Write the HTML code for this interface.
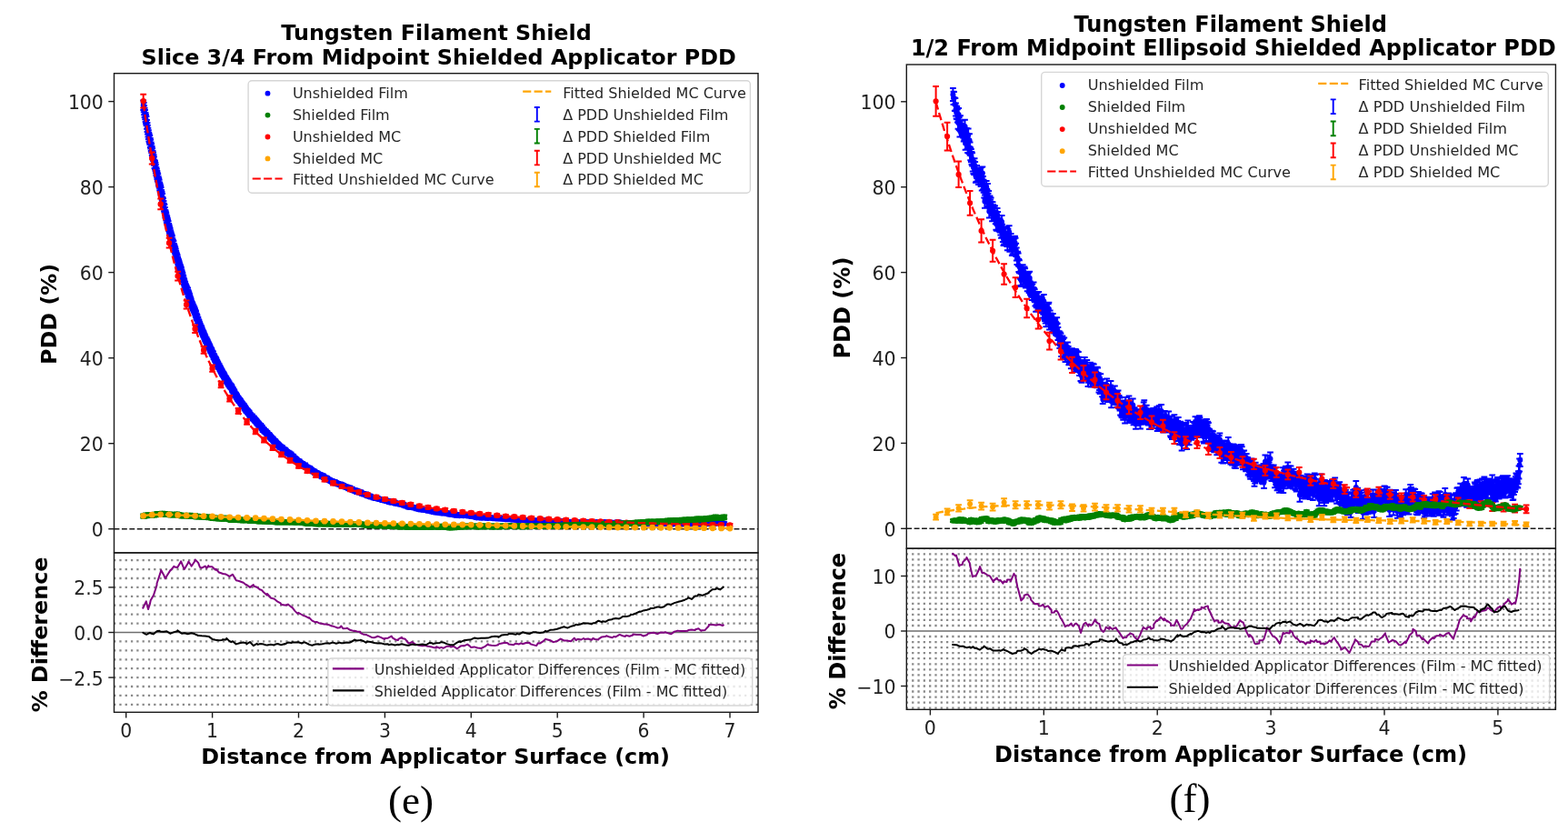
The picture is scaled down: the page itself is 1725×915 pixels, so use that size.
<!DOCTYPE html>
<html><head><meta charset="utf-8"><title>Tungsten Filament Shield PDD</title>
<style>html,body{margin:0;padding:0;background:#fff;}body{width:1725px;height:915px;overflow:hidden;}svg{display:block;}</style>
</head><body>
<svg width="1725" height="915" viewBox="0 0 1725 915">
<rect width="1725" height="915" fill="#fff"/>
<defs>
<clipPath id="cLm"><rect x="125.5" y="80.7" width="708.5" height="527.2"/></clipPath>
<clipPath id="cLl"><rect x="125.5" y="607.9" width="708.5" height="175.4"/></clipPath>
<clipPath id="cRm"><rect x="997.3" y="71.0" width="714.1" height="532.2"/></clipPath>
<clipPath id="cRl"><rect x="997.3" y="603.2" width="714.1" height="177.1"/></clipPath>
</defs>
<g clip-path="url(#cLl)">
<line x1="125.5" y1="784.8" x2="834.0" y2="784.8" stroke="#8a8a8a" stroke-width="2.3" stroke-dasharray="2.3 4.009" stroke-dashoffset="0.5"/>
<line x1="125.5" y1="774.9" x2="834.0" y2="774.9" stroke="#8a8a8a" stroke-width="2.3" stroke-dasharray="2.3 4.009" stroke-dashoffset="0.5"/>
<line x1="125.5" y1="764.9" x2="834.0" y2="764.9" stroke="#8a8a8a" stroke-width="2.3" stroke-dasharray="2.3 4.009" stroke-dashoffset="0.5"/>
<line x1="125.5" y1="755.0" x2="834.0" y2="755.0" stroke="#8a8a8a" stroke-width="2.3" stroke-dasharray="2.3 4.009" stroke-dashoffset="0.5"/>
<line x1="125.5" y1="745.1" x2="834.0" y2="745.1" stroke="#8a8a8a" stroke-width="2.3" stroke-dasharray="2.3 4.009" stroke-dashoffset="0.5"/>
<line x1="125.5" y1="735.2" x2="834.0" y2="735.2" stroke="#8a8a8a" stroke-width="2.3" stroke-dasharray="2.3 4.009" stroke-dashoffset="0.5"/>
<line x1="125.5" y1="725.3" x2="834.0" y2="725.3" stroke="#8a8a8a" stroke-width="2.3" stroke-dasharray="2.3 4.009" stroke-dashoffset="0.5"/>
<line x1="125.5" y1="715.3" x2="834.0" y2="715.3" stroke="#8a8a8a" stroke-width="2.3" stroke-dasharray="2.3 4.009" stroke-dashoffset="0.5"/>
<line x1="125.5" y1="705.4" x2="834.0" y2="705.4" stroke="#8a8a8a" stroke-width="2.3" stroke-dasharray="2.3 4.009" stroke-dashoffset="0.5"/>
<line x1="125.5" y1="685.6" x2="834.0" y2="685.6" stroke="#8a8a8a" stroke-width="2.3" stroke-dasharray="2.3 4.009" stroke-dashoffset="0.5"/>
<line x1="125.5" y1="675.7" x2="834.0" y2="675.7" stroke="#8a8a8a" stroke-width="2.3" stroke-dasharray="2.3 4.009" stroke-dashoffset="0.5"/>
<line x1="125.5" y1="665.7" x2="834.0" y2="665.7" stroke="#8a8a8a" stroke-width="2.3" stroke-dasharray="2.3 4.009" stroke-dashoffset="0.5"/>
<line x1="125.5" y1="655.8" x2="834.0" y2="655.8" stroke="#8a8a8a" stroke-width="2.3" stroke-dasharray="2.3 4.009" stroke-dashoffset="0.5"/>
<line x1="125.5" y1="645.9" x2="834.0" y2="645.9" stroke="#8a8a8a" stroke-width="2.3" stroke-dasharray="2.3 4.009" stroke-dashoffset="0.5"/>
<line x1="125.5" y1="636.0" x2="834.0" y2="636.0" stroke="#8a8a8a" stroke-width="2.3" stroke-dasharray="2.3 4.009" stroke-dashoffset="0.5"/>
<line x1="125.5" y1="626.1" x2="834.0" y2="626.1" stroke="#8a8a8a" stroke-width="2.3" stroke-dasharray="2.3 4.009" stroke-dashoffset="0.5"/>
<line x1="125.5" y1="616.1" x2="834.0" y2="616.1" stroke="#8a8a8a" stroke-width="2.3" stroke-dasharray="2.3 4.009" stroke-dashoffset="0.5"/>
<line x1="125.5" y1="606.2" x2="834.0" y2="606.2" stroke="#8a8a8a" stroke-width="2.3" stroke-dasharray="2.3 4.009" stroke-dashoffset="0.5"/>
<line x1="125.5" y1="695.5" x2="834.0" y2="695.5" stroke="#6e6e6e" stroke-width="1.6" />
<path d="M157.3 667.5 L157.3 668.7 L160.9 661.3 L161.1 662.6 L163.0 670.1 L164.9 664.2 L165.7 660.3 L168.7 654.9 L168.8 655.1 L172.5 643.6 L172.6 641.5 L176.3 630.4 L177.2 626.9 L180.1 632.2 L181.8 636.3 L183.9 632.8 L187.6 626.9 L187.7 627.3 L191.5 622.7 L191.8 623.4 L195.3 623.9 L196.0 622.7 L199.1 617.5 L199.1 617.3 L202.6 625.9 L202.9 625.9 L206.7 619.6 L207.4 617.5 L210.5 622.2 L210.6 622.7 L214.3 617.2 L214.7 615.4 L218.1 618.9 L220.0 623.8 L221.9 624.6 L225.7 622.6 L227.3 624.8 L229.3 622.1 L229.5 623.3 L233.3 623.3 L237.1 626.8 L237.7 625.9 L240.9 629.5 L244.7 630.7 L245.0 631.1 L248.5 631.6 L251.3 633.2 L252.2 634.2 L255.4 632.1 L256.0 631.7 L259.8 638.2 L260.7 638.4 L263.6 639.3 L266.9 640.5 L267.4 640.5 L271.1 643.6 L271.2 643.0 L275.0 645.9 L278.8 643.0 L279.4 644.7 L282.6 645.7 L286.4 648.6 L287.8 648.8 L290.2 651.5 L294.0 654.7 L294.0 653.0 L297.8 657.5 L300.3 658.2 L301.6 658.5 L305.4 661.7 L308.7 663.4 L309.2 664.7 L313.0 665.4 L314.9 665.5 L316.8 664.6 L320.6 667.7 L321.2 667.6 L324.4 671.9 L327.4 674.9 L328.2 673.8 L332.0 676.0 L333.7 677.0 L335.8 677.6 L339.6 679.6 L340.0 679.1 L343.4 682.6 L347.1 684.4 L348.3 683.9 L350.9 685.2 L354.7 686.0 L356.7 686.4 L358.5 686.5 L362.3 687.3 L365.0 688.5 L366.1 688.6 L369.9 689.9 L371.3 690.6 L373.7 690.3 L375.4 688.5 L377.5 691.3 L381.3 691.0 L381.7 690.6 L385.1 692.8 L388.9 693.9 L390.0 693.7 L392.7 694.4 L396.3 694.7 L396.5 696.1 L400.3 697.8 L402.6 697.9 L404.1 698.7 L407.9 700.4 L408.8 701.0 L411.7 701.2 L415.1 700.0 L415.5 699.6 L419.3 701.2 L423.1 703.0 L423.4 702.0 L426.9 701.7 L430.7 699.6 L431.8 701.4 L434.5 703.2 L438.0 704.1 L438.3 702.9 L442.0 700.8 L442.2 702.0 L445.8 702.8 L449.6 707.5 L450.6 707.3 L453.4 706.0 L457.2 708.8 L458.9 709.3 L461.0 709.8 L464.8 710.2 L468.6 709.7 L469.3 710.4 L472.4 710.9 L475.0 711.4 L476.2 711.9 L479.8 712.5 L480.0 711.2 L483.8 712.7 L485.4 711.9 L487.6 712.8 L491.4 710.8 L495.2 710.8 L495.9 711.4 L499.0 710.7 L502.8 713.4 L504.2 712.5 L506.6 710.6 L510.4 709.9 L510.5 710.4 L514.2 708.6 L516.7 710.4 L518.0 711.9 L521.8 711.4 L525.1 712.5 L525.6 712.6 L529.4 713.0 L533.2 711.2 L536.9 708.4 L537.6 709.3 L540.7 709.8 L544.5 710.1 L548.0 709.3 L548.3 708.4 L552.1 707.5 L555.9 706.8 L558.5 707.3 L559.7 708.5 L563.5 709.0 L564.7 709.3 L567.3 707.7 L571.1 708.4 L573.1 707.3 L574.9 708.2 L578.7 707.0 L582.5 706.7 L583.5 708.3 L586.3 709.1 L590.1 710.1 L591.9 707.3 L593.9 707.6 L597.7 705.1 L600.2 702.7 L601.5 703.3 L605.3 704.2 L608.6 706.2 L609.1 706.1 L612.9 705.1 L616.7 702.6 L616.9 702.7 L620.5 704.5 L624.3 704.6 L625.3 704.8 L628.1 705.2 L631.8 701.6 L633.6 704.1 L635.6 702.8 L639.4 703.5 L642.0 702.0 L643.2 703.0 L647.0 702.5 L650.8 703.7 L652.4 702.0 L654.6 703.0 L658.4 703.4 L658.7 702.7 L662.2 700.4 L666.0 700.1 L667.0 699.3 L669.8 700.3 L673.6 701.2 L675.3 700.0 L677.4 700.4 L681.2 698.1 L681.6 697.9 L685.0 699.2 L687.9 700.0 L688.8 698.7 L692.6 699.8 L696.2 698.5 L696.4 697.4 L700.2 697.9 L704.0 697.9 L704.6 697.9 L707.8 699.5 L711.6 698.3 L712.9 696.8 L715.4 696.2 L719.2 695.7 L723.0 697.0 L723.3 697.2 L726.7 695.6 L730.5 695.8 L731.7 695.2 L734.3 696.1 L738.1 697.3 L739.0 696.8 L741.9 694.6 L745.7 693.6 L746.3 693.7 L749.5 693.9 L753.3 694.0 L756.7 693.7 L757.1 693.1 L760.9 692.6 L764.7 693.1 L765.1 692.2 L768.5 691.3 L771.3 693.7 L772.3 693.3 L775.5 693.1 L776.1 692.4 L779.7 688.5 L779.9 687.0 L783.7 687.0 L787.5 687.6 L788.0 687.4 L791.3 686.7 L795.1 688.0 L796.4 686.8" fill="none" stroke="#800080" stroke-width="2.0" stroke-linejoin="round" />
<path d="M157.3 696.2 L157.3 695.8 L161.1 697.8 L164.9 695.8 L166.7 696.8 L168.7 697.4 L172.5 694.2 L175.1 693.7 L176.3 694.4 L180.1 694.8 L183.4 694.3 L183.9 694.7 L187.6 696.8 L187.7 696.6 L191.5 695.1 L194.9 694.3 L195.3 693.3 L199.1 696.1 L200.1 696.8 L202.9 696.2 L206.7 697.2 L210.5 696.3 L212.7 696.8 L214.3 697.3 L218.1 699.0 L218.9 698.9 L221.9 699.3 L225.7 699.6 L229.3 700.0 L229.5 699.9 L233.3 702.6 L233.5 703.1 L237.1 703.8 L240.9 704.3 L244.0 704.1 L244.7 703.3 L248.5 703.5 L249.2 702.0 L252.2 704.9 L254.4 706.2 L256.0 705.2 L259.8 708.4 L263.6 707.3 L267.4 706.6 L271.1 707.3 L271.2 708.4 L275.0 706.0 L278.8 710.1 L282.6 707.8 L283.6 708.9 L286.4 708.0 L290.2 708.6 L292.0 709.3 L294.0 709.4 L297.8 708.7 L301.6 709.4 L302.4 708.7 L305.4 708.0 L309.2 709.2 L312.8 708.3 L313.0 708.5 L316.8 706.6 L320.6 707.1 L321.2 706.2 L324.4 706.6 L328.2 706.3 L332.0 707.5 L333.7 706.6 L335.8 706.6 L339.6 708.5 L340.0 708.9 L343.4 709.8 L347.1 708.5 L350.4 708.3 L350.9 708.8 L354.7 708.3 L358.5 707.4 L360.8 707.3 L362.3 707.8 L366.1 706.6 L369.9 707.8 L373.7 706.6 L375.4 707.3 L377.5 707.2 L381.3 706.4 L383.8 706.8 L385.1 706.5 L388.9 704.5 L390.0 703.5 L392.7 704.6 L396.3 704.1 L396.5 703.8 L400.3 705.2 L402.6 706.8 L404.1 705.4 L407.9 706.1 L411.7 706.9 L415.5 707.4 L417.2 707.3 L419.3 707.4 L423.1 708.5 L426.9 708.2 L427.6 709.3 L430.7 708.5 L434.5 709.5 L438.0 708.7 L438.3 709.2 L442.0 708.2 L445.8 709.3 L448.5 709.8 L449.6 709.8 L453.4 708.5 L457.2 709.3 L458.9 708.9 L461.0 708.9 L464.8 708.6 L468.6 709.3 L472.4 707.0 L475.3 707.3 L476.2 708.0 L480.0 707.2 L483.8 706.9 L485.4 706.2 L487.6 706.4 L491.4 708.1 L495.2 709.1 L495.9 709.3 L499.0 709.3 L502.8 706.6 L506.3 705.2 L506.6 706.2 L510.4 704.3 L514.2 703.7 L516.7 703.5 L518.0 703.4 L521.8 701.6 L525.6 702.3 L529.4 701.8 L533.2 701.8 L536.9 701.6 L537.6 701.4 L540.7 700.3 L544.5 699.7 L548.0 700.0 L548.3 700.8 L552.1 698.4 L555.9 698.0 L558.5 697.9 L559.7 697.1 L563.5 697.0 L567.3 697.8 L568.9 696.8 L571.1 697.6 L574.9 695.3 L578.7 696.3 L579.3 696.4 L582.5 697.0 L586.3 695.3 L589.8 695.2 L590.1 695.4 L593.9 695.9 L597.7 695.6 L600.2 693.7 L601.5 694.6 L605.3 692.8 L609.1 692.5 L610.7 692.2 L612.9 691.8 L616.7 690.5 L620.5 689.3 L621.1 689.5 L624.3 690.6 L628.1 688.9 L629.4 688.5 L631.8 688.1 L633.6 686.8 L635.6 687.3 L639.4 686.2 L642.0 685.3 L643.2 685.4 L647.0 685.5 L650.8 686.4 L652.4 685.3 L654.6 685.2 L658.4 682.7 L662.2 684.1 L662.8 683.3 L666.0 683.8 L669.8 681.7 L673.3 681.2 L673.6 680.7 L677.4 680.0 L681.2 680.4 L683.7 679.1 L685.0 678.0 L688.8 678.1 L692.6 677.2 L694.1 676.0 L696.4 675.7 L700.2 674.2 L704.0 672.5 L704.6 672.8 L707.8 671.4 L711.6 670.7 L715.0 669.7 L715.4 669.0 L719.2 668.8 L723.0 667.5 L725.4 667.6 L726.7 668.2 L730.5 667.2 L734.3 664.4 L735.9 664.5 L738.1 664.9 L741.9 663.1 L745.7 662.0 L746.3 661.8 L749.5 661.0 L753.3 659.7 L756.7 658.2 L757.1 657.2 L760.9 658.9 L764.7 655.5 L767.2 655.5 L768.5 653.7 L772.3 654.8 L773.4 654.7 L776.1 653.5 L779.7 652.0 L779.9 651.3 L783.7 648.2 L787.5 647.9 L788.0 646.7 L791.3 648.0 L792.2 648.4 L795.1 646.3 L796.4 645.1" fill="none" stroke="#000" stroke-width="2.0" stroke-linejoin="round" />
</g>
<g clip-path="url(#cLm)">
<line x1="125.5" y1="581.7" x2="834.0" y2="581.7" stroke="#1a1a1a" stroke-width="1.5" stroke-dasharray="5.9 2.52"/>
<path d="M157.7 110.6v10.3m-3.4 0h6.8m0 -10.3h-6.8M158.2 113.1v10.2m-3.4 0h6.8m0 -10.2h-6.8M158.6 116.0v10.2m-3.4 0h6.8m0 -10.2h-6.8M159.1 118.8v10.1m-3.4 0h6.8m0 -10.1h-6.8M159.6 121.1v10.1m-3.4 0h6.8m0 -10.1h-6.8M160.1 123.9v10.1m-3.4 0h6.8m0 -10.1h-6.8M160.5 125.9v10.0m-3.4 0h6.8m0 -10.0h-6.8M161.0 128.1v10.0m-3.4 0h6.8m0 -10.0h-6.8M161.5 131.9v9.9m-3.4 0h6.8m0 -9.9h-6.8M162.0 135.1v9.9m-3.4 0h6.8m0 -9.9h-6.8M162.4 137.7v9.8m-3.4 0h6.8m0 -9.8h-6.8M162.9 140.8v9.8m-3.4 0h6.8m0 -9.8h-6.8M163.4 143.2v9.8m-3.4 0h6.8m0 -9.8h-6.8M163.8 145.7v9.7m-3.4 0h6.8m0 -9.7h-6.8M164.3 147.5v9.7m-3.4 0h6.8m0 -9.7h-6.8M164.8 149.3v9.7m-3.4 0h6.8m0 -9.7h-6.8M165.3 152.1v9.6m-3.4 0h6.8m0 -9.6h-6.8M165.7 153.8v9.6m-3.4 0h6.8m0 -9.6h-6.8M166.2 156.6v9.5m-3.4 0h6.8m0 -9.5h-6.8M166.7 158.5v9.5m-3.4 0h6.8m0 -9.5h-6.8M167.2 160.9v9.5m-3.4 0h6.8m0 -9.5h-6.8M167.6 162.9v9.4m-3.4 0h6.8m0 -9.4h-6.8M168.1 165.8v9.4m-3.4 0h6.8m0 -9.4h-6.8M168.6 167.7v9.4m-3.4 0h6.8m0 -9.4h-6.8M169.1 170.2v9.3m-3.4 0h6.8m0 -9.3h-6.8M169.5 172.5v9.3m-3.4 0h6.8m0 -9.3h-6.8M170.0 175.7v9.2m-3.4 0h6.8m0 -9.2h-6.8M170.5 177.1v9.2m-3.4 0h6.8m0 -9.2h-6.8M171.0 179.1v9.2m-3.4 0h6.8m0 -9.2h-6.8M171.4 181.2v9.2m-3.4 0h6.8m0 -9.2h-6.8M171.9 184.0v9.1m-3.4 0h6.8m0 -9.1h-6.8M172.4 185.7v9.1m-3.4 0h6.8m0 -9.1h-6.8M172.9 188.0v9.0m-3.4 0h6.8m0 -9.0h-6.8M173.3 190.1v9.0m-3.4 0h6.8m0 -9.0h-6.8M173.8 191.5v9.0m-3.4 0h6.8m0 -9.0h-6.8M174.3 194.3v8.9m-3.4 0h6.8m0 -8.9h-6.8M174.8 196.1v8.9m-3.4 0h6.8m0 -8.9h-6.8M175.2 197.8v8.9m-3.4 0h6.8m0 -8.9h-6.8M175.7 200.4v8.9m-3.4 0h6.8m0 -8.9h-6.8M176.2 202.2v8.8m-3.4 0h6.8m0 -8.8h-6.8M176.7 204.1v8.8m-3.4 0h6.8m0 -8.8h-6.8M177.1 206.1v8.8m-3.4 0h6.8m0 -8.8h-6.8M177.6 209.0v8.7m-3.4 0h6.8m0 -8.7h-6.8M178.1 211.1v8.7m-3.4 0h6.8m0 -8.7h-6.8M178.6 213.1v8.6m-3.4 0h6.8m0 -8.6h-6.8M179.0 216.7v8.6m-3.4 0h6.8m0 -8.6h-6.8M179.5 218.2v8.6m-3.4 0h6.8m0 -8.6h-6.8M180.0 221.0v8.5m-3.4 0h6.8m0 -8.5h-6.8M180.5 223.7v8.5m-3.4 0h6.8m0 -8.5h-6.8M180.9 225.1v8.5m-3.4 0h6.8m0 -8.5h-6.8M181.4 228.0v8.4m-3.4 0h6.8m0 -8.4h-6.8M181.9 231.0v8.4m-3.4 0h6.8m0 -8.4h-6.8M182.4 232.4v8.3m-3.4 0h6.8m0 -8.3h-6.8M182.8 234.2v8.3m-3.4 0h6.8m0 -8.3h-6.8M183.3 236.4v8.3m-3.4 0h6.8m0 -8.3h-6.8M183.8 237.9v8.3m-3.4 0h6.8m0 -8.3h-6.8M184.3 240.1v8.2m-3.4 0h6.8m0 -8.2h-6.8M184.7 241.7v8.2m-3.4 0h6.8m0 -8.2h-6.8M185.2 243.2v8.2m-3.4 0h6.8m0 -8.2h-6.8M185.7 245.9v8.1m-3.4 0h6.8m0 -8.1h-6.8M186.2 247.4v8.1m-3.4 0h6.8m0 -8.1h-6.8M186.6 249.4v8.1m-3.4 0h6.8m0 -8.1h-6.8M187.1 251.0v8.0m-3.4 0h6.8m0 -8.0h-6.8M187.6 253.2v8.0m-3.4 0h6.8m0 -8.0h-6.8M188.0 254.8v8.0m-3.4 0h6.8m0 -8.0h-6.8M188.5 256.5v8.0m-3.4 0h6.8m0 -8.0h-6.8M189.0 257.9v7.9m-3.4 0h6.8m0 -7.9h-6.8M189.5 259.6v7.9m-3.4 0h6.8m0 -7.9h-6.8M189.9 262.3v7.9m-3.4 0h6.8m0 -7.9h-6.8M190.4 263.9v7.8m-3.4 0h6.8m0 -7.8h-6.8M190.9 265.1v7.8m-3.4 0h6.8m0 -7.8h-6.8M191.4 267.8v7.8m-3.4 0h6.8m0 -7.8h-6.8M191.8 268.9v7.8m-3.4 0h6.8m0 -7.8h-6.8M192.3 270.6v7.7m-3.4 0h6.8m0 -7.7h-6.8M192.8 271.8v7.7m-3.4 0h6.8m0 -7.7h-6.8M193.3 273.8v7.7m-3.4 0h6.8m0 -7.7h-6.8M193.7 275.9v7.7m-3.4 0h6.8m0 -7.7h-6.8M194.2 277.7v7.6m-3.4 0h6.8m0 -7.6h-6.8M194.7 279.3v7.6m-3.4 0h6.8m0 -7.6h-6.8M195.2 280.4v7.6m-3.4 0h6.8m0 -7.6h-6.8M195.6 282.8v7.5m-3.4 0h6.8m0 -7.5h-6.8M196.1 284.4v7.5m-3.4 0h6.8m0 -7.5h-6.8M196.6 285.6v7.5m-3.4 0h6.8m0 -7.5h-6.8M197.1 287.3v7.5m-3.4 0h6.8m0 -7.5h-6.8M197.5 288.8v7.4m-3.4 0h6.8m0 -7.4h-6.8M198.0 290.6v7.4m-3.4 0h6.8m0 -7.4h-6.8M198.5 291.6v7.4m-3.4 0h6.8m0 -7.4h-6.8M199.0 293.2v7.4m-3.4 0h6.8m0 -7.4h-6.8M199.4 294.3v7.4m-3.4 0h6.8m0 -7.4h-6.8M199.9 296.4v7.3m-3.4 0h6.8m0 -7.3h-6.8M200.4 298.5v7.3m-3.4 0h6.8m0 -7.3h-6.8M200.9 300.0v7.3m-3.4 0h6.8m0 -7.3h-6.8M201.3 302.2v7.2m-3.4 0h6.8m0 -7.2h-6.8M201.8 303.5v7.2m-3.4 0h6.8m0 -7.2h-6.8M202.3 305.7v7.2m-3.4 0h6.8m0 -7.2h-6.8M202.8 307.2v7.2m-3.4 0h6.8m0 -7.2h-6.8M203.2 309.2v7.1m-3.4 0h6.8m0 -7.1h-6.8M203.7 309.9v7.1m-3.4 0h6.8m0 -7.1h-6.8M204.2 311.9v7.1m-3.4 0h6.8m0 -7.1h-6.8M204.7 313.3v7.1m-3.4 0h6.8m0 -7.1h-6.8M205.1 313.9v7.0m-3.4 0h6.8m0 -7.0h-6.8M205.6 315.4v7.0m-3.4 0h6.8m0 -7.0h-6.8M206.1 316.3v7.0m-3.4 0h6.8m0 -7.0h-6.8M206.6 316.7v7.0m-3.4 0h6.8m0 -7.0h-6.8M207.0 319.1v7.0m-3.4 0h6.8m0 -7.0h-6.8M207.5 320.3v6.9m-3.4 0h6.8m0 -6.9h-6.8M208.0 321.6v6.9m-3.4 0h6.8m0 -6.9h-6.8M208.5 323.0v6.9m-3.4 0h6.8m0 -6.9h-6.8M208.9 324.8v6.9m-3.4 0h6.8m0 -6.9h-6.8M209.4 326.4v6.9m-3.4 0h6.8m0 -6.9h-6.8M209.9 327.6v6.8m-3.4 0h6.8m0 -6.8h-6.8M210.3 329.2v6.8m-3.4 0h6.8m0 -6.8h-6.8M210.8 331.1v6.8m-3.4 0h6.8m0 -6.8h-6.8M211.3 331.9v6.8m-3.4 0h6.8m0 -6.8h-6.8M211.8 333.0v6.7m-3.4 0h6.8m0 -6.7h-6.8M212.2 334.5v6.7m-3.4 0h6.8m0 -6.7h-6.8M212.7 335.1v6.7m-3.4 0h6.8m0 -6.7h-6.8M213.2 336.6v6.7m-3.4 0h6.8m0 -6.7h-6.8M213.7 337.0v6.7m-3.4 0h6.8m0 -6.7h-6.8M214.1 338.4v6.7m-3.4 0h6.8m0 -6.7h-6.8M214.6 339.5v6.6m-3.4 0h6.8m0 -6.6h-6.8M215.1 341.1v6.6m-3.4 0h6.8m0 -6.6h-6.8M215.6 342.3v6.6m-3.4 0h6.8m0 -6.6h-6.8M216.0 344.5v6.6m-3.4 0h6.8m0 -6.6h-6.8M216.5 345.5v6.5m-3.4 0h6.8m0 -6.5h-6.8M217.0 346.4v6.5m-3.4 0h6.8m0 -6.5h-6.8M217.5 348.7v6.5m-3.4 0h6.8m0 -6.5h-6.8M217.9 349.0v6.5m-3.4 0h6.8m0 -6.5h-6.8M218.4 351.3v6.5m-3.4 0h6.8m0 -6.5h-6.8M218.9 351.7v6.4m-3.4 0h6.8m0 -6.4h-6.8M219.4 353.7v6.4m-3.4 0h6.8m0 -6.4h-6.8M219.8 354.4v6.4m-3.4 0h6.8m0 -6.4h-6.8M220.3 355.9v6.4m-3.4 0h6.8m0 -6.4h-6.8M220.8 357.7v6.4m-3.4 0h6.8m0 -6.4h-6.8M221.3 357.8v6.4m-3.4 0h6.8m0 -6.4h-6.8M221.7 358.9v6.3m-3.4 0h6.8m0 -6.3h-6.8M222.2 360.6v6.3m-3.4 0h6.8m0 -6.3h-6.8M222.7 361.8v6.3m-3.4 0h6.8m0 -6.3h-6.8M223.2 362.9v6.3m-3.4 0h6.8m0 -6.3h-6.8M223.6 364.3v6.2m-3.4 0h6.8m0 -6.2h-6.8M224.1 364.6v6.2m-3.4 0h6.8m0 -6.2h-6.8M224.6 366.4v6.2m-3.4 0h6.8m0 -6.2h-6.8M225.1 367.3v6.2m-3.4 0h6.8m0 -6.2h-6.8M225.5 368.6v6.2m-3.4 0h6.8m0 -6.2h-6.8M226.0 369.6v6.2m-3.4 0h6.8m0 -6.2h-6.8M226.5 371.0v6.1m-3.4 0h6.8m0 -6.1h-6.8M227.0 371.1v6.1m-3.4 0h6.8m0 -6.1h-6.8M227.4 372.6v6.1m-3.4 0h6.8m0 -6.1h-6.8M227.9 373.1v6.1m-3.4 0h6.8m0 -6.1h-6.8M228.4 374.3v6.1m-3.4 0h6.8m0 -6.1h-6.8M228.9 375.5v6.1m-3.4 0h6.8m0 -6.1h-6.8M229.3 376.2v6.1m-3.4 0h6.8m0 -6.1h-6.8M229.8 377.3v6.0m-3.4 0h6.8m0 -6.0h-6.8M230.3 378.2v6.0m-3.4 0h6.8m0 -6.0h-6.8M230.8 379.3v6.0m-3.4 0h6.8m0 -6.0h-6.8M231.2 380.4v6.0m-3.4 0h6.8m0 -6.0h-6.8M231.7 381.8v6.0m-3.4 0h6.8m0 -6.0h-6.8M232.2 382.6v6.0m-3.4 0h6.8m0 -6.0h-6.8M232.7 382.7v6.0m-3.4 0h6.8m0 -6.0h-6.8M233.1 384.6v5.9m-3.4 0h6.8m0 -5.9h-6.8M233.6 385.7v5.9m-3.4 0h6.8m0 -5.9h-6.8M234.1 386.2v5.9m-3.4 0h6.8m0 -5.9h-6.8M234.5 386.8v5.9m-3.4 0h6.8m0 -5.9h-6.8M235.0 388.9v5.9m-3.4 0h6.8m0 -5.9h-6.8M235.5 389.4v5.9m-3.4 0h6.8m0 -5.9h-6.8M236.0 390.5v5.8m-3.4 0h6.8m0 -5.8h-6.8M236.4 391.9v5.8m-3.4 0h6.8m0 -5.8h-6.8M236.9 391.9v5.8m-3.4 0h6.8m0 -5.8h-6.8M237.4 393.1v5.8m-3.4 0h6.8m0 -5.8h-6.8M237.9 394.1v5.8m-3.4 0h6.8m0 -5.8h-6.8M238.3 395.4v5.8m-3.4 0h6.8m0 -5.8h-6.8M238.8 395.9v5.7m-3.4 0h6.8m0 -5.7h-6.8M239.3 397.2v5.7m-3.4 0h6.8m0 -5.7h-6.8M239.8 398.0v5.7m-3.4 0h6.8m0 -5.7h-6.8M240.2 399.3v5.7m-3.4 0h6.8m0 -5.7h-6.8M240.7 400.3v5.7m-3.4 0h6.8m0 -5.7h-6.8M241.2 400.3v5.7m-3.4 0h6.8m0 -5.7h-6.8M241.7 401.9v5.7m-3.4 0h6.8m0 -5.7h-6.8M242.1 402.5v5.6m-3.4 0h6.8m0 -5.6h-6.8M242.6 403.6v5.6m-3.4 0h6.8m0 -5.6h-6.8M243.1 404.6v5.6m-3.4 0h6.8m0 -5.6h-6.8M243.6 405.6v5.6m-3.4 0h6.8m0 -5.6h-6.8M244.0 406.0v5.6m-3.4 0h6.8m0 -5.6h-6.8M244.5 407.3v5.6m-3.4 0h6.8m0 -5.6h-6.8M245.0 408.1v5.6m-3.4 0h6.8m0 -5.6h-6.8M245.5 408.9v5.5m-3.4 0h6.8m0 -5.5h-6.8M245.9 409.3v5.5m-3.4 0h6.8m0 -5.5h-6.8M246.4 410.3v5.5m-3.4 0h6.8m0 -5.5h-6.8M246.9 411.3v5.5m-3.4 0h6.8m0 -5.5h-6.8M247.4 412.5v5.5m-3.4 0h6.8m0 -5.5h-6.8M247.8 413.6v5.5m-3.4 0h6.8m0 -5.5h-6.8M248.3 413.5v5.5m-3.4 0h6.8m0 -5.5h-6.8M248.8 414.3v5.5m-3.4 0h6.8m0 -5.5h-6.8M249.3 415.5v5.4m-3.4 0h6.8m0 -5.4h-6.8M249.7 416.1v5.4m-3.4 0h6.8m0 -5.4h-6.8M250.2 416.8v5.4m-3.4 0h6.8m0 -5.4h-6.8M250.7 417.5v5.4m-3.4 0h6.8m0 -5.4h-6.8M251.2 418.3v5.4m-3.4 0h6.8m0 -5.4h-6.8M251.6 419.5v5.4m-3.4 0h6.8m0 -5.4h-6.8M252.1 419.5v5.4m-3.4 0h6.8m0 -5.4h-6.8M252.6 421.3v5.3m-3.4 0h6.8m0 -5.3h-6.8M253.1 421.2v5.3m-3.4 0h6.8m0 -5.3h-6.8M253.5 422.0v5.3m-3.4 0h6.8m0 -5.3h-6.8M254.0 422.5v5.3m-3.4 0h6.8m0 -5.3h-6.8M254.5 422.8v5.3m-3.4 0h6.8m0 -5.3h-6.8M255.0 423.7v5.3m-3.4 0h6.8m0 -5.3h-6.8M255.4 425.3v5.3m-3.4 0h6.8m0 -5.3h-6.8M255.9 426.4v5.3m-3.4 0h6.8m0 -5.3h-6.8M256.4 426.3v5.3m-3.4 0h6.8m0 -5.3h-6.8M256.9 427.8v5.2m-3.4 0h6.8m0 -5.2h-6.8M257.3 428.2v5.2m-3.4 0h6.8m0 -5.2h-6.8M257.8 428.7v5.2m-3.4 0h6.8m0 -5.2h-6.8M258.3 430.5v5.2m-3.4 0h6.8m0 -5.2h-6.8M258.7 431.5v5.2m-3.4 0h6.8m0 -5.2h-6.8M259.2 431.4v5.2m-3.4 0h6.8m0 -5.2h-6.8M259.7 432.2v5.2m-3.4 0h6.8m0 -5.2h-6.8M260.2 433.2v5.2m-3.4 0h6.8m0 -5.2h-6.8M260.6 433.8v5.1m-3.4 0h6.8m0 -5.1h-6.8M261.1 434.9v5.1m-3.4 0h6.8m0 -5.1h-6.8M261.6 435.8v5.1m-3.4 0h6.8m0 -5.1h-6.8M262.1 436.0v5.1m-3.4 0h6.8m0 -5.1h-6.8M262.5 437.0v5.1m-3.4 0h6.8m0 -5.1h-6.8M263.0 437.9v5.1m-3.4 0h6.8m0 -5.1h-6.8M263.5 437.7v5.1m-3.4 0h6.8m0 -5.1h-6.8M264.0 438.6v5.1m-3.4 0h6.8m0 -5.1h-6.8M264.4 439.1v5.1m-3.4 0h6.8m0 -5.1h-6.8M264.9 440.3v5.0m-3.4 0h6.8m0 -5.0h-6.8M265.4 440.8v5.0m-3.4 0h6.8m0 -5.0h-6.8M265.9 441.6v5.0m-3.4 0h6.8m0 -5.0h-6.8M266.3 442.2v5.0m-3.4 0h6.8m0 -5.0h-6.8M266.8 442.4v5.0m-3.4 0h6.8m0 -5.0h-6.8M267.3 443.5v5.0m-3.4 0h6.8m0 -5.0h-6.8M267.8 443.7v5.0m-3.4 0h6.8m0 -5.0h-6.8M268.2 444.4v5.0m-3.4 0h6.8m0 -5.0h-6.8M268.7 444.5v5.0m-3.4 0h6.8m0 -5.0h-6.8M269.2 446.4v4.9m-3.4 0h6.8m0 -4.9h-6.8M269.7 446.2v4.9m-3.4 0h6.8m0 -4.9h-6.8M270.1 447.3v4.9m-3.4 0h6.8m0 -4.9h-6.8M270.6 447.9v4.9m-3.4 0h6.8m0 -4.9h-6.8M271.1 449.1v4.9m-3.4 0h6.8m0 -4.9h-6.8M271.6 449.3v4.9m-3.4 0h6.8m0 -4.9h-6.8M272.0 449.4v4.9m-3.4 0h6.8m0 -4.9h-6.8M272.5 450.3v4.9m-3.4 0h6.8m0 -4.9h-6.8M273.0 450.8v4.9m-3.4 0h6.8m0 -4.9h-6.8M273.5 451.5v4.9m-3.4 0h6.8m0 -4.9h-6.8M273.9 451.6v4.9m-3.4 0h6.8m0 -4.9h-6.8M274.4 452.6v4.8m-3.4 0h6.8m0 -4.8h-6.8M274.9 454.0v4.8m-3.4 0h6.8m0 -4.8h-6.8M275.4 453.9v4.8m-3.4 0h6.8m0 -4.8h-6.8M275.8 455.0v4.8m-3.4 0h6.8m0 -4.8h-6.8M276.3 456.0v4.8m-3.4 0h6.8m0 -4.8h-6.8M276.8 455.5v4.8m-3.4 0h6.8m0 -4.8h-6.8M277.3 455.4v4.8m-3.4 0h6.8m0 -4.8h-6.8M277.7 456.4v4.8m-3.4 0h6.8m0 -4.8h-6.8M278.2 457.4v4.8m-3.4 0h6.8m0 -4.8h-6.8M278.7 457.8v4.8m-3.4 0h6.8m0 -4.8h-6.8M279.2 457.6v4.8m-3.4 0h6.8m0 -4.8h-6.8M279.6 458.5v4.8m-3.4 0h6.8m0 -4.8h-6.8M280.1 459.1v4.7m-3.4 0h6.8m0 -4.7h-6.8M280.6 459.7v4.7m-3.4 0h6.8m0 -4.7h-6.8M281.1 460.2v4.7m-3.4 0h6.8m0 -4.7h-6.8M281.5 460.5v4.7m-3.4 0h6.8m0 -4.7h-6.8M282.0 461.2v4.7m-3.4 0h6.8m0 -4.7h-6.8M282.5 461.8v4.7m-3.4 0h6.8m0 -4.7h-6.8M282.9 462.9v4.7m-3.4 0h6.8m0 -4.7h-6.8M283.4 462.8v4.7m-3.4 0h6.8m0 -4.7h-6.8M283.9 463.8v4.7m-3.4 0h6.8m0 -4.7h-6.8M284.4 463.7v4.7m-3.4 0h6.8m0 -4.7h-6.8M284.8 465.1v4.6m-3.4 0h6.8m0 -4.6h-6.8M285.3 465.2v4.6m-3.4 0h6.8m0 -4.6h-6.8M285.8 465.7v4.6m-3.4 0h6.8m0 -4.6h-6.8M286.3 466.7v4.6m-3.4 0h6.8m0 -4.6h-6.8M286.7 466.1v4.6m-3.4 0h6.8m0 -4.6h-6.8M287.2 466.7v4.6m-3.4 0h6.8m0 -4.6h-6.8M287.7 468.0v4.6m-3.4 0h6.8m0 -4.6h-6.8M288.2 468.1v4.6m-3.4 0h6.8m0 -4.6h-6.8M288.6 468.7v4.6m-3.4 0h6.8m0 -4.6h-6.8M289.1 470.4v4.6m-3.4 0h6.8m0 -4.6h-6.8M289.6 469.9v4.6m-3.4 0h6.8m0 -4.6h-6.8M290.1 470.5v4.6m-3.4 0h6.8m0 -4.6h-6.8M290.5 471.0v4.6m-3.4 0h6.8m0 -4.6h-6.8M291.0 471.9v4.5m-3.4 0h6.8m0 -4.5h-6.8M291.5 472.1v4.5m-3.4 0h6.8m0 -4.5h-6.8M292.0 472.6v4.5m-3.4 0h6.8m0 -4.5h-6.8M292.4 472.6v4.5m-3.4 0h6.8m0 -4.5h-6.8M292.9 473.5v4.5m-3.4 0h6.8m0 -4.5h-6.8M293.4 474.1v4.5m-3.4 0h6.8m0 -4.5h-6.8M293.9 474.0v4.5m-3.4 0h6.8m0 -4.5h-6.8M294.3 475.3v4.5m-3.4 0h6.8m0 -4.5h-6.8M294.8 475.8v4.5m-3.4 0h6.8m0 -4.5h-6.8M295.3 476.8v4.5m-3.4 0h6.8m0 -4.5h-6.8M295.8 476.1v4.5m-3.4 0h6.8m0 -4.5h-6.8M296.2 476.8v4.5m-3.4 0h6.8m0 -4.5h-6.8M296.7 477.3v4.5m-3.4 0h6.8m0 -4.5h-6.8M297.2 477.9v4.4m-3.4 0h6.8m0 -4.4h-6.8M297.7 478.7v4.4m-3.4 0h6.8m0 -4.4h-6.8M298.1 479.1v4.4m-3.4 0h6.8m0 -4.4h-6.8M298.6 479.8v4.4m-3.4 0h6.8m0 -4.4h-6.8M299.1 480.3v4.4m-3.4 0h6.8m0 -4.4h-6.8M299.6 480.7v4.4m-3.4 0h6.8m0 -4.4h-6.8M300.0 480.6v4.4m-3.4 0h6.8m0 -4.4h-6.8M300.5 481.5v4.4m-3.4 0h6.8m0 -4.4h-6.8M301.0 482.2v4.4m-3.4 0h6.8m0 -4.4h-6.8M301.5 482.8v4.4m-3.4 0h6.8m0 -4.4h-6.8M301.9 483.3v4.4m-3.4 0h6.8m0 -4.4h-6.8M302.4 482.9v4.4m-3.4 0h6.8m0 -4.4h-6.8M302.9 483.8v4.4m-3.4 0h6.8m0 -4.4h-6.8M303.4 484.4v4.3m-3.4 0h6.8m0 -4.3h-6.8M303.8 485.0v4.3m-3.4 0h6.8m0 -4.3h-6.8M304.3 485.8v4.3m-3.4 0h6.8m0 -4.3h-6.8M304.8 485.8v4.3m-3.4 0h6.8m0 -4.3h-6.8M305.2 485.9v4.3m-3.4 0h6.8m0 -4.3h-6.8M305.7 486.9v4.3m-3.4 0h6.8m0 -4.3h-6.8M306.2 487.2v4.3m-3.4 0h6.8m0 -4.3h-6.8M306.7 487.7v4.3m-3.4 0h6.8m0 -4.3h-6.8M307.1 488.0v4.3m-3.4 0h6.8m0 -4.3h-6.8M307.6 489.1v4.3m-3.4 0h6.8m0 -4.3h-6.8M308.1 489.0v4.3m-3.4 0h6.8m0 -4.3h-6.8M308.6 489.7v4.3m-3.4 0h6.8m0 -4.3h-6.8M309.0 489.4v4.3m-3.4 0h6.8m0 -4.3h-6.8M309.5 490.4v4.2m-3.4 0h6.8m0 -4.2h-6.8M310.0 490.3v4.2m-3.4 0h6.8m0 -4.2h-6.8M310.5 490.3v4.2m-3.4 0h6.8m0 -4.2h-6.8M310.9 491.4v4.2m-3.4 0h6.8m0 -4.2h-6.8M311.4 491.9v4.2m-3.4 0h6.8m0 -4.2h-6.8M311.9 492.0v4.2m-3.4 0h6.8m0 -4.2h-6.8M312.4 492.5v4.2m-3.4 0h6.8m0 -4.2h-6.8M312.8 493.2v4.2m-3.4 0h6.8m0 -4.2h-6.8M313.3 493.1v4.2m-3.4 0h6.8m0 -4.2h-6.8M313.8 492.8v4.2m-3.4 0h6.8m0 -4.2h-6.8M314.3 494.1v4.2m-3.4 0h6.8m0 -4.2h-6.8M314.7 494.4v4.2m-3.4 0h6.8m0 -4.2h-6.8M315.2 495.1v4.2m-3.4 0h6.8m0 -4.2h-6.8M315.7 495.0v4.2m-3.4 0h6.8m0 -4.2h-6.8M316.2 495.9v4.2m-3.4 0h6.8m0 -4.2h-6.8M316.6 496.3v4.2m-3.4 0h6.8m0 -4.2h-6.8M317.1 495.7v4.2m-3.4 0h6.8m0 -4.2h-6.8M317.6 496.9v4.1m-3.4 0h6.8m0 -4.1h-6.8M318.1 496.5v4.2m-3.4 0h6.8m0 -4.2h-6.8M318.5 496.7v4.1m-3.4 0h6.8m0 -4.1h-6.8M319.0 497.6v4.1m-3.4 0h6.8m0 -4.1h-6.8M319.5 497.8v4.1m-3.4 0h6.8m0 -4.1h-6.8M320.0 497.6v4.1m-3.4 0h6.8m0 -4.1h-6.8M320.4 498.8v4.1m-3.4 0h6.8m0 -4.1h-6.8M320.9 499.3v4.1m-3.4 0h6.8m0 -4.1h-6.8M321.4 500.0v4.1m-3.4 0h6.8m0 -4.1h-6.8M321.9 499.9v4.1m-3.4 0h6.8m0 -4.1h-6.8M322.3 499.8v4.1m-3.4 0h6.8m0 -4.1h-6.8M322.8 500.4v4.1m-3.4 0h6.8m0 -4.1h-6.8M323.3 501.6v4.1m-3.4 0h6.8m0 -4.1h-6.8M323.8 502.0v4.1m-3.4 0h6.8m0 -4.1h-6.8M324.2 502.3v4.1m-3.4 0h6.8m0 -4.1h-6.8M324.7 502.4v4.1m-3.4 0h6.8m0 -4.1h-6.8M325.2 503.0v4.0m-3.4 0h6.8m0 -4.0h-6.8M325.7 503.3v4.0m-3.4 0h6.8m0 -4.0h-6.8M326.1 503.7v4.0m-3.4 0h6.8m0 -4.0h-6.8M326.6 504.4v4.0m-3.4 0h6.8m0 -4.0h-6.8M327.1 504.7v4.0m-3.4 0h6.8m0 -4.0h-6.8M327.6 505.0v4.0m-3.4 0h6.8m0 -4.0h-6.8M328.0 505.4v4.0m-3.4 0h6.8m0 -4.0h-6.8M328.5 505.5v4.0m-3.4 0h6.8m0 -4.0h-6.8M329.0 505.3v4.0m-3.4 0h6.8m0 -4.0h-6.8M329.4 506.2v4.0m-3.4 0h6.8m0 -4.0h-6.8M329.9 506.7v4.0m-3.4 0h6.8m0 -4.0h-6.8M330.4 507.7v4.0m-3.4 0h6.8m0 -4.0h-6.8M330.9 507.2v4.0m-3.4 0h6.8m0 -4.0h-6.8M331.3 508.4v4.0m-3.4 0h6.8m0 -4.0h-6.8M331.8 508.5v4.0m-3.4 0h6.8m0 -4.0h-6.8M332.3 508.0v4.0m-3.4 0h6.8m0 -4.0h-6.8M332.8 508.3v4.0m-3.4 0h6.8m0 -4.0h-6.8M333.2 509.0v4.0m-3.4 0h6.8m0 -4.0h-6.8M333.7 509.9v3.9m-3.4 0h6.8m0 -3.9h-6.8M334.2 509.7v3.9m-3.4 0h6.8m0 -3.9h-6.8M334.7 510.1v3.9m-3.4 0h6.8m0 -3.9h-6.8M335.1 509.9v3.9m-3.4 0h6.8m0 -3.9h-6.8M335.6 509.6v3.9m-3.4 0h6.8m0 -3.9h-6.8M336.1 510.7v3.9m-3.4 0h6.8m0 -3.9h-6.8M336.6 511.4v3.9m-3.4 0h6.8m0 -3.9h-6.8M337.0 511.8v3.9m-3.4 0h6.8m0 -3.9h-6.8M337.5 511.7v3.9m-3.4 0h6.8m0 -3.9h-6.8M338.0 512.0v3.9m-3.4 0h6.8m0 -3.9h-6.8M338.5 512.7v3.9m-3.4 0h6.8m0 -3.9h-6.8M338.9 512.5v3.9m-3.4 0h6.8m0 -3.9h-6.8M339.4 513.3v3.9m-3.4 0h6.8m0 -3.9h-6.8M339.9 512.7v3.9m-3.4 0h6.8m0 -3.9h-6.8M340.4 513.0v3.9m-3.4 0h6.8m0 -3.9h-6.8M340.8 513.4v3.9m-3.4 0h6.8m0 -3.9h-6.8M341.3 514.3v3.9m-3.4 0h6.8m0 -3.9h-6.8M341.8 514.2v3.9m-3.4 0h6.8m0 -3.9h-6.8M342.3 514.8v3.9m-3.4 0h6.8m0 -3.9h-6.8M342.7 515.2v3.9m-3.4 0h6.8m0 -3.9h-6.8M343.2 515.5v3.8m-3.4 0h6.8m0 -3.8h-6.8M343.7 516.1v3.8m-3.4 0h6.8m0 -3.8h-6.8M344.2 516.5v3.8m-3.4 0h6.8m0 -3.8h-6.8M344.6 516.0v3.8m-3.4 0h6.8m0 -3.8h-6.8M345.1 516.6v3.8m-3.4 0h6.8m0 -3.8h-6.8M345.6 516.8v3.8m-3.4 0h6.8m0 -3.8h-6.8M346.1 516.8v3.8m-3.4 0h6.8m0 -3.8h-6.8M346.5 518.1v3.8m-3.4 0h6.8m0 -3.8h-6.8M347.0 518.1v3.8m-3.4 0h6.8m0 -3.8h-6.8M347.5 518.0v3.8m-3.4 0h6.8m0 -3.8h-6.8M348.0 518.2v3.8m-3.4 0h6.8m0 -3.8h-6.8M348.4 518.8v3.8m-3.4 0h6.8m0 -3.8h-6.8M348.9 518.5v3.8m-3.4 0h6.8m0 -3.8h-6.8M349.4 519.1v3.8m-3.4 0h6.8m0 -3.8h-6.8M349.9 519.9v3.8m-3.4 0h6.8m0 -3.8h-6.8M350.3 520.1v3.8m-3.4 0h6.8m0 -3.8h-6.8M350.8 519.7v3.8m-3.4 0h6.8m0 -3.8h-6.8M351.3 520.1v3.8m-3.4 0h6.8m0 -3.8h-6.8M351.8 521.2v3.8m-3.4 0h6.8m0 -3.8h-6.8M352.2 520.3v3.8m-3.4 0h6.8m0 -3.8h-6.8M352.7 520.8v3.8m-3.4 0h6.8m0 -3.8h-6.8M353.2 520.8v3.8m-3.4 0h6.8m0 -3.8h-6.8M353.6 521.7v3.8m-3.4 0h6.8m0 -3.8h-6.8M354.1 521.9v3.7m-3.4 0h6.8m0 -3.7h-6.8M354.6 522.5v3.7m-3.4 0h6.8m0 -3.7h-6.8M355.1 521.3v3.8m-3.4 0h6.8m0 -3.8h-6.8M355.5 522.6v3.7m-3.4 0h6.8m0 -3.7h-6.8M356.0 522.2v3.7m-3.4 0h6.8m0 -3.7h-6.8M356.5 523.3v3.7m-3.4 0h6.8m0 -3.7h-6.8M357.0 523.2v3.7m-3.4 0h6.8m0 -3.7h-6.8M357.4 524.2v3.7m-3.4 0h6.8m0 -3.7h-6.8M357.9 523.9v3.7m-3.4 0h6.8m0 -3.7h-6.8M358.4 523.6v3.7m-3.4 0h6.8m0 -3.7h-6.8M358.9 524.7v3.7m-3.4 0h6.8m0 -3.7h-6.8M359.3 524.1v3.7m-3.4 0h6.8m0 -3.7h-6.8M359.8 524.6v3.7m-3.4 0h6.8m0 -3.7h-6.8M360.3 525.3v3.7m-3.4 0h6.8m0 -3.7h-6.8M360.8 525.4v3.7m-3.4 0h6.8m0 -3.7h-6.8M361.2 525.6v3.7m-3.4 0h6.8m0 -3.7h-6.8M361.7 525.7v3.7m-3.4 0h6.8m0 -3.7h-6.8M362.2 526.1v3.7m-3.4 0h6.8m0 -3.7h-6.8M362.7 526.4v3.7m-3.4 0h6.8m0 -3.7h-6.8M363.1 526.4v3.7m-3.4 0h6.8m0 -3.7h-6.8M363.6 526.9v3.7m-3.4 0h6.8m0 -3.7h-6.8M364.1 527.3v3.7m-3.4 0h6.8m0 -3.7h-6.8M364.6 527.0v3.7m-3.4 0h6.8m0 -3.7h-6.8M365.0 526.9v3.7m-3.4 0h6.8m0 -3.7h-6.8M365.5 528.0v3.7m-3.4 0h6.8m0 -3.7h-6.8M366.0 527.7v3.7m-3.4 0h6.8m0 -3.7h-6.8M366.5 528.2v3.6m-3.4 0h6.8m0 -3.6h-6.8M366.9 528.5v3.6m-3.4 0h6.8m0 -3.6h-6.8M367.4 528.1v3.6m-3.4 0h6.8m0 -3.6h-6.8M367.9 528.8v3.6m-3.4 0h6.8m0 -3.6h-6.8M368.4 528.3v3.6m-3.4 0h6.8m0 -3.6h-6.8M368.8 529.4v3.6m-3.4 0h6.8m0 -3.6h-6.8M369.3 529.1v3.6m-3.4 0h6.8m0 -3.6h-6.8M369.8 529.6v3.6m-3.4 0h6.8m0 -3.6h-6.8M370.3 530.0v3.6m-3.4 0h6.8m0 -3.6h-6.8M370.7 529.7v3.6m-3.4 0h6.8m0 -3.6h-6.8M371.2 530.2v3.6m-3.4 0h6.8m0 -3.6h-6.8M371.7 530.1v3.6m-3.4 0h6.8m0 -3.6h-6.8M372.2 530.5v3.6m-3.4 0h6.8m0 -3.6h-6.8M372.6 531.0v3.6m-3.4 0h6.8m0 -3.6h-6.8M373.1 530.7v3.6m-3.4 0h6.8m0 -3.6h-6.8M373.6 530.8v3.6m-3.4 0h6.8m0 -3.6h-6.8M374.1 530.6v3.6m-3.4 0h6.8m0 -3.6h-6.8M374.5 531.4v3.6m-3.4 0h6.8m0 -3.6h-6.8M375.0 531.2v3.6m-3.4 0h6.8m0 -3.6h-6.8M375.5 532.0v3.6m-3.4 0h6.8m0 -3.6h-6.8M376.0 531.3v3.6m-3.4 0h6.8m0 -3.6h-6.8M376.4 532.1v3.6m-3.4 0h6.8m0 -3.6h-6.8M376.9 532.6v3.6m-3.4 0h6.8m0 -3.6h-6.8M377.4 532.2v3.6m-3.4 0h6.8m0 -3.6h-6.8M377.8 531.9v3.6m-3.4 0h6.8m0 -3.6h-6.8M378.3 533.1v3.6m-3.4 0h6.8m0 -3.6h-6.8M378.8 533.2v3.6m-3.4 0h6.8m0 -3.6h-6.8M379.3 533.3v3.6m-3.4 0h6.8m0 -3.6h-6.8M379.7 533.6v3.6m-3.4 0h6.8m0 -3.6h-6.8M380.2 533.3v3.6m-3.4 0h6.8m0 -3.6h-6.8M380.7 533.9v3.6m-3.4 0h6.8m0 -3.6h-6.8M381.2 534.1v3.6m-3.4 0h6.8m0 -3.6h-6.8M381.6 533.8v3.6m-3.4 0h6.8m0 -3.6h-6.8M382.1 534.5v3.5m-3.4 0h6.8m0 -3.5h-6.8M382.6 534.3v3.6m-3.4 0h6.8m0 -3.6h-6.8M383.1 535.0v3.5m-3.4 0h6.8m0 -3.5h-6.8M383.5 535.3v3.5m-3.4 0h6.8m0 -3.5h-6.8M384.0 535.7v3.5m-3.4 0h6.8m0 -3.5h-6.8M384.5 534.5v3.5m-3.4 0h6.8m0 -3.5h-6.8M385.0 535.6v3.5m-3.4 0h6.8m0 -3.5h-6.8M385.4 535.6v3.5m-3.4 0h6.8m0 -3.5h-6.8M385.9 535.9v3.5m-3.4 0h6.8m0 -3.5h-6.8M386.4 536.0v3.5m-3.4 0h6.8m0 -3.5h-6.8M386.9 536.2v3.5m-3.4 0h6.8m0 -3.5h-6.8M387.3 535.7v3.5m-3.4 0h6.8m0 -3.5h-6.8M387.8 537.0v3.5m-3.4 0h6.8m0 -3.5h-6.8M388.3 537.4v3.5m-3.4 0h6.8m0 -3.5h-6.8M388.8 537.4v3.5m-3.4 0h6.8m0 -3.5h-6.8M389.2 537.7v3.5m-3.4 0h6.8m0 -3.5h-6.8M389.7 537.2v3.5m-3.4 0h6.8m0 -3.5h-6.8M390.2 537.3v3.5m-3.4 0h6.8m0 -3.5h-6.8M390.7 538.2v3.5m-3.4 0h6.8m0 -3.5h-6.8M391.1 538.5v3.5m-3.4 0h6.8m0 -3.5h-6.8M391.6 538.3v3.5m-3.4 0h6.8m0 -3.5h-6.8M392.1 537.8v3.5m-3.4 0h6.8m0 -3.5h-6.8M392.6 539.5v3.5m-3.4 0h6.8m0 -3.5h-6.8M393.0 538.4v3.5m-3.4 0h6.8m0 -3.5h-6.8M393.5 539.2v3.5m-3.4 0h6.8m0 -3.5h-6.8M394.0 538.6v3.5m-3.4 0h6.8m0 -3.5h-6.8M394.5 539.5v3.5m-3.4 0h6.8m0 -3.5h-6.8M394.9 539.4v3.5m-3.4 0h6.8m0 -3.5h-6.8M395.4 540.0v3.5m-3.4 0h6.8m0 -3.5h-6.8M395.9 540.0v3.5m-3.4 0h6.8m0 -3.5h-6.8M396.4 539.3v3.5m-3.4 0h6.8m0 -3.5h-6.8M396.8 539.7v3.5m-3.4 0h6.8m0 -3.5h-6.8M397.3 540.3v3.5m-3.4 0h6.8m0 -3.5h-6.8M397.8 540.7v3.4m-3.4 0h6.8m0 -3.4h-6.8M398.3 541.3v3.4m-3.4 0h6.8m0 -3.4h-6.8M398.7 540.9v3.4m-3.4 0h6.8m0 -3.4h-6.8M399.2 541.0v3.4m-3.4 0h6.8m0 -3.4h-6.8M399.7 541.2v3.4m-3.4 0h6.8m0 -3.4h-6.8M400.1 541.4v3.4m-3.4 0h6.8m0 -3.4h-6.8M400.6 542.0v3.4m-3.4 0h6.8m0 -3.4h-6.8M401.1 541.8v3.4m-3.4 0h6.8m0 -3.4h-6.8M401.6 542.0v3.4m-3.4 0h6.8m0 -3.4h-6.8M402.0 541.7v3.4m-3.4 0h6.8m0 -3.4h-6.8M402.5 541.6v3.4m-3.4 0h6.8m0 -3.4h-6.8M403.0 542.6v3.4m-3.4 0h6.8m0 -3.4h-6.8M403.5 543.0v3.4m-3.4 0h6.8m0 -3.4h-6.8M403.9 542.9v3.4m-3.4 0h6.8m0 -3.4h-6.8M404.4 543.3v3.4m-3.4 0h6.8m0 -3.4h-6.8M404.9 543.6v3.4m-3.4 0h6.8m0 -3.4h-6.8M405.4 543.5v3.4m-3.4 0h6.8m0 -3.4h-6.8M405.8 544.1v3.4m-3.4 0h6.8m0 -3.4h-6.8M406.3 543.6v3.4m-3.4 0h6.8m0 -3.4h-6.8M406.8 544.1v3.4m-3.4 0h6.8m0 -3.4h-6.8M407.3 544.1v3.4m-3.4 0h6.8m0 -3.4h-6.8M407.7 544.5v3.4m-3.4 0h6.8m0 -3.4h-6.8M408.2 544.9v3.4m-3.4 0h6.8m0 -3.4h-6.8M408.7 545.2v3.4m-3.4 0h6.8m0 -3.4h-6.8M409.2 545.0v3.4m-3.4 0h6.8m0 -3.4h-6.8M409.6 545.2v3.4m-3.4 0h6.8m0 -3.4h-6.8M410.1 545.1v3.4m-3.4 0h6.8m0 -3.4h-6.8M410.6 545.2v3.4m-3.4 0h6.8m0 -3.4h-6.8M411.1 545.9v3.4m-3.4 0h6.8m0 -3.4h-6.8M411.5 545.4v3.4m-3.4 0h6.8m0 -3.4h-6.8M412.0 546.1v3.4m-3.4 0h6.8m0 -3.4h-6.8M412.5 545.9v3.4m-3.4 0h6.8m0 -3.4h-6.8M413.0 545.9v3.4m-3.4 0h6.8m0 -3.4h-6.8M413.4 546.7v3.4m-3.4 0h6.8m0 -3.4h-6.8M413.9 545.9v3.4m-3.4 0h6.8m0 -3.4h-6.8M414.4 546.0v3.4m-3.4 0h6.8m0 -3.4h-6.8M414.9 546.2v3.4m-3.4 0h6.8m0 -3.4h-6.8M415.3 546.5v3.4m-3.4 0h6.8m0 -3.4h-6.8M415.8 546.6v3.4m-3.4 0h6.8m0 -3.4h-6.8M416.3 547.0v3.3m-3.4 0h6.8m0 -3.3h-6.8M416.8 546.9v3.4m-3.4 0h6.8m0 -3.4h-6.8M417.2 547.1v3.3m-3.4 0h6.8m0 -3.3h-6.8M417.7 547.0v3.3m-3.4 0h6.8m0 -3.3h-6.8M418.2 547.6v3.3m-3.4 0h6.8m0 -3.3h-6.8M418.7 547.2v3.3m-3.4 0h6.8m0 -3.3h-6.8M419.1 547.4v3.3m-3.4 0h6.8m0 -3.3h-6.8M419.6 547.7v3.3m-3.4 0h6.8m0 -3.3h-6.8M420.1 547.9v3.3m-3.4 0h6.8m0 -3.3h-6.8M420.6 547.7v3.3m-3.4 0h6.8m0 -3.3h-6.8M421.0 548.7v3.3m-3.4 0h6.8m0 -3.3h-6.8M421.5 548.0v3.3m-3.4 0h6.8m0 -3.3h-6.8M422.0 548.2v3.3m-3.4 0h6.8m0 -3.3h-6.8M422.5 548.4v3.3m-3.4 0h6.8m0 -3.3h-6.8M422.9 548.5v3.3m-3.4 0h6.8m0 -3.3h-6.8M423.4 549.0v3.3m-3.4 0h6.8m0 -3.3h-6.8M423.9 549.0v3.3m-3.4 0h6.8m0 -3.3h-6.8M424.3 548.7v3.3m-3.4 0h6.8m0 -3.3h-6.8M424.8 548.9v3.3m-3.4 0h6.8m0 -3.3h-6.8M425.3 549.1v3.3m-3.4 0h6.8m0 -3.3h-6.8M425.8 549.8v3.3m-3.4 0h6.8m0 -3.3h-6.8M426.2 549.2v3.3m-3.4 0h6.8m0 -3.3h-6.8M426.7 549.0v3.3m-3.4 0h6.8m0 -3.3h-6.8M427.2 549.2v3.3m-3.4 0h6.8m0 -3.3h-6.8M427.7 549.6v3.3m-3.4 0h6.8m0 -3.3h-6.8M428.1 550.4v3.3m-3.4 0h6.8m0 -3.3h-6.8M428.6 549.5v3.3m-3.4 0h6.8m0 -3.3h-6.8M429.1 550.0v3.3m-3.4 0h6.8m0 -3.3h-6.8M429.6 551.0v3.3m-3.4 0h6.8m0 -3.3h-6.8M430.0 550.0v3.3m-3.4 0h6.8m0 -3.3h-6.8M430.5 550.8v3.3m-3.4 0h6.8m0 -3.3h-6.8M431.0 550.8v3.3m-3.4 0h6.8m0 -3.3h-6.8M431.5 550.7v3.3m-3.4 0h6.8m0 -3.3h-6.8M431.9 550.1v3.3m-3.4 0h6.8m0 -3.3h-6.8M432.4 550.9v3.3m-3.4 0h6.8m0 -3.3h-6.8M432.9 550.8v3.3m-3.4 0h6.8m0 -3.3h-6.8M433.4 550.4v3.3m-3.4 0h6.8m0 -3.3h-6.8M433.8 550.6v3.3m-3.4 0h6.8m0 -3.3h-6.8M434.3 551.4v3.3m-3.4 0h6.8m0 -3.3h-6.8M434.8 551.6v3.3m-3.4 0h6.8m0 -3.3h-6.8M435.3 552.1v3.3m-3.4 0h6.8m0 -3.3h-6.8M435.7 552.0v3.3m-3.4 0h6.8m0 -3.3h-6.8M436.2 551.8v3.3m-3.4 0h6.8m0 -3.3h-6.8M436.7 551.9v3.3m-3.4 0h6.8m0 -3.3h-6.8M437.2 552.2v3.3m-3.4 0h6.8m0 -3.3h-6.8M437.6 552.0v3.3m-3.4 0h6.8m0 -3.3h-6.8M438.1 552.8v3.3m-3.4 0h6.8m0 -3.3h-6.8M438.6 552.6v3.3m-3.4 0h6.8m0 -3.3h-6.8M439.1 552.3v3.3m-3.4 0h6.8m0 -3.3h-6.8M439.5 552.4v3.3m-3.4 0h6.8m0 -3.3h-6.8M440.0 552.3v3.3m-3.4 0h6.8m0 -3.3h-6.8M440.5 552.5v3.3m-3.4 0h6.8m0 -3.3h-6.8M441.0 552.9v3.3m-3.4 0h6.8m0 -3.3h-6.8M441.4 552.6v3.3m-3.4 0h6.8m0 -3.3h-6.8M441.9 553.2v3.3m-3.4 0h6.8m0 -3.3h-6.8M442.4 553.5v3.2m-3.4 0h6.8m0 -3.2h-6.8M442.9 552.8v3.3m-3.4 0h6.8m0 -3.3h-6.8M443.3 553.2v3.2m-3.4 0h6.8m0 -3.2h-6.8M443.8 553.3v3.2m-3.4 0h6.8m0 -3.2h-6.8M444.3 554.2v3.2m-3.4 0h6.8m0 -3.2h-6.8M444.8 553.9v3.2m-3.4 0h6.8m0 -3.2h-6.8M445.2 554.1v3.2m-3.4 0h6.8m0 -3.2h-6.8M445.7 554.4v3.2m-3.4 0h6.8m0 -3.2h-6.8M446.2 555.1v3.2m-3.4 0h6.8m0 -3.2h-6.8M446.7 554.5v3.2m-3.4 0h6.8m0 -3.2h-6.8M447.1 554.2v3.2m-3.4 0h6.8m0 -3.2h-6.8M447.6 554.5v3.2m-3.4 0h6.8m0 -3.2h-6.8M448.1 555.1v3.2m-3.4 0h6.8m0 -3.2h-6.8M448.5 555.0v3.2m-3.4 0h6.8m0 -3.2h-6.8M449.0 554.9v3.2m-3.4 0h6.8m0 -3.2h-6.8M449.5 556.4v3.2m-3.4 0h6.8m0 -3.2h-6.8M450.0 555.5v3.2m-3.4 0h6.8m0 -3.2h-6.8M450.4 555.4v3.2m-3.4 0h6.8m0 -3.2h-6.8M450.9 555.5v3.2m-3.4 0h6.8m0 -3.2h-6.8M451.4 555.2v3.2m-3.4 0h6.8m0 -3.2h-6.8M451.9 555.6v3.2m-3.4 0h6.8m0 -3.2h-6.8M452.3 556.0v3.2m-3.4 0h6.8m0 -3.2h-6.8M452.8 556.1v3.2m-3.4 0h6.8m0 -3.2h-6.8M453.3 556.1v3.2m-3.4 0h6.8m0 -3.2h-6.8M453.8 556.7v3.2m-3.4 0h6.8m0 -3.2h-6.8M454.2 556.6v3.2m-3.4 0h6.8m0 -3.2h-6.8M454.7 556.4v3.2m-3.4 0h6.8m0 -3.2h-6.8M455.2 556.1v3.2m-3.4 0h6.8m0 -3.2h-6.8M455.7 557.0v3.2m-3.4 0h6.8m0 -3.2h-6.8M456.1 557.1v3.2m-3.4 0h6.8m0 -3.2h-6.8M456.6 557.1v3.2m-3.4 0h6.8m0 -3.2h-6.8M457.1 556.7v3.2m-3.4 0h6.8m0 -3.2h-6.8M457.6 557.4v3.2m-3.4 0h6.8m0 -3.2h-6.8M458.0 556.9v3.2m-3.4 0h6.8m0 -3.2h-6.8M458.5 558.0v3.2m-3.4 0h6.8m0 -3.2h-6.8M459.0 557.8v3.2m-3.4 0h6.8m0 -3.2h-6.8M459.5 557.9v3.2m-3.4 0h6.8m0 -3.2h-6.8M459.9 557.6v3.2m-3.4 0h6.8m0 -3.2h-6.8M460.4 557.6v3.2m-3.4 0h6.8m0 -3.2h-6.8M460.9 558.6v3.2m-3.4 0h6.8m0 -3.2h-6.8M461.4 558.5v3.2m-3.4 0h6.8m0 -3.2h-6.8M461.8 558.1v3.2m-3.4 0h6.8m0 -3.2h-6.8M462.3 558.6v3.2m-3.4 0h6.8m0 -3.2h-6.8M462.8 559.0v3.2m-3.4 0h6.8m0 -3.2h-6.8M463.3 558.1v3.2m-3.4 0h6.8m0 -3.2h-6.8M463.7 558.4v3.2m-3.4 0h6.8m0 -3.2h-6.8M464.2 558.5v3.2m-3.4 0h6.8m0 -3.2h-6.8M464.7 559.0v3.2m-3.4 0h6.8m0 -3.2h-6.8M465.2 558.5v3.2m-3.4 0h6.8m0 -3.2h-6.8M465.6 559.1v3.2m-3.4 0h6.8m0 -3.2h-6.8M466.1 558.6v3.2m-3.4 0h6.8m0 -3.2h-6.8M466.6 559.5v3.2m-3.4 0h6.8m0 -3.2h-6.8M467.1 559.6v3.1m-3.4 0h6.8m0 -3.1h-6.8M467.5 559.2v3.2m-3.4 0h6.8m0 -3.2h-6.8M468.0 559.7v3.1m-3.4 0h6.8m0 -3.1h-6.8M468.5 559.2v3.2m-3.4 0h6.8m0 -3.2h-6.8M469.0 559.5v3.2m-3.4 0h6.8m0 -3.2h-6.8M469.4 560.0v3.1m-3.4 0h6.8m0 -3.1h-6.8M469.9 559.7v3.1m-3.4 0h6.8m0 -3.1h-6.8M470.4 560.0v3.1m-3.4 0h6.8m0 -3.1h-6.8M470.9 559.6v3.1m-3.4 0h6.8m0 -3.1h-6.8M471.3 560.3v3.1m-3.4 0h6.8m0 -3.1h-6.8M471.8 560.3v3.1m-3.4 0h6.8m0 -3.1h-6.8M472.3 559.8v3.1m-3.4 0h6.8m0 -3.1h-6.8M472.7 559.5v3.2m-3.4 0h6.8m0 -3.2h-6.8M473.2 559.7v3.1m-3.4 0h6.8m0 -3.1h-6.8M473.7 560.5v3.1m-3.4 0h6.8m0 -3.1h-6.8M474.2 560.5v3.1m-3.4 0h6.8m0 -3.1h-6.8M474.6 560.1v3.1m-3.4 0h6.8m0 -3.1h-6.8M475.1 560.9v3.1m-3.4 0h6.8m0 -3.1h-6.8M475.6 561.3v3.1m-3.4 0h6.8m0 -3.1h-6.8M476.1 561.0v3.1m-3.4 0h6.8m0 -3.1h-6.8M476.5 560.9v3.1m-3.4 0h6.8m0 -3.1h-6.8M477.0 561.5v3.1m-3.4 0h6.8m0 -3.1h-6.8M477.5 561.9v3.1m-3.4 0h6.8m0 -3.1h-6.8M478.0 561.9v3.1m-3.4 0h6.8m0 -3.1h-6.8M478.4 561.2v3.1m-3.4 0h6.8m0 -3.1h-6.8M478.9 561.9v3.1m-3.4 0h6.8m0 -3.1h-6.8M479.4 561.7v3.1m-3.4 0h6.8m0 -3.1h-6.8M479.9 561.7v3.1m-3.4 0h6.8m0 -3.1h-6.8M480.3 561.6v3.1m-3.4 0h6.8m0 -3.1h-6.8M480.8 562.0v3.1m-3.4 0h6.8m0 -3.1h-6.8M481.3 561.7v3.1m-3.4 0h6.8m0 -3.1h-6.8M481.8 562.3v3.1m-3.4 0h6.8m0 -3.1h-6.8M482.2 562.2v3.1m-3.4 0h6.8m0 -3.1h-6.8M482.7 562.5v3.1m-3.4 0h6.8m0 -3.1h-6.8M483.2 561.7v3.1m-3.4 0h6.8m0 -3.1h-6.8M483.7 562.2v3.1m-3.4 0h6.8m0 -3.1h-6.8M484.1 562.5v3.1m-3.4 0h6.8m0 -3.1h-6.8M484.6 562.4v3.1m-3.4 0h6.8m0 -3.1h-6.8M485.1 562.4v3.1m-3.4 0h6.8m0 -3.1h-6.8M485.6 562.1v3.1m-3.4 0h6.8m0 -3.1h-6.8M486.0 563.1v3.1m-3.4 0h6.8m0 -3.1h-6.8M486.5 562.9v3.1m-3.4 0h6.8m0 -3.1h-6.8M487.0 562.7v3.1m-3.4 0h6.8m0 -3.1h-6.8M487.5 561.7v3.1m-3.4 0h6.8m0 -3.1h-6.8M487.9 562.3v3.1m-3.4 0h6.8m0 -3.1h-6.8M488.4 562.8v3.1m-3.4 0h6.8m0 -3.1h-6.8M488.9 562.6v3.1m-3.4 0h6.8m0 -3.1h-6.8M489.4 562.1v3.1m-3.4 0h6.8m0 -3.1h-6.8M489.8 563.0v3.1m-3.4 0h6.8m0 -3.1h-6.8M490.3 563.1v3.1m-3.4 0h6.8m0 -3.1h-6.8M490.8 562.6v3.1m-3.4 0h6.8m0 -3.1h-6.8M491.3 562.9v3.1m-3.4 0h6.8m0 -3.1h-6.8M491.7 562.9v3.1m-3.4 0h6.8m0 -3.1h-6.8M492.2 563.4v3.1m-3.4 0h6.8m0 -3.1h-6.8M492.7 562.6v3.1m-3.4 0h6.8m0 -3.1h-6.8M493.2 562.7v3.1m-3.4 0h6.8m0 -3.1h-6.8M493.6 563.2v3.1m-3.4 0h6.8m0 -3.1h-6.8M494.1 563.2v3.1m-3.4 0h6.8m0 -3.1h-6.8M494.6 564.3v3.1m-3.4 0h6.8m0 -3.1h-6.8M495.0 563.3v3.1m-3.4 0h6.8m0 -3.1h-6.8M495.5 563.7v3.1m-3.4 0h6.8m0 -3.1h-6.8M496.0 563.5v3.1m-3.4 0h6.8m0 -3.1h-6.8M496.5 563.5v3.1m-3.4 0h6.8m0 -3.1h-6.8M496.9 564.0v3.1m-3.4 0h6.8m0 -3.1h-6.8M497.4 564.6v3.1m-3.4 0h6.8m0 -3.1h-6.8M497.9 563.9v3.1m-3.4 0h6.8m0 -3.1h-6.8M498.4 564.3v3.1m-3.4 0h6.8m0 -3.1h-6.8M498.8 564.3v3.1m-3.4 0h6.8m0 -3.1h-6.8M499.3 564.4v3.1m-3.4 0h6.8m0 -3.1h-6.8M499.8 564.4v3.1m-3.4 0h6.8m0 -3.1h-6.8M500.3 565.2v3.1m-3.4 0h6.8m0 -3.1h-6.8M500.7 564.0v3.1m-3.4 0h6.8m0 -3.1h-6.8M501.2 564.4v3.1m-3.4 0h6.8m0 -3.1h-6.8M501.7 564.2v3.1m-3.4 0h6.8m0 -3.1h-6.8M502.2 563.9v3.1m-3.4 0h6.8m0 -3.1h-6.8M502.6 564.7v3.1m-3.4 0h6.8m0 -3.1h-6.8M503.1 565.5v3.1m-3.4 0h6.8m0 -3.1h-6.8M503.6 565.2v3.1m-3.4 0h6.8m0 -3.1h-6.8M504.1 565.4v3.1m-3.4 0h6.8m0 -3.1h-6.8M504.5 565.2v3.1m-3.4 0h6.8m0 -3.1h-6.8M505.0 565.0v3.1m-3.4 0h6.8m0 -3.1h-6.8M505.5 565.8v3.1m-3.4 0h6.8m0 -3.1h-6.8M506.0 564.9v3.1m-3.4 0h6.8m0 -3.1h-6.8M506.4 565.6v3.1m-3.4 0h6.8m0 -3.1h-6.8M506.9 564.9v3.1m-3.4 0h6.8m0 -3.1h-6.8M507.4 565.1v3.1m-3.4 0h6.8m0 -3.1h-6.8M507.9 565.2v3.1m-3.4 0h6.8m0 -3.1h-6.8M508.3 565.1v3.1m-3.4 0h6.8m0 -3.1h-6.8M508.8 565.3v3.1m-3.4 0h6.8m0 -3.1h-6.8M509.3 565.4v3.1m-3.4 0h6.8m0 -3.1h-6.8M509.8 565.8v3.1m-3.4 0h6.8m0 -3.1h-6.8M510.2 565.2v3.1m-3.4 0h6.8m0 -3.1h-6.8M510.7 564.5v3.1m-3.4 0h6.8m0 -3.1h-6.8M511.2 564.5v3.1m-3.4 0h6.8m0 -3.1h-6.8M511.7 564.8v3.1m-3.4 0h6.8m0 -3.1h-6.8M512.1 565.1v3.1m-3.4 0h6.8m0 -3.1h-6.8M512.6 565.7v3.1m-3.4 0h6.8m0 -3.1h-6.8M513.1 564.9v3.1m-3.4 0h6.8m0 -3.1h-6.8M513.6 565.6v3.1m-3.4 0h6.8m0 -3.1h-6.8M514.0 565.6v3.1m-3.4 0h6.8m0 -3.1h-6.8M514.5 565.8v3.1m-3.4 0h6.8m0 -3.1h-6.8M515.0 565.7v3.1m-3.4 0h6.8m0 -3.1h-6.8M515.5 565.9v3.0m-3.4 0h6.8m0 -3.0h-6.8M515.9 565.8v3.1m-3.4 0h6.8m0 -3.1h-6.8M516.4 566.3v3.0m-3.4 0h6.8m0 -3.0h-6.8M516.9 566.1v3.0m-3.4 0h6.8m0 -3.0h-6.8M517.4 565.1v3.1m-3.4 0h6.8m0 -3.1h-6.8M517.8 566.1v3.0m-3.4 0h6.8m0 -3.0h-6.8M518.3 566.2v3.0m-3.4 0h6.8m0 -3.0h-6.8M518.8 566.0v3.0m-3.4 0h6.8m0 -3.0h-6.8M519.2 566.0v3.0m-3.4 0h6.8m0 -3.0h-6.8M519.7 566.8v3.0m-3.4 0h6.8m0 -3.0h-6.8M520.2 566.5v3.0m-3.4 0h6.8m0 -3.0h-6.8M520.7 566.2v3.0m-3.4 0h6.8m0 -3.0h-6.8M521.1 566.5v3.0m-3.4 0h6.8m0 -3.0h-6.8M521.6 566.7v3.0m-3.4 0h6.8m0 -3.0h-6.8M522.1 566.2v3.0m-3.4 0h6.8m0 -3.0h-6.8M522.6 567.1v3.0m-3.4 0h6.8m0 -3.0h-6.8M523.0 566.9v3.0m-3.4 0h6.8m0 -3.0h-6.8M523.5 567.2v3.0m-3.4 0h6.8m0 -3.0h-6.8M524.0 566.5v3.0m-3.4 0h6.8m0 -3.0h-6.8M524.5 567.9v3.0m-3.4 0h6.8m0 -3.0h-6.8M524.9 567.5v3.0m-3.4 0h6.8m0 -3.0h-6.8M525.4 567.5v3.0m-3.4 0h6.8m0 -3.0h-6.8M525.9 567.0v3.0m-3.4 0h6.8m0 -3.0h-6.8M526.4 567.1v3.0m-3.4 0h6.8m0 -3.0h-6.8M526.8 566.8v3.0m-3.4 0h6.8m0 -3.0h-6.8M527.3 567.9v3.0m-3.4 0h6.8m0 -3.0h-6.8M527.8 567.1v3.0m-3.4 0h6.8m0 -3.0h-6.8M528.3 567.5v3.0m-3.4 0h6.8m0 -3.0h-6.8M528.7 567.7v3.0m-3.4 0h6.8m0 -3.0h-6.8M529.2 567.2v3.0m-3.4 0h6.8m0 -3.0h-6.8M529.7 567.8v3.0m-3.4 0h6.8m0 -3.0h-6.8M530.2 568.3v3.0m-3.4 0h6.8m0 -3.0h-6.8M530.6 567.6v3.0m-3.4 0h6.8m0 -3.0h-6.8M531.1 568.1v3.0m-3.4 0h6.8m0 -3.0h-6.8M531.6 567.8v3.0m-3.4 0h6.8m0 -3.0h-6.8M532.1 567.4v3.0m-3.4 0h6.8m0 -3.0h-6.8M532.5 567.4v3.0m-3.4 0h6.8m0 -3.0h-6.8M533.0 567.0v3.0m-3.4 0h6.8m0 -3.0h-6.8M533.5 567.7v3.0m-3.4 0h6.8m0 -3.0h-6.8M534.0 568.2v3.0m-3.4 0h6.8m0 -3.0h-6.8M534.4 567.9v3.0m-3.4 0h6.8m0 -3.0h-6.8M534.9 568.0v3.0m-3.4 0h6.8m0 -3.0h-6.8M535.4 568.1v3.0m-3.4 0h6.8m0 -3.0h-6.8M535.9 567.5v3.0m-3.4 0h6.8m0 -3.0h-6.8M536.3 567.9v3.0m-3.4 0h6.8m0 -3.0h-6.8M536.8 568.5v3.0m-3.4 0h6.8m0 -3.0h-6.8M537.3 567.5v3.0m-3.4 0h6.8m0 -3.0h-6.8M537.8 567.8v3.0m-3.4 0h6.8m0 -3.0h-6.8M538.2 567.7v3.0m-3.4 0h6.8m0 -3.0h-6.8M538.7 567.8v3.0m-3.4 0h6.8m0 -3.0h-6.8M539.2 567.6v3.0m-3.4 0h6.8m0 -3.0h-6.8M539.7 567.9v3.0m-3.4 0h6.8m0 -3.0h-6.8M540.1 567.5v3.0m-3.4 0h6.8m0 -3.0h-6.8M540.6 567.8v3.0m-3.4 0h6.8m0 -3.0h-6.8M541.1 567.9v3.0m-3.4 0h6.8m0 -3.0h-6.8M541.6 567.9v3.0m-3.4 0h6.8m0 -3.0h-6.8M542.0 568.7v3.0m-3.4 0h6.8m0 -3.0h-6.8M542.5 568.2v3.0m-3.4 0h6.8m0 -3.0h-6.8M543.0 568.3v3.0m-3.4 0h6.8m0 -3.0h-6.8M543.4 568.2v3.0m-3.4 0h6.8m0 -3.0h-6.8M543.9 568.8v3.0m-3.4 0h6.8m0 -3.0h-6.8M544.4 567.7v3.0m-3.4 0h6.8m0 -3.0h-6.8M544.9 568.3v3.0m-3.4 0h6.8m0 -3.0h-6.8M545.3 568.9v3.0m-3.4 0h6.8m0 -3.0h-6.8M545.8 569.1v3.0m-3.4 0h6.8m0 -3.0h-6.8M546.3 568.6v3.0m-3.4 0h6.8m0 -3.0h-6.8M546.8 568.6v3.0m-3.4 0h6.8m0 -3.0h-6.8M547.2 568.9v3.0m-3.4 0h6.8m0 -3.0h-6.8M547.7 568.6v3.0m-3.4 0h6.8m0 -3.0h-6.8M548.2 568.9v3.0m-3.4 0h6.8m0 -3.0h-6.8M548.7 568.5v3.0m-3.4 0h6.8m0 -3.0h-6.8M549.1 569.0v3.0m-3.4 0h6.8m0 -3.0h-6.8M549.6 568.7v3.0m-3.4 0h6.8m0 -3.0h-6.8M550.1 568.4v3.0m-3.4 0h6.8m0 -3.0h-6.8M550.6 567.8v3.0m-3.4 0h6.8m0 -3.0h-6.8M551.0 569.2v3.0m-3.4 0h6.8m0 -3.0h-6.8M551.5 569.0v3.0m-3.4 0h6.8m0 -3.0h-6.8M552.0 569.1v3.0m-3.4 0h6.8m0 -3.0h-6.8M552.5 568.5v3.0m-3.4 0h6.8m0 -3.0h-6.8M552.9 569.3v3.0m-3.4 0h6.8m0 -3.0h-6.8M553.4 569.0v3.0m-3.4 0h6.8m0 -3.0h-6.8M553.9 568.9v3.0m-3.4 0h6.8m0 -3.0h-6.8M554.4 569.3v3.0m-3.4 0h6.8m0 -3.0h-6.8M554.8 569.3v3.0m-3.4 0h6.8m0 -3.0h-6.8M555.3 569.1v3.0m-3.4 0h6.8m0 -3.0h-6.8M555.8 569.7v3.0m-3.4 0h6.8m0 -3.0h-6.8M556.3 569.5v3.0m-3.4 0h6.8m0 -3.0h-6.8M556.7 569.1v3.0m-3.4 0h6.8m0 -3.0h-6.8M557.2 568.9v3.0m-3.4 0h6.8m0 -3.0h-6.8M557.7 569.1v3.0m-3.4 0h6.8m0 -3.0h-6.8M558.2 569.7v3.0m-3.4 0h6.8m0 -3.0h-6.8M558.6 569.2v3.0m-3.4 0h6.8m0 -3.0h-6.8M559.1 568.8v3.0m-3.4 0h6.8m0 -3.0h-6.8M559.6 569.0v3.0m-3.4 0h6.8m0 -3.0h-6.8M560.1 569.3v3.0m-3.4 0h6.8m0 -3.0h-6.8M560.5 569.7v3.0m-3.4 0h6.8m0 -3.0h-6.8M561.0 569.2v3.0m-3.4 0h6.8m0 -3.0h-6.8M561.5 569.7v3.0m-3.4 0h6.8m0 -3.0h-6.8M562.0 570.0v3.0m-3.4 0h6.8m0 -3.0h-6.8M562.4 570.0v3.0m-3.4 0h6.8m0 -3.0h-6.8M562.9 569.2v3.0m-3.4 0h6.8m0 -3.0h-6.8M563.4 569.7v3.0m-3.4 0h6.8m0 -3.0h-6.8M563.9 569.4v3.0m-3.4 0h6.8m0 -3.0h-6.8M564.3 570.1v3.0m-3.4 0h6.8m0 -3.0h-6.8M564.8 569.7v3.0m-3.4 0h6.8m0 -3.0h-6.8M565.3 570.2v3.0m-3.4 0h6.8m0 -3.0h-6.8M565.8 570.1v3.0m-3.4 0h6.8m0 -3.0h-6.8M566.2 569.1v3.0m-3.4 0h6.8m0 -3.0h-6.8M566.7 569.8v3.0m-3.4 0h6.8m0 -3.0h-6.8M567.2 570.2v3.0m-3.4 0h6.8m0 -3.0h-6.8M567.6 570.1v3.0m-3.4 0h6.8m0 -3.0h-6.8M568.1 569.9v3.0m-3.4 0h6.8m0 -3.0h-6.8M568.6 569.6v3.0m-3.4 0h6.8m0 -3.0h-6.8M569.1 570.3v3.0m-3.4 0h6.8m0 -3.0h-6.8M569.5 570.7v3.0m-3.4 0h6.8m0 -3.0h-6.8M570.0 570.2v3.0m-3.4 0h6.8m0 -3.0h-6.8M570.5 570.1v3.0m-3.4 0h6.8m0 -3.0h-6.8M571.0 570.1v3.0m-3.4 0h6.8m0 -3.0h-6.8M571.4 569.6v3.0m-3.4 0h6.8m0 -3.0h-6.8M571.9 570.0v3.0m-3.4 0h6.8m0 -3.0h-6.8M572.4 569.8v3.0m-3.4 0h6.8m0 -3.0h-6.8M572.9 570.5v3.0m-3.4 0h6.8m0 -3.0h-6.8M573.3 569.8v3.0m-3.4 0h6.8m0 -3.0h-6.8M573.8 569.4v3.0m-3.4 0h6.8m0 -3.0h-6.8M574.3 570.0v3.0m-3.4 0h6.8m0 -3.0h-6.8M574.8 570.2v3.0m-3.4 0h6.8m0 -3.0h-6.8M575.2 570.3v3.0m-3.4 0h6.8m0 -3.0h-6.8M575.7 569.7v3.0m-3.4 0h6.8m0 -3.0h-6.8M576.2 570.8v3.0m-3.4 0h6.8m0 -3.0h-6.8M576.7 570.5v3.0m-3.4 0h6.8m0 -3.0h-6.8M577.1 570.3v3.0m-3.4 0h6.8m0 -3.0h-6.8M577.6 570.3v3.0m-3.4 0h6.8m0 -3.0h-6.8M578.1 570.8v3.0m-3.4 0h6.8m0 -3.0h-6.8M578.6 570.5v3.0m-3.4 0h6.8m0 -3.0h-6.8M579.0 570.8v3.0m-3.4 0h6.8m0 -3.0h-6.8M579.5 570.7v3.0m-3.4 0h6.8m0 -3.0h-6.8M580.0 570.8v3.0m-3.4 0h6.8m0 -3.0h-6.8M580.5 571.3v3.0m-3.4 0h6.8m0 -3.0h-6.8M580.9 570.9v3.0m-3.4 0h6.8m0 -3.0h-6.8M581.4 570.6v3.0m-3.4 0h6.8m0 -3.0h-6.8M581.9 571.3v3.0m-3.4 0h6.8m0 -3.0h-6.8M582.4 571.1v3.0m-3.4 0h6.8m0 -3.0h-6.8M582.8 570.8v3.0m-3.4 0h6.8m0 -3.0h-6.8M583.3 571.5v3.0m-3.4 0h6.8m0 -3.0h-6.8M583.8 571.0v3.0m-3.4 0h6.8m0 -3.0h-6.8M584.3 571.5v3.0m-3.4 0h6.8m0 -3.0h-6.8M584.7 570.7v3.0m-3.4 0h6.8m0 -3.0h-6.8M585.2 570.3v3.0m-3.4 0h6.8m0 -3.0h-6.8M585.7 570.4v3.0m-3.4 0h6.8m0 -3.0h-6.8M586.2 571.3v3.0m-3.4 0h6.8m0 -3.0h-6.8M586.6 570.9v3.0m-3.4 0h6.8m0 -3.0h-6.8M587.1 571.2v3.0m-3.4 0h6.8m0 -3.0h-6.8M587.6 571.2v3.0m-3.4 0h6.8m0 -3.0h-6.8M588.1 570.7v3.0m-3.4 0h6.8m0 -3.0h-6.8M588.5 571.8v3.0m-3.4 0h6.8m0 -3.0h-6.8M589.0 570.9v3.0m-3.4 0h6.8m0 -3.0h-6.8M589.5 571.3v3.0m-3.4 0h6.8m0 -3.0h-6.8M589.9 570.8v3.0m-3.4 0h6.8m0 -3.0h-6.8M590.4 571.3v3.0m-3.4 0h6.8m0 -3.0h-6.8M590.9 571.6v3.0m-3.4 0h6.8m0 -3.0h-6.8M591.4 571.3v3.0m-3.4 0h6.8m0 -3.0h-6.8M591.8 571.1v3.0m-3.4 0h6.8m0 -3.0h-6.8M592.3 571.4v3.0m-3.4 0h6.8m0 -3.0h-6.8M592.8 571.1v3.0m-3.4 0h6.8m0 -3.0h-6.8M593.3 571.5v3.0m-3.4 0h6.8m0 -3.0h-6.8M593.7 572.1v3.0m-3.4 0h6.8m0 -3.0h-6.8M594.2 570.9v3.0m-3.4 0h6.8m0 -3.0h-6.8M594.7 570.9v3.0m-3.4 0h6.8m0 -3.0h-6.8M595.2 571.1v3.0m-3.4 0h6.8m0 -3.0h-6.8M595.6 571.1v3.0m-3.4 0h6.8m0 -3.0h-6.8M596.1 570.7v3.0m-3.4 0h6.8m0 -3.0h-6.8M596.6 571.2v3.0m-3.4 0h6.8m0 -3.0h-6.8M597.1 571.3v3.0m-3.4 0h6.8m0 -3.0h-6.8M597.5 571.1v3.0m-3.4 0h6.8m0 -3.0h-6.8M598.0 570.5v3.0m-3.4 0h6.8m0 -3.0h-6.8M598.5 571.5v3.0m-3.4 0h6.8m0 -3.0h-6.8M599.0 570.4v3.0m-3.4 0h6.8m0 -3.0h-6.8M599.4 571.1v3.0m-3.4 0h6.8m0 -3.0h-6.8M599.9 571.3v3.0m-3.4 0h6.8m0 -3.0h-6.8M600.4 570.4v3.0m-3.4 0h6.8m0 -3.0h-6.8M600.9 571.0v3.0m-3.4 0h6.8m0 -3.0h-6.8M601.3 571.5v3.0m-3.4 0h6.8m0 -3.0h-6.8M601.8 571.2v3.0m-3.4 0h6.8m0 -3.0h-6.8M602.3 570.8v3.0m-3.4 0h6.8m0 -3.0h-6.8M602.8 570.8v3.0m-3.4 0h6.8m0 -3.0h-6.8M603.2 571.5v3.0m-3.4 0h6.8m0 -3.0h-6.8M603.7 571.2v3.0m-3.4 0h6.8m0 -3.0h-6.8M604.2 571.2v3.0m-3.4 0h6.8m0 -3.0h-6.8M604.7 571.8v3.0m-3.4 0h6.8m0 -3.0h-6.8M605.1 571.5v3.0m-3.4 0h6.8m0 -3.0h-6.8M605.6 571.7v3.0m-3.4 0h6.8m0 -3.0h-6.8M606.1 572.0v3.0m-3.4 0h6.8m0 -3.0h-6.8M606.6 572.0v3.0m-3.4 0h6.8m0 -3.0h-6.8M607.0 571.9v3.0m-3.4 0h6.8m0 -3.0h-6.8M607.5 572.0v3.0m-3.4 0h6.8m0 -3.0h-6.8M608.0 572.3v2.9m-3.4 0h6.8m0 -2.9h-6.8M608.5 572.3v2.9m-3.4 0h6.8m0 -2.9h-6.8M608.9 571.7v3.0m-3.4 0h6.8m0 -3.0h-6.8M609.4 572.0v3.0m-3.4 0h6.8m0 -3.0h-6.8M609.9 571.7v3.0m-3.4 0h6.8m0 -3.0h-6.8M610.4 571.6v3.0m-3.4 0h6.8m0 -3.0h-6.8M610.8 571.8v3.0m-3.4 0h6.8m0 -3.0h-6.8M611.3 571.2v3.0m-3.4 0h6.8m0 -3.0h-6.8M611.8 572.3v2.9m-3.4 0h6.8m0 -2.9h-6.8M612.3 571.7v3.0m-3.4 0h6.8m0 -3.0h-6.8M612.7 572.1v3.0m-3.4 0h6.8m0 -3.0h-6.8M613.2 571.2v3.0m-3.4 0h6.8m0 -3.0h-6.8M613.7 571.3v3.0m-3.4 0h6.8m0 -3.0h-6.8M614.1 572.6v2.9m-3.4 0h6.8m0 -2.9h-6.8M614.6 572.2v2.9m-3.4 0h6.8m0 -2.9h-6.8M615.1 571.6v3.0m-3.4 0h6.8m0 -3.0h-6.8M615.6 571.5v3.0m-3.4 0h6.8m0 -3.0h-6.8M616.0 571.5v3.0m-3.4 0h6.8m0 -3.0h-6.8M616.5 571.8v3.0m-3.4 0h6.8m0 -3.0h-6.8M617.0 571.6v3.0m-3.4 0h6.8m0 -3.0h-6.8M617.5 571.6v3.0m-3.4 0h6.8m0 -3.0h-6.8M617.9 571.9v3.0m-3.4 0h6.8m0 -3.0h-6.8M618.4 571.5v3.0m-3.4 0h6.8m0 -3.0h-6.8M618.9 572.8v2.9m-3.4 0h6.8m0 -2.9h-6.8M619.4 571.8v3.0m-3.4 0h6.8m0 -3.0h-6.8M619.8 572.5v2.9m-3.4 0h6.8m0 -2.9h-6.8M620.3 571.8v3.0m-3.4 0h6.8m0 -3.0h-6.8M620.8 572.3v2.9m-3.4 0h6.8m0 -2.9h-6.8M621.3 572.6v2.9m-3.4 0h6.8m0 -2.9h-6.8M621.7 572.2v2.9m-3.4 0h6.8m0 -2.9h-6.8M622.2 572.7v2.9m-3.4 0h6.8m0 -2.9h-6.8M622.7 572.7v2.9m-3.4 0h6.8m0 -2.9h-6.8M623.2 573.0v2.9m-3.4 0h6.8m0 -2.9h-6.8M623.6 572.5v2.9m-3.4 0h6.8m0 -2.9h-6.8M624.1 572.4v2.9m-3.4 0h6.8m0 -2.9h-6.8M624.6 572.2v2.9m-3.4 0h6.8m0 -2.9h-6.8M625.1 572.7v2.9m-3.4 0h6.8m0 -2.9h-6.8M625.5 572.3v2.9m-3.4 0h6.8m0 -2.9h-6.8M626.0 572.7v2.9m-3.4 0h6.8m0 -2.9h-6.8M626.5 572.8v2.9m-3.4 0h6.8m0 -2.9h-6.8M627.0 572.5v2.9m-3.4 0h6.8m0 -2.9h-6.8M627.4 572.4v2.9m-3.4 0h6.8m0 -2.9h-6.8M627.9 572.9v2.9m-3.4 0h6.8m0 -2.9h-6.8M628.4 572.9v2.9m-3.4 0h6.8m0 -2.9h-6.8M628.9 572.9v2.9m-3.4 0h6.8m0 -2.9h-6.8M629.3 572.8v2.9m-3.4 0h6.8m0 -2.9h-6.8M629.8 573.2v2.9m-3.4 0h6.8m0 -2.9h-6.8M630.3 572.5v2.9m-3.4 0h6.8m0 -2.9h-6.8M630.8 573.0v2.9m-3.4 0h6.8m0 -2.9h-6.8M631.2 572.7v2.9m-3.4 0h6.8m0 -2.9h-6.8M631.7 573.2v2.9m-3.4 0h6.8m0 -2.9h-6.8M632.2 572.8v2.9m-3.4 0h6.8m0 -2.9h-6.8M632.7 572.8v2.9m-3.4 0h6.8m0 -2.9h-6.8M633.1 573.1v2.9m-3.4 0h6.8m0 -2.9h-6.8M633.6 572.2v2.9m-3.4 0h6.8m0 -2.9h-6.8M634.1 572.8v2.9m-3.4 0h6.8m0 -2.9h-6.8M634.6 572.3v2.9m-3.4 0h6.8m0 -2.9h-6.8M635.0 572.6v2.9m-3.4 0h6.8m0 -2.9h-6.8M635.5 573.2v2.9m-3.4 0h6.8m0 -2.9h-6.8M636.0 573.1v2.9m-3.4 0h6.8m0 -2.9h-6.8M636.5 572.7v2.9m-3.4 0h6.8m0 -2.9h-6.8M636.9 572.9v2.9m-3.4 0h6.8m0 -2.9h-6.8M637.4 572.9v2.9m-3.4 0h6.8m0 -2.9h-6.8M637.9 573.0v2.9m-3.4 0h6.8m0 -2.9h-6.8M638.3 573.6v2.9m-3.4 0h6.8m0 -2.9h-6.8M638.8 573.0v2.9m-3.4 0h6.8m0 -2.9h-6.8M639.3 573.7v2.9m-3.4 0h6.8m0 -2.9h-6.8M639.8 572.7v2.9m-3.4 0h6.8m0 -2.9h-6.8M640.2 573.1v2.9m-3.4 0h6.8m0 -2.9h-6.8M640.7 573.1v2.9m-3.4 0h6.8m0 -2.9h-6.8M641.2 572.9v2.9m-3.4 0h6.8m0 -2.9h-6.8M641.7 572.7v2.9m-3.4 0h6.8m0 -2.9h-6.8M642.1 573.4v2.9m-3.4 0h6.8m0 -2.9h-6.8M642.6 573.5v2.9m-3.4 0h6.8m0 -2.9h-6.8M643.1 573.3v2.9m-3.4 0h6.8m0 -2.9h-6.8M643.6 573.7v2.9m-3.4 0h6.8m0 -2.9h-6.8M644.0 573.3v2.9m-3.4 0h6.8m0 -2.9h-6.8M644.5 572.3v2.9m-3.4 0h6.8m0 -2.9h-6.8M645.0 573.4v2.9m-3.4 0h6.8m0 -2.9h-6.8M645.5 572.7v2.9m-3.4 0h6.8m0 -2.9h-6.8M645.9 573.5v2.9m-3.4 0h6.8m0 -2.9h-6.8M646.4 572.9v2.9m-3.4 0h6.8m0 -2.9h-6.8M646.9 573.2v2.9m-3.4 0h6.8m0 -2.9h-6.8M647.4 573.1v2.9m-3.4 0h6.8m0 -2.9h-6.8M647.8 572.9v2.9m-3.4 0h6.8m0 -2.9h-6.8M648.3 572.5v2.9m-3.4 0h6.8m0 -2.9h-6.8M648.8 573.1v2.9m-3.4 0h6.8m0 -2.9h-6.8M649.3 573.1v2.9m-3.4 0h6.8m0 -2.9h-6.8M649.7 573.6v2.9m-3.4 0h6.8m0 -2.9h-6.8M650.2 573.0v2.9m-3.4 0h6.8m0 -2.9h-6.8M650.7 573.3v2.9m-3.4 0h6.8m0 -2.9h-6.8M651.2 572.9v2.9m-3.4 0h6.8m0 -2.9h-6.8M651.6 573.3v2.9m-3.4 0h6.8m0 -2.9h-6.8M652.1 572.6v2.9m-3.4 0h6.8m0 -2.9h-6.8M652.6 574.1v2.9m-3.4 0h6.8m0 -2.9h-6.8M653.1 573.5v2.9m-3.4 0h6.8m0 -2.9h-6.8M653.5 573.0v2.9m-3.4 0h6.8m0 -2.9h-6.8M654.0 573.5v2.9m-3.4 0h6.8m0 -2.9h-6.8M654.5 573.7v2.9m-3.4 0h6.8m0 -2.9h-6.8M655.0 573.6v2.9m-3.4 0h6.8m0 -2.9h-6.8M655.4 574.0v2.9m-3.4 0h6.8m0 -2.9h-6.8M655.9 573.5v2.9m-3.4 0h6.8m0 -2.9h-6.8M656.4 572.6v2.9m-3.4 0h6.8m0 -2.9h-6.8M656.9 573.2v2.9m-3.4 0h6.8m0 -2.9h-6.8M657.3 574.0v2.9m-3.4 0h6.8m0 -2.9h-6.8M657.8 574.0v2.9m-3.4 0h6.8m0 -2.9h-6.8M658.3 573.8v2.9m-3.4 0h6.8m0 -2.9h-6.8M658.8 573.3v2.9m-3.4 0h6.8m0 -2.9h-6.8M659.2 574.0v2.9m-3.4 0h6.8m0 -2.9h-6.8M659.7 573.9v2.9m-3.4 0h6.8m0 -2.9h-6.8M660.2 573.3v2.9m-3.4 0h6.8m0 -2.9h-6.8M660.7 573.3v2.9m-3.4 0h6.8m0 -2.9h-6.8M661.1 573.7v2.9m-3.4 0h6.8m0 -2.9h-6.8M661.6 574.0v2.9m-3.4 0h6.8m0 -2.9h-6.8M662.1 574.1v2.9m-3.4 0h6.8m0 -2.9h-6.8M662.5 573.8v2.9m-3.4 0h6.8m0 -2.9h-6.8M663.0 574.3v2.9m-3.4 0h6.8m0 -2.9h-6.8M663.5 573.2v2.9m-3.4 0h6.8m0 -2.9h-6.8M664.0 573.6v2.9m-3.4 0h6.8m0 -2.9h-6.8M664.4 573.2v2.9m-3.4 0h6.8m0 -2.9h-6.8M664.9 572.6v2.9m-3.4 0h6.8m0 -2.9h-6.8M665.4 572.9v2.9m-3.4 0h6.8m0 -2.9h-6.8M665.9 573.7v2.9m-3.4 0h6.8m0 -2.9h-6.8M666.3 572.9v2.9m-3.4 0h6.8m0 -2.9h-6.8M666.8 572.8v2.9m-3.4 0h6.8m0 -2.9h-6.8M667.3 573.5v2.9m-3.4 0h6.8m0 -2.9h-6.8M667.8 573.6v2.9m-3.4 0h6.8m0 -2.9h-6.8M668.2 573.4v2.9m-3.4 0h6.8m0 -2.9h-6.8M668.7 573.9v2.9m-3.4 0h6.8m0 -2.9h-6.8M669.2 572.8v2.9m-3.4 0h6.8m0 -2.9h-6.8M669.7 574.3v2.9m-3.4 0h6.8m0 -2.9h-6.8M670.1 573.8v2.9m-3.4 0h6.8m0 -2.9h-6.8M670.6 573.5v2.9m-3.4 0h6.8m0 -2.9h-6.8M671.1 573.6v2.9m-3.4 0h6.8m0 -2.9h-6.8M671.6 573.4v2.9m-3.4 0h6.8m0 -2.9h-6.8M672.0 573.4v2.9m-3.4 0h6.8m0 -2.9h-6.8M672.5 573.6v2.9m-3.4 0h6.8m0 -2.9h-6.8M673.0 573.1v2.9m-3.4 0h6.8m0 -2.9h-6.8M673.5 574.4v2.9m-3.4 0h6.8m0 -2.9h-6.8M673.9 573.6v2.9m-3.4 0h6.8m0 -2.9h-6.8M674.4 573.9v2.9m-3.4 0h6.8m0 -2.9h-6.8M674.9 573.6v2.9m-3.4 0h6.8m0 -2.9h-6.8M675.4 573.6v2.9m-3.4 0h6.8m0 -2.9h-6.8M675.8 574.0v2.9m-3.4 0h6.8m0 -2.9h-6.8M676.3 573.9v2.9m-3.4 0h6.8m0 -2.9h-6.8M676.8 573.3v2.9m-3.4 0h6.8m0 -2.9h-6.8M677.3 573.5v2.9m-3.4 0h6.8m0 -2.9h-6.8M677.7 573.9v2.9m-3.4 0h6.8m0 -2.9h-6.8M678.2 572.8v2.9m-3.4 0h6.8m0 -2.9h-6.8M678.7 572.7v2.9m-3.4 0h6.8m0 -2.9h-6.8M679.2 574.1v2.9m-3.4 0h6.8m0 -2.9h-6.8M679.6 573.4v2.9m-3.4 0h6.8m0 -2.9h-6.8M680.1 572.5v2.9m-3.4 0h6.8m0 -2.9h-6.8M680.6 573.2v2.9m-3.4 0h6.8m0 -2.9h-6.8M681.1 573.4v2.9m-3.4 0h6.8m0 -2.9h-6.8M681.5 573.5v2.9m-3.4 0h6.8m0 -2.9h-6.8M682.0 573.7v2.9m-3.4 0h6.8m0 -2.9h-6.8M682.5 573.6v2.9m-3.4 0h6.8m0 -2.9h-6.8M683.0 573.8v2.9m-3.4 0h6.8m0 -2.9h-6.8M683.4 573.4v2.9m-3.4 0h6.8m0 -2.9h-6.8M683.9 573.8v2.9m-3.4 0h6.8m0 -2.9h-6.8M684.4 573.9v2.9m-3.4 0h6.8m0 -2.9h-6.8M684.8 574.3v2.9m-3.4 0h6.8m0 -2.9h-6.8M685.3 573.9v2.9m-3.4 0h6.8m0 -2.9h-6.8M685.8 574.3v2.9m-3.4 0h6.8m0 -2.9h-6.8M686.3 574.0v2.9m-3.4 0h6.8m0 -2.9h-6.8M686.7 573.6v2.9m-3.4 0h6.8m0 -2.9h-6.8M687.2 573.9v2.9m-3.4 0h6.8m0 -2.9h-6.8M687.7 573.9v2.9m-3.4 0h6.8m0 -2.9h-6.8M688.2 574.0v2.9m-3.4 0h6.8m0 -2.9h-6.8M688.6 574.1v2.9m-3.4 0h6.8m0 -2.9h-6.8M689.1 574.2v2.9m-3.4 0h6.8m0 -2.9h-6.8M689.6 574.3v2.9m-3.4 0h6.8m0 -2.9h-6.8M690.1 573.8v2.9m-3.4 0h6.8m0 -2.9h-6.8M690.5 574.5v2.9m-3.4 0h6.8m0 -2.9h-6.8M691.0 573.6v2.9m-3.4 0h6.8m0 -2.9h-6.8M691.5 574.1v2.9m-3.4 0h6.8m0 -2.9h-6.8M692.0 574.4v2.9m-3.4 0h6.8m0 -2.9h-6.8M692.4 574.3v2.9m-3.4 0h6.8m0 -2.9h-6.8M692.9 574.4v2.9m-3.4 0h6.8m0 -2.9h-6.8M693.4 574.0v2.9m-3.4 0h6.8m0 -2.9h-6.8M693.9 574.4v2.9m-3.4 0h6.8m0 -2.9h-6.8M694.3 573.7v2.9m-3.4 0h6.8m0 -2.9h-6.8M694.8 574.4v2.9m-3.4 0h6.8m0 -2.9h-6.8M695.3 574.9v2.9m-3.4 0h6.8m0 -2.9h-6.8M695.8 574.4v2.9m-3.4 0h6.8m0 -2.9h-6.8M696.2 574.8v2.9m-3.4 0h6.8m0 -2.9h-6.8M696.7 574.1v2.9m-3.4 0h6.8m0 -2.9h-6.8M697.2 573.7v2.9m-3.4 0h6.8m0 -2.9h-6.8M697.7 573.9v2.9m-3.4 0h6.8m0 -2.9h-6.8M698.1 574.6v2.9m-3.4 0h6.8m0 -2.9h-6.8M698.6 574.4v2.9m-3.4 0h6.8m0 -2.9h-6.8M699.1 573.4v2.9m-3.4 0h6.8m0 -2.9h-6.8M699.6 574.0v2.9m-3.4 0h6.8m0 -2.9h-6.8M700.0 574.1v2.9m-3.4 0h6.8m0 -2.9h-6.8M700.5 573.7v2.9m-3.4 0h6.8m0 -2.9h-6.8M701.0 573.2v2.9m-3.4 0h6.8m0 -2.9h-6.8M701.5 573.7v2.9m-3.4 0h6.8m0 -2.9h-6.8M701.9 574.1v2.9m-3.4 0h6.8m0 -2.9h-6.8M702.4 574.0v2.9m-3.4 0h6.8m0 -2.9h-6.8M702.9 573.9v2.9m-3.4 0h6.8m0 -2.9h-6.8M703.4 574.4v2.9m-3.4 0h6.8m0 -2.9h-6.8M703.8 574.6v2.9m-3.4 0h6.8m0 -2.9h-6.8M704.3 574.2v2.9m-3.4 0h6.8m0 -2.9h-6.8M704.8 574.6v2.9m-3.4 0h6.8m0 -2.9h-6.8M705.3 574.2v2.9m-3.4 0h6.8m0 -2.9h-6.8M705.7 574.2v2.9m-3.4 0h6.8m0 -2.9h-6.8M706.2 573.3v2.9m-3.4 0h6.8m0 -2.9h-6.8M706.7 574.5v2.9m-3.4 0h6.8m0 -2.9h-6.8M707.2 574.2v2.9m-3.4 0h6.8m0 -2.9h-6.8M707.6 574.3v2.9m-3.4 0h6.8m0 -2.9h-6.8M708.1 574.0v2.9m-3.4 0h6.8m0 -2.9h-6.8M708.6 573.8v2.9m-3.4 0h6.8m0 -2.9h-6.8M709.0 574.4v2.9m-3.4 0h6.8m0 -2.9h-6.8M709.5 574.5v2.9m-3.4 0h6.8m0 -2.9h-6.8M710.0 574.8v2.9m-3.4 0h6.8m0 -2.9h-6.8M710.5 574.5v2.9m-3.4 0h6.8m0 -2.9h-6.8M710.9 574.0v2.9m-3.4 0h6.8m0 -2.9h-6.8M711.4 574.2v2.9m-3.4 0h6.8m0 -2.9h-6.8M711.9 574.6v2.9m-3.4 0h6.8m0 -2.9h-6.8M712.4 574.3v2.9m-3.4 0h6.8m0 -2.9h-6.8M712.8 574.2v2.9m-3.4 0h6.8m0 -2.9h-6.8M713.3 574.0v2.9m-3.4 0h6.8m0 -2.9h-6.8M713.8 574.5v2.9m-3.4 0h6.8m0 -2.9h-6.8M714.3 574.3v2.9m-3.4 0h6.8m0 -2.9h-6.8M714.7 575.0v2.9m-3.4 0h6.8m0 -2.9h-6.8M715.2 574.7v2.9m-3.4 0h6.8m0 -2.9h-6.8M715.7 573.7v2.9m-3.4 0h6.8m0 -2.9h-6.8M716.2 575.2v2.9m-3.4 0h6.8m0 -2.9h-6.8M716.6 574.5v2.9m-3.4 0h6.8m0 -2.9h-6.8M717.1 574.3v2.9m-3.4 0h6.8m0 -2.9h-6.8M717.6 574.5v2.9m-3.4 0h6.8m0 -2.9h-6.8M718.1 574.7v2.9m-3.4 0h6.8m0 -2.9h-6.8M718.5 574.4v2.9m-3.4 0h6.8m0 -2.9h-6.8M719.0 574.4v2.9m-3.4 0h6.8m0 -2.9h-6.8M719.5 574.5v2.9m-3.4 0h6.8m0 -2.9h-6.8M720.0 575.2v2.9m-3.4 0h6.8m0 -2.9h-6.8M720.4 574.5v2.9m-3.4 0h6.8m0 -2.9h-6.8M720.9 574.8v2.9m-3.4 0h6.8m0 -2.9h-6.8M721.4 574.7v2.9m-3.4 0h6.8m0 -2.9h-6.8M721.9 574.5v2.9m-3.4 0h6.8m0 -2.9h-6.8M722.3 574.3v2.9m-3.4 0h6.8m0 -2.9h-6.8M722.8 574.2v2.9m-3.4 0h6.8m0 -2.9h-6.8M723.3 574.8v2.9m-3.4 0h6.8m0 -2.9h-6.8M723.8 574.2v2.9m-3.4 0h6.8m0 -2.9h-6.8M724.2 574.1v2.9m-3.4 0h6.8m0 -2.9h-6.8M724.7 574.1v2.9m-3.4 0h6.8m0 -2.9h-6.8M725.2 574.0v2.9m-3.4 0h6.8m0 -2.9h-6.8M725.7 574.6v2.9m-3.4 0h6.8m0 -2.9h-6.8M726.1 574.6v2.9m-3.4 0h6.8m0 -2.9h-6.8M726.6 574.2v2.9m-3.4 0h6.8m0 -2.9h-6.8M727.1 575.0v2.9m-3.4 0h6.8m0 -2.9h-6.8M727.6 574.4v2.9m-3.4 0h6.8m0 -2.9h-6.8M728.0 574.6v2.9m-3.4 0h6.8m0 -2.9h-6.8M728.5 574.6v2.9m-3.4 0h6.8m0 -2.9h-6.8M729.0 575.1v2.9m-3.4 0h6.8m0 -2.9h-6.8M729.5 574.7v2.9m-3.4 0h6.8m0 -2.9h-6.8M729.9 574.4v2.9m-3.4 0h6.8m0 -2.9h-6.8M730.4 574.0v2.9m-3.4 0h6.8m0 -2.9h-6.8M730.9 574.0v2.9m-3.4 0h6.8m0 -2.9h-6.8M731.4 574.4v2.9m-3.4 0h6.8m0 -2.9h-6.8M731.8 574.4v2.9m-3.4 0h6.8m0 -2.9h-6.8M732.3 574.7v2.9m-3.4 0h6.8m0 -2.9h-6.8M732.8 574.3v2.9m-3.4 0h6.8m0 -2.9h-6.8M733.2 574.5v2.9m-3.4 0h6.8m0 -2.9h-6.8M733.7 574.3v2.9m-3.4 0h6.8m0 -2.9h-6.8M734.2 573.9v2.9m-3.4 0h6.8m0 -2.9h-6.8M734.7 574.6v2.9m-3.4 0h6.8m0 -2.9h-6.8M735.1 575.2v2.9m-3.4 0h6.8m0 -2.9h-6.8M735.6 575.0v2.9m-3.4 0h6.8m0 -2.9h-6.8M736.1 575.2v2.9m-3.4 0h6.8m0 -2.9h-6.8M736.6 575.2v2.9m-3.4 0h6.8m0 -2.9h-6.8M737.0 574.3v2.9m-3.4 0h6.8m0 -2.9h-6.8M737.5 574.7v2.9m-3.4 0h6.8m0 -2.9h-6.8M738.0 575.4v2.9m-3.4 0h6.8m0 -2.9h-6.8M738.5 574.6v2.9m-3.4 0h6.8m0 -2.9h-6.8M738.9 574.4v2.9m-3.4 0h6.8m0 -2.9h-6.8M739.4 575.0v2.9m-3.4 0h6.8m0 -2.9h-6.8M739.9 575.1v2.9m-3.4 0h6.8m0 -2.9h-6.8M740.4 574.9v2.9m-3.4 0h6.8m0 -2.9h-6.8M740.8 574.7v2.9m-3.4 0h6.8m0 -2.9h-6.8M741.3 574.5v2.9m-3.4 0h6.8m0 -2.9h-6.8M741.8 574.2v2.9m-3.4 0h6.8m0 -2.9h-6.8M742.3 574.2v2.9m-3.4 0h6.8m0 -2.9h-6.8M742.7 574.2v2.9m-3.4 0h6.8m0 -2.9h-6.8M743.2 574.1v2.9m-3.4 0h6.8m0 -2.9h-6.8M743.7 574.3v2.9m-3.4 0h6.8m0 -2.9h-6.8M744.2 575.1v2.9m-3.4 0h6.8m0 -2.9h-6.8M744.6 574.5v2.9m-3.4 0h6.8m0 -2.9h-6.8M745.1 574.3v2.9m-3.4 0h6.8m0 -2.9h-6.8M745.6 574.5v2.9m-3.4 0h6.8m0 -2.9h-6.8M746.1 574.0v2.9m-3.4 0h6.8m0 -2.9h-6.8M746.5 574.5v2.9m-3.4 0h6.8m0 -2.9h-6.8M747.0 574.7v2.9m-3.4 0h6.8m0 -2.9h-6.8M747.5 573.8v2.9m-3.4 0h6.8m0 -2.9h-6.8M748.0 574.1v2.9m-3.4 0h6.8m0 -2.9h-6.8M748.4 574.3v2.9m-3.4 0h6.8m0 -2.9h-6.8M748.9 574.1v2.9m-3.4 0h6.8m0 -2.9h-6.8M749.4 574.0v2.9m-3.4 0h6.8m0 -2.9h-6.8M749.9 574.3v2.9m-3.4 0h6.8m0 -2.9h-6.8M750.3 575.4v2.9m-3.4 0h6.8m0 -2.9h-6.8M750.8 574.7v2.9m-3.4 0h6.8m0 -2.9h-6.8M751.3 574.6v2.9m-3.4 0h6.8m0 -2.9h-6.8M751.8 574.9v2.9m-3.4 0h6.8m0 -2.9h-6.8M752.2 574.4v2.9m-3.4 0h6.8m0 -2.9h-6.8M752.7 574.0v2.9m-3.4 0h6.8m0 -2.9h-6.8M753.2 574.7v2.9m-3.4 0h6.8m0 -2.9h-6.8M753.7 575.0v2.9m-3.4 0h6.8m0 -2.9h-6.8M754.1 573.8v2.9m-3.4 0h6.8m0 -2.9h-6.8M754.6 574.7v2.9m-3.4 0h6.8m0 -2.9h-6.8M755.1 575.0v2.9m-3.4 0h6.8m0 -2.9h-6.8M755.6 574.5v2.9m-3.4 0h6.8m0 -2.9h-6.8M756.0 574.4v2.9m-3.4 0h6.8m0 -2.9h-6.8M756.5 574.9v2.9m-3.4 0h6.8m0 -2.9h-6.8M757.0 574.3v2.9m-3.4 0h6.8m0 -2.9h-6.8M757.4 574.8v2.9m-3.4 0h6.8m0 -2.9h-6.8M757.9 574.9v2.9m-3.4 0h6.8m0 -2.9h-6.8M758.4 574.5v2.9m-3.4 0h6.8m0 -2.9h-6.8M758.9 574.3v2.9m-3.4 0h6.8m0 -2.9h-6.8M759.3 574.8v2.9m-3.4 0h6.8m0 -2.9h-6.8M759.8 574.4v2.9m-3.4 0h6.8m0 -2.9h-6.8M760.3 574.6v2.9m-3.4 0h6.8m0 -2.9h-6.8M760.8 573.4v2.9m-3.4 0h6.8m0 -2.9h-6.8M761.2 574.8v2.9m-3.4 0h6.8m0 -2.9h-6.8M761.7 574.0v2.9m-3.4 0h6.8m0 -2.9h-6.8M762.2 574.5v2.9m-3.4 0h6.8m0 -2.9h-6.8M762.7 574.5v2.9m-3.4 0h6.8m0 -2.9h-6.8M763.1 574.2v2.9m-3.4 0h6.8m0 -2.9h-6.8M763.6 574.1v2.9m-3.4 0h6.8m0 -2.9h-6.8M764.1 574.0v2.9m-3.4 0h6.8m0 -2.9h-6.8M764.6 574.3v2.9m-3.4 0h6.8m0 -2.9h-6.8M765.0 574.7v2.9m-3.4 0h6.8m0 -2.9h-6.8M765.5 574.7v2.9m-3.4 0h6.8m0 -2.9h-6.8M766.0 574.3v2.9m-3.4 0h6.8m0 -2.9h-6.8M766.5 574.3v2.9m-3.4 0h6.8m0 -2.9h-6.8M766.9 574.0v2.9m-3.4 0h6.8m0 -2.9h-6.8M767.4 574.5v2.9m-3.4 0h6.8m0 -2.9h-6.8M767.9 574.2v2.9m-3.4 0h6.8m0 -2.9h-6.8M768.4 574.1v2.9m-3.4 0h6.8m0 -2.9h-6.8M768.8 574.7v2.9m-3.4 0h6.8m0 -2.9h-6.8M769.3 575.3v2.9m-3.4 0h6.8m0 -2.9h-6.8M769.8 575.2v2.9m-3.4 0h6.8m0 -2.9h-6.8M770.3 575.4v2.9m-3.4 0h6.8m0 -2.9h-6.8M770.7 574.3v2.9m-3.4 0h6.8m0 -2.9h-6.8M771.2 575.2v2.9m-3.4 0h6.8m0 -2.9h-6.8M771.7 574.4v2.9m-3.4 0h6.8m0 -2.9h-6.8M772.2 574.7v2.9m-3.4 0h6.8m0 -2.9h-6.8M772.6 574.2v2.9m-3.4 0h6.8m0 -2.9h-6.8M773.1 574.5v2.9m-3.4 0h6.8m0 -2.9h-6.8M773.6 574.9v2.9m-3.4 0h6.8m0 -2.9h-6.8M774.1 575.0v2.9m-3.4 0h6.8m0 -2.9h-6.8M774.5 574.8v2.9m-3.4 0h6.8m0 -2.9h-6.8M775.0 574.8v2.9m-3.4 0h6.8m0 -2.9h-6.8M775.5 575.1v2.9m-3.4 0h6.8m0 -2.9h-6.8M776.0 574.8v2.9m-3.4 0h6.8m0 -2.9h-6.8M776.4 574.0v2.9m-3.4 0h6.8m0 -2.9h-6.8M776.9 575.2v2.9m-3.4 0h6.8m0 -2.9h-6.8M777.4 574.3v2.9m-3.4 0h6.8m0 -2.9h-6.8M777.9 574.6v2.9m-3.4 0h6.8m0 -2.9h-6.8M778.3 574.1v2.9m-3.4 0h6.8m0 -2.9h-6.8M778.8 573.7v2.9m-3.4 0h6.8m0 -2.9h-6.8M779.3 574.0v2.9m-3.4 0h6.8m0 -2.9h-6.8M779.7 573.6v2.9m-3.4 0h6.8m0 -2.9h-6.8M780.2 574.4v2.9m-3.4 0h6.8m0 -2.9h-6.8M780.7 573.4v2.9m-3.4 0h6.8m0 -2.9h-6.8M781.2 574.1v2.9m-3.4 0h6.8m0 -2.9h-6.8M781.6 573.6v2.9m-3.4 0h6.8m0 -2.9h-6.8M782.1 573.8v2.9m-3.4 0h6.8m0 -2.9h-6.8M782.6 574.8v2.9m-3.4 0h6.8m0 -2.9h-6.8M783.1 574.1v2.9m-3.4 0h6.8m0 -2.9h-6.8M783.5 573.7v2.9m-3.4 0h6.8m0 -2.9h-6.8M784.0 573.2v2.9m-3.4 0h6.8m0 -2.9h-6.8M784.5 573.7v2.9m-3.4 0h6.8m0 -2.9h-6.8M785.0 573.7v2.9m-3.4 0h6.8m0 -2.9h-6.8M785.4 574.3v2.9m-3.4 0h6.8m0 -2.9h-6.8M785.9 573.2v2.9m-3.4 0h6.8m0 -2.9h-6.8M786.4 573.1v2.9m-3.4 0h6.8m0 -2.9h-6.8M786.9 573.8v2.9m-3.4 0h6.8m0 -2.9h-6.8M787.3 573.9v2.9m-3.4 0h6.8m0 -2.9h-6.8M787.8 574.4v2.9m-3.4 0h6.8m0 -2.9h-6.8M788.3 573.4v2.9m-3.4 0h6.8m0 -2.9h-6.8M788.8 572.7v2.9m-3.4 0h6.8m0 -2.9h-6.8M789.2 573.5v2.9m-3.4 0h6.8m0 -2.9h-6.8M789.7 573.3v2.9m-3.4 0h6.8m0 -2.9h-6.8M790.2 573.6v2.9m-3.4 0h6.8m0 -2.9h-6.8M790.7 574.1v2.9m-3.4 0h6.8m0 -2.9h-6.8M791.1 573.3v2.9m-3.4 0h6.8m0 -2.9h-6.8M791.6 574.2v2.9m-3.4 0h6.8m0 -2.9h-6.8M792.1 573.8v2.9m-3.4 0h6.8m0 -2.9h-6.8M792.6 573.7v2.9m-3.4 0h6.8m0 -2.9h-6.8M793.0 573.4v2.9m-3.4 0h6.8m0 -2.9h-6.8M793.5 573.6v2.9m-3.4 0h6.8m0 -2.9h-6.8M794.0 573.6v2.9m-3.4 0h6.8m0 -2.9h-6.8M794.5 574.1v2.9m-3.4 0h6.8m0 -2.9h-6.8M794.9 574.3v2.9m-3.4 0h6.8m0 -2.9h-6.8M795.4 573.7v2.9m-3.4 0h6.8m0 -2.9h-6.8M795.9 574.0v2.9m-3.4 0h6.8m0 -2.9h-6.8M796.4 574.3v2.9m-3.4 0h6.8m0 -2.9h-6.8M796.8 574.3v2.9m-3.4 0h6.8m0 -2.9h-6.8" fill="none" stroke="#0000ff" stroke-width="2.0"/>
<path d="M157.7 115.8h0M158.2 118.3h0M158.6 121.1h0M159.1 123.8h0M159.6 126.2h0M160.1 128.9h0M160.5 131.0h0M161.0 133.1h0M161.5 136.9h0M162.0 140.0h0M162.4 142.6h0M162.9 145.7h0M163.4 148.1h0M163.8 150.6h0M164.3 152.3h0M164.8 154.1h0M165.3 156.9h0M165.7 158.6h0M166.2 161.3h0M166.7 163.3h0M167.2 165.6h0M167.6 167.6h0M168.1 170.5h0M168.6 172.4h0M169.1 174.8h0M169.5 177.2h0M170.0 180.3h0M170.5 181.7h0M171.0 183.7h0M171.4 185.8h0M171.9 188.5h0M172.4 190.3h0M172.9 192.6h0M173.3 194.6h0M173.8 196.0h0M174.3 198.8h0M174.8 200.5h0M175.2 202.2h0M175.7 204.8h0M176.2 206.6h0M176.7 208.5h0M177.1 210.4h0M177.6 213.4h0M178.1 215.4h0M178.6 217.4h0M179.0 221.0h0M179.5 222.5h0M180.0 225.2h0M180.5 227.9h0M180.9 229.3h0M181.4 232.2h0M181.9 235.2h0M182.4 236.6h0M182.8 238.3h0M183.3 240.5h0M183.8 242.1h0M184.3 244.2h0M184.7 245.8h0M185.2 247.3h0M185.7 249.9h0M186.2 251.4h0M186.6 253.4h0M187.1 255.0h0M187.6 257.2h0M188.0 258.8h0M188.5 260.5h0M189.0 261.9h0M189.5 263.5h0M189.9 266.2h0M190.4 267.8h0M190.9 269.0h0M191.4 271.7h0M191.8 272.8h0M192.3 274.4h0M192.8 275.7h0M193.3 277.6h0M193.7 279.8h0M194.2 281.5h0M194.7 283.1h0M195.2 284.2h0M195.6 286.6h0M196.1 288.1h0M196.6 289.4h0M197.1 291.0h0M197.5 292.5h0M198.0 294.3h0M198.5 295.3h0M199.0 296.9h0M199.4 298.0h0M199.9 300.0h0M200.4 302.1h0M200.9 303.7h0M201.3 305.8h0M201.8 307.1h0M202.3 309.3h0M202.8 310.7h0M203.2 312.7h0M203.7 313.4h0M204.2 315.5h0M204.7 316.8h0M205.1 317.5h0M205.6 318.9h0M206.1 319.8h0M206.6 320.2h0M207.0 322.6h0M207.5 323.8h0M208.0 325.0h0M208.5 326.5h0M208.9 328.3h0M209.4 329.8h0M209.9 331.0h0M210.3 332.6h0M210.8 334.5h0M211.3 335.3h0M211.8 336.3h0M212.2 337.9h0M212.7 338.5h0M213.2 340.0h0M213.7 340.3h0M214.1 341.7h0M214.6 342.8h0M215.1 344.4h0M215.6 345.6h0M216.0 347.7h0M216.5 348.8h0M217.0 349.6h0M217.5 351.9h0M217.9 352.2h0M218.4 354.5h0M218.9 355.0h0M219.4 356.9h0M219.8 357.6h0M220.3 359.1h0M220.8 360.9h0M221.3 361.0h0M221.7 362.0h0M222.2 363.7h0M222.7 364.9h0M223.2 366.0h0M223.6 367.4h0M224.1 367.7h0M224.6 369.5h0M225.1 370.4h0M225.5 371.7h0M226.0 372.7h0M226.5 374.0h0M227.0 374.1h0M227.4 375.7h0M227.9 376.1h0M228.4 377.4h0M228.9 378.5h0M229.3 379.2h0M229.8 380.3h0M230.3 381.2h0M230.8 382.4h0M231.2 383.4h0M231.7 384.8h0M232.2 385.6h0M232.7 385.7h0M233.1 387.5h0M233.6 388.7h0M234.1 389.2h0M234.5 389.7h0M235.0 391.8h0M235.5 392.3h0M236.0 393.4h0M236.4 394.8h0M236.9 394.8h0M237.4 396.0h0M237.9 397.0h0M238.3 398.2h0M238.8 398.7h0M239.3 400.1h0M239.8 400.9h0M240.2 402.2h0M240.7 403.1h0M241.2 403.1h0M241.7 404.7h0M242.1 405.3h0M242.6 406.4h0M243.1 407.4h0M243.6 408.4h0M244.0 408.8h0M244.5 410.1h0M245.0 410.9h0M245.5 411.7h0M245.9 412.1h0M246.4 413.1h0M246.9 414.0h0M247.4 415.2h0M247.8 416.3h0M248.3 416.2h0M248.8 417.0h0M249.3 418.3h0M249.7 418.8h0M250.2 419.5h0M250.7 420.2h0M251.2 421.0h0M251.6 422.2h0M252.1 422.2h0M252.6 423.9h0M253.1 423.8h0M253.5 424.7h0M254.0 425.2h0M254.5 425.5h0M255.0 426.3h0M255.4 428.0h0M255.9 429.0h0M256.4 428.9h0M256.9 430.4h0M257.3 430.8h0M257.8 431.3h0M258.3 433.1h0M258.7 434.0h0M259.2 434.0h0M259.7 434.8h0M260.2 435.7h0M260.6 436.4h0M261.1 437.4h0M261.6 438.4h0M262.1 438.5h0M262.5 439.5h0M263.0 440.4h0M263.5 440.3h0M264.0 441.2h0M264.4 441.6h0M264.9 442.8h0M265.4 443.3h0M265.9 444.1h0M266.3 444.7h0M266.8 444.9h0M267.3 446.0h0M267.8 446.2h0M268.2 446.9h0M268.7 446.9h0M269.2 448.9h0M269.7 448.7h0M270.1 449.7h0M270.6 450.4h0M271.1 451.6h0M271.6 451.8h0M272.0 451.9h0M272.5 452.8h0M273.0 453.3h0M273.5 454.0h0M273.9 454.0h0M274.4 455.0h0M274.9 456.4h0M275.4 456.4h0M275.8 457.4h0M276.3 458.4h0M276.8 457.9h0M277.3 457.8h0M277.7 458.8h0M278.2 459.8h0M278.7 460.2h0M279.2 460.0h0M279.6 460.9h0M280.1 461.5h0M280.6 462.1h0M281.1 462.6h0M281.5 462.9h0M282.0 463.5h0M282.5 464.2h0M282.9 465.2h0M283.4 465.2h0M283.9 466.2h0M284.4 466.0h0M284.8 467.5h0M285.3 467.6h0M285.8 468.0h0M286.3 469.1h0M286.7 468.4h0M287.2 469.1h0M287.7 470.3h0M288.2 470.4h0M288.6 471.0h0M289.1 472.7h0M289.6 472.1h0M290.1 472.8h0M290.5 473.2h0M291.0 474.2h0M291.5 474.4h0M292.0 474.9h0M292.4 474.9h0M292.9 475.7h0M293.4 476.3h0M293.9 476.3h0M294.3 477.6h0M294.8 478.0h0M295.3 479.1h0M295.8 478.3h0M296.2 479.0h0M296.7 479.6h0M297.2 480.2h0M297.7 480.9h0M298.1 481.3h0M298.6 482.0h0M299.1 482.5h0M299.6 482.9h0M300.0 482.8h0M300.5 483.7h0M301.0 484.4h0M301.5 485.0h0M301.9 485.5h0M302.4 485.1h0M302.9 486.0h0M303.4 486.6h0M303.8 487.2h0M304.3 487.9h0M304.8 488.0h0M305.2 488.1h0M305.7 489.0h0M306.2 489.4h0M306.7 489.8h0M307.1 490.1h0M307.6 491.2h0M308.1 491.1h0M308.6 491.8h0M309.0 491.5h0M309.5 492.5h0M310.0 492.4h0M310.5 492.5h0M310.9 493.5h0M311.4 494.0h0M311.9 494.1h0M312.4 494.6h0M312.8 495.3h0M313.3 495.2h0M313.8 494.9h0M314.3 496.2h0M314.7 496.5h0M315.2 497.2h0M315.7 497.1h0M316.2 498.0h0M316.6 498.3h0M317.1 497.8h0M317.6 499.0h0M318.1 498.6h0M318.5 498.8h0M319.0 499.6h0M319.5 499.9h0M320.0 499.7h0M320.4 500.9h0M320.9 501.4h0M321.4 502.0h0M321.9 501.9h0M322.3 501.8h0M322.8 502.5h0M323.3 503.6h0M323.8 504.0h0M324.2 504.3h0M324.7 504.5h0M325.2 505.1h0M325.7 505.3h0M326.1 505.7h0M326.6 506.4h0M327.1 506.7h0M327.6 507.0h0M328.0 507.4h0M328.5 507.5h0M329.0 507.4h0M329.4 508.2h0M329.9 508.7h0M330.4 509.6h0M330.9 509.2h0M331.3 510.4h0M331.8 510.5h0M332.3 510.0h0M332.8 510.3h0M333.2 510.9h0M333.7 511.8h0M334.2 511.6h0M334.7 512.1h0M335.1 511.9h0M335.6 511.6h0M336.1 512.6h0M336.6 513.3h0M337.0 513.8h0M337.5 513.6h0M338.0 514.0h0M338.5 514.6h0M338.9 514.5h0M339.4 515.2h0M339.9 514.7h0M340.4 515.0h0M340.8 515.3h0M341.3 516.2h0M341.8 516.1h0M342.3 516.7h0M342.7 517.1h0M343.2 517.4h0M343.7 518.1h0M344.2 518.4h0M344.6 517.9h0M345.1 518.6h0M345.6 518.7h0M346.1 518.7h0M346.5 520.0h0M347.0 520.0h0M347.5 519.9h0M348.0 520.1h0M348.4 520.7h0M348.9 520.4h0M349.4 521.0h0M349.9 521.8h0M350.3 522.0h0M350.8 521.6h0M351.3 522.0h0M351.8 523.1h0M352.2 522.1h0M352.7 522.7h0M353.2 522.7h0M353.6 523.6h0M354.1 523.8h0M354.6 524.3h0M355.1 523.2h0M355.5 524.5h0M356.0 524.1h0M356.5 525.1h0M357.0 525.1h0M357.4 526.0h0M357.9 525.8h0M358.4 525.5h0M358.9 526.6h0M359.3 525.9h0M359.8 526.4h0M360.3 527.2h0M360.8 527.2h0M361.2 527.4h0M361.7 527.5h0M362.2 527.9h0M362.7 528.2h0M363.1 528.3h0M363.6 528.8h0M364.1 529.1h0M364.6 528.8h0M365.0 528.7h0M365.5 529.9h0M366.0 529.5h0M366.5 530.0h0M366.9 530.3h0M367.4 529.9h0M367.9 530.6h0M368.4 530.1h0M368.8 531.2h0M369.3 531.0h0M369.8 531.4h0M370.3 531.8h0M370.7 531.5h0M371.2 532.0h0M371.7 531.9h0M372.2 532.3h0M372.6 532.8h0M373.1 532.5h0M373.6 532.6h0M374.1 532.4h0M374.5 533.2h0M375.0 533.0h0M375.5 533.7h0M376.0 533.1h0M376.4 533.9h0M376.9 534.4h0M377.4 534.0h0M377.8 533.7h0M378.3 534.9h0M378.8 535.0h0M379.3 535.1h0M379.7 535.4h0M380.2 535.0h0M380.7 535.7h0M381.2 535.9h0M381.6 535.6h0M382.1 536.3h0M382.6 536.0h0M383.1 536.8h0M383.5 537.1h0M384.0 537.5h0M384.5 536.3h0M385.0 537.3h0M385.4 537.3h0M385.9 537.6h0M386.4 537.8h0M386.9 538.0h0M387.3 537.5h0M387.8 538.8h0M388.3 539.2h0M388.8 539.2h0M389.2 539.5h0M389.7 538.9h0M390.2 539.1h0M390.7 539.9h0M391.1 540.2h0M391.6 540.0h0M392.1 539.5h0M392.6 541.3h0M393.0 540.2h0M393.5 541.0h0M394.0 540.3h0M394.5 541.3h0M394.9 541.1h0M395.4 541.8h0M395.9 541.7h0M396.4 541.0h0M396.8 541.4h0M397.3 542.1h0M397.8 542.5h0M398.3 543.0h0M398.7 542.7h0M399.2 542.7h0M399.7 542.9h0M400.1 543.1h0M400.6 543.7h0M401.1 543.5h0M401.6 543.7h0M402.0 543.4h0M402.5 543.4h0M403.0 544.3h0M403.5 544.7h0M403.9 544.7h0M404.4 545.0h0M404.9 545.3h0M405.4 545.2h0M405.8 545.8h0M406.3 545.3h0M406.8 545.8h0M407.3 545.8h0M407.7 546.2h0M408.2 546.6h0M408.7 546.8h0M409.2 546.7h0M409.6 546.9h0M410.1 546.7h0M410.6 546.9h0M411.1 547.6h0M411.5 547.1h0M412.0 547.8h0M412.5 547.6h0M413.0 547.6h0M413.4 548.3h0M413.9 547.6h0M414.4 547.7h0M414.9 547.9h0M415.3 548.2h0M415.8 548.3h0M416.3 548.7h0M416.8 548.5h0M417.2 548.8h0M417.7 548.7h0M418.2 549.3h0M418.7 548.9h0M419.1 549.1h0M419.6 549.3h0M420.1 549.6h0M420.6 549.4h0M421.0 550.3h0M421.5 549.7h0M422.0 549.9h0M422.5 550.0h0M422.9 550.1h0M423.4 550.7h0M423.9 550.6h0M424.3 550.4h0M424.8 550.6h0M425.3 550.8h0M425.8 551.5h0M426.2 550.8h0M426.7 550.7h0M427.2 550.8h0M427.7 551.2h0M428.1 552.0h0M428.6 551.2h0M429.1 551.7h0M429.6 552.7h0M430.0 551.7h0M430.5 552.5h0M431.0 552.5h0M431.5 552.3h0M431.9 551.7h0M432.4 552.5h0M432.9 552.4h0M433.4 552.0h0M433.8 552.2h0M434.3 553.0h0M434.8 553.2h0M435.3 553.7h0M435.7 553.7h0M436.2 553.4h0M436.7 553.6h0M437.2 553.8h0M437.6 553.6h0M438.1 554.4h0M438.6 554.2h0M439.1 553.9h0M439.5 554.0h0M440.0 553.9h0M440.5 554.2h0M441.0 554.5h0M441.4 554.3h0M441.9 554.8h0M442.4 555.1h0M442.9 554.5h0M443.3 554.9h0M443.8 554.9h0M444.3 555.8h0M444.8 555.5h0M445.2 555.7h0M445.7 556.0h0M446.2 556.7h0M446.7 556.1h0M447.1 555.8h0M447.6 556.2h0M448.1 556.7h0M448.5 556.6h0M449.0 556.5h0M449.5 558.0h0M450.0 557.1h0M450.4 557.1h0M450.9 557.1h0M451.4 556.9h0M451.9 557.2h0M452.3 557.6h0M452.8 557.7h0M453.3 557.7h0M453.8 558.3h0M454.2 558.2h0M454.7 558.0h0M455.2 557.7h0M455.7 558.6h0M456.1 558.6h0M456.6 558.7h0M457.1 558.3h0M457.6 559.0h0M458.0 558.5h0M458.5 559.5h0M459.0 559.4h0M459.5 559.5h0M459.9 559.2h0M460.4 559.2h0M460.9 560.2h0M461.4 560.1h0M461.8 559.7h0M462.3 560.2h0M462.8 560.6h0M463.3 559.7h0M463.7 560.0h0M464.2 560.1h0M464.7 560.6h0M465.2 560.1h0M465.6 560.6h0M466.1 560.2h0M466.6 561.1h0M467.1 561.1h0M467.5 560.8h0M468.0 561.3h0M468.5 560.8h0M469.0 561.1h0M469.4 561.6h0M469.9 561.3h0M470.4 561.6h0M470.9 561.2h0M471.3 561.9h0M471.8 561.9h0M472.3 561.4h0M472.7 561.1h0M473.2 561.2h0M473.7 562.1h0M474.2 562.1h0M474.6 561.7h0M475.1 562.4h0M475.6 562.8h0M476.1 562.5h0M476.5 562.5h0M477.0 563.1h0M477.5 563.5h0M478.0 563.5h0M478.4 562.8h0M478.9 563.4h0M479.4 563.3h0M479.9 563.2h0M480.3 563.1h0M480.8 563.5h0M481.3 563.3h0M481.8 563.9h0M482.2 563.7h0M482.7 564.0h0M483.2 563.3h0M483.7 563.8h0M484.1 564.1h0M484.6 564.0h0M485.1 564.0h0M485.6 563.7h0M486.0 564.6h0M486.5 564.5h0M487.0 564.3h0M487.5 563.2h0M487.9 563.9h0M488.4 564.4h0M488.9 564.1h0M489.4 563.7h0M489.8 564.6h0M490.3 564.7h0M490.8 564.2h0M491.3 564.5h0M491.7 564.5h0M492.2 565.0h0M492.7 564.1h0M493.2 564.3h0M493.6 564.7h0M494.1 564.8h0M494.6 565.8h0M495.0 564.9h0M495.5 565.3h0M496.0 565.1h0M496.5 565.1h0M496.9 565.5h0M497.4 566.1h0M497.9 565.4h0M498.4 565.9h0M498.8 565.8h0M499.3 566.0h0M499.8 566.0h0M500.3 566.8h0M500.7 565.5h0M501.2 565.9h0M501.7 565.7h0M502.2 565.4h0M502.6 566.2h0M503.1 567.0h0M503.6 566.7h0M504.1 566.9h0M504.5 566.7h0M505.0 566.5h0M505.5 567.3h0M506.0 566.4h0M506.4 567.1h0M506.9 566.5h0M507.4 566.7h0M507.9 566.7h0M508.3 566.7h0M508.8 566.9h0M509.3 566.9h0M509.8 567.3h0M510.2 566.7h0M510.7 566.1h0M511.2 566.1h0M511.7 566.4h0M512.1 566.6h0M512.6 567.2h0M513.1 566.5h0M513.6 567.1h0M514.0 567.1h0M514.5 567.3h0M515.0 567.2h0M515.5 567.4h0M515.9 567.4h0M516.4 567.8h0M516.9 567.6h0M517.4 566.7h0M517.8 567.6h0M518.3 567.8h0M518.8 567.5h0M519.2 567.6h0M519.7 568.3h0M520.2 568.1h0M520.7 567.7h0M521.1 568.0h0M521.6 568.2h0M522.1 567.7h0M522.6 568.6h0M523.0 568.4h0M523.5 568.7h0M524.0 568.0h0M524.5 569.4h0M524.9 569.0h0M525.4 569.0h0M525.9 568.6h0M526.4 568.6h0M526.8 568.3h0M527.3 569.5h0M527.8 568.6h0M528.3 569.0h0M528.7 569.2h0M529.2 568.7h0M529.7 569.3h0M530.2 569.8h0M530.6 569.1h0M531.1 569.6h0M531.6 569.3h0M532.1 568.9h0M532.5 568.9h0M533.0 568.5h0M533.5 569.2h0M534.0 569.7h0M534.4 569.4h0M534.9 569.5h0M535.4 569.6h0M535.9 569.0h0M536.3 569.4h0M536.8 570.0h0M537.3 569.0h0M537.8 569.3h0M538.2 569.2h0M538.7 569.3h0M539.2 569.1h0M539.7 569.4h0M540.1 569.0h0M540.6 569.4h0M541.1 569.4h0M541.6 569.4h0M542.0 570.2h0M542.5 569.7h0M543.0 569.8h0M543.4 569.7h0M543.9 570.3h0M544.4 569.2h0M544.9 569.9h0M545.3 570.4h0M545.8 570.6h0M546.3 570.1h0M546.8 570.1h0M547.2 570.4h0M547.7 570.1h0M548.2 570.4h0M548.7 570.0h0M549.1 570.5h0M549.6 570.2h0M550.1 569.9h0M550.6 569.3h0M551.0 570.7h0M551.5 570.5h0M552.0 570.6h0M552.5 570.0h0M552.9 570.8h0M553.4 570.5h0M553.9 570.4h0M554.4 570.8h0M554.8 570.8h0M555.3 570.6h0M555.8 571.2h0M556.3 571.0h0M556.7 570.6h0M557.2 570.4h0M557.7 570.6h0M558.2 571.2h0M558.6 570.7h0M559.1 570.3h0M559.6 570.5h0M560.1 570.8h0M560.5 571.2h0M561.0 570.7h0M561.5 571.2h0M562.0 571.5h0M562.4 571.4h0M562.9 570.7h0M563.4 571.2h0M563.9 570.9h0M564.3 571.6h0M564.8 571.2h0M565.3 571.7h0M565.8 571.6h0M566.2 570.6h0M566.7 571.2h0M567.2 571.7h0M567.6 571.6h0M568.1 571.4h0M568.6 571.1h0M569.1 571.8h0M569.5 572.2h0M570.0 571.7h0M570.5 571.6h0M571.0 571.6h0M571.4 571.1h0M571.9 571.5h0M572.4 571.3h0M572.9 572.0h0M573.3 571.3h0M573.8 570.9h0M574.3 571.4h0M574.8 571.7h0M575.2 571.8h0M575.7 571.2h0M576.2 572.3h0M576.7 572.0h0M577.1 571.8h0M577.6 571.8h0M578.1 572.3h0M578.6 572.0h0M579.0 572.3h0M579.5 572.2h0M580.0 572.3h0M580.5 572.7h0M580.9 572.4h0M581.4 572.1h0M581.9 572.8h0M582.4 572.6h0M582.8 572.3h0M583.3 573.0h0M583.8 572.5h0M584.3 573.0h0M584.7 572.2h0M585.2 571.8h0M585.7 571.9h0M586.2 572.8h0M586.6 572.4h0M587.1 572.7h0M587.6 572.7h0M588.1 572.2h0M588.5 573.3h0M589.0 572.4h0M589.5 572.8h0M589.9 572.3h0M590.4 572.8h0M590.9 573.1h0M591.4 572.8h0M591.8 572.6h0M592.3 572.8h0M592.8 572.6h0M593.3 573.0h0M593.7 573.6h0M594.2 572.4h0M594.7 572.4h0M595.2 572.6h0M595.6 572.6h0M596.1 572.2h0M596.6 572.7h0M597.1 572.8h0M597.5 572.6h0M598.0 572.0h0M598.5 572.9h0M599.0 571.9h0M599.4 572.6h0M599.9 572.7h0M600.4 571.9h0M600.9 572.4h0M601.3 573.0h0M601.8 572.7h0M602.3 572.3h0M602.8 572.3h0M603.2 572.9h0M603.7 572.7h0M604.2 572.7h0M604.7 573.2h0M605.1 572.9h0M605.6 573.2h0M606.1 573.4h0M606.6 573.5h0M607.0 573.4h0M607.5 573.4h0M608.0 573.7h0M608.5 573.8h0M608.9 573.2h0M609.4 573.5h0M609.9 573.2h0M610.4 573.1h0M610.8 573.3h0M611.3 572.6h0M611.8 573.8h0M612.3 573.1h0M612.7 573.5h0M613.2 572.7h0M613.7 572.7h0M614.1 574.1h0M614.6 573.7h0M615.1 573.1h0M615.6 573.0h0M616.0 573.0h0M616.5 573.3h0M617.0 573.1h0M617.5 573.0h0M617.9 573.4h0M618.4 573.0h0M618.9 574.3h0M619.4 573.3h0M619.8 573.9h0M620.3 573.3h0M620.8 573.7h0M621.3 574.1h0M621.7 573.6h0M622.2 574.2h0M622.7 574.2h0M623.2 574.5h0M623.6 574.0h0M624.1 573.8h0M624.6 573.7h0M625.1 574.2h0M625.5 573.8h0M626.0 574.2h0M626.5 574.2h0M627.0 574.0h0M627.4 573.8h0M627.9 574.4h0M628.4 574.3h0M628.9 574.3h0M629.3 574.3h0M629.8 574.6h0M630.3 573.9h0M630.8 574.5h0M631.2 574.2h0M631.7 574.7h0M632.2 574.2h0M632.7 574.2h0M633.1 574.6h0M633.6 573.7h0M634.1 574.3h0M634.6 573.7h0M635.0 574.0h0M635.5 574.6h0M636.0 574.5h0M636.5 574.2h0M636.9 574.4h0M637.4 574.3h0M637.9 574.5h0M638.3 575.0h0M638.8 574.4h0M639.3 575.2h0M639.8 574.2h0M640.2 574.6h0M640.7 574.6h0M641.2 574.4h0M641.7 574.2h0M642.1 574.9h0M642.6 575.0h0M643.1 574.8h0M643.6 575.1h0M644.0 574.8h0M644.5 573.8h0M645.0 574.8h0M645.5 574.2h0M645.9 575.0h0M646.4 574.4h0M646.9 574.6h0M647.4 574.6h0M647.8 574.4h0M648.3 573.9h0M648.8 574.5h0M649.3 574.6h0M649.7 575.0h0M650.2 574.4h0M650.7 574.8h0M651.2 574.4h0M651.6 574.7h0M652.1 574.1h0M652.6 575.5h0M653.1 574.9h0M653.5 574.5h0M654.0 575.0h0M654.5 575.2h0M655.0 575.0h0M655.4 575.5h0M655.9 574.9h0M656.4 574.1h0M656.9 574.6h0M657.3 575.5h0M657.8 575.4h0M658.3 575.3h0M658.8 574.8h0M659.2 575.4h0M659.7 575.4h0M660.2 574.8h0M660.7 574.7h0M661.1 575.2h0M661.6 575.4h0M662.1 575.6h0M662.5 575.2h0M663.0 575.8h0M663.5 574.6h0M664.0 575.1h0M664.4 574.7h0M664.9 574.1h0M665.4 574.4h0M665.9 575.2h0M666.3 574.4h0M666.8 574.3h0M667.3 575.0h0M667.8 575.1h0M668.2 574.8h0M668.7 575.4h0M669.2 574.3h0M669.7 575.8h0M670.1 575.3h0M670.6 575.0h0M671.1 575.0h0M671.6 574.9h0M672.0 574.9h0M672.5 575.1h0M673.0 574.6h0M673.5 575.9h0M673.9 575.1h0M674.4 575.4h0M674.9 575.1h0M675.4 575.1h0M675.8 575.5h0M676.3 575.4h0M676.8 574.8h0M677.3 575.0h0M677.7 575.3h0M678.2 574.3h0M678.7 574.2h0M679.2 575.6h0M679.6 574.9h0M680.1 574.0h0M680.6 574.6h0M681.1 574.8h0M681.5 575.0h0M682.0 575.1h0M682.5 575.1h0M683.0 575.3h0M683.4 574.8h0M683.9 575.3h0M684.4 575.4h0M684.8 575.7h0M685.3 575.3h0M685.8 575.7h0M686.3 575.5h0M686.7 575.1h0M687.2 575.4h0M687.7 575.4h0M688.2 575.5h0M688.6 575.6h0M689.1 575.6h0M689.6 575.7h0M690.1 575.3h0M690.5 576.0h0M691.0 575.1h0M691.5 575.6h0M692.0 575.9h0M692.4 575.8h0M692.9 575.8h0M693.4 575.5h0M693.9 575.8h0M694.3 575.1h0M694.8 575.8h0M695.3 576.4h0M695.8 575.8h0M696.2 576.3h0M696.7 575.6h0M697.2 575.2h0M697.7 575.3h0M698.1 576.1h0M698.6 575.9h0M699.1 574.9h0M699.6 575.5h0M700.0 575.6h0M700.5 575.2h0M701.0 574.7h0M701.5 575.1h0M701.9 575.6h0M702.4 575.5h0M702.9 575.4h0M703.4 575.9h0M703.8 576.0h0M704.3 575.6h0M704.8 576.0h0M705.3 575.7h0M705.7 575.6h0M706.2 574.8h0M706.7 576.0h0M707.2 575.7h0M707.6 575.7h0M708.1 575.5h0M708.6 575.3h0M709.0 575.8h0M709.5 576.0h0M710.0 576.3h0M710.5 576.0h0M710.9 575.5h0M711.4 575.6h0M711.9 576.0h0M712.4 575.8h0M712.8 575.6h0M713.3 575.5h0M713.8 575.9h0M714.3 575.8h0M714.7 576.4h0M715.2 576.2h0M715.7 575.2h0M716.2 576.6h0M716.6 575.9h0M717.1 575.7h0M717.6 576.0h0M718.1 576.2h0M718.5 575.9h0M719.0 575.9h0M719.5 575.9h0M720.0 576.6h0M720.4 576.0h0M720.9 576.3h0M721.4 576.2h0M721.9 575.9h0M722.3 575.8h0M722.8 575.7h0M723.3 576.2h0M723.8 575.7h0M724.2 575.6h0M724.7 575.6h0M725.2 575.5h0M725.7 576.0h0M726.1 576.0h0M726.6 575.6h0M727.1 576.4h0M727.6 575.8h0M728.0 576.1h0M728.5 576.0h0M729.0 576.5h0M729.5 576.2h0M729.9 575.8h0M730.4 575.5h0M730.9 575.4h0M731.4 575.8h0M731.8 575.9h0M732.3 576.1h0M732.8 575.7h0M733.2 576.0h0M733.7 575.7h0M734.2 575.3h0M734.7 576.0h0M735.1 576.6h0M735.6 576.4h0M736.1 576.7h0M736.6 576.6h0M737.0 575.7h0M737.5 576.2h0M738.0 576.9h0M738.5 576.1h0M738.9 575.9h0M739.4 576.5h0M739.9 576.6h0M740.4 576.4h0M740.8 576.1h0M741.3 575.9h0M741.8 575.7h0M742.3 575.7h0M742.7 575.6h0M743.2 575.5h0M743.7 575.8h0M744.2 576.5h0M744.6 576.0h0M745.1 575.8h0M745.6 576.0h0M746.1 575.5h0M746.5 575.9h0M747.0 576.2h0M747.5 575.3h0M748.0 575.6h0M748.4 575.8h0M748.9 575.5h0M749.4 575.5h0M749.9 575.8h0M750.3 576.8h0M750.8 576.2h0M751.3 576.1h0M751.8 576.3h0M752.2 575.9h0M752.7 575.5h0M753.2 576.2h0M753.7 576.4h0M754.1 575.2h0M754.6 576.2h0M755.1 576.5h0M755.6 575.9h0M756.0 575.9h0M756.5 576.3h0M757.0 575.7h0M757.4 576.2h0M757.9 576.4h0M758.4 576.0h0M758.9 575.7h0M759.3 576.2h0M759.8 575.9h0M760.3 576.0h0M760.8 574.9h0M761.2 576.2h0M761.7 575.4h0M762.2 576.0h0M762.7 576.0h0M763.1 575.7h0M763.6 575.6h0M764.1 575.4h0M764.6 575.8h0M765.0 576.1h0M765.5 576.1h0M766.0 575.8h0M766.5 575.8h0M766.9 575.5h0M767.4 575.9h0M767.9 575.7h0M768.4 575.6h0M768.8 576.1h0M769.3 576.8h0M769.8 576.7h0M770.3 576.8h0M770.7 575.7h0M771.2 576.7h0M771.7 575.9h0M772.2 576.1h0M772.6 575.7h0M773.1 576.0h0M773.6 576.4h0M774.1 576.4h0M774.5 576.3h0M775.0 576.3h0M775.5 576.5h0M776.0 576.2h0M776.4 575.5h0M776.9 576.6h0M777.4 575.8h0M777.9 576.1h0M778.3 575.6h0M778.8 575.2h0M779.3 575.4h0M779.7 575.0h0M780.2 575.9h0M780.7 574.9h0M781.2 575.5h0M781.6 575.1h0M782.1 575.2h0M782.6 576.3h0M783.1 575.6h0M783.5 575.2h0M784.0 574.7h0M784.5 575.2h0M785.0 575.2h0M785.4 575.8h0M785.9 574.7h0M786.4 574.6h0M786.9 575.2h0M787.3 575.3h0M787.8 575.8h0M788.3 574.9h0M788.8 574.2h0M789.2 575.0h0M789.7 574.8h0M790.2 575.0h0M790.7 575.6h0M791.1 574.7h0M791.6 575.7h0M792.1 575.3h0M792.6 575.1h0M793.0 574.9h0M793.5 575.1h0M794.0 575.1h0M794.5 575.5h0M794.9 575.7h0M795.4 575.2h0M795.9 575.5h0M796.4 575.7h0M796.8 575.7h0" stroke="#0000ff" stroke-width="6.0" stroke-linecap="round" fill="none"/>
<path d="M157.7 103.8v14.6m-3.4 0h6.8m0 -14.6h-6.8M167.2 167.4v13.0m-3.4 0h6.8m0 -13.0h-6.8M176.7 218.5v11.8m-3.4 0h6.8m0 -11.8h-6.8M186.1 261.8v10.7m-3.4 0h6.8m0 -10.7h-6.8M195.6 298.8v9.8m-3.4 0h6.8m0 -9.8h-6.8M205.1 330.4v9.0m-3.4 0h6.8m0 -9.0h-6.8M214.6 357.6v8.3m-3.4 0h6.8m0 -8.3h-6.8M224.1 381.1v7.7m-3.4 0h6.8m0 -7.7h-6.8M233.6 401.6v7.2m-3.4 0h6.8m0 -7.2h-6.8M243.1 419.5v6.8m-3.4 0h6.8m0 -6.8h-6.8M252.6 435.1v6.4m-3.4 0h6.8m0 -6.4h-6.8M262.1 448.9v6.1m-3.4 0h6.8m0 -6.1h-6.8M271.6 461.0v5.8m-3.4 0h6.8m0 -5.8h-6.8M281.1 471.7v5.5m-3.4 0h6.8m0 -5.5h-6.8M290.5 481.3v5.3m-3.4 0h6.8m0 -5.3h-6.8M300.0 489.8v5.1m-3.4 0h6.8m0 -5.1h-6.8M309.5 497.4v4.9m-3.4 0h6.8m0 -4.9h-6.8M319.0 504.1v4.7m-3.4 0h6.8m0 -4.7h-6.8M328.5 510.3v4.5m-3.4 0h6.8m0 -4.5h-6.8M338.0 515.7v4.4m-3.4 0h6.8m0 -4.4h-6.8M347.5 520.7v4.3m-3.4 0h6.8m0 -4.3h-6.8M357.0 525.2v4.2m-3.4 0h6.8m0 -4.2h-6.8M366.5 529.3v4.1m-3.4 0h6.8m0 -4.1h-6.8M376.0 532.9v4.0m-3.4 0h6.8m0 -4.0h-6.8M385.4 536.3v3.9m-3.4 0h6.8m0 -3.9h-6.8M394.9 539.4v3.8m-3.4 0h6.8m0 -3.8h-6.8M404.4 542.2v3.8m-3.4 0h6.8m0 -3.8h-6.8M413.9 544.7v3.7m-3.4 0h6.8m0 -3.7h-6.8M423.4 547.1v3.6m-3.4 0h6.8m0 -3.6h-6.8M432.9 549.2v3.6m-3.4 0h6.8m0 -3.6h-6.8M442.4 551.2v3.5m-3.4 0h6.8m0 -3.5h-6.8M451.9 553.0v3.5m-3.4 0h6.8m0 -3.5h-6.8M461.4 554.7v3.5m-3.4 0h6.8m0 -3.5h-6.8M470.9 556.2v3.4m-3.4 0h6.8m0 -3.4h-6.8M480.3 557.7v3.4m-3.4 0h6.8m0 -3.4h-6.8M489.8 559.0v3.3m-3.4 0h6.8m0 -3.3h-6.8M499.3 560.2v3.3m-3.4 0h6.8m0 -3.3h-6.8M508.8 561.4v3.3m-3.4 0h6.8m0 -3.3h-6.8M518.3 562.4v3.3m-3.4 0h6.8m0 -3.3h-6.8M527.8 563.4v3.2m-3.4 0h6.8m0 -3.2h-6.8M537.3 564.3v3.2m-3.4 0h6.8m0 -3.2h-6.8M546.8 565.2v3.2m-3.4 0h6.8m0 -3.2h-6.8M556.3 566.0v3.2m-3.4 0h6.8m0 -3.2h-6.8M565.8 566.7v3.2m-3.4 0h6.8m0 -3.2h-6.8M575.2 567.4v3.1m-3.4 0h6.8m0 -3.1h-6.8M584.7 568.1v3.1m-3.4 0h6.8m0 -3.1h-6.8M594.2 568.7v3.1m-3.4 0h6.8m0 -3.1h-6.8M603.7 569.3v3.1m-3.4 0h6.8m0 -3.1h-6.8M613.2 569.8v3.1m-3.4 0h6.8m0 -3.1h-6.8M622.7 570.3v3.1m-3.4 0h6.8m0 -3.1h-6.8M632.2 570.8v3.1m-3.4 0h6.8m0 -3.1h-6.8M641.7 571.2v3.0m-3.4 0h6.8m0 -3.0h-6.8M651.2 571.6v3.0m-3.4 0h6.8m0 -3.0h-6.8M660.7 572.0v3.0m-3.4 0h6.8m0 -3.0h-6.8M670.1 572.4v3.0m-3.4 0h6.8m0 -3.0h-6.8M679.6 572.8v3.0m-3.4 0h6.8m0 -3.0h-6.8M689.1 573.1v3.0m-3.4 0h6.8m0 -3.0h-6.8M698.6 573.4v3.0m-3.4 0h6.8m0 -3.0h-6.8M708.1 573.7v3.0m-3.4 0h6.8m0 -3.0h-6.8M717.6 574.0v3.0m-3.4 0h6.8m0 -3.0h-6.8M727.1 574.3v3.0m-3.4 0h6.8m0 -3.0h-6.8M736.6 574.5v3.0m-3.4 0h6.8m0 -3.0h-6.8M746.1 574.7v3.0m-3.4 0h6.8m0 -3.0h-6.8M755.6 575.0v3.0m-3.4 0h6.8m0 -3.0h-6.8M765.0 575.2v2.9m-3.4 0h6.8m0 -2.9h-6.8M774.5 575.4v2.9m-3.4 0h6.8m0 -2.9h-6.8M784.0 575.6v2.9m-3.4 0h6.8m0 -2.9h-6.8M793.5 575.8v2.9m-3.4 0h6.8m0 -2.9h-6.8M803.0 575.9v2.9m-3.4 0h6.8m0 -2.9h-6.8" fill="none" stroke="#ff0000" stroke-width="2.0"/>
<path d="M157.7 111.1h0M167.2 173.9h0M176.7 224.4h0M186.1 267.2h0M195.6 303.6h0M205.1 334.9h0M214.6 361.8h0M224.1 385.0h0M233.6 405.2h0M243.1 422.9h0M252.6 438.3h0M262.1 451.9h0M271.6 463.9h0M281.1 474.5h0M290.5 483.9h0M300.0 492.3h0M309.5 499.8h0M319.0 506.5h0M328.5 512.5h0M338.0 518.0h0M347.5 522.9h0M357.0 527.3h0M366.5 531.3h0M376.0 534.9h0M385.4 538.3h0M394.9 541.3h0M404.4 544.0h0M413.9 546.6h0M423.4 548.9h0M432.9 551.0h0M442.4 553.0h0M451.9 554.7h0M461.4 556.4h0M470.9 557.9h0M480.3 559.4h0M489.8 560.7h0M499.3 561.9h0M508.8 563.0h0M518.3 564.0h0M527.8 565.0h0M537.3 565.9h0M546.8 566.8h0M556.3 567.6h0M565.8 568.3h0M575.2 569.0h0M584.7 569.6h0M594.2 570.2h0M603.7 570.8h0M613.2 571.3h0M622.7 571.8h0M632.2 572.3h0M641.7 572.7h0M651.2 573.2h0M660.7 573.5h0M670.1 573.9h0M679.6 574.3h0M689.1 574.6h0M698.6 574.9h0M708.1 575.2h0M717.6 575.5h0M727.1 575.7h0M736.6 576.0h0M746.1 576.2h0M755.6 576.5h0M765.0 576.7h0M774.5 576.9h0M784.0 577.1h0M793.5 577.2h0M803.0 577.4h0" stroke="#ff0000" stroke-width="6.4" stroke-linecap="round" fill="none"/>
<path d="M157.7 565.4v4.2m-3.4 0h6.8m0 -4.2h-6.8M158.2 565.6v4.2m-3.4 0h6.8m0 -4.2h-6.8M158.6 565.4v4.2m-3.4 0h6.8m0 -4.2h-6.8M159.1 565.4v4.2m-3.4 0h6.8m0 -4.2h-6.8M159.6 565.0v4.2m-3.4 0h6.8m0 -4.2h-6.8M160.1 564.9v4.2m-3.4 0h6.8m0 -4.2h-6.8M160.5 564.5v4.2m-3.4 0h6.8m0 -4.2h-6.8M161.0 565.1v4.2m-3.4 0h6.8m0 -4.2h-6.8M161.5 564.9v4.2m-3.4 0h6.8m0 -4.2h-6.8M162.0 564.6v4.2m-3.4 0h6.8m0 -4.2h-6.8M162.4 564.8v4.2m-3.4 0h6.8m0 -4.2h-6.8M162.9 564.7v4.2m-3.4 0h6.8m0 -4.2h-6.8M163.4 564.3v4.2m-3.4 0h6.8m0 -4.2h-6.8M163.8 564.7v4.2m-3.4 0h6.8m0 -4.2h-6.8M164.3 564.8v4.2m-3.4 0h6.8m0 -4.2h-6.8M164.8 564.8v4.2m-3.4 0h6.8m0 -4.2h-6.8M165.3 564.4v4.2m-3.4 0h6.8m0 -4.2h-6.8M165.7 564.4v4.2m-3.4 0h6.8m0 -4.2h-6.8M166.2 564.7v4.2m-3.4 0h6.8m0 -4.2h-6.8M166.7 564.6v4.2m-3.4 0h6.8m0 -4.2h-6.8M167.2 564.2v4.2m-3.4 0h6.8m0 -4.2h-6.8M167.6 564.2v4.2m-3.4 0h6.8m0 -4.2h-6.8M168.1 564.3v4.2m-3.4 0h6.8m0 -4.2h-6.8M168.6 564.0v4.2m-3.4 0h6.8m0 -4.2h-6.8M169.1 564.0v4.2m-3.4 0h6.8m0 -4.2h-6.8M169.5 564.3v4.2m-3.4 0h6.8m0 -4.2h-6.8M170.0 564.0v4.2m-3.4 0h6.8m0 -4.2h-6.8M170.5 563.8v4.2m-3.4 0h6.8m0 -4.2h-6.8M171.0 563.9v4.2m-3.4 0h6.8m0 -4.2h-6.8M171.4 564.1v4.2m-3.4 0h6.8m0 -4.2h-6.8M171.9 563.7v4.2m-3.4 0h6.8m0 -4.2h-6.8M172.4 563.5v4.2m-3.4 0h6.8m0 -4.2h-6.8M172.9 563.2v4.2m-3.4 0h6.8m0 -4.2h-6.8M173.3 563.9v4.2m-3.4 0h6.8m0 -4.2h-6.8M173.8 562.9v4.2m-3.4 0h6.8m0 -4.2h-6.8M174.3 563.6v4.2m-3.4 0h6.8m0 -4.2h-6.8M174.8 563.1v4.2m-3.4 0h6.8m0 -4.2h-6.8M175.2 563.1v4.2m-3.4 0h6.8m0 -4.2h-6.8M175.7 563.1v4.2m-3.4 0h6.8m0 -4.2h-6.8M176.2 563.3v4.2m-3.4 0h6.8m0 -4.2h-6.8M176.7 563.5v4.2m-3.4 0h6.8m0 -4.2h-6.8M177.1 563.2v4.2m-3.4 0h6.8m0 -4.2h-6.8M177.6 563.4v4.2m-3.4 0h6.8m0 -4.2h-6.8M178.1 563.8v4.2m-3.4 0h6.8m0 -4.2h-6.8M178.6 562.8v4.2m-3.4 0h6.8m0 -4.2h-6.8M179.0 563.2v4.2m-3.4 0h6.8m0 -4.2h-6.8M179.5 563.0v4.2m-3.4 0h6.8m0 -4.2h-6.8M180.0 563.5v4.2m-3.4 0h6.8m0 -4.2h-6.8M180.5 563.1v4.2m-3.4 0h6.8m0 -4.2h-6.8M180.9 563.1v4.2m-3.4 0h6.8m0 -4.2h-6.8M181.4 563.1v4.2m-3.4 0h6.8m0 -4.2h-6.8M181.9 563.4v4.2m-3.4 0h6.8m0 -4.2h-6.8M182.4 563.6v4.2m-3.4 0h6.8m0 -4.2h-6.8M182.8 563.4v4.2m-3.4 0h6.8m0 -4.2h-6.8M183.3 563.8v4.2m-3.4 0h6.8m0 -4.2h-6.8M183.8 563.8v4.2m-3.4 0h6.8m0 -4.2h-6.8M184.3 563.5v4.2m-3.4 0h6.8m0 -4.2h-6.8M184.7 563.8v4.2m-3.4 0h6.8m0 -4.2h-6.8M185.2 563.7v4.2m-3.4 0h6.8m0 -4.2h-6.8M185.7 563.8v4.2m-3.4 0h6.8m0 -4.2h-6.8M186.2 563.4v4.2m-3.4 0h6.8m0 -4.2h-6.8M186.6 563.6v4.2m-3.4 0h6.8m0 -4.2h-6.8M187.1 564.0v4.2m-3.4 0h6.8m0 -4.2h-6.8M187.6 563.8v4.2m-3.4 0h6.8m0 -4.2h-6.8M188.0 564.2v4.2m-3.4 0h6.8m0 -4.2h-6.8M188.5 564.1v4.2m-3.4 0h6.8m0 -4.2h-6.8M189.0 563.8v4.2m-3.4 0h6.8m0 -4.2h-6.8M189.5 564.2v4.2m-3.4 0h6.8m0 -4.2h-6.8M189.9 564.0v4.2m-3.4 0h6.8m0 -4.2h-6.8M190.4 564.2v4.2m-3.4 0h6.8m0 -4.2h-6.8M190.9 564.0v4.2m-3.4 0h6.8m0 -4.2h-6.8M191.4 563.7v4.2m-3.4 0h6.8m0 -4.2h-6.8M191.8 564.1v4.2m-3.4 0h6.8m0 -4.2h-6.8M192.3 563.9v4.2m-3.4 0h6.8m0 -4.2h-6.8M192.8 564.2v4.2m-3.4 0h6.8m0 -4.2h-6.8M193.3 564.2v4.2m-3.4 0h6.8m0 -4.2h-6.8M193.7 564.2v4.2m-3.4 0h6.8m0 -4.2h-6.8M194.2 563.7v4.2m-3.4 0h6.8m0 -4.2h-6.8M194.7 563.5v4.2m-3.4 0h6.8m0 -4.2h-6.8M195.2 563.9v4.2m-3.4 0h6.8m0 -4.2h-6.8M195.6 564.2v4.2m-3.4 0h6.8m0 -4.2h-6.8M196.1 564.1v4.2m-3.4 0h6.8m0 -4.2h-6.8M196.6 564.3v4.2m-3.4 0h6.8m0 -4.2h-6.8M197.1 564.2v4.2m-3.4 0h6.8m0 -4.2h-6.8M197.5 564.4v4.2m-3.4 0h6.8m0 -4.2h-6.8M198.0 564.5v4.2m-3.4 0h6.8m0 -4.2h-6.8M198.5 564.5v4.2m-3.4 0h6.8m0 -4.2h-6.8M199.0 564.8v4.2m-3.4 0h6.8m0 -4.2h-6.8M199.4 564.8v4.2m-3.4 0h6.8m0 -4.2h-6.8M199.9 565.2v4.2m-3.4 0h6.8m0 -4.2h-6.8M200.4 565.0v4.2m-3.4 0h6.8m0 -4.2h-6.8M200.9 565.2v4.2m-3.4 0h6.8m0 -4.2h-6.8M201.3 565.0v4.2m-3.4 0h6.8m0 -4.2h-6.8M201.8 565.1v4.2m-3.4 0h6.8m0 -4.2h-6.8M202.3 565.0v4.2m-3.4 0h6.8m0 -4.2h-6.8M202.8 564.9v4.2m-3.4 0h6.8m0 -4.2h-6.8M203.2 565.3v4.2m-3.4 0h6.8m0 -4.2h-6.8M203.7 565.2v4.2m-3.4 0h6.8m0 -4.2h-6.8M204.2 565.2v4.2m-3.4 0h6.8m0 -4.2h-6.8M204.7 565.0v4.2m-3.4 0h6.8m0 -4.2h-6.8M205.1 564.8v4.2m-3.4 0h6.8m0 -4.2h-6.8M205.6 565.0v4.2m-3.4 0h6.8m0 -4.2h-6.8M206.1 565.2v4.2m-3.4 0h6.8m0 -4.2h-6.8M206.6 564.9v4.2m-3.4 0h6.8m0 -4.2h-6.8M207.0 565.5v4.2m-3.4 0h6.8m0 -4.2h-6.8M207.5 564.9v4.2m-3.4 0h6.8m0 -4.2h-6.8M208.0 565.4v4.2m-3.4 0h6.8m0 -4.2h-6.8M208.5 565.8v4.2m-3.4 0h6.8m0 -4.2h-6.8M208.9 564.8v4.2m-3.4 0h6.8m0 -4.2h-6.8M209.4 565.0v4.2m-3.4 0h6.8m0 -4.2h-6.8M209.9 565.5v4.2m-3.4 0h6.8m0 -4.2h-6.8M210.3 565.3v4.2m-3.4 0h6.8m0 -4.2h-6.8M210.8 565.4v4.2m-3.4 0h6.8m0 -4.2h-6.8M211.3 565.4v4.2m-3.4 0h6.8m0 -4.2h-6.8M211.8 565.7v4.2m-3.4 0h6.8m0 -4.2h-6.8M212.2 565.6v4.2m-3.4 0h6.8m0 -4.2h-6.8M212.7 565.4v4.2m-3.4 0h6.8m0 -4.2h-6.8M213.2 565.5v4.2m-3.4 0h6.8m0 -4.2h-6.8M213.7 565.3v4.2m-3.4 0h6.8m0 -4.2h-6.8M214.1 565.6v4.2m-3.4 0h6.8m0 -4.2h-6.8M214.6 565.2v4.2m-3.4 0h6.8m0 -4.2h-6.8M215.1 565.9v4.2m-3.4 0h6.8m0 -4.2h-6.8M215.6 565.7v4.2m-3.4 0h6.8m0 -4.2h-6.8M216.0 566.2v4.2m-3.4 0h6.8m0 -4.2h-6.8M216.5 566.1v4.2m-3.4 0h6.8m0 -4.2h-6.8M217.0 565.7v4.2m-3.4 0h6.8m0 -4.2h-6.8M217.5 566.2v4.2m-3.4 0h6.8m0 -4.2h-6.8M217.9 565.9v4.2m-3.4 0h6.8m0 -4.2h-6.8M218.4 566.1v4.2m-3.4 0h6.8m0 -4.2h-6.8M218.9 566.3v4.2m-3.4 0h6.8m0 -4.2h-6.8M219.4 566.2v4.2m-3.4 0h6.8m0 -4.2h-6.8M219.8 566.3v4.2m-3.4 0h6.8m0 -4.2h-6.8M220.3 566.3v4.2m-3.4 0h6.8m0 -4.2h-6.8M220.8 566.1v4.2m-3.4 0h6.8m0 -4.2h-6.8M221.3 566.1v4.2m-3.4 0h6.8m0 -4.2h-6.8M221.7 566.4v4.2m-3.4 0h6.8m0 -4.2h-6.8M222.2 566.5v4.2m-3.4 0h6.8m0 -4.2h-6.8M222.7 566.3v4.2m-3.4 0h6.8m0 -4.2h-6.8M223.2 566.4v4.2m-3.4 0h6.8m0 -4.2h-6.8M223.6 566.2v4.2m-3.4 0h6.8m0 -4.2h-6.8M224.1 565.9v4.2m-3.4 0h6.8m0 -4.2h-6.8M224.6 566.3v4.2m-3.4 0h6.8m0 -4.2h-6.8M225.1 566.4v4.2m-3.4 0h6.8m0 -4.2h-6.8M225.5 566.5v4.2m-3.4 0h6.8m0 -4.2h-6.8M226.0 566.6v4.2m-3.4 0h6.8m0 -4.2h-6.8M226.5 566.7v4.2m-3.4 0h6.8m0 -4.2h-6.8M227.0 566.7v4.2m-3.4 0h6.8m0 -4.2h-6.8M227.4 566.6v4.2m-3.4 0h6.8m0 -4.2h-6.8M227.9 566.7v4.2m-3.4 0h6.8m0 -4.2h-6.8M228.4 566.5v4.2m-3.4 0h6.8m0 -4.2h-6.8M228.9 566.7v4.2m-3.4 0h6.8m0 -4.2h-6.8M229.3 566.7v4.2m-3.4 0h6.8m0 -4.2h-6.8M229.8 567.0v4.2m-3.4 0h6.8m0 -4.2h-6.8M230.3 566.5v4.2m-3.4 0h6.8m0 -4.2h-6.8M230.8 566.8v4.2m-3.4 0h6.8m0 -4.2h-6.8M231.2 566.7v4.2m-3.4 0h6.8m0 -4.2h-6.8M231.7 567.0v4.2m-3.4 0h6.8m0 -4.2h-6.8M232.2 566.9v4.2m-3.4 0h6.8m0 -4.2h-6.8M232.7 567.4v4.2m-3.4 0h6.8m0 -4.2h-6.8M233.1 567.3v4.2m-3.4 0h6.8m0 -4.2h-6.8M233.6 567.0v4.2m-3.4 0h6.8m0 -4.2h-6.8M234.1 567.8v4.2m-3.4 0h6.8m0 -4.2h-6.8M234.5 567.4v4.2m-3.4 0h6.8m0 -4.2h-6.8M235.0 567.3v4.2m-3.4 0h6.8m0 -4.2h-6.8M235.5 567.6v4.2m-3.4 0h6.8m0 -4.2h-6.8M236.0 567.5v4.2m-3.4 0h6.8m0 -4.2h-6.8M236.4 567.5v4.2m-3.4 0h6.8m0 -4.2h-6.8M236.9 567.9v4.2m-3.4 0h6.8m0 -4.2h-6.8M237.4 567.7v4.2m-3.4 0h6.8m0 -4.2h-6.8M237.9 568.0v4.2m-3.4 0h6.8m0 -4.2h-6.8M238.3 568.0v4.2m-3.4 0h6.8m0 -4.2h-6.8M238.8 568.0v4.2m-3.4 0h6.8m0 -4.2h-6.8M239.3 567.9v4.2m-3.4 0h6.8m0 -4.2h-6.8M239.8 567.9v4.2m-3.4 0h6.8m0 -4.2h-6.8M240.2 567.9v4.2m-3.4 0h6.8m0 -4.2h-6.8M240.7 568.3v4.2m-3.4 0h6.8m0 -4.2h-6.8M241.2 567.7v4.2m-3.4 0h6.8m0 -4.2h-6.8M241.7 567.9v4.2m-3.4 0h6.8m0 -4.2h-6.8M242.1 568.0v4.2m-3.4 0h6.8m0 -4.2h-6.8M242.6 568.2v4.2m-3.4 0h6.8m0 -4.2h-6.8M243.1 568.2v4.2m-3.4 0h6.8m0 -4.2h-6.8M243.6 568.1v4.2m-3.4 0h6.8m0 -4.2h-6.8M244.0 568.2v4.2m-3.4 0h6.8m0 -4.2h-6.8M244.5 568.6v4.2m-3.4 0h6.8m0 -4.2h-6.8M245.0 568.1v4.2m-3.4 0h6.8m0 -4.2h-6.8M245.5 567.6v4.2m-3.4 0h6.8m0 -4.2h-6.8M245.9 568.5v4.2m-3.4 0h6.8m0 -4.2h-6.8M246.4 568.0v4.2m-3.4 0h6.8m0 -4.2h-6.8M246.9 568.1v4.2m-3.4 0h6.8m0 -4.2h-6.8M247.4 568.2v4.2m-3.4 0h6.8m0 -4.2h-6.8M247.8 567.8v4.2m-3.4 0h6.8m0 -4.2h-6.8M248.3 568.3v4.2m-3.4 0h6.8m0 -4.2h-6.8M248.8 568.0v4.2m-3.4 0h6.8m0 -4.2h-6.8M249.3 567.8v4.2m-3.4 0h6.8m0 -4.2h-6.8M249.7 568.2v4.2m-3.4 0h6.8m0 -4.2h-6.8M250.2 568.4v4.2m-3.4 0h6.8m0 -4.2h-6.8M250.7 568.4v4.2m-3.4 0h6.8m0 -4.2h-6.8M251.2 568.6v4.2m-3.4 0h6.8m0 -4.2h-6.8M251.6 568.3v4.2m-3.4 0h6.8m0 -4.2h-6.8M252.1 568.9v4.2m-3.4 0h6.8m0 -4.2h-6.8M252.6 568.7v4.2m-3.4 0h6.8m0 -4.2h-6.8M253.1 569.2v4.2m-3.4 0h6.8m0 -4.2h-6.8M253.5 568.9v4.2m-3.4 0h6.8m0 -4.2h-6.8M254.0 569.2v4.2m-3.4 0h6.8m0 -4.2h-6.8M254.5 569.8v4.2m-3.4 0h6.8m0 -4.2h-6.8M255.0 569.3v4.2m-3.4 0h6.8m0 -4.2h-6.8M255.4 569.5v4.2m-3.4 0h6.8m0 -4.2h-6.8M255.9 569.4v4.2m-3.4 0h6.8m0 -4.2h-6.8M256.4 569.1v4.2m-3.4 0h6.8m0 -4.2h-6.8M256.9 569.6v4.2m-3.4 0h6.8m0 -4.2h-6.8M257.3 569.6v4.2m-3.4 0h6.8m0 -4.2h-6.8M257.8 569.2v4.2m-3.4 0h6.8m0 -4.2h-6.8M258.3 569.4v4.2m-3.4 0h6.8m0 -4.2h-6.8M258.7 569.2v4.2m-3.4 0h6.8m0 -4.2h-6.8M259.2 569.4v4.2m-3.4 0h6.8m0 -4.2h-6.8M259.7 569.7v4.2m-3.4 0h6.8m0 -4.2h-6.8M260.2 569.6v4.2m-3.4 0h6.8m0 -4.2h-6.8M260.6 569.3v4.2m-3.4 0h6.8m0 -4.2h-6.8M261.1 569.4v4.2m-3.4 0h6.8m0 -4.2h-6.8M261.6 569.6v4.2m-3.4 0h6.8m0 -4.2h-6.8M262.1 569.6v4.2m-3.4 0h6.8m0 -4.2h-6.8M262.5 569.7v4.2m-3.4 0h6.8m0 -4.2h-6.8M263.0 569.8v4.2m-3.4 0h6.8m0 -4.2h-6.8M263.5 569.3v4.2m-3.4 0h6.8m0 -4.2h-6.8M264.0 569.7v4.2m-3.4 0h6.8m0 -4.2h-6.8M264.4 570.0v4.2m-3.4 0h6.8m0 -4.2h-6.8M264.9 569.9v4.2m-3.4 0h6.8m0 -4.2h-6.8M265.4 569.6v4.2m-3.4 0h6.8m0 -4.2h-6.8M265.9 569.7v4.2m-3.4 0h6.8m0 -4.2h-6.8M266.3 569.9v4.2m-3.4 0h6.8m0 -4.2h-6.8M266.8 570.0v4.2m-3.4 0h6.8m0 -4.2h-6.8M267.3 569.9v4.2m-3.4 0h6.8m0 -4.2h-6.8M267.8 570.2v4.2m-3.4 0h6.8m0 -4.2h-6.8M268.2 570.2v4.2m-3.4 0h6.8m0 -4.2h-6.8M268.7 569.8v4.2m-3.4 0h6.8m0 -4.2h-6.8M269.2 570.1v4.2m-3.4 0h6.8m0 -4.2h-6.8M269.7 569.9v4.2m-3.4 0h6.8m0 -4.2h-6.8M270.1 569.8v4.2m-3.4 0h6.8m0 -4.2h-6.8M270.6 569.9v4.2m-3.4 0h6.8m0 -4.2h-6.8M271.1 570.0v4.2m-3.4 0h6.8m0 -4.2h-6.8M271.6 569.7v4.2m-3.4 0h6.8m0 -4.2h-6.8M272.0 570.0v4.2m-3.4 0h6.8m0 -4.2h-6.8M272.5 570.2v4.2m-3.4 0h6.8m0 -4.2h-6.8M273.0 570.0v4.2m-3.4 0h6.8m0 -4.2h-6.8M273.5 570.1v4.2m-3.4 0h6.8m0 -4.2h-6.8M273.9 570.4v4.2m-3.4 0h6.8m0 -4.2h-6.8M274.4 570.2v4.2m-3.4 0h6.8m0 -4.2h-6.8M274.9 570.3v4.2m-3.4 0h6.8m0 -4.2h-6.8M275.4 570.7v4.2m-3.4 0h6.8m0 -4.2h-6.8M275.8 570.4v4.2m-3.4 0h6.8m0 -4.2h-6.8M276.3 570.4v4.2m-3.4 0h6.8m0 -4.2h-6.8M276.8 570.5v4.2m-3.4 0h6.8m0 -4.2h-6.8M277.3 570.8v4.2m-3.4 0h6.8m0 -4.2h-6.8M277.7 570.5v4.2m-3.4 0h6.8m0 -4.2h-6.8M278.2 570.5v4.2m-3.4 0h6.8m0 -4.2h-6.8M278.7 570.5v4.2m-3.4 0h6.8m0 -4.2h-6.8M279.2 570.8v4.2m-3.4 0h6.8m0 -4.2h-6.8M279.6 570.5v4.2m-3.4 0h6.8m0 -4.2h-6.8M280.1 570.9v4.2m-3.4 0h6.8m0 -4.2h-6.8M280.6 570.7v4.2m-3.4 0h6.8m0 -4.2h-6.8M281.1 570.4v4.2m-3.4 0h6.8m0 -4.2h-6.8M281.5 570.9v4.2m-3.4 0h6.8m0 -4.2h-6.8M282.0 570.9v4.2m-3.4 0h6.8m0 -4.2h-6.8M282.5 570.6v4.2m-3.4 0h6.8m0 -4.2h-6.8M282.9 570.9v4.2m-3.4 0h6.8m0 -4.2h-6.8M283.4 570.9v4.2m-3.4 0h6.8m0 -4.2h-6.8M283.9 570.9v4.2m-3.4 0h6.8m0 -4.2h-6.8M284.4 570.7v4.2m-3.4 0h6.8m0 -4.2h-6.8M284.8 571.4v4.2m-3.4 0h6.8m0 -4.2h-6.8M285.3 571.1v4.2m-3.4 0h6.8m0 -4.2h-6.8M285.8 571.2v4.2m-3.4 0h6.8m0 -4.2h-6.8M286.3 571.3v4.2m-3.4 0h6.8m0 -4.2h-6.8M286.7 571.2v4.2m-3.4 0h6.8m0 -4.2h-6.8M287.2 571.3v4.2m-3.4 0h6.8m0 -4.2h-6.8M287.7 571.1v4.2m-3.4 0h6.8m0 -4.2h-6.8M288.2 571.3v4.2m-3.4 0h6.8m0 -4.2h-6.8M288.6 571.2v4.2m-3.4 0h6.8m0 -4.2h-6.8M289.1 571.1v4.2m-3.4 0h6.8m0 -4.2h-6.8M289.6 571.4v4.2m-3.4 0h6.8m0 -4.2h-6.8M290.1 571.3v4.2m-3.4 0h6.8m0 -4.2h-6.8M290.5 571.0v4.2m-3.4 0h6.8m0 -4.2h-6.8M291.0 571.3v4.2m-3.4 0h6.8m0 -4.2h-6.8M291.5 571.5v4.2m-3.4 0h6.8m0 -4.2h-6.8M292.0 571.4v4.2m-3.4 0h6.8m0 -4.2h-6.8M292.4 571.6v4.2m-3.4 0h6.8m0 -4.2h-6.8M292.9 571.4v4.2m-3.4 0h6.8m0 -4.2h-6.8M293.4 571.3v4.2m-3.4 0h6.8m0 -4.2h-6.8M293.9 571.6v4.2m-3.4 0h6.8m0 -4.2h-6.8M294.3 571.5v4.2m-3.4 0h6.8m0 -4.2h-6.8M294.8 571.3v4.2m-3.4 0h6.8m0 -4.2h-6.8M295.3 571.6v4.2m-3.4 0h6.8m0 -4.2h-6.8M295.8 571.5v4.2m-3.4 0h6.8m0 -4.2h-6.8M296.2 571.8v4.2m-3.4 0h6.8m0 -4.2h-6.8M296.7 571.7v4.2m-3.4 0h6.8m0 -4.2h-6.8M297.2 571.7v4.2m-3.4 0h6.8m0 -4.2h-6.8M297.7 571.2v4.2m-3.4 0h6.8m0 -4.2h-6.8M298.1 571.7v4.2m-3.4 0h6.8m0 -4.2h-6.8M298.6 571.8v4.2m-3.4 0h6.8m0 -4.2h-6.8M299.1 571.8v4.2m-3.4 0h6.8m0 -4.2h-6.8M299.6 571.7v4.2m-3.4 0h6.8m0 -4.2h-6.8M300.0 571.6v4.2m-3.4 0h6.8m0 -4.2h-6.8M300.5 571.7v4.2m-3.4 0h6.8m0 -4.2h-6.8M301.0 571.4v4.2m-3.4 0h6.8m0 -4.2h-6.8M301.5 571.7v4.2m-3.4 0h6.8m0 -4.2h-6.8M301.9 571.5v4.2m-3.4 0h6.8m0 -4.2h-6.8M302.4 571.8v4.2m-3.4 0h6.8m0 -4.2h-6.8M302.9 571.7v4.2m-3.4 0h6.8m0 -4.2h-6.8M303.4 572.1v4.2m-3.4 0h6.8m0 -4.2h-6.8M303.8 571.9v4.2m-3.4 0h6.8m0 -4.2h-6.8M304.3 571.9v4.2m-3.4 0h6.8m0 -4.2h-6.8M304.8 571.9v4.2m-3.4 0h6.8m0 -4.2h-6.8M305.2 572.3v4.2m-3.4 0h6.8m0 -4.2h-6.8M305.7 571.8v4.2m-3.4 0h6.8m0 -4.2h-6.8M306.2 572.0v4.2m-3.4 0h6.8m0 -4.2h-6.8M306.7 572.1v4.2m-3.4 0h6.8m0 -4.2h-6.8M307.1 572.0v4.2m-3.4 0h6.8m0 -4.2h-6.8M307.6 572.1v4.2m-3.4 0h6.8m0 -4.2h-6.8M308.1 571.9v4.2m-3.4 0h6.8m0 -4.2h-6.8M308.6 572.3v4.2m-3.4 0h6.8m0 -4.2h-6.8M309.0 572.2v4.2m-3.4 0h6.8m0 -4.2h-6.8M309.5 572.0v4.2m-3.4 0h6.8m0 -4.2h-6.8M310.0 572.1v4.2m-3.4 0h6.8m0 -4.2h-6.8M310.5 572.2v4.2m-3.4 0h6.8m0 -4.2h-6.8M310.9 572.2v4.2m-3.4 0h6.8m0 -4.2h-6.8M311.4 572.3v4.2m-3.4 0h6.8m0 -4.2h-6.8M311.9 572.2v4.2m-3.4 0h6.8m0 -4.2h-6.8M312.4 571.9v4.2m-3.4 0h6.8m0 -4.2h-6.8M312.8 572.4v4.2m-3.4 0h6.8m0 -4.2h-6.8M313.3 571.9v4.2m-3.4 0h6.8m0 -4.2h-6.8M313.8 572.0v4.2m-3.4 0h6.8m0 -4.2h-6.8M314.3 572.2v4.2m-3.4 0h6.8m0 -4.2h-6.8M314.7 572.0v4.2m-3.4 0h6.8m0 -4.2h-6.8M315.2 572.4v4.2m-3.4 0h6.8m0 -4.2h-6.8M315.7 572.4v4.2m-3.4 0h6.8m0 -4.2h-6.8M316.2 572.3v4.2m-3.4 0h6.8m0 -4.2h-6.8M316.6 572.2v4.2m-3.4 0h6.8m0 -4.2h-6.8M317.1 572.1v4.2m-3.4 0h6.8m0 -4.2h-6.8M317.6 572.2v4.2m-3.4 0h6.8m0 -4.2h-6.8M318.1 572.0v4.2m-3.4 0h6.8m0 -4.2h-6.8M318.5 572.4v4.2m-3.4 0h6.8m0 -4.2h-6.8M319.0 571.9v4.2m-3.4 0h6.8m0 -4.2h-6.8M319.5 572.3v4.2m-3.4 0h6.8m0 -4.2h-6.8M320.0 572.1v4.2m-3.4 0h6.8m0 -4.2h-6.8M320.4 572.1v4.2m-3.4 0h6.8m0 -4.2h-6.8M320.9 572.2v4.2m-3.4 0h6.8m0 -4.2h-6.8M321.4 572.2v4.2m-3.4 0h6.8m0 -4.2h-6.8M321.9 572.2v4.2m-3.4 0h6.8m0 -4.2h-6.8M322.3 572.0v4.2m-3.4 0h6.8m0 -4.2h-6.8M322.8 571.9v4.2m-3.4 0h6.8m0 -4.2h-6.8M323.3 572.0v4.2m-3.4 0h6.8m0 -4.2h-6.8M323.8 572.3v4.2m-3.4 0h6.8m0 -4.2h-6.8M324.2 572.3v4.2m-3.4 0h6.8m0 -4.2h-6.8M324.7 572.3v4.2m-3.4 0h6.8m0 -4.2h-6.8M325.2 572.1v4.2m-3.4 0h6.8m0 -4.2h-6.8M325.7 572.6v4.2m-3.4 0h6.8m0 -4.2h-6.8M326.1 572.0v4.2m-3.4 0h6.8m0 -4.2h-6.8M326.6 572.3v4.2m-3.4 0h6.8m0 -4.2h-6.8M327.1 572.4v4.2m-3.4 0h6.8m0 -4.2h-6.8M327.6 572.2v4.2m-3.4 0h6.8m0 -4.2h-6.8M328.0 572.1v4.2m-3.4 0h6.8m0 -4.2h-6.8M328.5 572.2v4.2m-3.4 0h6.8m0 -4.2h-6.8M329.0 572.1v4.2m-3.4 0h6.8m0 -4.2h-6.8M329.4 572.3v4.2m-3.4 0h6.8m0 -4.2h-6.8M329.9 572.2v4.2m-3.4 0h6.8m0 -4.2h-6.8M330.4 572.2v4.2m-3.4 0h6.8m0 -4.2h-6.8M330.9 572.5v4.2m-3.4 0h6.8m0 -4.2h-6.8M331.3 572.2v4.2m-3.4 0h6.8m0 -4.2h-6.8M331.8 572.5v4.2m-3.4 0h6.8m0 -4.2h-6.8M332.3 572.5v4.2m-3.4 0h6.8m0 -4.2h-6.8M332.8 572.7v4.2m-3.4 0h6.8m0 -4.2h-6.8M333.2 572.6v4.2m-3.4 0h6.8m0 -4.2h-6.8M333.7 572.5v4.2m-3.4 0h6.8m0 -4.2h-6.8M334.2 572.9v4.2m-3.4 0h6.8m0 -4.2h-6.8M334.7 572.6v4.2m-3.4 0h6.8m0 -4.2h-6.8M335.1 572.7v4.2m-3.4 0h6.8m0 -4.2h-6.8M335.6 572.8v4.2m-3.4 0h6.8m0 -4.2h-6.8M336.1 573.3v4.2m-3.4 0h6.8m0 -4.2h-6.8M336.6 573.0v4.2m-3.4 0h6.8m0 -4.2h-6.8M337.0 572.9v4.2m-3.4 0h6.8m0 -4.2h-6.8M337.5 573.3v4.2m-3.4 0h6.8m0 -4.2h-6.8M338.0 573.2v4.2m-3.4 0h6.8m0 -4.2h-6.8M338.5 573.7v4.2m-3.4 0h6.8m0 -4.2h-6.8M338.9 573.2v4.2m-3.4 0h6.8m0 -4.2h-6.8M339.4 573.5v4.2m-3.4 0h6.8m0 -4.2h-6.8M339.9 573.3v4.2m-3.4 0h6.8m0 -4.2h-6.8M340.4 573.8v4.2m-3.4 0h6.8m0 -4.2h-6.8M340.8 573.4v4.2m-3.4 0h6.8m0 -4.2h-6.8M341.3 573.6v4.2m-3.4 0h6.8m0 -4.2h-6.8M341.8 573.4v4.2m-3.4 0h6.8m0 -4.2h-6.8M342.3 573.7v4.2m-3.4 0h6.8m0 -4.2h-6.8M342.7 573.7v4.2m-3.4 0h6.8m0 -4.2h-6.8M343.2 573.2v4.2m-3.4 0h6.8m0 -4.2h-6.8M343.7 573.8v4.2m-3.4 0h6.8m0 -4.2h-6.8M344.2 573.8v4.2m-3.4 0h6.8m0 -4.2h-6.8M344.6 573.7v4.2m-3.4 0h6.8m0 -4.2h-6.8M345.1 573.9v4.2m-3.4 0h6.8m0 -4.2h-6.8M345.6 573.5v4.2m-3.4 0h6.8m0 -4.2h-6.8M346.1 573.4v4.2m-3.4 0h6.8m0 -4.2h-6.8M346.5 573.9v4.2m-3.4 0h6.8m0 -4.2h-6.8M347.0 574.1v4.2m-3.4 0h6.8m0 -4.2h-6.8M347.5 573.6v4.2m-3.4 0h6.8m0 -4.2h-6.8M348.0 573.6v4.2m-3.4 0h6.8m0 -4.2h-6.8M348.4 573.7v4.2m-3.4 0h6.8m0 -4.2h-6.8M348.9 573.6v4.2m-3.4 0h6.8m0 -4.2h-6.8M349.4 574.0v4.2m-3.4 0h6.8m0 -4.2h-6.8M349.9 573.9v4.2m-3.4 0h6.8m0 -4.2h-6.8M350.3 574.1v4.2m-3.4 0h6.8m0 -4.2h-6.8M350.8 574.2v4.2m-3.4 0h6.8m0 -4.2h-6.8M351.3 573.7v4.2m-3.4 0h6.8m0 -4.2h-6.8M351.8 574.0v4.2m-3.4 0h6.8m0 -4.2h-6.8M352.2 573.5v4.2m-3.4 0h6.8m0 -4.2h-6.8M352.7 573.9v4.2m-3.4 0h6.8m0 -4.2h-6.8M353.2 574.1v4.2m-3.4 0h6.8m0 -4.2h-6.8M353.6 573.8v4.2m-3.4 0h6.8m0 -4.2h-6.8M354.1 573.6v4.2m-3.4 0h6.8m0 -4.2h-6.8M354.6 573.9v4.2m-3.4 0h6.8m0 -4.2h-6.8M355.1 574.2v4.2m-3.4 0h6.8m0 -4.2h-6.8M355.5 573.9v4.2m-3.4 0h6.8m0 -4.2h-6.8M356.0 573.7v4.2m-3.4 0h6.8m0 -4.2h-6.8M356.5 574.1v4.2m-3.4 0h6.8m0 -4.2h-6.8M357.0 574.1v4.2m-3.4 0h6.8m0 -4.2h-6.8M357.4 573.8v4.2m-3.4 0h6.8m0 -4.2h-6.8M357.9 574.0v4.2m-3.4 0h6.8m0 -4.2h-6.8M358.4 574.2v4.2m-3.4 0h6.8m0 -4.2h-6.8M358.9 574.1v4.2m-3.4 0h6.8m0 -4.2h-6.8M359.3 574.2v4.2m-3.4 0h6.8m0 -4.2h-6.8M359.8 574.0v4.2m-3.4 0h6.8m0 -4.2h-6.8M360.3 574.0v4.2m-3.4 0h6.8m0 -4.2h-6.8M360.8 573.8v4.2m-3.4 0h6.8m0 -4.2h-6.8M361.2 573.9v4.2m-3.4 0h6.8m0 -4.2h-6.8M361.7 574.3v4.2m-3.4 0h6.8m0 -4.2h-6.8M362.2 574.0v4.2m-3.4 0h6.8m0 -4.2h-6.8M362.7 573.9v4.2m-3.4 0h6.8m0 -4.2h-6.8M363.1 574.0v4.2m-3.4 0h6.8m0 -4.2h-6.8M363.6 573.9v4.2m-3.4 0h6.8m0 -4.2h-6.8M364.1 574.2v4.2m-3.4 0h6.8m0 -4.2h-6.8M364.6 574.3v4.2m-3.4 0h6.8m0 -4.2h-6.8M365.0 573.9v4.2m-3.4 0h6.8m0 -4.2h-6.8M365.5 574.3v4.2m-3.4 0h6.8m0 -4.2h-6.8M366.0 574.5v4.2m-3.4 0h6.8m0 -4.2h-6.8M366.5 574.0v4.2m-3.4 0h6.8m0 -4.2h-6.8M366.9 574.3v4.2m-3.4 0h6.8m0 -4.2h-6.8M367.4 574.2v4.2m-3.4 0h6.8m0 -4.2h-6.8M367.9 574.4v4.2m-3.4 0h6.8m0 -4.2h-6.8M368.4 574.4v4.2m-3.4 0h6.8m0 -4.2h-6.8M368.8 574.4v4.2m-3.4 0h6.8m0 -4.2h-6.8M369.3 574.3v4.2m-3.4 0h6.8m0 -4.2h-6.8M369.8 574.2v4.2m-3.4 0h6.8m0 -4.2h-6.8M370.3 574.7v4.2m-3.4 0h6.8m0 -4.2h-6.8M370.7 574.1v4.2m-3.4 0h6.8m0 -4.2h-6.8M371.2 574.5v4.2m-3.4 0h6.8m0 -4.2h-6.8M371.7 574.5v4.2m-3.4 0h6.8m0 -4.2h-6.8M372.2 574.1v4.2m-3.4 0h6.8m0 -4.2h-6.8M372.6 574.3v4.2m-3.4 0h6.8m0 -4.2h-6.8M373.1 574.6v4.2m-3.4 0h6.8m0 -4.2h-6.8M373.6 574.0v4.2m-3.4 0h6.8m0 -4.2h-6.8M374.1 574.5v4.2m-3.4 0h6.8m0 -4.2h-6.8M374.5 574.3v4.2m-3.4 0h6.8m0 -4.2h-6.8M375.0 574.3v4.2m-3.4 0h6.8m0 -4.2h-6.8M375.5 574.1v4.2m-3.4 0h6.8m0 -4.2h-6.8M376.0 574.5v4.2m-3.4 0h6.8m0 -4.2h-6.8M376.4 574.2v4.2m-3.4 0h6.8m0 -4.2h-6.8M376.9 574.5v4.2m-3.4 0h6.8m0 -4.2h-6.8M377.4 574.2v4.2m-3.4 0h6.8m0 -4.2h-6.8M377.8 574.6v4.2m-3.4 0h6.8m0 -4.2h-6.8M378.3 574.5v4.2m-3.4 0h6.8m0 -4.2h-6.8M378.8 574.1v4.2m-3.4 0h6.8m0 -4.2h-6.8M379.3 574.4v4.2m-3.4 0h6.8m0 -4.2h-6.8M379.7 574.4v4.2m-3.4 0h6.8m0 -4.2h-6.8M380.2 574.0v4.2m-3.4 0h6.8m0 -4.2h-6.8M380.7 574.4v4.2m-3.4 0h6.8m0 -4.2h-6.8M381.2 574.7v4.2m-3.4 0h6.8m0 -4.2h-6.8M381.6 574.4v4.2m-3.4 0h6.8m0 -4.2h-6.8M382.1 574.7v4.2m-3.4 0h6.8m0 -4.2h-6.8M382.6 574.3v4.2m-3.4 0h6.8m0 -4.2h-6.8M383.1 574.3v4.2m-3.4 0h6.8m0 -4.2h-6.8M383.5 574.7v4.2m-3.4 0h6.8m0 -4.2h-6.8M384.0 574.7v4.2m-3.4 0h6.8m0 -4.2h-6.8M384.5 574.5v4.2m-3.4 0h6.8m0 -4.2h-6.8M385.0 574.5v4.2m-3.4 0h6.8m0 -4.2h-6.8M385.4 574.6v4.2m-3.4 0h6.8m0 -4.2h-6.8M385.9 574.3v4.2m-3.4 0h6.8m0 -4.2h-6.8M386.4 574.7v4.2m-3.4 0h6.8m0 -4.2h-6.8M386.9 574.4v4.2m-3.4 0h6.8m0 -4.2h-6.8M387.3 574.4v4.2m-3.4 0h6.8m0 -4.2h-6.8M387.8 574.3v4.2m-3.4 0h6.8m0 -4.2h-6.8M388.3 574.2v4.2m-3.4 0h6.8m0 -4.2h-6.8M388.8 574.4v4.2m-3.4 0h6.8m0 -4.2h-6.8M389.2 574.0v4.2m-3.4 0h6.8m0 -4.2h-6.8M389.7 574.1v4.2m-3.4 0h6.8m0 -4.2h-6.8M390.2 574.2v4.2m-3.4 0h6.8m0 -4.2h-6.8M390.7 574.4v4.2m-3.4 0h6.8m0 -4.2h-6.8M391.1 574.4v4.2m-3.4 0h6.8m0 -4.2h-6.8M391.6 574.1v4.2m-3.4 0h6.8m0 -4.2h-6.8M392.1 574.4v4.2m-3.4 0h6.8m0 -4.2h-6.8M392.6 574.2v4.2m-3.4 0h6.8m0 -4.2h-6.8M393.0 574.1v4.2m-3.4 0h6.8m0 -4.2h-6.8M393.5 574.1v4.2m-3.4 0h6.8m0 -4.2h-6.8M394.0 574.1v4.2m-3.4 0h6.8m0 -4.2h-6.8M394.5 574.4v4.2m-3.4 0h6.8m0 -4.2h-6.8M394.9 574.6v4.2m-3.4 0h6.8m0 -4.2h-6.8M395.4 574.2v4.2m-3.4 0h6.8m0 -4.2h-6.8M395.9 574.4v4.2m-3.4 0h6.8m0 -4.2h-6.8M396.4 574.3v4.2m-3.4 0h6.8m0 -4.2h-6.8M396.8 574.6v4.2m-3.4 0h6.8m0 -4.2h-6.8M397.3 574.4v4.2m-3.4 0h6.8m0 -4.2h-6.8M397.8 574.6v4.2m-3.4 0h6.8m0 -4.2h-6.8M398.3 574.7v4.2m-3.4 0h6.8m0 -4.2h-6.8M398.7 574.8v4.2m-3.4 0h6.8m0 -4.2h-6.8M399.2 574.8v4.2m-3.4 0h6.8m0 -4.2h-6.8M399.7 574.9v4.2m-3.4 0h6.8m0 -4.2h-6.8M400.1 575.0v4.2m-3.4 0h6.8m0 -4.2h-6.8M400.6 574.9v4.2m-3.4 0h6.8m0 -4.2h-6.8M401.1 575.3v4.2m-3.4 0h6.8m0 -4.2h-6.8M401.6 574.9v4.2m-3.4 0h6.8m0 -4.2h-6.8M402.0 575.3v4.2m-3.4 0h6.8m0 -4.2h-6.8M402.5 575.2v4.2m-3.4 0h6.8m0 -4.2h-6.8M403.0 575.4v4.2m-3.4 0h6.8m0 -4.2h-6.8M403.5 575.5v4.2m-3.4 0h6.8m0 -4.2h-6.8M403.9 575.1v4.2m-3.4 0h6.8m0 -4.2h-6.8M404.4 575.5v4.2m-3.4 0h6.8m0 -4.2h-6.8M404.9 575.7v4.2m-3.4 0h6.8m0 -4.2h-6.8M405.4 575.6v4.2m-3.4 0h6.8m0 -4.2h-6.8M405.8 575.6v4.2m-3.4 0h6.8m0 -4.2h-6.8M406.3 575.1v4.2m-3.4 0h6.8m0 -4.2h-6.8M406.8 575.5v4.2m-3.4 0h6.8m0 -4.2h-6.8M407.3 575.4v4.2m-3.4 0h6.8m0 -4.2h-6.8M407.7 575.8v4.2m-3.4 0h6.8m0 -4.2h-6.8M408.2 575.5v4.2m-3.4 0h6.8m0 -4.2h-6.8M408.7 575.5v4.2m-3.4 0h6.8m0 -4.2h-6.8M409.2 575.3v4.2m-3.4 0h6.8m0 -4.2h-6.8M409.6 575.8v4.2m-3.4 0h6.8m0 -4.2h-6.8M410.1 575.6v4.2m-3.4 0h6.8m0 -4.2h-6.8M410.6 575.6v4.2m-3.4 0h6.8m0 -4.2h-6.8M411.1 575.9v4.2m-3.4 0h6.8m0 -4.2h-6.8M411.5 575.7v4.2m-3.4 0h6.8m0 -4.2h-6.8M412.0 575.8v4.2m-3.4 0h6.8m0 -4.2h-6.8M412.5 576.2v4.2m-3.4 0h6.8m0 -4.2h-6.8M413.0 575.7v4.2m-3.4 0h6.8m0 -4.2h-6.8M413.4 575.7v4.2m-3.4 0h6.8m0 -4.2h-6.8M413.9 575.9v4.2m-3.4 0h6.8m0 -4.2h-6.8M414.4 576.1v4.2m-3.4 0h6.8m0 -4.2h-6.8M414.9 575.5v4.2m-3.4 0h6.8m0 -4.2h-6.8M415.3 575.8v4.2m-3.4 0h6.8m0 -4.2h-6.8M415.8 575.7v4.2m-3.4 0h6.8m0 -4.2h-6.8M416.3 575.6v4.2m-3.4 0h6.8m0 -4.2h-6.8M416.8 576.0v4.2m-3.4 0h6.8m0 -4.2h-6.8M417.2 575.7v4.2m-3.4 0h6.8m0 -4.2h-6.8M417.7 576.0v4.2m-3.4 0h6.8m0 -4.2h-6.8M418.2 576.0v4.2m-3.4 0h6.8m0 -4.2h-6.8M418.7 576.0v4.2m-3.4 0h6.8m0 -4.2h-6.8M419.1 576.0v4.2m-3.4 0h6.8m0 -4.2h-6.8M419.6 575.9v4.2m-3.4 0h6.8m0 -4.2h-6.8M420.1 576.1v4.2m-3.4 0h6.8m0 -4.2h-6.8M420.6 576.2v4.2m-3.4 0h6.8m0 -4.2h-6.8M421.0 576.2v4.2m-3.4 0h6.8m0 -4.2h-6.8M421.5 576.1v4.2m-3.4 0h6.8m0 -4.2h-6.8M422.0 576.4v4.2m-3.4 0h6.8m0 -4.2h-6.8M422.5 576.4v4.2m-3.4 0h6.8m0 -4.2h-6.8M422.9 576.3v4.2m-3.4 0h6.8m0 -4.2h-6.8M423.4 576.4v4.2m-3.4 0h6.8m0 -4.2h-6.8M423.9 576.4v4.2m-3.4 0h6.8m0 -4.2h-6.8M424.3 576.5v4.2m-3.4 0h6.8m0 -4.2h-6.8M424.8 576.1v4.2m-3.4 0h6.8m0 -4.2h-6.8M425.3 576.2v4.2m-3.4 0h6.8m0 -4.2h-6.8M425.8 576.4v4.2m-3.4 0h6.8m0 -4.2h-6.8M426.2 576.5v4.2m-3.4 0h6.8m0 -4.2h-6.8M426.7 576.2v4.2m-3.4 0h6.8m0 -4.2h-6.8M427.2 576.5v4.2m-3.4 0h6.8m0 -4.2h-6.8M427.7 576.6v4.2m-3.4 0h6.8m0 -4.2h-6.8M428.1 576.6v4.2m-3.4 0h6.8m0 -4.2h-6.8M428.6 576.6v4.2m-3.4 0h6.8m0 -4.2h-6.8M429.1 576.4v4.2m-3.4 0h6.8m0 -4.2h-6.8M429.6 576.6v4.2m-3.4 0h6.8m0 -4.2h-6.8M430.0 576.3v4.2m-3.4 0h6.8m0 -4.2h-6.8M430.5 576.8v4.2m-3.4 0h6.8m0 -4.2h-6.8M431.0 576.5v4.2m-3.4 0h6.8m0 -4.2h-6.8M431.5 576.9v4.2m-3.4 0h6.8m0 -4.2h-6.8M431.9 576.3v4.2m-3.4 0h6.8m0 -4.2h-6.8M432.4 576.7v4.2m-3.4 0h6.8m0 -4.2h-6.8M432.9 576.7v4.2m-3.4 0h6.8m0 -4.2h-6.8M433.4 576.5v4.2m-3.4 0h6.8m0 -4.2h-6.8M433.8 576.5v4.2m-3.4 0h6.8m0 -4.2h-6.8M434.3 576.9v4.2m-3.4 0h6.8m0 -4.2h-6.8M434.8 576.8v4.2m-3.4 0h6.8m0 -4.2h-6.8M435.3 577.0v4.2m-3.4 0h6.8m0 -4.2h-6.8M435.7 576.7v4.2m-3.4 0h6.8m0 -4.2h-6.8M436.2 576.7v4.2m-3.4 0h6.8m0 -4.2h-6.8M436.7 576.8v4.2m-3.4 0h6.8m0 -4.2h-6.8M437.2 576.9v4.2m-3.4 0h6.8m0 -4.2h-6.8M437.6 576.8v4.2m-3.4 0h6.8m0 -4.2h-6.8M438.1 576.9v4.2m-3.4 0h6.8m0 -4.2h-6.8M438.6 576.7v4.2m-3.4 0h6.8m0 -4.2h-6.8M439.1 576.5v4.2m-3.4 0h6.8m0 -4.2h-6.8M439.5 577.2v4.2m-3.4 0h6.8m0 -4.2h-6.8M440.0 576.9v4.2m-3.4 0h6.8m0 -4.2h-6.8M440.5 576.9v4.2m-3.4 0h6.8m0 -4.2h-6.8M441.0 576.8v4.2m-3.4 0h6.8m0 -4.2h-6.8M441.4 577.1v4.2m-3.4 0h6.8m0 -4.2h-6.8M441.9 577.0v4.2m-3.4 0h6.8m0 -4.2h-6.8M442.4 577.2v4.2m-3.4 0h6.8m0 -4.2h-6.8M442.9 576.9v4.2m-3.4 0h6.8m0 -4.2h-6.8M443.3 577.0v4.2m-3.4 0h6.8m0 -4.2h-6.8M443.8 577.1v4.2m-3.4 0h6.8m0 -4.2h-6.8M444.3 577.0v4.2m-3.4 0h6.8m0 -4.2h-6.8M444.8 577.1v4.2m-3.4 0h6.8m0 -4.2h-6.8M445.2 577.4v4.2m-3.4 0h6.8m0 -4.2h-6.8M445.7 577.0v4.2m-3.4 0h6.8m0 -4.2h-6.8M446.2 577.1v4.2m-3.4 0h6.8m0 -4.2h-6.8M446.7 577.2v4.2m-3.4 0h6.8m0 -4.2h-6.8M447.1 577.0v4.2m-3.4 0h6.8m0 -4.2h-6.8M447.6 577.0v4.2m-3.4 0h6.8m0 -4.2h-6.8M448.1 577.5v4.2m-3.4 0h6.8m0 -4.2h-6.8M448.5 577.4v4.2m-3.4 0h6.8m0 -4.2h-6.8M449.0 577.0v4.2m-3.4 0h6.8m0 -4.2h-6.8M449.5 577.0v4.2m-3.4 0h6.8m0 -4.2h-6.8M450.0 577.4v4.2m-3.4 0h6.8m0 -4.2h-6.8M450.4 577.5v4.2m-3.4 0h6.8m0 -4.2h-6.8M450.9 577.4v4.2m-3.4 0h6.8m0 -4.2h-6.8M451.4 577.4v4.2m-3.4 0h6.8m0 -4.2h-6.8M451.9 577.6v4.2m-3.4 0h6.8m0 -4.2h-6.8M452.3 577.3v4.2m-3.4 0h6.8m0 -4.2h-6.8M452.8 577.5v4.2m-3.4 0h6.8m0 -4.2h-6.8M453.3 577.5v4.2m-3.4 0h6.8m0 -4.2h-6.8M453.8 577.1v4.2m-3.4 0h6.8m0 -4.2h-6.8M454.2 577.4v4.2m-3.4 0h6.8m0 -4.2h-6.8M454.7 577.3v4.2m-3.4 0h6.8m0 -4.2h-6.8M455.2 577.2v4.2m-3.4 0h6.8m0 -4.2h-6.8M455.7 577.2v4.2m-3.4 0h6.8m0 -4.2h-6.8M456.1 577.4v4.2m-3.4 0h6.8m0 -4.2h-6.8M456.6 577.3v4.2m-3.4 0h6.8m0 -4.2h-6.8M457.1 577.5v4.2m-3.4 0h6.8m0 -4.2h-6.8M457.6 577.0v4.2m-3.4 0h6.8m0 -4.2h-6.8M458.0 577.2v4.2m-3.4 0h6.8m0 -4.2h-6.8M458.5 577.6v4.2m-3.4 0h6.8m0 -4.2h-6.8M459.0 577.3v4.2m-3.4 0h6.8m0 -4.2h-6.8M459.5 577.2v4.2m-3.4 0h6.8m0 -4.2h-6.8M459.9 577.3v4.2m-3.4 0h6.8m0 -4.2h-6.8M460.4 577.0v4.2m-3.4 0h6.8m0 -4.2h-6.8M460.9 577.1v4.2m-3.4 0h6.8m0 -4.2h-6.8M461.4 577.4v4.2m-3.4 0h6.8m0 -4.2h-6.8M461.8 577.4v4.2m-3.4 0h6.8m0 -4.2h-6.8M462.3 577.6v4.2m-3.4 0h6.8m0 -4.2h-6.8M462.8 577.3v4.2m-3.4 0h6.8m0 -4.2h-6.8M463.3 577.3v4.2m-3.4 0h6.8m0 -4.2h-6.8M463.7 576.8v4.2m-3.4 0h6.8m0 -4.2h-6.8M464.2 577.3v4.2m-3.4 0h6.8m0 -4.2h-6.8M464.7 577.7v4.2m-3.4 0h6.8m0 -4.2h-6.8M465.2 577.5v4.2m-3.4 0h6.8m0 -4.2h-6.8M465.6 577.3v4.2m-3.4 0h6.8m0 -4.2h-6.8M466.1 577.6v4.2m-3.4 0h6.8m0 -4.2h-6.8M466.6 577.5v4.2m-3.4 0h6.8m0 -4.2h-6.8M467.1 577.4v4.2m-3.4 0h6.8m0 -4.2h-6.8M467.5 577.3v4.2m-3.4 0h6.8m0 -4.2h-6.8M468.0 577.4v4.2m-3.4 0h6.8m0 -4.2h-6.8M468.5 577.5v4.2m-3.4 0h6.8m0 -4.2h-6.8M469.0 577.2v4.2m-3.4 0h6.8m0 -4.2h-6.8M469.4 577.4v4.2m-3.4 0h6.8m0 -4.2h-6.8M469.9 577.4v4.2m-3.4 0h6.8m0 -4.2h-6.8M470.4 577.6v4.2m-3.4 0h6.8m0 -4.2h-6.8M470.9 577.5v4.2m-3.4 0h6.8m0 -4.2h-6.8M471.3 577.2v4.2m-3.4 0h6.8m0 -4.2h-6.8M471.8 577.6v4.2m-3.4 0h6.8m0 -4.2h-6.8M472.3 577.3v4.2m-3.4 0h6.8m0 -4.2h-6.8M472.7 577.2v4.2m-3.4 0h6.8m0 -4.2h-6.8M473.2 577.4v4.2m-3.4 0h6.8m0 -4.2h-6.8M473.7 577.2v4.2m-3.4 0h6.8m0 -4.2h-6.8M474.2 577.5v4.2m-3.4 0h6.8m0 -4.2h-6.8M474.6 577.0v4.2m-3.4 0h6.8m0 -4.2h-6.8M475.1 577.1v4.2m-3.4 0h6.8m0 -4.2h-6.8M475.6 577.2v4.2m-3.4 0h6.8m0 -4.2h-6.8M476.1 577.6v4.2m-3.4 0h6.8m0 -4.2h-6.8M476.5 577.5v4.2m-3.4 0h6.8m0 -4.2h-6.8M477.0 577.1v4.2m-3.4 0h6.8m0 -4.2h-6.8M477.5 576.9v4.2m-3.4 0h6.8m0 -4.2h-6.8M478.0 577.2v4.2m-3.4 0h6.8m0 -4.2h-6.8M478.4 577.0v4.2m-3.4 0h6.8m0 -4.2h-6.8M478.9 577.3v4.2m-3.4 0h6.8m0 -4.2h-6.8M479.4 577.3v4.2m-3.4 0h6.8m0 -4.2h-6.8M479.9 577.2v4.2m-3.4 0h6.8m0 -4.2h-6.8M480.3 577.1v4.2m-3.4 0h6.8m0 -4.2h-6.8M480.8 577.5v4.2m-3.4 0h6.8m0 -4.2h-6.8M481.3 577.0v4.2m-3.4 0h6.8m0 -4.2h-6.8M481.8 576.9v4.2m-3.4 0h6.8m0 -4.2h-6.8M482.2 577.4v4.2m-3.4 0h6.8m0 -4.2h-6.8M482.7 577.4v4.2m-3.4 0h6.8m0 -4.2h-6.8M483.2 577.1v4.2m-3.4 0h6.8m0 -4.2h-6.8M483.7 577.3v4.2m-3.4 0h6.8m0 -4.2h-6.8M484.1 577.6v4.2m-3.4 0h6.8m0 -4.2h-6.8M484.6 577.0v4.2m-3.4 0h6.8m0 -4.2h-6.8M485.1 577.1v4.2m-3.4 0h6.8m0 -4.2h-6.8M485.6 577.2v4.2m-3.4 0h6.8m0 -4.2h-6.8M486.0 576.8v4.2m-3.4 0h6.8m0 -4.2h-6.8M486.5 577.2v4.2m-3.4 0h6.8m0 -4.2h-6.8M487.0 577.4v4.2m-3.4 0h6.8m0 -4.2h-6.8M487.5 577.3v4.2m-3.4 0h6.8m0 -4.2h-6.8M487.9 577.5v4.2m-3.4 0h6.8m0 -4.2h-6.8M488.4 577.5v4.2m-3.4 0h6.8m0 -4.2h-6.8M488.9 577.4v4.2m-3.4 0h6.8m0 -4.2h-6.8M489.4 577.6v4.2m-3.4 0h6.8m0 -4.2h-6.8M489.8 577.6v4.2m-3.4 0h6.8m0 -4.2h-6.8M490.3 577.2v4.2m-3.4 0h6.8m0 -4.2h-6.8M490.8 577.4v4.2m-3.4 0h6.8m0 -4.2h-6.8M491.3 577.5v4.2m-3.4 0h6.8m0 -4.2h-6.8M491.7 577.6v4.2m-3.4 0h6.8m0 -4.2h-6.8M492.2 577.6v4.2m-3.4 0h6.8m0 -4.2h-6.8M492.7 577.5v4.2m-3.4 0h6.8m0 -4.2h-6.8M493.2 577.8v4.2m-3.4 0h6.8m0 -4.2h-6.8M493.6 577.5v4.2m-3.4 0h6.8m0 -4.2h-6.8M494.1 578.0v4.2m-3.4 0h6.8m0 -4.2h-6.8M494.6 577.9v4.2m-3.4 0h6.8m0 -4.2h-6.8M495.0 578.2v4.2m-3.4 0h6.8m0 -4.2h-6.8M495.5 578.0v4.2m-3.4 0h6.8m0 -4.2h-6.8M496.0 577.9v4.2m-3.4 0h6.8m0 -4.2h-6.8M496.5 577.7v4.2m-3.4 0h6.8m0 -4.2h-6.8M496.9 578.0v4.2m-3.4 0h6.8m0 -4.2h-6.8M497.4 577.9v4.2m-3.4 0h6.8m0 -4.2h-6.8M497.9 577.9v4.2m-3.4 0h6.8m0 -4.2h-6.8M498.4 577.9v4.2m-3.4 0h6.8m0 -4.2h-6.8M498.8 578.0v4.2m-3.4 0h6.8m0 -4.2h-6.8M499.3 577.7v4.2m-3.4 0h6.8m0 -4.2h-6.8M499.8 578.0v4.2m-3.4 0h6.8m0 -4.2h-6.8M500.3 577.6v4.2m-3.4 0h6.8m0 -4.2h-6.8M500.7 577.6v4.2m-3.4 0h6.8m0 -4.2h-6.8M501.2 577.7v4.2m-3.4 0h6.8m0 -4.2h-6.8M501.7 577.7v4.2m-3.4 0h6.8m0 -4.2h-6.8M502.2 577.7v4.2m-3.4 0h6.8m0 -4.2h-6.8M502.6 577.1v4.2m-3.4 0h6.8m0 -4.2h-6.8M503.1 577.6v4.2m-3.4 0h6.8m0 -4.2h-6.8M503.6 577.0v4.2m-3.4 0h6.8m0 -4.2h-6.8M504.1 577.2v4.2m-3.4 0h6.8m0 -4.2h-6.8M504.5 577.3v4.2m-3.4 0h6.8m0 -4.2h-6.8M505.0 577.4v4.2m-3.4 0h6.8m0 -4.2h-6.8M505.5 577.0v4.2m-3.4 0h6.8m0 -4.2h-6.8M506.0 576.8v4.2m-3.4 0h6.8m0 -4.2h-6.8M506.4 577.3v4.2m-3.4 0h6.8m0 -4.2h-6.8M506.9 577.1v4.2m-3.4 0h6.8m0 -4.2h-6.8M507.4 576.9v4.2m-3.4 0h6.8m0 -4.2h-6.8M507.9 577.0v4.2m-3.4 0h6.8m0 -4.2h-6.8M508.3 576.7v4.2m-3.4 0h6.8m0 -4.2h-6.8M508.8 577.1v4.2m-3.4 0h6.8m0 -4.2h-6.8M509.3 576.9v4.2m-3.4 0h6.8m0 -4.2h-6.8M509.8 577.3v4.2m-3.4 0h6.8m0 -4.2h-6.8M510.2 576.6v4.2m-3.4 0h6.8m0 -4.2h-6.8M510.7 577.1v4.2m-3.4 0h6.8m0 -4.2h-6.8M511.2 577.4v4.2m-3.4 0h6.8m0 -4.2h-6.8M511.7 577.0v4.2m-3.4 0h6.8m0 -4.2h-6.8M512.1 577.0v4.2m-3.4 0h6.8m0 -4.2h-6.8M512.6 576.6v4.2m-3.4 0h6.8m0 -4.2h-6.8M513.1 577.0v4.2m-3.4 0h6.8m0 -4.2h-6.8M513.6 576.9v4.2m-3.4 0h6.8m0 -4.2h-6.8M514.0 576.8v4.2m-3.4 0h6.8m0 -4.2h-6.8M514.5 576.6v4.2m-3.4 0h6.8m0 -4.2h-6.8M515.0 576.9v4.2m-3.4 0h6.8m0 -4.2h-6.8M515.5 576.7v4.2m-3.4 0h6.8m0 -4.2h-6.8M515.9 576.8v4.2m-3.4 0h6.8m0 -4.2h-6.8M516.4 576.9v4.2m-3.4 0h6.8m0 -4.2h-6.8M516.9 576.8v4.2m-3.4 0h6.8m0 -4.2h-6.8M517.4 576.8v4.2m-3.4 0h6.8m0 -4.2h-6.8M517.8 577.0v4.2m-3.4 0h6.8m0 -4.2h-6.8M518.3 576.6v4.2m-3.4 0h6.8m0 -4.2h-6.8M518.8 577.1v4.2m-3.4 0h6.8m0 -4.2h-6.8M519.2 576.6v4.2m-3.4 0h6.8m0 -4.2h-6.8M519.7 576.6v4.2m-3.4 0h6.8m0 -4.2h-6.8M520.2 576.8v4.2m-3.4 0h6.8m0 -4.2h-6.8M520.7 577.0v4.2m-3.4 0h6.8m0 -4.2h-6.8M521.1 576.9v4.2m-3.4 0h6.8m0 -4.2h-6.8M521.6 576.7v4.2m-3.4 0h6.8m0 -4.2h-6.8M522.1 576.7v4.2m-3.4 0h6.8m0 -4.2h-6.8M522.6 576.8v4.2m-3.4 0h6.8m0 -4.2h-6.8M523.0 576.6v4.2m-3.4 0h6.8m0 -4.2h-6.8M523.5 576.9v4.2m-3.4 0h6.8m0 -4.2h-6.8M524.0 576.8v4.2m-3.4 0h6.8m0 -4.2h-6.8M524.5 577.1v4.2m-3.4 0h6.8m0 -4.2h-6.8M524.9 576.7v4.2m-3.4 0h6.8m0 -4.2h-6.8M525.4 576.8v4.2m-3.4 0h6.8m0 -4.2h-6.8M525.9 576.9v4.2m-3.4 0h6.8m0 -4.2h-6.8M526.4 576.6v4.2m-3.4 0h6.8m0 -4.2h-6.8M526.8 576.7v4.2m-3.4 0h6.8m0 -4.2h-6.8M527.3 577.3v4.2m-3.4 0h6.8m0 -4.2h-6.8M527.8 576.8v4.2m-3.4 0h6.8m0 -4.2h-6.8M528.3 577.1v4.2m-3.4 0h6.8m0 -4.2h-6.8M528.7 576.6v4.2m-3.4 0h6.8m0 -4.2h-6.8M529.2 576.3v4.2m-3.4 0h6.8m0 -4.2h-6.8M529.7 576.9v4.2m-3.4 0h6.8m0 -4.2h-6.8M530.2 576.8v4.2m-3.4 0h6.8m0 -4.2h-6.8M530.6 576.9v4.2m-3.4 0h6.8m0 -4.2h-6.8M531.1 576.7v4.2m-3.4 0h6.8m0 -4.2h-6.8M531.6 576.7v4.2m-3.4 0h6.8m0 -4.2h-6.8M532.1 576.6v4.2m-3.4 0h6.8m0 -4.2h-6.8M532.5 577.0v4.2m-3.4 0h6.8m0 -4.2h-6.8M533.0 576.5v4.2m-3.4 0h6.8m0 -4.2h-6.8M533.5 577.0v4.2m-3.4 0h6.8m0 -4.2h-6.8M534.0 576.8v4.2m-3.4 0h6.8m0 -4.2h-6.8M534.4 576.6v4.2m-3.4 0h6.8m0 -4.2h-6.8M534.9 576.7v4.2m-3.4 0h6.8m0 -4.2h-6.8M535.4 577.0v4.2m-3.4 0h6.8m0 -4.2h-6.8M535.9 577.0v4.2m-3.4 0h6.8m0 -4.2h-6.8M536.3 576.9v4.2m-3.4 0h6.8m0 -4.2h-6.8M536.8 576.8v4.2m-3.4 0h6.8m0 -4.2h-6.8M537.3 576.6v4.2m-3.4 0h6.8m0 -4.2h-6.8M537.8 577.1v4.2m-3.4 0h6.8m0 -4.2h-6.8M538.2 576.7v4.2m-3.4 0h6.8m0 -4.2h-6.8M538.7 576.7v4.2m-3.4 0h6.8m0 -4.2h-6.8M539.2 576.7v4.2m-3.4 0h6.8m0 -4.2h-6.8M539.7 576.7v4.2m-3.4 0h6.8m0 -4.2h-6.8M540.1 576.5v4.2m-3.4 0h6.8m0 -4.2h-6.8M540.6 576.7v4.2m-3.4 0h6.8m0 -4.2h-6.8M541.1 576.7v4.2m-3.4 0h6.8m0 -4.2h-6.8M541.6 576.7v4.2m-3.4 0h6.8m0 -4.2h-6.8M542.0 576.5v4.2m-3.4 0h6.8m0 -4.2h-6.8M542.5 577.2v4.2m-3.4 0h6.8m0 -4.2h-6.8M543.0 576.6v4.2m-3.4 0h6.8m0 -4.2h-6.8M543.4 576.9v4.2m-3.4 0h6.8m0 -4.2h-6.8M543.9 576.9v4.2m-3.4 0h6.8m0 -4.2h-6.8M544.4 577.0v4.2m-3.4 0h6.8m0 -4.2h-6.8M544.9 577.2v4.2m-3.4 0h6.8m0 -4.2h-6.8M545.3 576.9v4.2m-3.4 0h6.8m0 -4.2h-6.8M545.8 576.9v4.2m-3.4 0h6.8m0 -4.2h-6.8M546.3 576.7v4.2m-3.4 0h6.8m0 -4.2h-6.8M546.8 577.1v4.2m-3.4 0h6.8m0 -4.2h-6.8M547.2 576.5v4.2m-3.4 0h6.8m0 -4.2h-6.8M547.7 576.8v4.2m-3.4 0h6.8m0 -4.2h-6.8M548.2 576.8v4.2m-3.4 0h6.8m0 -4.2h-6.8M548.7 576.9v4.2m-3.4 0h6.8m0 -4.2h-6.8M549.1 576.9v4.2m-3.4 0h6.8m0 -4.2h-6.8M549.6 577.0v4.2m-3.4 0h6.8m0 -4.2h-6.8M550.1 576.9v4.2m-3.4 0h6.8m0 -4.2h-6.8M550.6 576.8v4.2m-3.4 0h6.8m0 -4.2h-6.8M551.0 576.8v4.2m-3.4 0h6.8m0 -4.2h-6.8M551.5 577.0v4.2m-3.4 0h6.8m0 -4.2h-6.8M552.0 576.8v4.2m-3.4 0h6.8m0 -4.2h-6.8M552.5 576.9v4.2m-3.4 0h6.8m0 -4.2h-6.8M552.9 576.7v4.2m-3.4 0h6.8m0 -4.2h-6.8M553.4 576.4v4.2m-3.4 0h6.8m0 -4.2h-6.8M553.9 576.6v4.2m-3.4 0h6.8m0 -4.2h-6.8M554.4 576.7v4.2m-3.4 0h6.8m0 -4.2h-6.8M554.8 577.0v4.2m-3.4 0h6.8m0 -4.2h-6.8M555.3 576.9v4.2m-3.4 0h6.8m0 -4.2h-6.8M555.8 577.0v4.2m-3.4 0h6.8m0 -4.2h-6.8M556.3 576.5v4.2m-3.4 0h6.8m0 -4.2h-6.8M556.7 576.8v4.2m-3.4 0h6.8m0 -4.2h-6.8M557.2 576.6v4.2m-3.4 0h6.8m0 -4.2h-6.8M557.7 576.7v4.2m-3.4 0h6.8m0 -4.2h-6.8M558.2 576.6v4.2m-3.4 0h6.8m0 -4.2h-6.8M558.6 576.3v4.2m-3.4 0h6.8m0 -4.2h-6.8M559.1 576.7v4.2m-3.4 0h6.8m0 -4.2h-6.8M559.6 576.7v4.2m-3.4 0h6.8m0 -4.2h-6.8M560.1 576.8v4.2m-3.4 0h6.8m0 -4.2h-6.8M560.5 576.5v4.2m-3.4 0h6.8m0 -4.2h-6.8M561.0 576.8v4.2m-3.4 0h6.8m0 -4.2h-6.8M561.5 576.8v4.2m-3.4 0h6.8m0 -4.2h-6.8M562.0 576.9v4.2m-3.4 0h6.8m0 -4.2h-6.8M562.4 576.9v4.2m-3.4 0h6.8m0 -4.2h-6.8M562.9 576.5v4.2m-3.4 0h6.8m0 -4.2h-6.8M563.4 576.1v4.2m-3.4 0h6.8m0 -4.2h-6.8M563.9 576.8v4.2m-3.4 0h6.8m0 -4.2h-6.8M564.3 576.4v4.2m-3.4 0h6.8m0 -4.2h-6.8M564.8 576.6v4.2m-3.4 0h6.8m0 -4.2h-6.8M565.3 576.8v4.2m-3.4 0h6.8m0 -4.2h-6.8M565.8 576.7v4.2m-3.4 0h6.8m0 -4.2h-6.8M566.2 576.7v4.2m-3.4 0h6.8m0 -4.2h-6.8M566.7 576.7v4.2m-3.4 0h6.8m0 -4.2h-6.8M567.2 576.3v4.2m-3.4 0h6.8m0 -4.2h-6.8M567.6 577.0v4.2m-3.4 0h6.8m0 -4.2h-6.8M568.1 576.5v4.2m-3.4 0h6.8m0 -4.2h-6.8M568.6 576.6v4.2m-3.4 0h6.8m0 -4.2h-6.8M569.1 576.7v4.2m-3.4 0h6.8m0 -4.2h-6.8M569.5 576.6v4.2m-3.4 0h6.8m0 -4.2h-6.8M570.0 576.5v4.2m-3.4 0h6.8m0 -4.2h-6.8M570.5 576.6v4.2m-3.4 0h6.8m0 -4.2h-6.8M571.0 576.6v4.2m-3.4 0h6.8m0 -4.2h-6.8M571.4 576.5v4.2m-3.4 0h6.8m0 -4.2h-6.8M571.9 577.0v4.2m-3.4 0h6.8m0 -4.2h-6.8M572.4 576.4v4.2m-3.4 0h6.8m0 -4.2h-6.8M572.9 576.2v4.2m-3.4 0h6.8m0 -4.2h-6.8M573.3 576.5v4.2m-3.4 0h6.8m0 -4.2h-6.8M573.8 576.5v4.2m-3.4 0h6.8m0 -4.2h-6.8M574.3 576.9v4.2m-3.4 0h6.8m0 -4.2h-6.8M574.8 576.7v4.2m-3.4 0h6.8m0 -4.2h-6.8M575.2 576.8v4.2m-3.4 0h6.8m0 -4.2h-6.8M575.7 576.8v4.2m-3.4 0h6.8m0 -4.2h-6.8M576.2 576.5v4.2m-3.4 0h6.8m0 -4.2h-6.8M576.7 576.8v4.2m-3.4 0h6.8m0 -4.2h-6.8M577.1 576.7v4.2m-3.4 0h6.8m0 -4.2h-6.8M577.6 577.1v4.2m-3.4 0h6.8m0 -4.2h-6.8M578.1 576.7v4.2m-3.4 0h6.8m0 -4.2h-6.8M578.6 576.7v4.2m-3.4 0h6.8m0 -4.2h-6.8M579.0 576.9v4.2m-3.4 0h6.8m0 -4.2h-6.8M579.5 576.9v4.2m-3.4 0h6.8m0 -4.2h-6.8M580.0 576.4v4.2m-3.4 0h6.8m0 -4.2h-6.8M580.5 576.9v4.2m-3.4 0h6.8m0 -4.2h-6.8M580.9 576.9v4.2m-3.4 0h6.8m0 -4.2h-6.8M581.4 576.9v4.2m-3.4 0h6.8m0 -4.2h-6.8M581.9 576.5v4.2m-3.4 0h6.8m0 -4.2h-6.8M582.4 576.3v4.2m-3.4 0h6.8m0 -4.2h-6.8M582.8 576.6v4.2m-3.4 0h6.8m0 -4.2h-6.8M583.3 576.8v4.2m-3.4 0h6.8m0 -4.2h-6.8M583.8 576.8v4.2m-3.4 0h6.8m0 -4.2h-6.8M584.3 576.5v4.2m-3.4 0h6.8m0 -4.2h-6.8M584.7 576.8v4.2m-3.4 0h6.8m0 -4.2h-6.8M585.2 576.4v4.2m-3.4 0h6.8m0 -4.2h-6.8M585.7 576.4v4.2m-3.4 0h6.8m0 -4.2h-6.8M586.2 576.6v4.2m-3.4 0h6.8m0 -4.2h-6.8M586.6 576.5v4.2m-3.4 0h6.8m0 -4.2h-6.8M587.1 576.5v4.2m-3.4 0h6.8m0 -4.2h-6.8M587.6 576.4v4.2m-3.4 0h6.8m0 -4.2h-6.8M588.1 576.8v4.2m-3.4 0h6.8m0 -4.2h-6.8M588.5 576.4v4.2m-3.4 0h6.8m0 -4.2h-6.8M589.0 576.7v4.2m-3.4 0h6.8m0 -4.2h-6.8M589.5 576.8v4.2m-3.4 0h6.8m0 -4.2h-6.8M589.9 576.6v4.2m-3.4 0h6.8m0 -4.2h-6.8M590.4 576.7v4.2m-3.4 0h6.8m0 -4.2h-6.8M590.9 576.8v4.2m-3.4 0h6.8m0 -4.2h-6.8M591.4 576.9v4.2m-3.4 0h6.8m0 -4.2h-6.8M591.8 576.8v4.2m-3.4 0h6.8m0 -4.2h-6.8M592.3 576.3v4.2m-3.4 0h6.8m0 -4.2h-6.8M592.8 576.2v4.2m-3.4 0h6.8m0 -4.2h-6.8M593.3 576.4v4.2m-3.4 0h6.8m0 -4.2h-6.8M593.7 576.3v4.2m-3.4 0h6.8m0 -4.2h-6.8M594.2 576.6v4.2m-3.4 0h6.8m0 -4.2h-6.8M594.7 576.6v4.2m-3.4 0h6.8m0 -4.2h-6.8M595.2 576.5v4.2m-3.4 0h6.8m0 -4.2h-6.8M595.6 576.7v4.2m-3.4 0h6.8m0 -4.2h-6.8M596.1 576.7v4.2m-3.4 0h6.8m0 -4.2h-6.8M596.6 576.5v4.2m-3.4 0h6.8m0 -4.2h-6.8M597.1 576.6v4.2m-3.4 0h6.8m0 -4.2h-6.8M597.5 576.7v4.2m-3.4 0h6.8m0 -4.2h-6.8M598.0 576.4v4.2m-3.4 0h6.8m0 -4.2h-6.8M598.5 576.5v4.2m-3.4 0h6.8m0 -4.2h-6.8M599.0 576.3v4.2m-3.4 0h6.8m0 -4.2h-6.8M599.4 576.5v4.2m-3.4 0h6.8m0 -4.2h-6.8M599.9 576.5v4.2m-3.4 0h6.8m0 -4.2h-6.8M600.4 576.4v4.2m-3.4 0h6.8m0 -4.2h-6.8M600.9 576.5v4.2m-3.4 0h6.8m0 -4.2h-6.8M601.3 576.6v4.2m-3.4 0h6.8m0 -4.2h-6.8M601.8 576.5v4.2m-3.4 0h6.8m0 -4.2h-6.8M602.3 576.3v4.2m-3.4 0h6.8m0 -4.2h-6.8M602.8 576.3v4.2m-3.4 0h6.8m0 -4.2h-6.8M603.2 576.2v4.2m-3.4 0h6.8m0 -4.2h-6.8M603.7 576.7v4.2m-3.4 0h6.8m0 -4.2h-6.8M604.2 576.5v4.2m-3.4 0h6.8m0 -4.2h-6.8M604.7 576.5v4.2m-3.4 0h6.8m0 -4.2h-6.8M605.1 576.3v4.2m-3.4 0h6.8m0 -4.2h-6.8M605.6 576.4v4.2m-3.4 0h6.8m0 -4.2h-6.8M606.1 576.5v4.2m-3.4 0h6.8m0 -4.2h-6.8M606.6 576.2v4.2m-3.4 0h6.8m0 -4.2h-6.8M607.0 576.3v4.2m-3.4 0h6.8m0 -4.2h-6.8M607.5 576.5v4.2m-3.4 0h6.8m0 -4.2h-6.8M608.0 576.1v4.2m-3.4 0h6.8m0 -4.2h-6.8M608.5 576.1v4.2m-3.4 0h6.8m0 -4.2h-6.8M608.9 576.4v4.2m-3.4 0h6.8m0 -4.2h-6.8M609.4 576.1v4.2m-3.4 0h6.8m0 -4.2h-6.8M609.9 576.4v4.2m-3.4 0h6.8m0 -4.2h-6.8M610.4 576.1v4.2m-3.4 0h6.8m0 -4.2h-6.8M610.8 576.3v4.2m-3.4 0h6.8m0 -4.2h-6.8M611.3 576.4v4.2m-3.4 0h6.8m0 -4.2h-6.8M611.8 576.3v4.2m-3.4 0h6.8m0 -4.2h-6.8M612.3 576.3v4.2m-3.4 0h6.8m0 -4.2h-6.8M612.7 576.1v4.2m-3.4 0h6.8m0 -4.2h-6.8M613.2 576.1v4.2m-3.4 0h6.8m0 -4.2h-6.8M613.7 576.1v4.2m-3.4 0h6.8m0 -4.2h-6.8M614.1 576.2v4.2m-3.4 0h6.8m0 -4.2h-6.8M614.6 576.8v4.2m-3.4 0h6.8m0 -4.2h-6.8M615.1 576.0v4.2m-3.4 0h6.8m0 -4.2h-6.8M615.6 576.4v4.2m-3.4 0h6.8m0 -4.2h-6.8M616.0 576.0v4.2m-3.4 0h6.8m0 -4.2h-6.8M616.5 575.8v4.2m-3.4 0h6.8m0 -4.2h-6.8M617.0 575.9v4.2m-3.4 0h6.8m0 -4.2h-6.8M617.5 576.0v4.2m-3.4 0h6.8m0 -4.2h-6.8M617.9 576.0v4.2m-3.4 0h6.8m0 -4.2h-6.8M618.4 575.9v4.2m-3.4 0h6.8m0 -4.2h-6.8M618.9 576.0v4.2m-3.4 0h6.8m0 -4.2h-6.8M619.4 576.0v4.2m-3.4 0h6.8m0 -4.2h-6.8M619.8 576.0v4.2m-3.4 0h6.8m0 -4.2h-6.8M620.3 575.6v4.2m-3.4 0h6.8m0 -4.2h-6.8M620.8 575.8v4.2m-3.4 0h6.8m0 -4.2h-6.8M621.3 575.6v4.2m-3.4 0h6.8m0 -4.2h-6.8M621.7 575.8v4.2m-3.4 0h6.8m0 -4.2h-6.8M622.2 575.7v4.2m-3.4 0h6.8m0 -4.2h-6.8M622.7 575.8v4.2m-3.4 0h6.8m0 -4.2h-6.8M623.2 575.7v4.2m-3.4 0h6.8m0 -4.2h-6.8M623.6 575.6v4.2m-3.4 0h6.8m0 -4.2h-6.8M624.1 575.7v4.2m-3.4 0h6.8m0 -4.2h-6.8M624.6 575.9v4.2m-3.4 0h6.8m0 -4.2h-6.8M625.1 575.9v4.2m-3.4 0h6.8m0 -4.2h-6.8M625.5 575.4v4.2m-3.4 0h6.8m0 -4.2h-6.8M626.0 575.8v4.2m-3.4 0h6.8m0 -4.2h-6.8M626.5 575.7v4.2m-3.4 0h6.8m0 -4.2h-6.8M627.0 575.4v4.2m-3.4 0h6.8m0 -4.2h-6.8M627.4 575.5v4.2m-3.4 0h6.8m0 -4.2h-6.8M627.9 575.6v4.2m-3.4 0h6.8m0 -4.2h-6.8M628.4 575.7v4.2m-3.4 0h6.8m0 -4.2h-6.8M628.9 575.2v4.2m-3.4 0h6.8m0 -4.2h-6.8M629.3 575.6v4.2m-3.4 0h6.8m0 -4.2h-6.8M629.8 575.5v4.2m-3.4 0h6.8m0 -4.2h-6.8M630.3 575.6v4.2m-3.4 0h6.8m0 -4.2h-6.8M630.8 575.8v4.2m-3.4 0h6.8m0 -4.2h-6.8M631.2 575.7v4.2m-3.4 0h6.8m0 -4.2h-6.8M631.7 575.4v4.2m-3.4 0h6.8m0 -4.2h-6.8M632.2 575.3v4.2m-3.4 0h6.8m0 -4.2h-6.8M632.7 575.4v4.2m-3.4 0h6.8m0 -4.2h-6.8M633.1 575.6v4.2m-3.4 0h6.8m0 -4.2h-6.8M633.6 575.6v4.2m-3.4 0h6.8m0 -4.2h-6.8M634.1 575.3v4.2m-3.4 0h6.8m0 -4.2h-6.8M634.6 575.5v4.2m-3.4 0h6.8m0 -4.2h-6.8M635.0 575.1v4.2m-3.4 0h6.8m0 -4.2h-6.8M635.5 575.0v4.2m-3.4 0h6.8m0 -4.2h-6.8M636.0 574.7v4.2m-3.4 0h6.8m0 -4.2h-6.8M636.5 575.1v4.2m-3.4 0h6.8m0 -4.2h-6.8M636.9 575.3v4.2m-3.4 0h6.8m0 -4.2h-6.8M637.4 575.4v4.2m-3.4 0h6.8m0 -4.2h-6.8M637.9 575.8v4.2m-3.4 0h6.8m0 -4.2h-6.8M638.3 575.3v4.2m-3.4 0h6.8m0 -4.2h-6.8M638.8 575.2v4.2m-3.4 0h6.8m0 -4.2h-6.8M639.3 575.0v4.2m-3.4 0h6.8m0 -4.2h-6.8M639.8 575.0v4.2m-3.4 0h6.8m0 -4.2h-6.8M640.2 575.0v4.2m-3.4 0h6.8m0 -4.2h-6.8M640.7 575.0v4.2m-3.4 0h6.8m0 -4.2h-6.8M641.2 575.0v4.2m-3.4 0h6.8m0 -4.2h-6.8M641.7 574.8v4.2m-3.4 0h6.8m0 -4.2h-6.8M642.1 575.3v4.2m-3.4 0h6.8m0 -4.2h-6.8M642.6 575.1v4.2m-3.4 0h6.8m0 -4.2h-6.8M643.1 575.3v4.2m-3.4 0h6.8m0 -4.2h-6.8M643.6 574.8v4.2m-3.4 0h6.8m0 -4.2h-6.8M644.0 574.8v4.2m-3.4 0h6.8m0 -4.2h-6.8M644.5 574.9v4.2m-3.4 0h6.8m0 -4.2h-6.8M645.0 575.3v4.2m-3.4 0h6.8m0 -4.2h-6.8M645.5 575.1v4.2m-3.4 0h6.8m0 -4.2h-6.8M645.9 575.1v4.2m-3.4 0h6.8m0 -4.2h-6.8M646.4 575.1v4.2m-3.4 0h6.8m0 -4.2h-6.8M646.9 575.1v4.2m-3.4 0h6.8m0 -4.2h-6.8M647.4 575.0v4.2m-3.4 0h6.8m0 -4.2h-6.8M647.8 575.2v4.2m-3.4 0h6.8m0 -4.2h-6.8M648.3 575.0v4.2m-3.4 0h6.8m0 -4.2h-6.8M648.8 575.1v4.2m-3.4 0h6.8m0 -4.2h-6.8M649.3 575.2v4.2m-3.4 0h6.8m0 -4.2h-6.8M649.7 575.2v4.2m-3.4 0h6.8m0 -4.2h-6.8M650.2 575.2v4.2m-3.4 0h6.8m0 -4.2h-6.8M650.7 575.0v4.2m-3.4 0h6.8m0 -4.2h-6.8M651.2 575.2v4.2m-3.4 0h6.8m0 -4.2h-6.8M651.6 575.1v4.2m-3.4 0h6.8m0 -4.2h-6.8M652.1 575.2v4.2m-3.4 0h6.8m0 -4.2h-6.8M652.6 575.4v4.2m-3.4 0h6.8m0 -4.2h-6.8M653.1 575.0v4.2m-3.4 0h6.8m0 -4.2h-6.8M653.5 575.3v4.2m-3.4 0h6.8m0 -4.2h-6.8M654.0 575.0v4.2m-3.4 0h6.8m0 -4.2h-6.8M654.5 575.0v4.2m-3.4 0h6.8m0 -4.2h-6.8M655.0 575.4v4.2m-3.4 0h6.8m0 -4.2h-6.8M655.4 575.2v4.2m-3.4 0h6.8m0 -4.2h-6.8M655.9 575.1v4.2m-3.4 0h6.8m0 -4.2h-6.8M656.4 575.2v4.2m-3.4 0h6.8m0 -4.2h-6.8M656.9 575.2v4.2m-3.4 0h6.8m0 -4.2h-6.8M657.3 574.8v4.2m-3.4 0h6.8m0 -4.2h-6.8M657.8 575.0v4.2m-3.4 0h6.8m0 -4.2h-6.8M658.3 574.9v4.2m-3.4 0h6.8m0 -4.2h-6.8M658.8 575.0v4.2m-3.4 0h6.8m0 -4.2h-6.8M659.2 574.9v4.2m-3.4 0h6.8m0 -4.2h-6.8M659.7 575.0v4.2m-3.4 0h6.8m0 -4.2h-6.8M660.2 574.9v4.2m-3.4 0h6.8m0 -4.2h-6.8M660.7 574.8v4.2m-3.4 0h6.8m0 -4.2h-6.8M661.1 574.8v4.2m-3.4 0h6.8m0 -4.2h-6.8M661.6 574.9v4.2m-3.4 0h6.8m0 -4.2h-6.8M662.1 575.0v4.2m-3.4 0h6.8m0 -4.2h-6.8M662.5 574.8v4.2m-3.4 0h6.8m0 -4.2h-6.8M663.0 574.7v4.2m-3.4 0h6.8m0 -4.2h-6.8M663.5 574.8v4.2m-3.4 0h6.8m0 -4.2h-6.8M664.0 574.9v4.2m-3.4 0h6.8m0 -4.2h-6.8M664.4 574.6v4.2m-3.4 0h6.8m0 -4.2h-6.8M664.9 574.2v4.2m-3.4 0h6.8m0 -4.2h-6.8M665.4 574.7v4.2m-3.4 0h6.8m0 -4.2h-6.8M665.9 574.6v4.2m-3.4 0h6.8m0 -4.2h-6.8M666.3 574.6v4.2m-3.4 0h6.8m0 -4.2h-6.8M666.8 575.1v4.2m-3.4 0h6.8m0 -4.2h-6.8M667.3 574.6v4.2m-3.4 0h6.8m0 -4.2h-6.8M667.8 574.7v4.2m-3.4 0h6.8m0 -4.2h-6.8M668.2 574.3v4.2m-3.4 0h6.8m0 -4.2h-6.8M668.7 574.6v4.2m-3.4 0h6.8m0 -4.2h-6.8M669.2 574.7v4.2m-3.4 0h6.8m0 -4.2h-6.8M669.7 574.6v4.2m-3.4 0h6.8m0 -4.2h-6.8M670.1 574.5v4.2m-3.4 0h6.8m0 -4.2h-6.8M670.6 574.6v4.2m-3.4 0h6.8m0 -4.2h-6.8M671.1 574.5v4.2m-3.4 0h6.8m0 -4.2h-6.8M671.6 574.7v4.2m-3.4 0h6.8m0 -4.2h-6.8M672.0 574.5v4.2m-3.4 0h6.8m0 -4.2h-6.8M672.5 574.3v4.2m-3.4 0h6.8m0 -4.2h-6.8M673.0 574.0v4.2m-3.4 0h6.8m0 -4.2h-6.8M673.5 574.2v4.2m-3.4 0h6.8m0 -4.2h-6.8M673.9 574.3v4.2m-3.4 0h6.8m0 -4.2h-6.8M674.4 574.1v4.2m-3.4 0h6.8m0 -4.2h-6.8M674.9 574.1v4.2m-3.4 0h6.8m0 -4.2h-6.8M675.4 574.0v4.2m-3.4 0h6.8m0 -4.2h-6.8M675.8 574.1v4.2m-3.4 0h6.8m0 -4.2h-6.8M676.3 574.3v4.2m-3.4 0h6.8m0 -4.2h-6.8M676.8 574.2v4.2m-3.4 0h6.8m0 -4.2h-6.8M677.3 574.2v4.2m-3.4 0h6.8m0 -4.2h-6.8M677.7 574.2v4.2m-3.4 0h6.8m0 -4.2h-6.8M678.2 574.2v4.2m-3.4 0h6.8m0 -4.2h-6.8M678.7 574.3v4.2m-3.4 0h6.8m0 -4.2h-6.8M679.2 574.6v4.2m-3.4 0h6.8m0 -4.2h-6.8M679.6 574.3v4.2m-3.4 0h6.8m0 -4.2h-6.8M680.1 574.5v4.2m-3.4 0h6.8m0 -4.2h-6.8M680.6 574.1v4.2m-3.4 0h6.8m0 -4.2h-6.8M681.1 574.1v4.2m-3.4 0h6.8m0 -4.2h-6.8M681.5 574.4v4.2m-3.4 0h6.8m0 -4.2h-6.8M682.0 573.9v4.2m-3.4 0h6.8m0 -4.2h-6.8M682.5 573.9v4.2m-3.4 0h6.8m0 -4.2h-6.8M683.0 574.0v4.2m-3.4 0h6.8m0 -4.2h-6.8M683.4 573.7v4.2m-3.4 0h6.8m0 -4.2h-6.8M683.9 573.6v4.2m-3.4 0h6.8m0 -4.2h-6.8M684.4 574.2v4.2m-3.4 0h6.8m0 -4.2h-6.8M684.8 573.7v4.2m-3.4 0h6.8m0 -4.2h-6.8M685.3 573.8v4.2m-3.4 0h6.8m0 -4.2h-6.8M685.8 573.8v4.2m-3.4 0h6.8m0 -4.2h-6.8M686.3 573.6v4.2m-3.4 0h6.8m0 -4.2h-6.8M686.7 573.9v4.2m-3.4 0h6.8m0 -4.2h-6.8M687.2 573.9v4.2m-3.4 0h6.8m0 -4.2h-6.8M687.7 573.9v4.2m-3.4 0h6.8m0 -4.2h-6.8M688.2 573.8v4.2m-3.4 0h6.8m0 -4.2h-6.8M688.6 573.7v4.2m-3.4 0h6.8m0 -4.2h-6.8M689.1 573.9v4.2m-3.4 0h6.8m0 -4.2h-6.8M689.6 573.8v4.2m-3.4 0h6.8m0 -4.2h-6.8M690.1 573.5v4.2m-3.4 0h6.8m0 -4.2h-6.8M690.5 573.6v4.2m-3.4 0h6.8m0 -4.2h-6.8M691.0 573.4v4.2m-3.4 0h6.8m0 -4.2h-6.8M691.5 573.8v4.2m-3.4 0h6.8m0 -4.2h-6.8M692.0 573.6v4.2m-3.4 0h6.8m0 -4.2h-6.8M692.4 573.5v4.2m-3.4 0h6.8m0 -4.2h-6.8M692.9 573.4v4.2m-3.4 0h6.8m0 -4.2h-6.8M693.4 573.5v4.2m-3.4 0h6.8m0 -4.2h-6.8M693.9 573.2v4.2m-3.4 0h6.8m0 -4.2h-6.8M694.3 573.3v4.2m-3.4 0h6.8m0 -4.2h-6.8M694.8 573.3v4.2m-3.4 0h6.8m0 -4.2h-6.8M695.3 573.2v4.2m-3.4 0h6.8m0 -4.2h-6.8M695.8 573.1v4.2m-3.4 0h6.8m0 -4.2h-6.8M696.2 573.3v4.2m-3.4 0h6.8m0 -4.2h-6.8M696.7 572.9v4.2m-3.4 0h6.8m0 -4.2h-6.8M697.2 573.0v4.2m-3.4 0h6.8m0 -4.2h-6.8M697.7 573.1v4.2m-3.4 0h6.8m0 -4.2h-6.8M698.1 573.1v4.2m-3.4 0h6.8m0 -4.2h-6.8M698.6 572.9v4.2m-3.4 0h6.8m0 -4.2h-6.8M699.1 572.8v4.2m-3.4 0h6.8m0 -4.2h-6.8M699.6 572.8v4.2m-3.4 0h6.8m0 -4.2h-6.8M700.0 572.9v4.2m-3.4 0h6.8m0 -4.2h-6.8M700.5 572.7v4.2m-3.4 0h6.8m0 -4.2h-6.8M701.0 572.9v4.2m-3.4 0h6.8m0 -4.2h-6.8M701.5 572.6v4.2m-3.4 0h6.8m0 -4.2h-6.8M701.9 572.8v4.2m-3.4 0h6.8m0 -4.2h-6.8M702.4 573.2v4.2m-3.4 0h6.8m0 -4.2h-6.8M702.9 572.5v4.2m-3.4 0h6.8m0 -4.2h-6.8M703.4 572.7v4.2m-3.4 0h6.8m0 -4.2h-6.8M703.8 572.9v4.2m-3.4 0h6.8m0 -4.2h-6.8M704.3 572.7v4.2m-3.4 0h6.8m0 -4.2h-6.8M704.8 572.8v4.2m-3.4 0h6.8m0 -4.2h-6.8M705.3 572.2v4.2m-3.4 0h6.8m0 -4.2h-6.8M705.7 572.5v4.2m-3.4 0h6.8m0 -4.2h-6.8M706.2 572.8v4.2m-3.4 0h6.8m0 -4.2h-6.8M706.7 572.4v4.2m-3.4 0h6.8m0 -4.2h-6.8M707.2 572.5v4.2m-3.4 0h6.8m0 -4.2h-6.8M707.6 572.1v4.2m-3.4 0h6.8m0 -4.2h-6.8M708.1 572.6v4.2m-3.4 0h6.8m0 -4.2h-6.8M708.6 572.8v4.2m-3.4 0h6.8m0 -4.2h-6.8M709.0 572.3v4.2m-3.4 0h6.8m0 -4.2h-6.8M709.5 572.4v4.2m-3.4 0h6.8m0 -4.2h-6.8M710.0 572.4v4.2m-3.4 0h6.8m0 -4.2h-6.8M710.5 572.7v4.2m-3.4 0h6.8m0 -4.2h-6.8M710.9 572.1v4.2m-3.4 0h6.8m0 -4.2h-6.8M711.4 571.9v4.2m-3.4 0h6.8m0 -4.2h-6.8M711.9 572.5v4.2m-3.4 0h6.8m0 -4.2h-6.8M712.4 571.9v4.2m-3.4 0h6.8m0 -4.2h-6.8M712.8 572.2v4.2m-3.4 0h6.8m0 -4.2h-6.8M713.3 571.6v4.2m-3.4 0h6.8m0 -4.2h-6.8M713.8 572.0v4.2m-3.4 0h6.8m0 -4.2h-6.8M714.3 572.0v4.2m-3.4 0h6.8m0 -4.2h-6.8M714.7 571.8v4.2m-3.4 0h6.8m0 -4.2h-6.8M715.2 571.9v4.2m-3.4 0h6.8m0 -4.2h-6.8M715.7 572.0v4.2m-3.4 0h6.8m0 -4.2h-6.8M716.2 571.8v4.2m-3.4 0h6.8m0 -4.2h-6.8M716.6 572.0v4.2m-3.4 0h6.8m0 -4.2h-6.8M717.1 572.2v4.2m-3.4 0h6.8m0 -4.2h-6.8M717.6 571.5v4.2m-3.4 0h6.8m0 -4.2h-6.8M718.1 571.9v4.2m-3.4 0h6.8m0 -4.2h-6.8M718.5 571.9v4.2m-3.4 0h6.8m0 -4.2h-6.8M719.0 571.7v4.2m-3.4 0h6.8m0 -4.2h-6.8M719.5 572.1v4.2m-3.4 0h6.8m0 -4.2h-6.8M720.0 572.0v4.2m-3.4 0h6.8m0 -4.2h-6.8M720.4 571.8v4.2m-3.4 0h6.8m0 -4.2h-6.8M720.9 571.8v4.2m-3.4 0h6.8m0 -4.2h-6.8M721.4 571.7v4.2m-3.4 0h6.8m0 -4.2h-6.8M721.9 571.5v4.2m-3.4 0h6.8m0 -4.2h-6.8M722.3 571.7v4.2m-3.4 0h6.8m0 -4.2h-6.8M722.8 571.5v4.2m-3.4 0h6.8m0 -4.2h-6.8M723.3 571.5v4.2m-3.4 0h6.8m0 -4.2h-6.8M723.8 571.8v4.2m-3.4 0h6.8m0 -4.2h-6.8M724.2 571.5v4.2m-3.4 0h6.8m0 -4.2h-6.8M724.7 571.7v4.2m-3.4 0h6.8m0 -4.2h-6.8M725.2 571.3v4.2m-3.4 0h6.8m0 -4.2h-6.8M725.7 571.4v4.2m-3.4 0h6.8m0 -4.2h-6.8M726.1 571.5v4.2m-3.4 0h6.8m0 -4.2h-6.8M726.6 571.7v4.2m-3.4 0h6.8m0 -4.2h-6.8M727.1 571.4v4.2m-3.4 0h6.8m0 -4.2h-6.8M727.6 571.5v4.2m-3.4 0h6.8m0 -4.2h-6.8M728.0 571.2v4.2m-3.4 0h6.8m0 -4.2h-6.8M728.5 571.3v4.2m-3.4 0h6.8m0 -4.2h-6.8M729.0 571.4v4.2m-3.4 0h6.8m0 -4.2h-6.8M729.5 571.1v4.2m-3.4 0h6.8m0 -4.2h-6.8M729.9 571.1v4.2m-3.4 0h6.8m0 -4.2h-6.8M730.4 571.3v4.2m-3.4 0h6.8m0 -4.2h-6.8M730.9 570.9v4.2m-3.4 0h6.8m0 -4.2h-6.8M731.4 571.2v4.2m-3.4 0h6.8m0 -4.2h-6.8M731.8 571.2v4.2m-3.4 0h6.8m0 -4.2h-6.8M732.3 571.1v4.2m-3.4 0h6.8m0 -4.2h-6.8M732.8 571.2v4.2m-3.4 0h6.8m0 -4.2h-6.8M733.2 571.1v4.2m-3.4 0h6.8m0 -4.2h-6.8M733.7 571.0v4.2m-3.4 0h6.8m0 -4.2h-6.8M734.2 570.7v4.2m-3.4 0h6.8m0 -4.2h-6.8M734.7 570.6v4.2m-3.4 0h6.8m0 -4.2h-6.8M735.1 570.9v4.2m-3.4 0h6.8m0 -4.2h-6.8M735.6 570.6v4.2m-3.4 0h6.8m0 -4.2h-6.8M736.1 570.8v4.2m-3.4 0h6.8m0 -4.2h-6.8M736.6 570.7v4.2m-3.4 0h6.8m0 -4.2h-6.8M737.0 570.6v4.2m-3.4 0h6.8m0 -4.2h-6.8M737.5 570.7v4.2m-3.4 0h6.8m0 -4.2h-6.8M738.0 570.3v4.2m-3.4 0h6.8m0 -4.2h-6.8M738.5 570.7v4.2m-3.4 0h6.8m0 -4.2h-6.8M738.9 570.9v4.2m-3.4 0h6.8m0 -4.2h-6.8M739.4 570.4v4.2m-3.4 0h6.8m0 -4.2h-6.8M739.9 570.7v4.2m-3.4 0h6.8m0 -4.2h-6.8M740.4 570.7v4.2m-3.4 0h6.8m0 -4.2h-6.8M740.8 571.1v4.2m-3.4 0h6.8m0 -4.2h-6.8M741.3 570.4v4.2m-3.4 0h6.8m0 -4.2h-6.8M741.8 570.4v4.2m-3.4 0h6.8m0 -4.2h-6.8M742.3 570.3v4.2m-3.4 0h6.8m0 -4.2h-6.8M742.7 570.3v4.2m-3.4 0h6.8m0 -4.2h-6.8M743.2 570.1v4.2m-3.4 0h6.8m0 -4.2h-6.8M743.7 570.4v4.2m-3.4 0h6.8m0 -4.2h-6.8M744.2 570.2v4.2m-3.4 0h6.8m0 -4.2h-6.8M744.6 570.5v4.2m-3.4 0h6.8m0 -4.2h-6.8M745.1 570.4v4.2m-3.4 0h6.8m0 -4.2h-6.8M745.6 570.1v4.2m-3.4 0h6.8m0 -4.2h-6.8M746.1 570.2v4.2m-3.4 0h6.8m0 -4.2h-6.8M746.5 570.5v4.2m-3.4 0h6.8m0 -4.2h-6.8M747.0 570.2v4.2m-3.4 0h6.8m0 -4.2h-6.8M747.5 570.2v4.2m-3.4 0h6.8m0 -4.2h-6.8M748.0 570.3v4.2m-3.4 0h6.8m0 -4.2h-6.8M748.4 570.0v4.2m-3.4 0h6.8m0 -4.2h-6.8M748.9 570.2v4.2m-3.4 0h6.8m0 -4.2h-6.8M749.4 570.3v4.2m-3.4 0h6.8m0 -4.2h-6.8M749.9 570.2v4.2m-3.4 0h6.8m0 -4.2h-6.8M750.3 569.7v4.2m-3.4 0h6.8m0 -4.2h-6.8M750.8 570.2v4.2m-3.4 0h6.8m0 -4.2h-6.8M751.3 569.9v4.2m-3.4 0h6.8m0 -4.2h-6.8M751.8 569.8v4.2m-3.4 0h6.8m0 -4.2h-6.8M752.2 569.7v4.2m-3.4 0h6.8m0 -4.2h-6.8M752.7 570.0v4.2m-3.4 0h6.8m0 -4.2h-6.8M753.2 569.8v4.2m-3.4 0h6.8m0 -4.2h-6.8M753.7 569.7v4.2m-3.4 0h6.8m0 -4.2h-6.8M754.1 569.6v4.2m-3.4 0h6.8m0 -4.2h-6.8M754.6 569.8v4.2m-3.4 0h6.8m0 -4.2h-6.8M755.1 569.9v4.2m-3.4 0h6.8m0 -4.2h-6.8M755.6 569.4v4.2m-3.4 0h6.8m0 -4.2h-6.8M756.0 569.4v4.2m-3.4 0h6.8m0 -4.2h-6.8M756.5 569.5v4.2m-3.4 0h6.8m0 -4.2h-6.8M757.0 569.6v4.2m-3.4 0h6.8m0 -4.2h-6.8M757.4 569.4v4.2m-3.4 0h6.8m0 -4.2h-6.8M757.9 569.4v4.2m-3.4 0h6.8m0 -4.2h-6.8M758.4 569.3v4.2m-3.4 0h6.8m0 -4.2h-6.8M758.9 569.6v4.2m-3.4 0h6.8m0 -4.2h-6.8M759.3 569.4v4.2m-3.4 0h6.8m0 -4.2h-6.8M759.8 569.4v4.2m-3.4 0h6.8m0 -4.2h-6.8M760.3 569.5v4.2m-3.4 0h6.8m0 -4.2h-6.8M760.8 569.3v4.2m-3.4 0h6.8m0 -4.2h-6.8M761.2 569.3v4.2m-3.4 0h6.8m0 -4.2h-6.8M761.7 569.3v4.2m-3.4 0h6.8m0 -4.2h-6.8M762.2 569.2v4.2m-3.4 0h6.8m0 -4.2h-6.8M762.7 569.5v4.2m-3.4 0h6.8m0 -4.2h-6.8M763.1 569.2v4.2m-3.4 0h6.8m0 -4.2h-6.8M763.6 569.1v4.2m-3.4 0h6.8m0 -4.2h-6.8M764.1 569.1v4.2m-3.4 0h6.8m0 -4.2h-6.8M764.6 568.9v4.2m-3.4 0h6.8m0 -4.2h-6.8M765.0 569.3v4.2m-3.4 0h6.8m0 -4.2h-6.8M765.5 569.4v4.2m-3.4 0h6.8m0 -4.2h-6.8M766.0 569.0v4.2m-3.4 0h6.8m0 -4.2h-6.8M766.5 568.9v4.2m-3.4 0h6.8m0 -4.2h-6.8M766.9 568.6v4.2m-3.4 0h6.8m0 -4.2h-6.8M767.4 568.9v4.2m-3.4 0h6.8m0 -4.2h-6.8M767.9 569.1v4.2m-3.4 0h6.8m0 -4.2h-6.8M768.4 568.8v4.2m-3.4 0h6.8m0 -4.2h-6.8M768.8 569.1v4.2m-3.4 0h6.8m0 -4.2h-6.8M769.3 569.2v4.2m-3.4 0h6.8m0 -4.2h-6.8M769.8 568.4v4.2m-3.4 0h6.8m0 -4.2h-6.8M770.3 568.9v4.2m-3.4 0h6.8m0 -4.2h-6.8M770.7 568.8v4.2m-3.4 0h6.8m0 -4.2h-6.8M771.2 568.8v4.2m-3.4 0h6.8m0 -4.2h-6.8M771.7 568.5v4.2m-3.4 0h6.8m0 -4.2h-6.8M772.2 568.8v4.2m-3.4 0h6.8m0 -4.2h-6.8M772.6 568.6v4.2m-3.4 0h6.8m0 -4.2h-6.8M773.1 569.1v4.2m-3.4 0h6.8m0 -4.2h-6.8M773.6 569.1v4.2m-3.4 0h6.8m0 -4.2h-6.8M774.1 568.5v4.2m-3.4 0h6.8m0 -4.2h-6.8M774.5 568.5v4.2m-3.4 0h6.8m0 -4.2h-6.8M775.0 568.6v4.2m-3.4 0h6.8m0 -4.2h-6.8M775.5 568.6v4.2m-3.4 0h6.8m0 -4.2h-6.8M776.0 568.6v4.2m-3.4 0h6.8m0 -4.2h-6.8M776.4 568.7v4.2m-3.4 0h6.8m0 -4.2h-6.8M776.9 568.2v4.2m-3.4 0h6.8m0 -4.2h-6.8M777.4 568.4v4.2m-3.4 0h6.8m0 -4.2h-6.8M777.9 568.4v4.2m-3.4 0h6.8m0 -4.2h-6.8M778.3 568.3v4.2m-3.4 0h6.8m0 -4.2h-6.8M778.8 568.2v4.2m-3.4 0h6.8m0 -4.2h-6.8M779.3 568.2v4.2m-3.4 0h6.8m0 -4.2h-6.8M779.7 568.1v4.2m-3.4 0h6.8m0 -4.2h-6.8M780.2 568.4v4.2m-3.4 0h6.8m0 -4.2h-6.8M780.7 568.0v4.2m-3.4 0h6.8m0 -4.2h-6.8M781.2 567.7v4.2m-3.4 0h6.8m0 -4.2h-6.8M781.6 568.1v4.2m-3.4 0h6.8m0 -4.2h-6.8M782.1 568.0v4.2m-3.4 0h6.8m0 -4.2h-6.8M782.6 567.7v4.2m-3.4 0h6.8m0 -4.2h-6.8M783.1 567.6v4.2m-3.4 0h6.8m0 -4.2h-6.8M783.5 567.6v4.2m-3.4 0h6.8m0 -4.2h-6.8M784.0 568.0v4.2m-3.4 0h6.8m0 -4.2h-6.8M784.5 567.5v4.2m-3.4 0h6.8m0 -4.2h-6.8M785.0 567.8v4.2m-3.4 0h6.8m0 -4.2h-6.8M785.4 567.6v4.2m-3.4 0h6.8m0 -4.2h-6.8M785.9 567.3v4.2m-3.4 0h6.8m0 -4.2h-6.8M786.4 567.4v4.2m-3.4 0h6.8m0 -4.2h-6.8M786.9 567.1v4.2m-3.4 0h6.8m0 -4.2h-6.8M787.3 566.6v4.2m-3.4 0h6.8m0 -4.2h-6.8M787.8 567.0v4.2m-3.4 0h6.8m0 -4.2h-6.8M788.3 567.0v4.2m-3.4 0h6.8m0 -4.2h-6.8M788.8 567.4v4.2m-3.4 0h6.8m0 -4.2h-6.8M789.2 567.4v4.2m-3.4 0h6.8m0 -4.2h-6.8M789.7 567.5v4.2m-3.4 0h6.8m0 -4.2h-6.8M790.2 567.5v4.2m-3.4 0h6.8m0 -4.2h-6.8M790.7 567.6v4.2m-3.4 0h6.8m0 -4.2h-6.8M791.1 567.6v4.2m-3.4 0h6.8m0 -4.2h-6.8M791.6 567.6v4.2m-3.4 0h6.8m0 -4.2h-6.8M792.1 567.8v4.2m-3.4 0h6.8m0 -4.2h-6.8M792.6 567.8v4.2m-3.4 0h6.8m0 -4.2h-6.8M793.0 567.7v4.2m-3.4 0h6.8m0 -4.2h-6.8M793.5 567.3v4.2m-3.4 0h6.8m0 -4.2h-6.8M794.0 567.3v4.2m-3.4 0h6.8m0 -4.2h-6.8M794.5 567.0v4.2m-3.4 0h6.8m0 -4.2h-6.8M794.9 566.9v4.2m-3.4 0h6.8m0 -4.2h-6.8M795.4 567.1v4.2m-3.4 0h6.8m0 -4.2h-6.8M795.9 566.8v4.2m-3.4 0h6.8m0 -4.2h-6.8M796.4 567.1v4.2m-3.4 0h6.8m0 -4.2h-6.8M796.8 566.4v4.2m-3.4 0h6.8m0 -4.2h-6.8" fill="none" stroke="#008000" stroke-width="2.0"/>
<path d="M157.7 567.5h0M158.2 567.7h0M158.6 567.5h0M159.1 567.5h0M159.6 567.1h0M160.1 567.0h0M160.5 566.7h0M161.0 567.3h0M161.5 567.1h0M162.0 566.7h0M162.4 566.9h0M162.9 566.9h0M163.4 566.4h0M163.8 566.8h0M164.3 566.9h0M164.8 566.9h0M165.3 566.5h0M165.7 566.5h0M166.2 566.8h0M166.7 566.7h0M167.2 566.4h0M167.6 566.3h0M168.1 566.4h0M168.6 566.1h0M169.1 566.1h0M169.5 566.4h0M170.0 566.1h0M170.5 565.9h0M171.0 566.0h0M171.4 566.2h0M171.9 565.8h0M172.4 565.6h0M172.9 565.4h0M173.3 566.0h0M173.8 565.1h0M174.3 565.7h0M174.8 565.3h0M175.2 565.2h0M175.7 565.2h0M176.2 565.4h0M176.7 565.6h0M177.1 565.3h0M177.6 565.6h0M178.1 565.9h0M178.6 564.9h0M179.0 565.3h0M179.5 565.1h0M180.0 565.6h0M180.5 565.2h0M180.9 565.2h0M181.4 565.2h0M181.9 565.5h0M182.4 565.7h0M182.8 565.6h0M183.3 565.9h0M183.8 565.9h0M184.3 565.6h0M184.7 565.9h0M185.2 565.8h0M185.7 565.9h0M186.2 565.6h0M186.6 565.7h0M187.1 566.1h0M187.6 565.9h0M188.0 566.3h0M188.5 566.2h0M189.0 565.9h0M189.5 566.3h0M189.9 566.2h0M190.4 566.3h0M190.9 566.1h0M191.4 565.8h0M191.8 566.2h0M192.3 566.1h0M192.8 566.3h0M193.3 566.3h0M193.7 566.3h0M194.2 565.8h0M194.7 565.7h0M195.2 566.1h0M195.6 566.4h0M196.1 566.2h0M196.6 566.4h0M197.1 566.3h0M197.5 566.5h0M198.0 566.6h0M198.5 566.6h0M199.0 566.9h0M199.4 566.9h0M199.9 567.3h0M200.4 567.1h0M200.9 567.3h0M201.3 567.1h0M201.8 567.2h0M202.3 567.1h0M202.8 567.0h0M203.2 567.4h0M203.7 567.3h0M204.2 567.4h0M204.7 567.1h0M205.1 566.9h0M205.6 567.1h0M206.1 567.3h0M206.6 567.0h0M207.0 567.6h0M207.5 567.1h0M208.0 567.5h0M208.5 567.9h0M208.9 566.9h0M209.4 567.1h0M209.9 567.6h0M210.3 567.4h0M210.8 567.5h0M211.3 567.5h0M211.8 567.8h0M212.2 567.7h0M212.7 567.5h0M213.2 567.6h0M213.7 567.5h0M214.1 567.7h0M214.6 567.3h0M215.1 568.0h0M215.6 567.8h0M216.0 568.3h0M216.5 568.2h0M217.0 567.8h0M217.5 568.3h0M217.9 568.1h0M218.4 568.2h0M218.9 568.4h0M219.4 568.3h0M219.8 568.4h0M220.3 568.4h0M220.8 568.2h0M221.3 568.2h0M221.7 568.5h0M222.2 568.6h0M222.7 568.4h0M223.2 568.5h0M223.6 568.3h0M224.1 568.0h0M224.6 568.4h0M225.1 568.6h0M225.5 568.6h0M226.0 568.8h0M226.5 568.8h0M227.0 568.8h0M227.4 568.7h0M227.9 568.8h0M228.4 568.6h0M228.9 568.8h0M229.3 568.8h0M229.8 569.1h0M230.3 568.6h0M230.8 569.0h0M231.2 568.8h0M231.7 569.1h0M232.2 569.1h0M232.7 569.5h0M233.1 569.4h0M233.6 569.1h0M234.1 569.9h0M234.5 569.5h0M235.0 569.4h0M235.5 569.7h0M236.0 569.6h0M236.4 569.6h0M236.9 570.0h0M237.4 569.8h0M237.9 570.1h0M238.3 570.1h0M238.8 570.1h0M239.3 570.0h0M239.8 570.0h0M240.2 570.0h0M240.7 570.4h0M241.2 569.8h0M241.7 570.0h0M242.1 570.1h0M242.6 570.3h0M243.1 570.3h0M243.6 570.2h0M244.0 570.3h0M244.5 570.7h0M245.0 570.2h0M245.5 569.8h0M245.9 570.7h0M246.4 570.1h0M246.9 570.2h0M247.4 570.3h0M247.8 570.0h0M248.3 570.4h0M248.8 570.2h0M249.3 569.9h0M249.7 570.3h0M250.2 570.5h0M250.7 570.5h0M251.2 570.7h0M251.6 570.4h0M252.1 571.0h0M252.6 570.8h0M253.1 571.3h0M253.5 571.1h0M254.0 571.3h0M254.5 571.9h0M255.0 571.4h0M255.4 571.6h0M255.9 571.5h0M256.4 571.2h0M256.9 571.7h0M257.3 571.7h0M257.8 571.3h0M258.3 571.6h0M258.7 571.3h0M259.2 571.6h0M259.7 571.8h0M260.2 571.7h0M260.6 571.5h0M261.1 571.5h0M261.6 571.7h0M262.1 571.7h0M262.5 571.8h0M263.0 571.9h0M263.5 571.4h0M264.0 571.8h0M264.4 572.1h0M264.9 572.0h0M265.4 571.8h0M265.9 571.8h0M266.3 572.0h0M266.8 572.1h0M267.3 572.0h0M267.8 572.3h0M268.2 572.3h0M268.7 571.9h0M269.2 572.2h0M269.7 572.0h0M270.1 571.9h0M270.6 572.0h0M271.1 572.2h0M271.6 571.8h0M272.0 572.1h0M272.5 572.3h0M273.0 572.1h0M273.5 572.2h0M273.9 572.5h0M274.4 572.4h0M274.9 572.4h0M275.4 572.8h0M275.8 572.5h0M276.3 572.5h0M276.8 572.6h0M277.3 572.9h0M277.7 572.7h0M278.2 572.6h0M278.7 572.6h0M279.2 572.9h0M279.6 572.6h0M280.1 573.0h0M280.6 572.8h0M281.1 572.6h0M281.5 573.0h0M282.0 573.0h0M282.5 572.7h0M282.9 573.0h0M283.4 573.0h0M283.9 573.0h0M284.4 572.8h0M284.8 573.5h0M285.3 573.3h0M285.8 573.3h0M286.3 573.4h0M286.7 573.3h0M287.2 573.4h0M287.7 573.2h0M288.2 573.4h0M288.6 573.3h0M289.1 573.3h0M289.6 573.5h0M290.1 573.4h0M290.5 573.1h0M291.0 573.4h0M291.5 573.6h0M292.0 573.5h0M292.4 573.7h0M292.9 573.5h0M293.4 573.4h0M293.9 573.7h0M294.3 573.6h0M294.8 573.4h0M295.3 573.7h0M295.8 573.6h0M296.2 573.9h0M296.7 573.9h0M297.2 573.8h0M297.7 573.3h0M298.1 573.8h0M298.6 573.9h0M299.1 573.9h0M299.6 573.8h0M300.0 573.7h0M300.5 573.8h0M301.0 573.5h0M301.5 573.8h0M301.9 573.6h0M302.4 573.9h0M302.9 573.8h0M303.4 574.2h0M303.8 574.0h0M304.3 574.0h0M304.8 574.1h0M305.2 574.4h0M305.7 573.9h0M306.2 574.1h0M306.7 574.2h0M307.1 574.2h0M307.6 574.2h0M308.1 574.1h0M308.6 574.4h0M309.0 574.3h0M309.5 574.1h0M310.0 574.2h0M310.5 574.3h0M310.9 574.3h0M311.4 574.4h0M311.9 574.3h0M312.4 574.1h0M312.8 574.5h0M313.3 574.0h0M313.8 574.1h0M314.3 574.3h0M314.7 574.1h0M315.2 574.5h0M315.7 574.5h0M316.2 574.5h0M316.6 574.3h0M317.1 574.3h0M317.6 574.3h0M318.1 574.1h0M318.5 574.6h0M319.0 574.0h0M319.5 574.4h0M320.0 574.2h0M320.4 574.2h0M320.9 574.3h0M321.4 574.4h0M321.9 574.3h0M322.3 574.1h0M322.8 574.0h0M323.3 574.1h0M323.8 574.4h0M324.2 574.4h0M324.7 574.4h0M325.2 574.2h0M325.7 574.7h0M326.1 574.1h0M326.6 574.4h0M327.1 574.5h0M327.6 574.3h0M328.0 574.2h0M328.5 574.4h0M329.0 574.3h0M329.4 574.4h0M329.9 574.3h0M330.4 574.3h0M330.9 574.6h0M331.3 574.3h0M331.8 574.6h0M332.3 574.6h0M332.8 574.8h0M333.2 574.7h0M333.7 574.6h0M334.2 575.0h0M334.7 574.7h0M335.1 574.8h0M335.6 574.9h0M336.1 575.5h0M336.6 575.1h0M337.0 575.1h0M337.5 575.4h0M338.0 575.3h0M338.5 575.8h0M338.9 575.3h0M339.4 575.6h0M339.9 575.4h0M340.4 576.0h0M340.8 575.5h0M341.3 575.7h0M341.8 575.5h0M342.3 575.9h0M342.7 575.8h0M343.2 575.3h0M343.7 575.9h0M344.2 575.9h0M344.6 575.8h0M345.1 576.0h0M345.6 575.6h0M346.1 575.5h0M346.5 576.0h0M347.0 576.2h0M347.5 575.7h0M348.0 575.7h0M348.4 575.8h0M348.9 575.7h0M349.4 576.1h0M349.9 576.0h0M350.3 576.3h0M350.8 576.3h0M351.3 575.8h0M351.8 576.2h0M352.2 575.6h0M352.7 576.0h0M353.2 576.2h0M353.6 575.9h0M354.1 575.7h0M354.6 576.0h0M355.1 576.3h0M355.5 576.0h0M356.0 575.8h0M356.5 576.2h0M357.0 576.3h0M357.4 575.9h0M357.9 576.1h0M358.4 576.3h0M358.9 576.2h0M359.3 576.3h0M359.8 576.1h0M360.3 576.1h0M360.8 575.9h0M361.2 576.0h0M361.7 576.5h0M362.2 576.1h0M362.7 576.0h0M363.1 576.1h0M363.6 576.0h0M364.1 576.3h0M364.6 576.4h0M365.0 576.1h0M365.5 576.4h0M366.0 576.7h0M366.5 576.1h0M366.9 576.4h0M367.4 576.3h0M367.9 576.6h0M368.4 576.6h0M368.8 576.5h0M369.3 576.4h0M369.8 576.3h0M370.3 576.8h0M370.7 576.2h0M371.2 576.6h0M371.7 576.6h0M372.2 576.3h0M372.6 576.4h0M373.1 576.7h0M373.6 576.1h0M374.1 576.6h0M374.5 576.4h0M375.0 576.4h0M375.5 576.2h0M376.0 576.6h0M376.4 576.3h0M376.9 576.6h0M377.4 576.3h0M377.8 576.7h0M378.3 576.6h0M378.8 576.2h0M379.3 576.5h0M379.7 576.6h0M380.2 576.2h0M380.7 576.5h0M381.2 576.8h0M381.6 576.5h0M382.1 576.9h0M382.6 576.4h0M383.1 576.4h0M383.5 576.8h0M384.0 576.8h0M384.5 576.6h0M385.0 576.6h0M385.4 576.7h0M385.9 576.4h0M386.4 576.9h0M386.9 576.5h0M387.3 576.5h0M387.8 576.4h0M388.3 576.3h0M388.8 576.5h0M389.2 576.1h0M389.7 576.2h0M390.2 576.3h0M390.7 576.5h0M391.1 576.5h0M391.6 576.2h0M392.1 576.5h0M392.6 576.3h0M393.0 576.2h0M393.5 576.2h0M394.0 576.2h0M394.5 576.5h0M394.9 576.7h0M395.4 576.4h0M395.9 576.5h0M396.4 576.4h0M396.8 576.7h0M397.3 576.5h0M397.8 576.7h0M398.3 576.8h0M398.7 576.9h0M399.2 577.0h0M399.7 577.1h0M400.1 577.1h0M400.6 577.1h0M401.1 577.4h0M401.6 577.0h0M402.0 577.5h0M402.5 577.3h0M403.0 577.5h0M403.5 577.6h0M403.9 577.2h0M404.4 577.6h0M404.9 577.8h0M405.4 577.8h0M405.8 577.7h0M406.3 577.2h0M406.8 577.6h0M407.3 577.5h0M407.7 577.9h0M408.2 577.7h0M408.7 577.6h0M409.2 577.4h0M409.6 577.9h0M410.1 577.7h0M410.6 577.7h0M411.1 578.0h0M411.5 577.8h0M412.0 577.9h0M412.5 578.3h0M413.0 577.8h0M413.4 577.8h0M413.9 578.0h0M414.4 578.2h0M414.9 577.7h0M415.3 577.9h0M415.8 577.8h0M416.3 577.7h0M416.8 578.1h0M417.2 577.9h0M417.7 578.1h0M418.2 578.1h0M418.7 578.1h0M419.1 578.1h0M419.6 578.0h0M420.1 578.2h0M420.6 578.3h0M421.0 578.3h0M421.5 578.3h0M422.0 578.5h0M422.5 578.5h0M422.9 578.4h0M423.4 578.6h0M423.9 578.5h0M424.3 578.6h0M424.8 578.2h0M425.3 578.3h0M425.8 578.5h0M426.2 578.7h0M426.7 578.3h0M427.2 578.7h0M427.7 578.8h0M428.1 578.7h0M428.6 578.7h0M429.1 578.5h0M429.6 578.8h0M430.0 578.4h0M430.5 578.9h0M431.0 578.6h0M431.5 579.0h0M431.9 578.4h0M432.4 578.9h0M432.9 578.8h0M433.4 578.6h0M433.8 578.6h0M434.3 579.0h0M434.8 578.9h0M435.3 579.1h0M435.7 578.8h0M436.2 578.9h0M436.7 578.9h0M437.2 579.0h0M437.6 578.9h0M438.1 579.0h0M438.6 578.8h0M439.1 578.6h0M439.5 579.3h0M440.0 579.0h0M440.5 579.1h0M441.0 578.9h0M441.4 579.2h0M441.9 579.1h0M442.4 579.3h0M442.9 579.0h0M443.3 579.1h0M443.8 579.2h0M444.3 579.1h0M444.8 579.2h0M445.2 579.5h0M445.7 579.1h0M446.2 579.2h0M446.7 579.3h0M447.1 579.1h0M447.6 579.1h0M448.1 579.6h0M448.5 579.5h0M449.0 579.1h0M449.5 579.1h0M450.0 579.5h0M450.4 579.6h0M450.9 579.5h0M451.4 579.5h0M451.9 579.7h0M452.3 579.4h0M452.8 579.7h0M453.3 579.7h0M453.8 579.3h0M454.2 579.6h0M454.7 579.4h0M455.2 579.3h0M455.7 579.3h0M456.1 579.5h0M456.6 579.4h0M457.1 579.6h0M457.6 579.1h0M458.0 579.3h0M458.5 579.7h0M459.0 579.5h0M459.5 579.3h0M459.9 579.4h0M460.4 579.1h0M460.9 579.2h0M461.4 579.6h0M461.8 579.5h0M462.3 579.7h0M462.8 579.4h0M463.3 579.4h0M463.7 579.0h0M464.2 579.4h0M464.7 579.8h0M465.2 579.6h0M465.6 579.4h0M466.1 579.7h0M466.6 579.6h0M467.1 579.5h0M467.5 579.4h0M468.0 579.5h0M468.5 579.6h0M469.0 579.3h0M469.4 579.5h0M469.9 579.5h0M470.4 579.7h0M470.9 579.6h0M471.3 579.3h0M471.8 579.7h0M472.3 579.4h0M472.7 579.3h0M473.2 579.5h0M473.7 579.4h0M474.2 579.6h0M474.6 579.1h0M475.1 579.2h0M475.6 579.3h0M476.1 579.7h0M476.5 579.6h0M477.0 579.2h0M477.5 579.0h0M478.0 579.3h0M478.4 579.1h0M478.9 579.5h0M479.4 579.4h0M479.9 579.3h0M480.3 579.2h0M480.8 579.6h0M481.3 579.1h0M481.8 579.1h0M482.2 579.5h0M482.7 579.6h0M483.2 579.2h0M483.7 579.4h0M484.1 579.7h0M484.6 579.1h0M485.1 579.2h0M485.6 579.4h0M486.0 578.9h0M486.5 579.3h0M487.0 579.5h0M487.5 579.4h0M487.9 579.7h0M488.4 579.6h0M488.9 579.5h0M489.4 579.7h0M489.8 579.7h0M490.3 579.3h0M490.8 579.5h0M491.3 579.6h0M491.7 579.7h0M492.2 579.7h0M492.7 579.6h0M493.2 579.9h0M493.6 579.6h0M494.1 580.1h0M494.6 580.0h0M495.0 580.3h0M495.5 580.1h0M496.0 580.0h0M496.5 579.8h0M496.9 580.1h0M497.4 580.0h0M497.9 580.0h0M498.4 580.0h0M498.8 580.1h0M499.3 579.8h0M499.8 580.1h0M500.3 579.7h0M500.7 579.7h0M501.2 579.8h0M501.7 579.8h0M502.2 579.8h0M502.6 579.2h0M503.1 579.7h0M503.6 579.2h0M504.1 579.3h0M504.5 579.4h0M505.0 579.5h0M505.5 579.1h0M506.0 578.9h0M506.4 579.4h0M506.9 579.3h0M507.4 579.0h0M507.9 579.1h0M508.3 578.8h0M508.8 579.3h0M509.3 579.0h0M509.8 579.4h0M510.2 578.7h0M510.7 579.2h0M511.2 579.5h0M511.7 579.1h0M512.1 579.1h0M512.6 578.7h0M513.1 579.1h0M513.6 579.0h0M514.0 578.9h0M514.5 578.7h0M515.0 579.0h0M515.5 578.8h0M515.9 578.9h0M516.4 579.0h0M516.9 578.9h0M517.4 579.0h0M517.8 579.1h0M518.3 578.7h0M518.8 579.2h0M519.2 578.7h0M519.7 578.8h0M520.2 579.0h0M520.7 579.1h0M521.1 579.0h0M521.6 578.8h0M522.1 578.8h0M522.6 578.9h0M523.0 578.7h0M523.5 579.0h0M524.0 578.9h0M524.5 579.2h0M524.9 578.8h0M525.4 578.9h0M525.9 579.0h0M526.4 578.7h0M526.8 578.8h0M527.3 579.5h0M527.8 578.9h0M528.3 579.2h0M528.7 578.7h0M529.2 578.5h0M529.7 579.0h0M530.2 578.9h0M530.6 579.0h0M531.1 578.9h0M531.6 578.8h0M532.1 578.7h0M532.5 579.1h0M533.0 578.6h0M533.5 579.1h0M534.0 578.9h0M534.4 578.7h0M534.9 578.8h0M535.4 579.1h0M535.9 579.1h0M536.3 579.0h0M536.8 579.0h0M537.3 578.7h0M537.8 579.2h0M538.2 578.9h0M538.7 578.8h0M539.2 578.8h0M539.7 578.9h0M540.1 578.7h0M540.6 578.9h0M541.1 578.8h0M541.6 578.8h0M542.0 578.6h0M542.5 579.3h0M543.0 578.7h0M543.4 579.0h0M543.9 579.0h0M544.4 579.1h0M544.9 579.3h0M545.3 579.0h0M545.8 579.1h0M546.3 578.8h0M546.8 579.2h0M547.2 578.7h0M547.7 578.9h0M548.2 579.0h0M548.7 579.0h0M549.1 579.0h0M549.6 579.1h0M550.1 579.0h0M550.6 578.9h0M551.0 578.9h0M551.5 579.1h0M552.0 578.9h0M552.5 579.0h0M552.9 578.8h0M553.4 578.5h0M553.9 578.7h0M554.4 578.9h0M554.8 579.1h0M555.3 579.1h0M555.8 579.1h0M556.3 578.6h0M556.7 578.9h0M557.2 578.7h0M557.7 578.9h0M558.2 578.7h0M558.6 578.5h0M559.1 578.9h0M559.6 578.8h0M560.1 578.9h0M560.5 578.6h0M561.0 578.9h0M561.5 578.9h0M562.0 579.0h0M562.4 579.0h0M562.9 578.6h0M563.4 578.3h0M563.9 578.9h0M564.3 578.6h0M564.8 578.7h0M565.3 578.9h0M565.8 578.8h0M566.2 578.8h0M566.7 578.9h0M567.2 578.4h0M567.6 579.1h0M568.1 578.7h0M568.6 578.7h0M569.1 578.8h0M569.5 578.7h0M570.0 578.6h0M570.5 578.7h0M571.0 578.7h0M571.4 578.6h0M571.9 579.1h0M572.4 578.5h0M572.9 578.3h0M573.3 578.6h0M573.8 578.6h0M574.3 579.1h0M574.8 578.8h0M575.2 579.0h0M575.7 578.9h0M576.2 578.6h0M576.7 579.0h0M577.1 578.8h0M577.6 579.2h0M578.1 578.9h0M578.6 578.8h0M579.0 579.0h0M579.5 579.0h0M580.0 578.5h0M580.5 579.1h0M580.9 579.0h0M581.4 579.0h0M581.9 578.6h0M582.4 578.4h0M582.8 578.7h0M583.3 578.9h0M583.8 578.9h0M584.3 578.6h0M584.7 579.0h0M585.2 578.5h0M585.7 578.5h0M586.2 578.8h0M586.6 578.6h0M587.1 578.6h0M587.6 578.5h0M588.1 579.0h0M588.5 578.5h0M589.0 578.8h0M589.5 578.9h0M589.9 578.7h0M590.4 578.8h0M590.9 578.9h0M591.4 579.0h0M591.8 578.9h0M592.3 578.4h0M592.8 578.3h0M593.3 578.6h0M593.7 578.5h0M594.2 578.8h0M594.7 578.7h0M595.2 578.6h0M595.6 578.8h0M596.1 578.8h0M596.6 578.6h0M597.1 578.7h0M597.5 578.8h0M598.0 578.5h0M598.5 578.6h0M599.0 578.4h0M599.4 578.6h0M599.9 578.6h0M600.4 578.5h0M600.9 578.6h0M601.3 578.7h0M601.8 578.6h0M602.3 578.4h0M602.8 578.4h0M603.2 578.3h0M603.7 578.8h0M604.2 578.6h0M604.7 578.6h0M605.1 578.5h0M605.6 578.6h0M606.1 578.6h0M606.6 578.3h0M607.0 578.4h0M607.5 578.7h0M608.0 578.2h0M608.5 578.2h0M608.9 578.5h0M609.4 578.3h0M609.9 578.5h0M610.4 578.2h0M610.8 578.4h0M611.3 578.5h0M611.8 578.4h0M612.3 578.5h0M612.7 578.3h0M613.2 578.2h0M613.7 578.2h0M614.1 578.3h0M614.6 578.9h0M615.1 578.2h0M615.6 578.5h0M616.0 578.1h0M616.5 577.9h0M617.0 578.0h0M617.5 578.1h0M617.9 578.1h0M618.4 578.0h0M618.9 578.1h0M619.4 578.1h0M619.8 578.1h0M620.3 577.7h0M620.8 577.9h0M621.3 577.7h0M621.7 577.9h0M622.2 577.9h0M622.7 577.9h0M623.2 577.8h0M623.6 577.7h0M624.1 577.8h0M624.6 578.0h0M625.1 578.0h0M625.5 577.5h0M626.0 577.9h0M626.5 577.9h0M627.0 577.5h0M627.4 577.6h0M627.9 577.7h0M628.4 577.9h0M628.9 577.3h0M629.3 577.7h0M629.8 577.6h0M630.3 577.7h0M630.8 577.9h0M631.2 577.9h0M631.7 577.5h0M632.2 577.5h0M632.7 577.5h0M633.1 577.7h0M633.6 577.7h0M634.1 577.5h0M634.6 577.7h0M635.0 577.2h0M635.5 577.1h0M636.0 576.8h0M636.5 577.2h0M636.9 577.4h0M637.4 577.5h0M637.9 577.9h0M638.3 577.4h0M638.8 577.3h0M639.3 577.1h0M639.8 577.1h0M640.2 577.1h0M640.7 577.2h0M641.2 577.1h0M641.7 576.9h0M642.1 577.4h0M642.6 577.3h0M643.1 577.4h0M643.6 576.9h0M644.0 576.9h0M644.5 577.1h0M645.0 577.4h0M645.5 577.2h0M645.9 577.3h0M646.4 577.2h0M646.9 577.3h0M647.4 577.1h0M647.8 577.3h0M648.3 577.1h0M648.8 577.2h0M649.3 577.3h0M649.7 577.3h0M650.2 577.3h0M650.7 577.1h0M651.2 577.3h0M651.6 577.2h0M652.1 577.4h0M652.6 577.6h0M653.1 577.1h0M653.5 577.4h0M654.0 577.1h0M654.5 577.1h0M655.0 577.5h0M655.4 577.4h0M655.9 577.3h0M656.4 577.3h0M656.9 577.3h0M657.3 577.0h0M657.8 577.1h0M658.3 577.0h0M658.8 577.1h0M659.2 577.0h0M659.7 577.2h0M660.2 577.0h0M660.7 576.9h0M661.1 577.0h0M661.6 577.0h0M662.1 577.1h0M662.5 576.9h0M663.0 576.8h0M663.5 576.9h0M664.0 577.0h0M664.4 576.7h0M664.9 576.4h0M665.4 576.9h0M665.9 576.7h0M666.3 576.7h0M666.8 577.2h0M667.3 576.7h0M667.8 576.8h0M668.2 576.4h0M668.7 576.7h0M669.2 576.8h0M669.7 576.7h0M670.1 576.6h0M670.6 576.7h0M671.1 576.6h0M671.6 576.8h0M672.0 576.6h0M672.5 576.4h0M673.0 576.1h0M673.5 576.4h0M673.9 576.4h0M674.4 576.2h0M674.9 576.2h0M675.4 576.1h0M675.8 576.2h0M676.3 576.4h0M676.8 576.3h0M677.3 576.3h0M677.7 576.3h0M678.2 576.3h0M678.7 576.4h0M679.2 576.7h0M679.6 576.4h0M680.1 576.6h0M680.6 576.2h0M681.1 576.2h0M681.5 576.5h0M682.0 576.0h0M682.5 576.0h0M683.0 576.1h0M683.4 575.8h0M683.9 575.7h0M684.4 576.3h0M684.8 575.8h0M685.3 575.9h0M685.8 575.9h0M686.3 575.8h0M686.7 576.0h0M687.2 576.0h0M687.7 576.0h0M688.2 576.0h0M688.6 575.8h0M689.1 576.0h0M689.6 575.9h0M690.1 575.6h0M690.5 575.7h0M691.0 575.6h0M691.5 576.0h0M692.0 575.7h0M692.4 575.6h0M692.9 575.5h0M693.4 575.6h0M693.9 575.3h0M694.3 575.4h0M694.8 575.4h0M695.3 575.4h0M695.8 575.2h0M696.2 575.4h0M696.7 575.1h0M697.2 575.2h0M697.7 575.2h0M698.1 575.2h0M698.6 575.0h0M699.1 574.9h0M699.6 574.9h0M700.0 575.0h0M700.5 574.9h0M701.0 575.0h0M701.5 574.7h0M701.9 574.9h0M702.4 575.3h0M702.9 574.6h0M703.4 574.8h0M703.8 575.0h0M704.3 574.8h0M704.8 574.9h0M705.3 574.3h0M705.7 574.6h0M706.2 574.9h0M706.7 574.5h0M707.2 574.7h0M707.6 574.2h0M708.1 574.7h0M708.6 574.9h0M709.0 574.5h0M709.5 574.5h0M710.0 574.5h0M710.5 574.8h0M710.9 574.3h0M711.4 574.0h0M711.9 574.6h0M712.4 574.0h0M712.8 574.3h0M713.3 573.7h0M713.8 574.1h0M714.3 574.2h0M714.7 573.9h0M715.2 574.0h0M715.7 574.2h0M716.2 573.9h0M716.6 574.1h0M717.1 574.3h0M717.6 573.6h0M718.1 574.0h0M718.5 574.0h0M719.0 573.8h0M719.5 574.2h0M720.0 574.1h0M720.4 573.9h0M720.9 573.9h0M721.4 573.8h0M721.9 573.6h0M722.3 573.9h0M722.8 573.7h0M723.3 573.6h0M723.8 573.9h0M724.2 573.6h0M724.7 573.8h0M725.2 573.4h0M725.7 573.5h0M726.1 573.6h0M726.6 573.8h0M727.1 573.5h0M727.6 573.6h0M728.0 573.3h0M728.5 573.5h0M729.0 573.6h0M729.5 573.2h0M729.9 573.2h0M730.4 573.4h0M730.9 573.1h0M731.4 573.3h0M731.8 573.3h0M732.3 573.2h0M732.8 573.3h0M733.2 573.2h0M733.7 573.1h0M734.2 572.8h0M734.7 572.8h0M735.1 573.1h0M735.6 572.7h0M736.1 573.0h0M736.6 572.8h0M737.0 572.7h0M737.5 572.8h0M738.0 572.4h0M738.5 572.8h0M738.9 573.0h0M739.4 572.5h0M739.9 572.8h0M740.4 572.8h0M740.8 573.3h0M741.3 572.5h0M741.8 572.5h0M742.3 572.5h0M742.7 572.4h0M743.2 572.2h0M743.7 572.5h0M744.2 572.3h0M744.6 572.6h0M745.1 572.5h0M745.6 572.2h0M746.1 572.3h0M746.5 572.6h0M747.0 572.3h0M747.5 572.3h0M748.0 572.4h0M748.4 572.2h0M748.9 572.3h0M749.4 572.5h0M749.9 572.3h0M750.3 571.8h0M750.8 572.4h0M751.3 572.0h0M751.8 571.9h0M752.2 571.8h0M752.7 572.2h0M753.2 572.0h0M753.7 571.8h0M754.1 571.7h0M754.6 571.9h0M755.1 572.0h0M755.6 571.5h0M756.0 571.5h0M756.5 571.6h0M757.0 571.7h0M757.4 571.5h0M757.9 571.6h0M758.4 571.4h0M758.9 571.8h0M759.3 571.5h0M759.8 571.5h0M760.3 571.7h0M760.8 571.4h0M761.2 571.4h0M761.7 571.5h0M762.2 571.3h0M762.7 571.6h0M763.1 571.3h0M763.6 571.2h0M764.1 571.2h0M764.6 571.0h0M765.0 571.4h0M765.5 571.5h0M766.0 571.1h0M766.5 571.1h0M766.9 570.7h0M767.4 571.0h0M767.9 571.2h0M768.4 570.9h0M768.8 571.2h0M769.3 571.3h0M769.8 570.6h0M770.3 571.0h0M770.7 570.9h0M771.2 570.9h0M771.7 570.7h0M772.2 570.9h0M772.6 570.8h0M773.1 571.2h0M773.6 571.2h0M774.1 570.6h0M774.5 570.6h0M775.0 570.7h0M775.5 570.7h0M776.0 570.7h0M776.4 570.8h0M776.9 570.4h0M777.4 570.5h0M777.9 570.5h0M778.3 570.4h0M778.8 570.3h0M779.3 570.3h0M779.7 570.2h0M780.2 570.5h0M780.7 570.2h0M781.2 569.8h0M781.6 570.2h0M782.1 570.1h0M782.6 569.8h0M783.1 569.8h0M783.5 569.8h0M784.0 570.1h0M784.5 569.6h0M785.0 569.9h0M785.4 569.8h0M785.9 569.4h0M786.4 569.5h0M786.9 569.3h0M787.3 568.8h0M787.8 569.1h0M788.3 569.1h0M788.8 569.5h0M789.2 569.5h0M789.7 569.6h0M790.2 569.6h0M790.7 569.7h0M791.1 569.7h0M791.6 569.7h0M792.1 569.9h0M792.6 569.9h0M793.0 569.8h0M793.5 569.4h0M794.0 569.4h0M794.5 569.1h0M794.9 569.0h0M795.4 569.2h0M795.9 568.9h0M796.4 569.2h0M796.8 568.5h0" stroke="#008000" stroke-width="6.2" stroke-linecap="round" fill="none"/>
<path d="M157.7 567.3h0M167.2 566.2h0M176.7 565.8h0M186.1 565.8h0M195.6 566.4h0M205.1 566.9h0M214.6 567.3h0M224.1 567.6h0M233.6 567.8h0M243.1 568.3h0M252.6 568.8h0M262.1 569.1h0M271.6 569.4h0M281.1 569.7h0M290.5 570.2h0M300.0 570.7h0M309.5 571.1h0M319.0 571.5h0M328.5 571.8h0M338.0 572.3h0M347.5 572.8h0M357.0 573.2h0M366.5 573.5h0M376.0 573.7h0M385.4 574.1h0M394.9 574.5h0M404.4 574.9h0M413.9 575.1h0M423.4 575.4h0M432.9 575.6h0M442.4 575.8h0M451.9 576.1h0M461.4 576.3h0M470.9 576.5h0M480.3 576.7h0M489.8 576.8h0M499.3 576.9h0M508.8 577.0h0M518.3 577.1h0M527.8 577.3h0M537.3 577.5h0M546.8 577.8h0M556.3 578.1h0M565.8 578.3h0M575.2 578.5h0M584.7 578.7h0M594.2 578.9h0M603.7 579.1h0M613.2 579.2h0M622.7 579.3h0M632.2 579.5h0M641.7 579.6h0M651.2 579.7h0M660.7 579.8h0M670.1 579.9h0M679.6 580.0h0M689.1 580.0h0M698.6 580.1h0M708.1 580.2h0M717.6 580.2h0M727.1 580.3h0M736.6 580.3h0M746.1 580.4h0M755.6 580.5h0M765.0 580.6h0M774.5 580.7h0M784.0 580.8h0M793.5 580.9h0M803.0 581.0h0" stroke="#ffa500" stroke-width="6.8" stroke-linecap="round" fill="none"/>
<path d="M157.7 113.8 L159.8 128.4 L162.0 142.4 L164.2 155.9 L166.3 168.9 L168.5 181.3 L170.6 193.3 L172.8 204.8 L174.9 215.9 L177.1 226.5 L179.3 236.8 L181.4 246.7 L183.6 256.3 L185.7 265.5 L187.9 274.3 L190.1 282.9 L192.2 291.1 L194.4 299.1 L196.5 306.8 L198.7 314.2 L200.8 321.4 L203.0 328.3 L205.2 335.0 L207.3 341.4 L209.5 347.7 L211.6 353.7 L213.8 359.6 L216.0 365.2 L218.1 370.7 L220.3 376.0 L222.4 381.1 L224.6 386.1 L226.7 390.9 L228.9 395.6 L231.1 400.1 L233.2 404.5 L235.4 408.7 L237.5 412.8 L239.7 416.8 L241.9 420.7 L244.0 424.4 L246.2 428.1 L248.3 431.6 L250.5 435.1 L252.6 438.4 L254.8 441.6 L257.0 444.8 L259.1 447.8 L261.3 450.8 L263.4 453.7 L265.6 456.5 L267.8 459.2 L269.9 461.9 L272.1 464.5 L274.2 467.0 L276.4 469.4 L278.5 471.8 L280.7 474.1 L282.9 476.4 L285.0 478.6 L287.2 480.7 L289.3 482.8 L291.5 484.8 L293.7 486.8 L295.8 488.7 L298.0 490.5 L300.1 492.4 L302.3 494.1 L304.4 495.9 L306.6 497.6 L308.8 499.2 L310.9 500.8 L313.1 502.4 L315.2 503.9 L317.4 505.4 L319.5 506.9 L321.7 508.3 L323.9 509.7 L326.0 511.0 L328.2 512.3 L330.3 513.6 L332.5 514.9 L334.7 516.1 L336.8 517.3 L339.0 518.5 L341.1 519.6 L343.3 520.8 L345.4 521.8 L347.6 522.9 L349.8 524.0 L351.9 525.0 L354.1 526.0 L356.2 527.0 L358.4 527.9 L360.6 528.8 L362.7 529.8 L364.9 530.6 L367.0 531.5 L369.2 532.4 L371.3 533.2 L373.5 534.0 L375.7 534.8 L377.8 535.6 L380.0 536.4 L382.1 537.1 L384.3 537.9 L386.5 538.6 L388.6 539.3 L390.8 540.0 L392.9 540.7 L395.1 541.3 L397.2 542.0 L399.4 542.6 L401.6 543.2 L403.7 543.8 L405.9 544.4 L408.0 545.0 L410.2 545.6 L412.4 546.2 L414.5 546.7 L416.7 547.3 L418.8 547.8 L421.0 548.3 L423.1 548.8 L425.3 549.3 L427.5 549.8 L429.6 550.3 L431.8 550.8 L433.9 551.2 L436.1 551.7 L438.3 552.1 L440.4 552.6 L442.6 553.0 L444.7 553.4 L446.9 553.8 L449.0 554.2 L451.2 554.6 L453.4 555.0 L455.5 555.4 L457.7 555.8 L459.8 556.1 L462.0 556.5 L464.2 556.9 L466.3 557.2 L468.5 557.6 L470.6 557.9 L472.8 558.2 L474.9 558.6 L477.1 558.9 L479.3 559.2 L481.4 559.5 L483.6 559.8 L485.7 560.1 L487.9 560.4 L490.1 560.7 L492.2 561.0 L494.4 561.3 L496.5 561.5 L498.7 561.8 L500.8 562.1 L503.0 562.3 L505.2 562.6 L507.3 562.8 L509.5 563.1 L511.6 563.3 L513.8 563.6 L516.0 563.8 L518.1 564.0 L520.3 564.3 L522.4 564.5 L524.6 564.7 L526.7 564.9 L528.9 565.1 L531.1 565.3 L533.2 565.5 L535.4 565.8 L537.5 566.0 L539.7 566.1 L541.9 566.3 L544.0 566.5 L546.2 566.7 L548.3 566.9 L550.5 567.1 L552.6 567.3 L554.8 567.4 L557.0 567.6 L559.1 567.8 L561.3 568.0 L563.4 568.1 L565.6 568.3 L567.7 568.4 L569.9 568.6 L572.1 568.8 L574.2 568.9 L576.4 569.1 L578.5 569.2 L580.7 569.4 L582.9 569.5 L585.0 569.7 L587.2 569.8 L589.3 569.9 L591.5 570.1 L593.6 570.2 L595.8 570.3 L598.0 570.5 L600.1 570.6 L602.3 570.7 L604.4 570.8 L606.6 571.0 L608.8 571.1 L610.9 571.2 L613.1 571.3 L615.2 571.4 L617.4 571.6 L619.5 571.7 L621.7 571.8 L623.9 571.9 L626.0 572.0 L628.2 572.1 L630.3 572.2 L632.5 572.3 L634.7 572.4 L636.8 572.5 L639.0 572.6 L641.1 572.7 L643.3 572.8 L645.4 572.9 L647.6 573.0 L649.8 573.1 L651.9 573.2 L654.1 573.3 L656.2 573.4 L658.4 573.5 L660.6 573.5 L662.7 573.6 L664.9 573.7 L667.0 573.8 L669.2 573.9 L671.3 574.0 L673.5 574.0 L675.7 574.1 L677.8 574.2 L680.0 574.3 L682.1 574.4 L684.3 574.4 L686.5 574.5 L688.6 574.6 L690.8 574.7 L692.9 574.7 L695.1 574.8 L697.2 574.9 L699.4 574.9 L701.6 575.0 L703.7 575.1 L705.9 575.1 L708.0 575.2 L710.2 575.3 L712.4 575.3 L714.5 575.4 L716.7 575.5 L718.8 575.5 L721.0 575.6 L723.1 575.6 L725.3 575.7 L727.5 575.8 L729.6 575.8 L731.8 575.9 L733.9 575.9 L736.1 576.0 L738.3 576.0 L740.4 576.1 L742.6 576.1 L744.7 576.2 L746.9 576.2 L749.0 576.3 L751.2 576.3 L753.4 576.4 L755.5 576.4 L757.7 576.5 L759.8 576.5 L762.0 576.6 L764.2 576.6 L766.3 576.7 L768.5 576.7 L770.6 576.8 L772.8 576.8 L774.9 576.9 L777.1 576.9 L779.3 577.0 L781.4 577.0 L783.6 577.0 L785.7 577.1 L787.9 577.1 L790.1 577.2 L792.2 577.2 L794.4 577.3 L796.5 577.3 L798.7 577.3 L800.8 577.4 L803.0 577.4" fill="none" stroke="#ff0000" stroke-width="2.3" stroke-linejoin="round" stroke-dasharray="8.5 3.7"/>
<path d="M157.7 567.3 L159.8 567.0 L162.0 566.7 L164.2 566.4 L166.3 566.2 L168.5 566.1 L170.6 566.0 L172.8 565.9 L174.9 565.8 L177.1 565.8 L179.3 565.8 L181.4 565.8 L183.6 565.8 L185.7 565.8 L187.9 565.9 L190.1 566.0 L192.2 566.2 L194.4 566.3 L196.5 566.5 L198.7 566.6 L200.8 566.7 L203.0 566.8 L205.2 566.9 L207.3 567.0 L209.5 567.1 L211.6 567.2 L213.8 567.3 L216.0 567.4 L218.1 567.4 L220.3 567.5 L222.4 567.5 L224.6 567.6 L226.7 567.6 L228.9 567.7 L231.1 567.7 L233.2 567.8 L235.4 567.9 L237.5 568.0 L239.7 568.1 L241.9 568.2 L244.0 568.3 L246.2 568.5 L248.3 568.6 L250.5 568.7 L252.6 568.8 L254.8 568.9 L257.0 568.9 L259.1 569.0 L261.3 569.1 L263.4 569.1 L265.6 569.2 L267.8 569.3 L269.9 569.3 L272.1 569.4 L274.2 569.5 L276.4 569.5 L278.5 569.6 L280.7 569.7 L282.9 569.8 L285.0 569.9 L287.2 570.0 L289.3 570.1 L291.5 570.2 L293.7 570.3 L295.8 570.4 L298.0 570.6 L300.1 570.7 L302.3 570.8 L304.4 570.9 L306.6 571.0 L308.8 571.1 L310.9 571.2 L313.1 571.3 L315.2 571.3 L317.4 571.4 L319.5 571.5 L321.7 571.6 L323.9 571.6 L326.0 571.7 L328.2 571.8 L330.3 571.9 L332.5 572.0 L334.7 572.1 L336.8 572.2 L339.0 572.4 L341.1 572.5 L343.3 572.6 L345.4 572.7 L347.6 572.8 L349.8 572.9 L351.9 573.0 L354.1 573.1 L356.2 573.2 L358.4 573.3 L360.6 573.3 L362.7 573.4 L364.9 573.4 L367.0 573.5 L369.2 573.5 L371.3 573.6 L373.5 573.6 L375.7 573.7 L377.8 573.8 L380.0 573.8 L382.1 573.9 L384.3 574.0 L386.5 574.1 L388.6 574.2 L390.8 574.3 L392.9 574.4 L395.1 574.5 L397.2 574.6 L399.4 574.7 L401.6 574.8 L403.7 574.9 L405.9 574.9 L408.0 575.0 L410.2 575.0 L412.4 575.1 L414.5 575.2 L416.7 575.2 L418.8 575.3 L421.0 575.3 L423.1 575.4 L425.3 575.4 L427.5 575.5 L429.6 575.5 L431.8 575.6 L433.9 575.6 L436.1 575.7 L438.3 575.7 L440.4 575.8 L442.6 575.8 L444.7 575.9 L446.9 576.0 L449.0 576.0 L451.2 576.1 L453.4 576.1 L455.5 576.2 L457.7 576.3 L459.8 576.3 L462.0 576.4 L464.2 576.4 L466.3 576.4 L468.5 576.5 L470.6 576.5 L472.8 576.6 L474.9 576.6 L477.1 576.6 L479.3 576.6 L481.4 576.7 L483.6 576.7 L485.7 576.7 L487.9 576.7 L490.1 576.8 L492.2 576.8 L494.4 576.8 L496.5 576.8 L498.7 576.9 L500.8 576.9 L503.0 576.9 L505.2 576.9 L507.3 576.9 L509.5 577.0 L511.6 577.0 L513.8 577.0 L516.0 577.1 L518.1 577.1 L520.3 577.1 L522.4 577.2 L524.6 577.2 L526.7 577.3 L528.9 577.3 L531.1 577.4 L533.2 577.4 L535.4 577.5 L537.5 577.5 L539.7 577.6 L541.9 577.7 L544.0 577.7 L546.2 577.8 L548.3 577.9 L550.5 577.9 L552.6 578.0 L554.8 578.1 L557.0 578.1 L559.1 578.2 L561.3 578.2 L563.4 578.3 L565.6 578.3 L567.7 578.4 L569.9 578.4 L572.1 578.5 L574.2 578.5 L576.4 578.6 L578.5 578.6 L580.7 578.6 L582.9 578.7 L585.0 578.7 L587.2 578.8 L589.3 578.8 L591.5 578.8 L593.6 578.9 L595.8 578.9 L598.0 579.0 L600.1 579.0 L602.3 579.0 L604.4 579.1 L606.6 579.1 L608.8 579.1 L610.9 579.2 L613.1 579.2 L615.2 579.2 L617.4 579.3 L619.5 579.3 L621.7 579.3 L623.9 579.3 L626.0 579.4 L628.2 579.4 L630.3 579.4 L632.5 579.5 L634.7 579.5 L636.8 579.5 L639.0 579.5 L641.1 579.6 L643.3 579.6 L645.4 579.6 L647.6 579.6 L649.8 579.7 L651.9 579.7 L654.1 579.7 L656.2 579.7 L658.4 579.8 L660.6 579.8 L662.7 579.8 L664.9 579.8 L667.0 579.8 L669.2 579.9 L671.3 579.9 L673.5 579.9 L675.7 579.9 L677.8 579.9 L680.0 580.0 L682.1 580.0 L684.3 580.0 L686.5 580.0 L688.6 580.0 L690.8 580.0 L692.9 580.1 L695.1 580.1 L697.2 580.1 L699.4 580.1 L701.6 580.1 L703.7 580.1 L705.9 580.1 L708.0 580.1 L710.2 580.2 L712.4 580.2 L714.5 580.2 L716.7 580.2 L718.8 580.2 L721.0 580.2 L723.1 580.2 L725.3 580.2 L727.5 580.3 L729.6 580.3 L731.8 580.3 L733.9 580.3 L736.1 580.3 L738.3 580.3 L740.4 580.3 L742.6 580.4 L744.7 580.4 L746.9 580.4 L749.0 580.4 L751.2 580.4 L753.4 580.4 L755.5 580.5 L757.7 580.5 L759.8 580.5 L762.0 580.5 L764.2 580.5 L766.3 580.6 L768.5 580.6 L770.6 580.6 L772.8 580.6 L774.9 580.7 L777.1 580.7 L779.3 580.7 L781.4 580.7 L783.6 580.8 L785.7 580.8 L787.9 580.8 L790.1 580.8 L792.2 580.9 L794.4 580.9 L796.5 580.9 L798.7 580.9 L800.8 581.0 L803.0 581.0" fill="none" stroke="#ffa500" stroke-width="2.3" stroke-linejoin="round" stroke-dasharray="8.5 3.7"/>
</g>
<rect x="125.5" y="80.7" width="708.5" height="527.2" fill="none" stroke="#1a1a1a" stroke-width="1.4"/>
<rect x="125.5" y="607.9" width="708.5" height="175.4" fill="none" stroke="#1a1a1a" stroke-width="1.4"/>
<line x1="119.3" y1="581.7" x2="125.5" y2="581.7" stroke="#1a1a1a" stroke-width="1.4" />
<text x="113.8" y="590.1" font-family="'DejaVu Sans', 'Liberation Sans', sans-serif" font-size="20.4" font-weight="normal" text-anchor="end" fill="#1f1f1f" >0</text>
<line x1="119.3" y1="487.7" x2="125.5" y2="487.7" stroke="#1a1a1a" stroke-width="1.4" />
<text x="113.8" y="496.1" font-family="'DejaVu Sans', 'Liberation Sans', sans-serif" font-size="20.4" font-weight="normal" text-anchor="end" fill="#1f1f1f" >20</text>
<line x1="119.3" y1="393.7" x2="125.5" y2="393.7" stroke="#1a1a1a" stroke-width="1.4" />
<text x="113.8" y="402.1" font-family="'DejaVu Sans', 'Liberation Sans', sans-serif" font-size="20.4" font-weight="normal" text-anchor="end" fill="#1f1f1f" >40</text>
<line x1="119.3" y1="299.6" x2="125.5" y2="299.6" stroke="#1a1a1a" stroke-width="1.4" />
<text x="113.8" y="308.0" font-family="'DejaVu Sans', 'Liberation Sans', sans-serif" font-size="20.4" font-weight="normal" text-anchor="end" fill="#1f1f1f" >60</text>
<line x1="119.3" y1="205.6" x2="125.5" y2="205.6" stroke="#1a1a1a" stroke-width="1.4" />
<text x="113.8" y="214.0" font-family="'DejaVu Sans', 'Liberation Sans', sans-serif" font-size="20.4" font-weight="normal" text-anchor="end" fill="#1f1f1f" >80</text>
<line x1="119.3" y1="111.6" x2="125.5" y2="111.6" stroke="#1a1a1a" stroke-width="1.4" />
<text x="113.8" y="120.0" font-family="'DejaVu Sans', 'Liberation Sans', sans-serif" font-size="20.4" font-weight="normal" text-anchor="end" fill="#1f1f1f" >100</text>
<line x1="119.3" y1="645.9" x2="125.5" y2="645.9" stroke="#1a1a1a" stroke-width="1.4" />
<text x="113.8" y="654.3" font-family="'DejaVu Sans', 'Liberation Sans', sans-serif" font-size="20.4" font-weight="normal" text-anchor="end" fill="#1f1f1f" >2.5</text>
<line x1="119.3" y1="695.5" x2="125.5" y2="695.5" stroke="#1a1a1a" stroke-width="1.4" />
<text x="113.8" y="703.9" font-family="'DejaVu Sans', 'Liberation Sans', sans-serif" font-size="20.4" font-weight="normal" text-anchor="end" fill="#1f1f1f" >0.0</text>
<line x1="119.3" y1="745.1" x2="125.5" y2="745.1" stroke="#1a1a1a" stroke-width="1.4" />
<text x="113.8" y="753.5" font-family="'DejaVu Sans', 'Liberation Sans', sans-serif" font-size="20.4" font-weight="normal" text-anchor="end" fill="#1f1f1f" >−2.5</text>
<line x1="138.7" y1="783.3" x2="138.7" y2="789.5" stroke="#1a1a1a" stroke-width="1.4" />
<text x="138.7" y="810.6" font-family="'DejaVu Sans', 'Liberation Sans', sans-serif" font-size="20.4" font-weight="normal" text-anchor="middle" fill="#1f1f1f" >0</text>
<line x1="233.6" y1="783.3" x2="233.6" y2="789.5" stroke="#1a1a1a" stroke-width="1.4" />
<text x="233.6" y="810.6" font-family="'DejaVu Sans', 'Liberation Sans', sans-serif" font-size="20.4" font-weight="normal" text-anchor="middle" fill="#1f1f1f" >1</text>
<line x1="328.5" y1="783.3" x2="328.5" y2="789.5" stroke="#1a1a1a" stroke-width="1.4" />
<text x="328.5" y="810.6" font-family="'DejaVu Sans', 'Liberation Sans', sans-serif" font-size="20.4" font-weight="normal" text-anchor="middle" fill="#1f1f1f" >2</text>
<line x1="423.4" y1="783.3" x2="423.4" y2="789.5" stroke="#1a1a1a" stroke-width="1.4" />
<text x="423.4" y="810.6" font-family="'DejaVu Sans', 'Liberation Sans', sans-serif" font-size="20.4" font-weight="normal" text-anchor="middle" fill="#1f1f1f" >3</text>
<line x1="518.3" y1="783.3" x2="518.3" y2="789.5" stroke="#1a1a1a" stroke-width="1.4" />
<text x="518.3" y="810.6" font-family="'DejaVu Sans', 'Liberation Sans', sans-serif" font-size="20.4" font-weight="normal" text-anchor="middle" fill="#1f1f1f" >4</text>
<line x1="613.2" y1="783.3" x2="613.2" y2="789.5" stroke="#1a1a1a" stroke-width="1.4" />
<text x="613.2" y="810.6" font-family="'DejaVu Sans', 'Liberation Sans', sans-serif" font-size="20.4" font-weight="normal" text-anchor="middle" fill="#1f1f1f" >5</text>
<line x1="708.1" y1="783.3" x2="708.1" y2="789.5" stroke="#1a1a1a" stroke-width="1.4" />
<text x="708.1" y="810.6" font-family="'DejaVu Sans', 'Liberation Sans', sans-serif" font-size="20.4" font-weight="normal" text-anchor="middle" fill="#1f1f1f" >6</text>
<line x1="803.0" y1="783.3" x2="803.0" y2="789.5" stroke="#1a1a1a" stroke-width="1.4" />
<text x="803.0" y="810.6" font-family="'DejaVu Sans', 'Liberation Sans', sans-serif" font-size="20.4" font-weight="normal" text-anchor="middle" fill="#1f1f1f" >7</text>
<text x="221.3" y="840.2" font-family="'DejaVu Sans', 'Liberation Sans', sans-serif" font-size="23.85" font-weight="bold" text-anchor="start" fill="#000" >Distance from Applicator Surface (cm)</text>
<text transform="translate(62.1,345.4) rotate(-90)" font-family="'DejaVu Sans', 'Liberation Sans', sans-serif" font-size="23.85" font-weight="bold" text-anchor="middle">PDD (%)</text>
<text transform="translate(52.3,697.9) rotate(-90)" font-family="'DejaVu Sans', 'Liberation Sans', sans-serif" font-size="23.85" font-weight="bold" text-anchor="middle">% Difference</text>
<text x="309.3" y="44.4" font-family="'DejaVu Sans', 'Liberation Sans', sans-serif" font-size="23.82" font-weight="bold" text-anchor="start" fill="#000" >Tungsten Filament Shield</text>
<text x="155.6" y="70.5" font-family="'DejaVu Sans', 'Liberation Sans', sans-serif" font-size="23.82" font-weight="bold" text-anchor="start" fill="#000" >Slice 3/4 From Midpoint Shielded Applicator PDD</text>
<g clip-path="url(#cRl)">
<line x1="997.3" y1="778.7" x2="1711.4" y2="778.7" stroke="#8a8a8a" stroke-width="2.3" stroke-dasharray="2.3 4.009" stroke-dashoffset="0.5"/>
<line x1="997.3" y1="772.6" x2="1711.4" y2="772.6" stroke="#8a8a8a" stroke-width="2.3" stroke-dasharray="2.3 4.009" stroke-dashoffset="0.5"/>
<line x1="997.3" y1="766.6" x2="1711.4" y2="766.6" stroke="#8a8a8a" stroke-width="2.3" stroke-dasharray="2.3 4.009" stroke-dashoffset="0.5"/>
<line x1="997.3" y1="760.5" x2="1711.4" y2="760.5" stroke="#8a8a8a" stroke-width="2.3" stroke-dasharray="2.3 4.009" stroke-dashoffset="0.5"/>
<line x1="997.3" y1="754.5" x2="1711.4" y2="754.5" stroke="#8a8a8a" stroke-width="2.3" stroke-dasharray="2.3 4.009" stroke-dashoffset="0.5"/>
<line x1="997.3" y1="748.5" x2="1711.4" y2="748.5" stroke="#8a8a8a" stroke-width="2.3" stroke-dasharray="2.3 4.009" stroke-dashoffset="0.5"/>
<line x1="997.3" y1="742.4" x2="1711.4" y2="742.4" stroke="#8a8a8a" stroke-width="2.3" stroke-dasharray="2.3 4.009" stroke-dashoffset="0.5"/>
<line x1="997.3" y1="736.4" x2="1711.4" y2="736.4" stroke="#8a8a8a" stroke-width="2.3" stroke-dasharray="2.3 4.009" stroke-dashoffset="0.5"/>
<line x1="997.3" y1="730.3" x2="1711.4" y2="730.3" stroke="#8a8a8a" stroke-width="2.3" stroke-dasharray="2.3 4.009" stroke-dashoffset="0.5"/>
<line x1="997.3" y1="724.2" x2="1711.4" y2="724.2" stroke="#8a8a8a" stroke-width="2.3" stroke-dasharray="2.3 4.009" stroke-dashoffset="0.5"/>
<line x1="997.3" y1="718.2" x2="1711.4" y2="718.2" stroke="#8a8a8a" stroke-width="2.3" stroke-dasharray="2.3 4.009" stroke-dashoffset="0.5"/>
<line x1="997.3" y1="712.1" x2="1711.4" y2="712.1" stroke="#8a8a8a" stroke-width="2.3" stroke-dasharray="2.3 4.009" stroke-dashoffset="0.5"/>
<line x1="997.3" y1="706.1" x2="1711.4" y2="706.1" stroke="#8a8a8a" stroke-width="2.3" stroke-dasharray="2.3 4.009" stroke-dashoffset="0.5"/>
<line x1="997.3" y1="700.0" x2="1711.4" y2="700.0" stroke="#8a8a8a" stroke-width="2.3" stroke-dasharray="2.3 4.009" stroke-dashoffset="0.5"/>
<line x1="997.3" y1="688.0" x2="1711.4" y2="688.0" stroke="#8a8a8a" stroke-width="2.3" stroke-dasharray="2.3 4.009" stroke-dashoffset="0.5"/>
<line x1="997.3" y1="681.9" x2="1711.4" y2="681.9" stroke="#8a8a8a" stroke-width="2.3" stroke-dasharray="2.3 4.009" stroke-dashoffset="0.5"/>
<line x1="997.3" y1="675.9" x2="1711.4" y2="675.9" stroke="#8a8a8a" stroke-width="2.3" stroke-dasharray="2.3 4.009" stroke-dashoffset="0.5"/>
<line x1="997.3" y1="669.8" x2="1711.4" y2="669.8" stroke="#8a8a8a" stroke-width="2.3" stroke-dasharray="2.3 4.009" stroke-dashoffset="0.5"/>
<line x1="997.3" y1="663.8" x2="1711.4" y2="663.8" stroke="#8a8a8a" stroke-width="2.3" stroke-dasharray="2.3 4.009" stroke-dashoffset="0.5"/>
<line x1="997.3" y1="657.7" x2="1711.4" y2="657.7" stroke="#8a8a8a" stroke-width="2.3" stroke-dasharray="2.3 4.009" stroke-dashoffset="0.5"/>
<line x1="997.3" y1="651.6" x2="1711.4" y2="651.6" stroke="#8a8a8a" stroke-width="2.3" stroke-dasharray="2.3 4.009" stroke-dashoffset="0.5"/>
<line x1="997.3" y1="645.6" x2="1711.4" y2="645.6" stroke="#8a8a8a" stroke-width="2.3" stroke-dasharray="2.3 4.009" stroke-dashoffset="0.5"/>
<line x1="997.3" y1="639.5" x2="1711.4" y2="639.5" stroke="#8a8a8a" stroke-width="2.3" stroke-dasharray="2.3 4.009" stroke-dashoffset="0.5"/>
<line x1="997.3" y1="633.5" x2="1711.4" y2="633.5" stroke="#8a8a8a" stroke-width="2.3" stroke-dasharray="2.3 4.009" stroke-dashoffset="0.5"/>
<line x1="997.3" y1="627.5" x2="1711.4" y2="627.5" stroke="#8a8a8a" stroke-width="2.3" stroke-dasharray="2.3 4.009" stroke-dashoffset="0.5"/>
<line x1="997.3" y1="621.4" x2="1711.4" y2="621.4" stroke="#8a8a8a" stroke-width="2.3" stroke-dasharray="2.3 4.009" stroke-dashoffset="0.5"/>
<line x1="997.3" y1="615.4" x2="1711.4" y2="615.4" stroke="#8a8a8a" stroke-width="2.3" stroke-dasharray="2.3 4.009" stroke-dashoffset="0.5"/>
<line x1="997.3" y1="609.3" x2="1711.4" y2="609.3" stroke="#8a8a8a" stroke-width="2.3" stroke-dasharray="2.3 4.009" stroke-dashoffset="0.5"/>
<line x1="997.3" y1="603.2" x2="1711.4" y2="603.2" stroke="#8a8a8a" stroke-width="2.3" stroke-dasharray="2.3 4.009" stroke-dashoffset="0.5"/>
<line x1="997.3" y1="694.0" x2="1711.4" y2="694.0" stroke="#6e6e6e" stroke-width="1.6" />
<path d="M1048.1 610.2 L1048.1 608.8 L1051.3 611.5 L1051.9 610.5 L1055.4 622.5 L1055.6 621.4 L1058.6 620.9 L1059.4 618.1 L1063.1 614.6 L1063.4 612.9 L1066.9 619.5 L1066.9 620.9 L1070.0 634.4 L1070.6 633.6 L1073.2 633.4 L1074.4 631.9 L1077.3 625.5 L1078.1 623.1 L1080.5 630.3 L1081.9 629.7 L1084.7 631.3 L1085.6 632.1 L1088.8 633.4 L1089.3 633.9 L1093.0 640.1 L1093.1 638.6 L1096.8 635.6 L1097.2 637.1 L1100.3 638.6 L1100.6 638.0 L1103.4 641.7 L1104.3 639.5 L1107.6 640.1 L1108.1 637.5 L1111.8 637.6 L1111.8 639.3 L1115.5 630.9 L1115.6 631.6 L1117.0 633.0 L1119.3 645.5 L1120.1 648.0 L1123.1 659.6 L1123.3 660.5 L1126.4 657.4 L1126.8 654.7 L1129.5 653.8 L1130.6 653.7 L1133.7 657.4 L1134.3 659.9 L1137.9 663.7 L1138.1 664.2 L1141.8 664.1 L1143.1 666.4 L1145.6 666.2 L1147.3 664.7 L1149.3 667.9 L1149.3 667.8 L1152.5 666.4 L1153.0 666.5 L1156.7 671.0 L1156.8 673.8 L1159.8 673.5 L1160.5 671.9 L1162.9 672.0 L1164.3 674.2 L1167.1 680.3 L1168.0 681.1 L1171.3 687.7 L1171.8 689.1 L1174.4 687.7 L1175.5 688.2 L1178.6 685.6 L1179.3 687.5 L1180.7 688.7 L1183.0 685.9 L1183.8 685.6 L1186.8 688.4 L1186.9 688.7 L1189.0 696.0 L1190.5 691.2 L1192.1 686.6 L1194.3 684.7 L1197.3 688.7 L1198.0 686.5 L1200.5 687.7 L1201.8 686.8 L1204.7 681.4 L1205.5 683.5 L1207.8 685.6 L1209.3 685.9 L1210.9 691.8 L1213.0 694.4 L1214.0 695.0 L1216.1 691.8 L1216.7 689.7 L1220.3 691.8 L1220.5 689.4 L1224.2 692.2 L1224.5 691.4 L1227.6 690.2 L1228.0 691.1 L1231.7 696.2 L1231.8 696.4 L1235.5 701.9 L1236.0 701.2 L1239.2 701.0 L1240.1 699.1 L1243.0 697.2 L1243.3 696.4 L1246.7 697.9 L1247.4 699.8 L1250.5 703.0 L1251.6 703.3 L1254.2 698.4 L1254.7 697.0 L1257.9 689.7 L1258.0 690.4 L1261.7 692.2 L1262.0 690.2 L1265.5 689.2 L1266.2 691.8 L1269.2 690.4 L1269.3 686.6 L1272.5 682.4 L1273.0 683.0 L1276.7 679.3 L1276.7 678.4 L1280.4 682.3 L1280.8 680.3 L1284.0 683.5 L1284.2 682.8 L1287.9 685.5 L1288.1 687.7 L1291.3 687.7 L1291.7 688.2 L1294.4 682.0 L1295.4 683.5 L1297.5 687.7 L1299.2 691.5 L1300.7 691.8 L1302.9 688.5 L1305.9 686.0 L1306.7 684.7 L1310.0 680.3 L1310.4 679.2 L1314.2 670.0 L1314.2 672.0 L1317.9 670.3 L1318.4 671.0 L1321.5 669.9 L1321.7 667.8 L1324.7 668.9 L1325.4 667.4 L1328.8 666.4 L1329.2 669.0 L1332.9 676.5 L1333.0 677.2 L1336.1 683.5 L1336.6 682.6 L1340.3 682.4 L1340.4 684.7 L1343.4 684.5 L1344.1 682.7 L1347.6 685.6 L1347.9 685.5 L1351.6 686.0 L1351.9 686.6 L1355.4 690.5 L1356.2 689.7 L1359.1 688.9 L1360.3 688.7 L1362.9 684.4 L1364.5 682.4 L1366.6 684.3 L1367.7 684.5 L1370.4 692.5 L1370.8 693.9 L1374.1 700.4 L1375.0 698.1 L1377.9 701.2 L1380.2 707.5 L1381.6 708.3 L1385.4 707.6 L1385.4 704.3 L1389.1 704.3 L1390.6 702.3 L1392.9 694.8 L1393.7 690.2 L1396.6 693.3 L1397.9 696.0 L1400.3 699.8 L1402.1 700.2 L1404.1 701.9 L1407.8 707.7 L1408.3 706.9 L1411.6 695.9 L1412.5 697.0 L1415.3 695.9 L1418.8 696.4 L1419.1 693.4 L1421.9 695.6 L1422.8 698.6 L1426.1 702.3 L1426.6 701.5 L1430.3 706.2 L1431.3 705.4 L1434.1 706.1 L1436.5 708.5 L1437.8 706.4 L1441.6 706.9 L1441.7 704.3 L1445.3 705.8 L1448.0 703.9 L1449.1 706.0 L1452.2 705.4 L1452.8 708.0 L1456.3 707.5 L1456.6 708.5 L1460.3 706.9 L1462.6 704.3 L1464.0 705.6 L1467.8 701.1 L1467.8 701.2 L1471.0 706.4 L1471.5 706.5 L1475.1 712.7 L1475.3 714.6 L1479.0 712.5 L1479.3 711.7 L1482.8 715.8 L1484.5 717.9 L1486.5 713.6 L1487.7 710.6 L1490.3 705.5 L1490.8 703.3 L1494.0 706.1 L1495.0 708.5 L1497.8 708.9 L1500.2 711.7 L1501.5 710.4 L1505.3 711.1 L1506.4 710.6 L1509.0 705.4 L1512.7 705.4 L1512.8 702.7 L1516.5 703.8 L1519.0 701.8 L1520.3 701.1 L1524.0 696.4 L1524.2 698.1 L1527.3 705.4 L1527.7 706.5 L1531.5 704.3 L1531.5 703.7 L1535.2 705.2 L1535.7 705.4 L1539.0 709.1 L1540.9 709.6 L1542.7 708.4 L1546.1 705.4 L1546.5 707.2 L1550.2 700.0 L1550.3 699.1 L1554.0 695.6 L1554.4 691.8 L1557.7 694.1 L1558.6 699.1 L1561.5 698.7 L1564.9 703.3 L1565.2 701.7 L1569.0 705.6 L1571.1 707.5 L1572.7 704.6 L1576.5 701.1 L1577.4 702.3 L1580.2 699.3 L1583.7 699.1 L1584.0 697.7 L1587.7 699.8 L1589.9 698.1 L1591.4 696.7 L1594.1 696.0 L1595.2 697.9 L1598.9 702.6 L1599.3 701.2 L1602.4 691.8 L1602.7 692.8 L1605.6 682.4 L1606.4 680.9 L1610.2 676.2 L1610.8 677.2 L1613.9 678.3 L1613.9 680.3 L1617.7 680.3 L1618.1 683.5 L1621.4 677.9 L1622.3 679.3 L1625.2 673.1 L1625.4 672.0 L1628.9 672.7 L1629.6 672.0 L1632.7 671.5 L1634.8 671.0 L1636.4 668.4 L1637.9 668.9 L1640.2 671.1 L1642.1 672.0 L1643.9 672.8 L1646.3 669.9 L1647.7 668.3 L1650.4 666.8 L1651.4 669.4 L1654.6 664.7 L1655.1 663.9 L1658.8 660.5 L1658.9 658.9 L1662.6 663.9 L1663.0 664.7 L1666.4 662.7 L1667.1 663.7 L1669.2 654.3 L1670.1 646.2 L1671.3 637.6 L1672.3 625.0" fill="none" stroke="#800080" stroke-width="2.0" stroke-linejoin="round" />
<path d="M1048.1 708.3 L1048.1 708.9 L1051.9 709.3 L1053.3 709.6 L1055.6 710.7 L1059.4 710.8 L1059.6 710.6 L1063.1 712.1 L1063.8 712.3 L1066.9 711.4 L1068.0 712.7 L1070.6 711.2 L1072.1 712.7 L1074.4 713.0 L1077.3 714.4 L1078.1 714.5 L1081.9 711.8 L1082.6 710.6 L1085.6 713.1 L1086.7 713.7 L1089.3 713.3 L1093.0 715.8 L1093.1 715.5 L1096.8 715.5 L1099.3 715.2 L1100.6 715.8 L1104.3 714.0 L1104.5 714.8 L1108.1 716.0 L1109.7 716.9 L1111.8 718.0 L1113.9 719.0 L1115.6 718.4 L1118.0 717.9 L1119.3 715.7 L1122.2 715.8 L1123.1 715.7 L1126.4 714.4 L1126.8 713.0 L1130.6 715.3 L1130.6 716.5 L1134.3 718.7 L1134.7 719.0 L1138.1 716.2 L1138.9 716.5 L1141.8 714.7 L1143.1 713.7 L1145.6 714.5 L1147.3 713.7 L1149.3 714.5 L1151.4 714.8 L1153.0 716.0 L1155.6 715.8 L1156.8 715.7 L1159.8 716.9 L1160.5 717.2 L1164.0 719.0 L1164.3 718.1 L1168.0 714.1 L1168.1 714.8 L1171.8 715.8 L1172.3 712.7 L1175.5 712.1 L1176.5 712.3 L1179.3 712.8 L1180.7 710.6 L1183.0 710.3 L1186.8 711.0 L1186.9 710.2 L1190.5 709.7 L1193.2 709.6 L1194.3 708.1 L1197.3 708.5 L1198.0 709.7 L1201.5 706.4 L1201.8 706.2 L1205.5 705.5 L1205.7 705.4 L1209.3 705.3 L1209.9 703.3 L1213.0 703.5 L1214.0 704.3 L1216.7 705.0 L1218.2 705.4 L1220.5 705.5 L1222.4 704.8 L1224.2 705.4 L1226.6 704.8 L1228.0 702.4 L1230.7 706.4 L1231.7 707.0 L1234.9 707.5 L1235.5 709.3 L1239.1 708.5 L1239.2 709.3 L1243.0 707.3 L1243.3 706.9 L1246.7 706.0 L1247.4 705.4 L1250.5 704.7 L1251.6 704.3 L1254.2 705.6 L1255.8 704.8 L1258.0 703.5 L1260.0 703.3 L1261.7 702.9 L1264.1 701.2 L1265.5 703.1 L1268.3 703.3 L1269.2 704.3 L1272.5 704.3 L1273.0 704.6 L1276.7 703.3 L1276.7 702.5 L1280.4 702.9 L1280.8 703.3 L1284.2 704.5 L1285.0 704.3 L1287.9 705.3 L1288.1 705.4 L1291.3 703.3 L1291.7 702.8 L1295.4 698.3 L1295.4 700.2 L1298.6 698.1 L1299.2 699.0 L1302.7 700.2 L1302.9 699.7 L1305.9 699.8 L1306.7 698.6 L1310.0 697.0 L1310.4 697.7 L1314.2 694.8 L1314.2 695.0 L1317.9 693.9 L1318.4 693.9 L1321.7 695.2 L1322.6 695.0 L1325.4 695.2 L1326.7 696.0 L1329.2 695.1 L1330.9 696.0 L1332.9 694.2 L1335.1 694.3 L1336.6 693.6 L1339.3 691.8 L1340.4 691.4 L1343.4 690.8 L1344.1 688.8 L1347.6 691.8 L1347.9 692.7 L1351.6 690.4 L1351.9 690.6 L1355.4 689.9 L1358.3 690.8 L1359.1 690.8 L1362.9 691.0 L1364.5 691.8 L1366.6 691.3 L1370.4 690.2 L1370.8 690.8 L1374.1 688.5 L1377.0 688.7 L1377.9 689.2 L1381.6 690.0 L1383.3 690.8 L1385.4 690.8 L1389.1 691.1 L1389.6 690.8 L1392.9 691.1 L1395.8 691.4 L1396.6 692.0 L1400.3 688.0 L1402.1 687.7 L1404.1 685.6 L1407.8 684.6 L1408.3 686.0 L1411.6 683.7 L1414.6 683.9 L1415.3 684.9 L1419.1 683.4 L1420.9 685.1 L1422.8 686.7 L1426.1 687.7 L1426.6 687.7 L1430.3 686.0 L1433.4 687.7 L1434.1 688.6 L1437.8 686.6 L1439.7 687.2 L1441.6 687.2 L1445.3 688.1 L1445.9 688.1 L1449.1 684.6 L1450.1 682.4 L1452.8 681.8 L1454.3 682.0 L1456.6 683.4 L1460.3 683.5 L1460.5 684.5 L1464.0 682.2 L1466.8 682.4 L1467.8 683.1 L1471.5 680.0 L1472.0 679.3 L1475.3 680.9 L1477.2 681.4 L1479.0 682.6 L1481.4 681.8 L1482.8 682.3 L1486.5 679.7 L1487.7 679.3 L1490.3 679.3 L1493.9 678.9 L1494.0 680.4 L1497.8 680.7 L1498.1 680.3 L1501.5 677.6 L1504.3 676.2 L1505.3 676.9 L1509.0 675.0 L1510.6 673.5 L1512.8 673.4 L1514.8 676.2 L1516.5 675.8 L1519.0 678.3 L1520.3 679.1 L1524.0 677.0 L1525.2 675.1 L1527.7 674.4 L1531.5 674.1 L1531.5 675.2 L1535.2 675.2 L1537.7 675.5 L1539.0 675.9 L1542.7 674.7 L1544.0 675.1 L1546.5 678.1 L1550.2 678.8 L1550.3 676.8 L1554.0 677.5 L1555.5 676.2 L1557.7 673.5 L1560.7 672.0 L1561.5 672.0 L1565.2 672.5 L1567.0 670.5 L1569.0 670.4 L1572.7 670.7 L1573.2 671.4 L1576.5 671.9 L1579.5 672.0 L1580.2 672.2 L1584.0 670.9 L1585.7 671.0 L1587.7 669.1 L1591.4 668.5 L1592.0 668.5 L1595.2 667.0 L1596.2 667.2 L1598.9 669.7 L1600.3 671.0 L1602.7 669.7 L1606.4 667.7 L1606.6 666.8 L1610.2 666.6 L1612.9 666.8 L1613.9 667.2 L1617.7 667.8 L1619.1 667.8 L1621.4 668.1 L1623.3 669.9 L1625.2 671.1 L1627.5 673.5 L1628.9 671.2 L1631.7 669.3 L1632.7 669.8 L1636.4 664.6 L1636.9 664.7 L1640.2 668.5 L1641.0 668.9 L1643.9 673.4 L1644.2 673.0 L1647.7 672.7 L1650.4 671.0 L1651.4 669.1 L1655.1 666.4 L1655.7 666.8 L1658.9 671.5 L1659.8 672.0 L1662.6 673.0 L1665.0 672.0 L1666.4 671.7 L1670.1 671.2 L1671.3 670.5" fill="none" stroke="#000" stroke-width="2.0" stroke-linejoin="round" />
</g>
<g clip-path="url(#cRm)">
<line x1="997.3" y1="581.3" x2="1711.4" y2="581.3" stroke="#1a1a1a" stroke-width="1.5" stroke-dasharray="5.85 2.52"/>
<path d="M1048.4 96.9v14.1m-3.4 0h6.8m0 -14.1h-6.8M1049.0 100.8v14.1m-3.4 0h6.8m0 -14.1h-6.8M1049.6 100.9v14.1m-3.4 0h6.8m0 -14.1h-6.8M1050.3 107.6v14.1m-3.4 0h6.8m0 -14.1h-6.8M1050.9 107.9v14.1m-3.4 0h6.8m0 -14.1h-6.8M1051.5 113.4v14.1m-3.4 0h6.8m0 -14.1h-6.8M1052.1 116.4v14.1m-3.4 0h6.8m0 -14.1h-6.8M1052.8 117.2v14.1m-3.4 0h6.8m0 -14.1h-6.8M1053.4 120.3v14.1m-3.4 0h6.8m0 -14.1h-6.8M1054.0 127.6v14.1m-3.4 0h6.8m0 -14.1h-6.8M1054.6 119.0v14.1m-3.4 0h6.8m0 -14.1h-6.8M1055.2 129.2v14.1m-3.4 0h6.8m0 -14.1h-6.8M1055.9 136.4v14.1m-3.4 0h6.8m0 -14.1h-6.8M1056.5 127.3v14.1m-3.4 0h6.8m0 -14.1h-6.8M1057.1 136.5v14.1m-3.4 0h6.8m0 -14.1h-6.8M1057.7 132.6v14.1m-3.4 0h6.8m0 -14.1h-6.8M1058.4 136.2v14.1m-3.4 0h6.8m0 -14.1h-6.8M1059.0 136.1v14.1m-3.4 0h6.8m0 -14.1h-6.8M1059.6 137.3v14.1m-3.4 0h6.8m0 -14.1h-6.8M1060.2 141.3v14.1m-3.4 0h6.8m0 -14.1h-6.8M1060.9 139.5v14.1m-3.4 0h6.8m0 -14.1h-6.8M1061.5 131.8v14.1m-3.4 0h6.8m0 -14.1h-6.8M1062.1 150.7v14.1m-3.4 0h6.8m0 -14.1h-6.8M1062.7 141.7v14.1m-3.4 0h6.8m0 -14.1h-6.8M1063.4 141.0v14.1m-3.4 0h6.8m0 -14.1h-6.8M1064.0 149.9v14.1m-3.4 0h6.8m0 -14.1h-6.8M1064.6 153.9v14.1m-3.4 0h6.8m0 -14.1h-6.8M1065.2 141.6v14.1m-3.4 0h6.8m0 -14.1h-6.8M1065.9 154.9v14.1m-3.4 0h6.8m0 -14.1h-6.8M1066.5 147.2v14.1m-3.4 0h6.8m0 -14.1h-6.8M1067.1 156.6v14.1m-3.4 0h6.8m0 -14.1h-6.8M1067.7 162.2v14.1m-3.4 0h6.8m0 -14.1h-6.8M1068.4 164.1v14.1m-3.4 0h6.8m0 -14.1h-6.8M1069.0 167.0v14.1m-3.4 0h6.8m0 -14.1h-6.8M1069.6 168.3v14.1m-3.4 0h6.8m0 -14.1h-6.8M1070.2 174.3v14.1m-3.4 0h6.8m0 -14.1h-6.8M1070.9 176.8v14.1m-3.4 0h6.8m0 -14.1h-6.8M1071.5 178.0v14.1m-3.4 0h6.8m0 -14.1h-6.8M1072.1 174.3v14.1m-3.4 0h6.8m0 -14.1h-6.8M1072.7 177.9v14.1m-3.4 0h6.8m0 -14.1h-6.8M1073.4 186.6v14.1m-3.4 0h6.8m0 -14.1h-6.8M1074.0 185.6v14.1m-3.4 0h6.8m0 -14.1h-6.8M1074.6 182.0v14.1m-3.4 0h6.8m0 -14.1h-6.8M1075.2 186.5v14.1m-3.4 0h6.8m0 -14.1h-6.8M1075.9 185.9v14.1m-3.4 0h6.8m0 -14.1h-6.8M1076.5 188.9v14.1m-3.4 0h6.8m0 -14.1h-6.8M1077.1 186.4v14.1m-3.4 0h6.8m0 -14.1h-6.8M1077.7 185.0v14.1m-3.4 0h6.8m0 -14.1h-6.8M1078.4 184.7v14.1m-3.4 0h6.8m0 -14.1h-6.8M1079.0 190.9v14.1m-3.4 0h6.8m0 -14.1h-6.8M1079.6 184.3v14.1m-3.4 0h6.8m0 -14.1h-6.8M1080.2 195.5v14.1m-3.4 0h6.8m0 -14.1h-6.8M1080.9 183.4v14.1m-3.4 0h6.8m0 -14.1h-6.8M1081.5 194.1v14.1m-3.4 0h6.8m0 -14.1h-6.8M1082.1 197.7v14.1m-3.4 0h6.8m0 -14.1h-6.8M1082.7 203.3v14.1m-3.4 0h6.8m0 -14.1h-6.8M1083.4 214.6v14.1m-3.4 0h6.8m0 -14.1h-6.8M1084.0 204.7v14.1m-3.4 0h6.8m0 -14.1h-6.8M1084.6 204.8v14.1m-3.4 0h6.8m0 -14.1h-6.8M1085.2 198.9v14.1m-3.4 0h6.8m0 -14.1h-6.8M1085.8 214.4v14.1m-3.4 0h6.8m0 -14.1h-6.8M1086.5 202.0v14.1m-3.4 0h6.8m0 -14.1h-6.8M1087.1 212.7v14.1m-3.4 0h6.8m0 -14.1h-6.8M1087.7 210.0v14.1m-3.4 0h6.8m0 -14.1h-6.8M1088.3 225.3v14.1m-3.4 0h6.8m0 -14.1h-6.8M1089.0 215.6v14.1m-3.4 0h6.8m0 -14.1h-6.8M1089.6 219.7v14.1m-3.4 0h6.8m0 -14.1h-6.8M1090.2 217.4v14.1m-3.4 0h6.8m0 -14.1h-6.8M1090.8 221.9v14.1m-3.4 0h6.8m0 -14.1h-6.8M1091.5 229.1v14.1m-3.4 0h6.8m0 -14.1h-6.8M1092.1 222.2v14.1m-3.4 0h6.8m0 -14.1h-6.8M1092.7 225.3v14.1m-3.4 0h6.8m0 -14.1h-6.8M1093.3 227.1v14.1m-3.4 0h6.8m0 -14.1h-6.8M1094.0 226.2v14.1m-3.4 0h6.8m0 -14.1h-6.8M1094.6 226.6v14.1m-3.4 0h6.8m0 -14.1h-6.8M1095.2 232.2v14.1m-3.4 0h6.8m0 -14.1h-6.8M1095.8 238.7v14.1m-3.4 0h6.8m0 -14.1h-6.8M1096.5 239.7v14.1m-3.4 0h6.8m0 -14.1h-6.8M1097.1 228.9v14.1m-3.4 0h6.8m0 -14.1h-6.8M1097.7 232.9v14.1m-3.4 0h6.8m0 -14.1h-6.8M1098.3 236.9v14.1m-3.4 0h6.8m0 -14.1h-6.8M1099.0 240.5v14.1m-3.4 0h6.8m0 -14.1h-6.8M1099.6 239.9v14.1m-3.4 0h6.8m0 -14.1h-6.8M1100.2 241.3v14.1m-3.4 0h6.8m0 -14.1h-6.8M1100.8 244.4v14.1m-3.4 0h6.8m0 -14.1h-6.8M1101.5 247.6v14.1m-3.4 0h6.8m0 -14.1h-6.8M1102.1 237.1v14.1m-3.4 0h6.8m0 -14.1h-6.8M1102.7 246.8v14.1m-3.4 0h6.8m0 -14.1h-6.8M1103.3 252.0v14.1m-3.4 0h6.8m0 -14.1h-6.8M1104.0 255.9v14.1m-3.4 0h6.8m0 -14.1h-6.8M1104.6 254.4v14.1m-3.4 0h6.8m0 -14.1h-6.8M1105.2 249.2v14.1m-3.4 0h6.8m0 -14.1h-6.8M1105.8 249.9v14.1m-3.4 0h6.8m0 -14.1h-6.8M1106.5 254.9v14.1m-3.4 0h6.8m0 -14.1h-6.8M1107.1 254.6v14.1m-3.4 0h6.8m0 -14.1h-6.8M1107.7 257.0v14.1m-3.4 0h6.8m0 -14.1h-6.8M1108.3 261.2v14.1m-3.4 0h6.8m0 -14.1h-6.8M1109.0 251.7v14.1m-3.4 0h6.8m0 -14.1h-6.8M1109.6 256.4v14.1m-3.4 0h6.8m0 -14.1h-6.8M1110.2 248.3v14.1m-3.4 0h6.8m0 -14.1h-6.8M1110.8 262.7v14.1m-3.4 0h6.8m0 -14.1h-6.8M1111.5 260.8v14.1m-3.4 0h6.8m0 -14.1h-6.8M1112.1 257.0v14.1m-3.4 0h6.8m0 -14.1h-6.8M1112.7 261.9v14.1m-3.4 0h6.8m0 -14.1h-6.8M1113.3 266.9v14.1m-3.4 0h6.8m0 -14.1h-6.8M1114.0 265.2v14.1m-3.4 0h6.8m0 -14.1h-6.8M1114.6 260.9v14.1m-3.4 0h6.8m0 -14.1h-6.8M1115.2 260.0v14.1m-3.4 0h6.8m0 -14.1h-6.8M1115.8 262.7v14.1m-3.4 0h6.8m0 -14.1h-6.8M1116.5 259.8v14.1m-3.4 0h6.8m0 -14.1h-6.8M1117.1 261.7v14.1m-3.4 0h6.8m0 -14.1h-6.8M1117.7 267.8v14.1m-3.4 0h6.8m0 -14.1h-6.8M1118.3 272.4v14.1m-3.4 0h6.8m0 -14.1h-6.8M1118.9 276.9v14.1m-3.4 0h6.8m0 -14.1h-6.8M1119.6 276.8v14.1m-3.4 0h6.8m0 -14.1h-6.8M1120.2 278.5v14.1m-3.4 0h6.8m0 -14.1h-6.8M1120.8 285.0v14.1m-3.4 0h6.8m0 -14.1h-6.8M1121.4 286.2v14.1m-3.4 0h6.8m0 -14.1h-6.8M1122.1 292.4v14.1m-3.4 0h6.8m0 -14.1h-6.8M1122.7 299.9v14.1m-3.4 0h6.8m0 -14.1h-6.8M1123.3 300.8v14.1m-3.4 0h6.8m0 -14.1h-6.8M1123.9 293.8v14.1m-3.4 0h6.8m0 -14.1h-6.8M1124.6 295.6v14.1m-3.4 0h6.8m0 -14.1h-6.8M1125.2 291.2v14.1m-3.4 0h6.8m0 -14.1h-6.8M1125.8 298.1v14.1m-3.4 0h6.8m0 -14.1h-6.8M1126.4 295.1v14.1m-3.4 0h6.8m0 -14.1h-6.8M1127.1 293.5v14.1m-3.4 0h6.8m0 -14.1h-6.8M1127.7 295.3v14.1m-3.4 0h6.8m0 -14.1h-6.8M1128.3 302.4v14.1m-3.4 0h6.8m0 -14.1h-6.8M1128.9 301.0v14.1m-3.4 0h6.8m0 -14.1h-6.8M1129.6 300.1v14.1m-3.4 0h6.8m0 -14.1h-6.8M1130.2 306.1v14.1m-3.4 0h6.8m0 -14.1h-6.8M1130.8 301.2v14.1m-3.4 0h6.8m0 -14.1h-6.8M1131.4 300.2v14.1m-3.4 0h6.8m0 -14.1h-6.8M1132.1 307.8v14.1m-3.4 0h6.8m0 -14.1h-6.8M1132.7 298.7v14.1m-3.4 0h6.8m0 -14.1h-6.8M1133.3 309.6v14.1m-3.4 0h6.8m0 -14.1h-6.8M1133.9 310.6v14.1m-3.4 0h6.8m0 -14.1h-6.8M1134.6 312.4v14.1m-3.4 0h6.8m0 -14.1h-6.8M1135.2 315.9v14.1m-3.4 0h6.8m0 -14.1h-6.8M1135.8 312.8v14.1m-3.4 0h6.8m0 -14.1h-6.8M1136.4 316.0v14.1m-3.4 0h6.8m0 -14.1h-6.8M1137.1 310.6v14.1m-3.4 0h6.8m0 -14.1h-6.8M1137.7 316.7v14.1m-3.4 0h6.8m0 -14.1h-6.8M1138.3 318.2v14.1m-3.4 0h6.8m0 -14.1h-6.8M1138.9 322.5v14.1m-3.4 0h6.8m0 -14.1h-6.8M1139.6 328.6v14.1m-3.4 0h6.8m0 -14.1h-6.8M1140.2 324.1v14.1m-3.4 0h6.8m0 -14.1h-6.8M1140.8 328.4v14.1m-3.4 0h6.8m0 -14.1h-6.8M1141.4 321.8v14.1m-3.4 0h6.8m0 -14.1h-6.8M1142.1 327.0v14.1m-3.4 0h6.8m0 -14.1h-6.8M1142.7 320.9v14.1m-3.4 0h6.8m0 -14.1h-6.8M1143.3 325.8v14.1m-3.4 0h6.8m0 -14.1h-6.8M1143.9 326.0v14.1m-3.4 0h6.8m0 -14.1h-6.8M1144.6 329.1v14.1m-3.4 0h6.8m0 -14.1h-6.8M1145.2 329.8v14.1m-3.4 0h6.8m0 -14.1h-6.8M1145.8 328.5v14.1m-3.4 0h6.8m0 -14.1h-6.8M1146.4 328.0v14.1m-3.4 0h6.8m0 -14.1h-6.8M1147.1 335.5v14.1m-3.4 0h6.8m0 -14.1h-6.8M1147.7 331.6v14.1m-3.4 0h6.8m0 -14.1h-6.8M1148.3 324.1v14.1m-3.4 0h6.8m0 -14.1h-6.8M1148.9 337.1v14.1m-3.4 0h6.8m0 -14.1h-6.8M1149.5 339.0v14.1m-3.4 0h6.8m0 -14.1h-6.8M1150.2 341.3v14.1m-3.4 0h6.8m0 -14.1h-6.8M1150.8 345.1v14.1m-3.4 0h6.8m0 -14.1h-6.8M1151.4 334.5v14.1m-3.4 0h6.8m0 -14.1h-6.8M1152.0 339.8v14.1m-3.4 0h6.8m0 -14.1h-6.8M1152.7 339.5v14.1m-3.4 0h6.8m0 -14.1h-6.8M1153.3 334.3v14.1m-3.4 0h6.8m0 -14.1h-6.8M1153.9 332.7v14.1m-3.4 0h6.8m0 -14.1h-6.8M1154.5 348.4v14.1m-3.4 0h6.8m0 -14.1h-6.8M1155.2 341.4v14.1m-3.4 0h6.8m0 -14.1h-6.8M1155.8 344.5v14.1m-3.4 0h6.8m0 -14.1h-6.8M1156.4 346.7v14.1m-3.4 0h6.8m0 -14.1h-6.8M1157.0 347.6v14.1m-3.4 0h6.8m0 -14.1h-6.8M1157.7 350.8v14.1m-3.4 0h6.8m0 -14.1h-6.8M1158.3 345.1v14.1m-3.4 0h6.8m0 -14.1h-6.8M1158.9 350.3v14.1m-3.4 0h6.8m0 -14.1h-6.8M1159.5 352.5v14.1m-3.4 0h6.8m0 -14.1h-6.8M1160.2 349.5v14.1m-3.4 0h6.8m0 -14.1h-6.8M1160.8 351.4v14.1m-3.4 0h6.8m0 -14.1h-6.8M1161.4 353.7v14.1m-3.4 0h6.8m0 -14.1h-6.8M1162.0 354.8v14.1m-3.4 0h6.8m0 -14.1h-6.8M1162.7 349.2v14.1m-3.4 0h6.8m0 -14.1h-6.8M1163.3 355.7v14.1m-3.4 0h6.8m0 -14.1h-6.8M1163.9 359.9v14.1m-3.4 0h6.8m0 -14.1h-6.8M1164.5 364.8v14.1m-3.4 0h6.8m0 -14.1h-6.8M1165.2 364.3v14.1m-3.4 0h6.8m0 -14.1h-6.8M1165.8 368.9v14.1m-3.4 0h6.8m0 -14.1h-6.8M1166.4 365.6v14.1m-3.4 0h6.8m0 -14.1h-6.8M1167.0 366.7v14.1m-3.4 0h6.8m0 -14.1h-6.8M1167.7 377.9v14.1m-3.4 0h6.8m0 -14.1h-6.8M1168.3 370.7v14.1m-3.4 0h6.8m0 -14.1h-6.8M1168.9 369.6v14.1m-3.4 0h6.8m0 -14.1h-6.8M1169.5 373.1v14.1m-3.4 0h6.8m0 -14.1h-6.8M1170.2 379.4v14.1m-3.4 0h6.8m0 -14.1h-6.8M1170.8 371.5v14.1m-3.4 0h6.8m0 -14.1h-6.8M1171.4 381.1v14.1m-3.4 0h6.8m0 -14.1h-6.8M1172.0 384.0v14.1m-3.4 0h6.8m0 -14.1h-6.8M1172.7 384.0v14.1m-3.4 0h6.8m0 -14.1h-6.8M1173.3 380.2v14.1m-3.4 0h6.8m0 -14.1h-6.8M1173.9 376.6v14.1m-3.4 0h6.8m0 -14.1h-6.8M1174.5 376.4v14.1m-3.4 0h6.8m0 -14.1h-6.8M1175.2 380.9v14.1m-3.4 0h6.8m0 -14.1h-6.8M1175.8 387.2v14.1m-3.4 0h6.8m0 -14.1h-6.8M1176.4 385.3v14.1m-3.4 0h6.8m0 -14.1h-6.8M1177.0 386.7v14.1m-3.4 0h6.8m0 -14.1h-6.8M1177.7 384.1v14.1m-3.4 0h6.8m0 -14.1h-6.8M1178.3 391.2v14.1m-3.4 0h6.8m0 -14.1h-6.8M1178.9 384.1v14.1m-3.4 0h6.8m0 -14.1h-6.8M1179.5 383.2v14.1m-3.4 0h6.8m0 -14.1h-6.8M1180.1 387.9v14.1m-3.4 0h6.8m0 -14.1h-6.8M1180.8 386.5v14.1m-3.4 0h6.8m0 -14.1h-6.8M1181.4 392.5v14.1m-3.4 0h6.8m0 -14.1h-6.8M1182.0 394.8v14.1m-3.4 0h6.8m0 -14.1h-6.8M1182.6 391.5v14.1m-3.4 0h6.8m0 -14.1h-6.8M1183.3 384.0v14.1m-3.4 0h6.8m0 -14.1h-6.8M1183.9 384.8v14.1m-3.4 0h6.8m0 -14.1h-6.8M1184.5 392.2v14.1m-3.4 0h6.8m0 -14.1h-6.8M1185.1 386.3v14.1m-3.4 0h6.8m0 -14.1h-6.8M1185.8 393.8v14.1m-3.4 0h6.8m0 -14.1h-6.8M1186.4 387.1v14.1m-3.4 0h6.8m0 -14.1h-6.8M1187.0 392.8v14.1m-3.4 0h6.8m0 -14.1h-6.8M1187.6 399.0v14.1m-3.4 0h6.8m0 -14.1h-6.8M1188.3 396.0v14.1m-3.4 0h6.8m0 -14.1h-6.8M1188.9 404.9v14.1m-3.4 0h6.8m0 -14.1h-6.8M1189.5 405.3v14.1m-3.4 0h6.8m0 -14.1h-6.8M1190.1 406.6v14.1m-3.4 0h6.8m0 -14.1h-6.8M1190.8 398.5v14.1m-3.4 0h6.8m0 -14.1h-6.8M1191.4 398.9v14.1m-3.4 0h6.8m0 -14.1h-6.8M1192.0 398.1v14.1m-3.4 0h6.8m0 -14.1h-6.8M1192.6 400.0v14.1m-3.4 0h6.8m0 -14.1h-6.8M1193.3 392.9v14.1m-3.4 0h6.8m0 -14.1h-6.8M1193.9 401.5v14.1m-3.4 0h6.8m0 -14.1h-6.8M1194.5 403.6v14.1m-3.4 0h6.8m0 -14.1h-6.8M1195.1 396.0v14.1m-3.4 0h6.8m0 -14.1h-6.8M1195.8 396.0v14.1m-3.4 0h6.8m0 -14.1h-6.8M1196.4 401.3v14.1m-3.4 0h6.8m0 -14.1h-6.8M1197.0 410.9v14.1m-3.4 0h6.8m0 -14.1h-6.8M1197.6 406.6v14.1m-3.4 0h6.8m0 -14.1h-6.8M1198.3 401.9v14.1m-3.4 0h6.8m0 -14.1h-6.8M1198.9 404.8v14.1m-3.4 0h6.8m0 -14.1h-6.8M1199.5 398.7v14.1m-3.4 0h6.8m0 -14.1h-6.8M1200.1 411.4v14.1m-3.4 0h6.8m0 -14.1h-6.8M1200.8 402.9v14.1m-3.4 0h6.8m0 -14.1h-6.8M1201.4 408.2v14.1m-3.4 0h6.8m0 -14.1h-6.8M1202.0 399.8v14.1m-3.4 0h6.8m0 -14.1h-6.8M1202.6 405.5v14.1m-3.4 0h6.8m0 -14.1h-6.8M1203.3 400.6v14.1m-3.4 0h6.8m0 -14.1h-6.8M1203.9 407.5v14.1m-3.4 0h6.8m0 -14.1h-6.8M1204.5 410.5v14.1m-3.4 0h6.8m0 -14.1h-6.8M1205.1 410.1v14.1m-3.4 0h6.8m0 -14.1h-6.8M1205.8 409.1v14.1m-3.4 0h6.8m0 -14.1h-6.8M1206.4 412.1v14.1m-3.4 0h6.8m0 -14.1h-6.8M1207.0 403.8v14.1m-3.4 0h6.8m0 -14.1h-6.8M1207.6 404.4v14.1m-3.4 0h6.8m0 -14.1h-6.8M1208.3 410.3v14.1m-3.4 0h6.8m0 -14.1h-6.8M1208.9 417.3v14.1m-3.4 0h6.8m0 -14.1h-6.8M1209.5 414.9v14.1m-3.4 0h6.8m0 -14.1h-6.8M1210.1 418.8v14.1m-3.4 0h6.8m0 -14.1h-6.8M1210.8 411.2v14.1m-3.4 0h6.8m0 -14.1h-6.8M1211.4 417.1v14.1m-3.4 0h6.8m0 -14.1h-6.8M1212.0 417.4v14.1m-3.4 0h6.8m0 -14.1h-6.8M1212.6 422.1v14.1m-3.4 0h6.8m0 -14.1h-6.8M1213.2 429.9v14.1m-3.4 0h6.8m0 -14.1h-6.8M1213.9 425.6v14.1m-3.4 0h6.8m0 -14.1h-6.8M1214.5 427.2v14.1m-3.4 0h6.8m0 -14.1h-6.8M1215.1 420.7v14.1m-3.4 0h6.8m0 -14.1h-6.8M1215.7 421.6v14.1m-3.4 0h6.8m0 -14.1h-6.8M1216.4 425.4v14.1m-3.4 0h6.8m0 -14.1h-6.8M1217.0 424.2v14.1m-3.4 0h6.8m0 -14.1h-6.8M1217.6 416.4v14.1m-3.4 0h6.8m0 -14.1h-6.8M1218.2 427.5v14.1m-3.4 0h6.8m0 -14.1h-6.8M1218.9 427.8v14.1m-3.4 0h6.8m0 -14.1h-6.8M1219.5 425.4v14.1m-3.4 0h6.8m0 -14.1h-6.8M1220.1 427.9v14.1m-3.4 0h6.8m0 -14.1h-6.8M1220.7 427.2v14.1m-3.4 0h6.8m0 -14.1h-6.8M1221.4 423.5v14.1m-3.4 0h6.8m0 -14.1h-6.8M1222.0 418.9v14.1m-3.4 0h6.8m0 -14.1h-6.8M1222.6 434.1v14.1m-3.4 0h6.8m0 -14.1h-6.8M1223.2 427.1v14.1m-3.4 0h6.8m0 -14.1h-6.8M1223.9 427.3v14.1m-3.4 0h6.8m0 -14.1h-6.8M1224.5 428.2v14.1m-3.4 0h6.8m0 -14.1h-6.8M1225.1 428.9v14.1m-3.4 0h6.8m0 -14.1h-6.8M1225.7 429.8v14.1m-3.4 0h6.8m0 -14.1h-6.8M1226.4 424.4v14.1m-3.4 0h6.8m0 -14.1h-6.8M1227.0 430.8v14.1m-3.4 0h6.8m0 -14.1h-6.8M1227.6 429.7v14.1m-3.4 0h6.8m0 -14.1h-6.8M1228.2 430.3v14.1m-3.4 0h6.8m0 -14.1h-6.8M1228.9 431.0v14.1m-3.4 0h6.8m0 -14.1h-6.8M1229.5 433.4v14.1m-3.4 0h6.8m0 -14.1h-6.8M1230.1 429.6v14.1m-3.4 0h6.8m0 -14.1h-6.8M1230.7 435.0v14.1m-3.4 0h6.8m0 -14.1h-6.8M1231.4 435.4v14.1m-3.4 0h6.8m0 -14.1h-6.8M1232.0 437.5v14.1m-3.4 0h6.8m0 -14.1h-6.8M1232.6 442.5v14.1m-3.4 0h6.8m0 -14.1h-6.8M1233.2 442.8v14.1m-3.4 0h6.8m0 -14.1h-6.8M1233.9 444.7v14.1m-3.4 0h6.8m0 -14.1h-6.8M1234.5 440.4v14.1m-3.4 0h6.8m0 -14.1h-6.8M1235.1 445.3v14.1m-3.4 0h6.8m0 -14.1h-6.8M1235.7 447.7v14.1m-3.4 0h6.8m0 -14.1h-6.8M1236.4 442.7v14.1m-3.4 0h6.8m0 -14.1h-6.8M1237.0 441.7v14.1m-3.4 0h6.8m0 -14.1h-6.8M1237.6 451.5v14.1m-3.4 0h6.8m0 -14.1h-6.8M1238.2 437.1v14.1m-3.4 0h6.8m0 -14.1h-6.8M1238.9 444.3v14.1m-3.4 0h6.8m0 -14.1h-6.8M1239.5 445.0v14.1m-3.4 0h6.8m0 -14.1h-6.8M1240.1 440.3v14.1m-3.4 0h6.8m0 -14.1h-6.8M1240.7 444.5v14.1m-3.4 0h6.8m0 -14.1h-6.8M1241.4 447.3v14.1m-3.4 0h6.8m0 -14.1h-6.8M1242.0 435.5v14.1m-3.4 0h6.8m0 -14.1h-6.8M1242.6 449.3v14.1m-3.4 0h6.8m0 -14.1h-6.8M1243.2 445.2v14.1m-3.4 0h6.8m0 -14.1h-6.8M1243.8 441.9v14.1m-3.4 0h6.8m0 -14.1h-6.8M1244.5 450.8v14.1m-3.4 0h6.8m0 -14.1h-6.8M1245.1 447.5v14.1m-3.4 0h6.8m0 -14.1h-6.8M1245.7 446.2v14.1m-3.4 0h6.8m0 -14.1h-6.8M1246.3 438.5v14.1m-3.4 0h6.8m0 -14.1h-6.8M1247.0 453.2v14.1m-3.4 0h6.8m0 -14.1h-6.8M1247.6 450.4v14.1m-3.4 0h6.8m0 -14.1h-6.8M1248.2 448.3v14.1m-3.4 0h6.8m0 -14.1h-6.8M1248.8 451.5v14.1m-3.4 0h6.8m0 -14.1h-6.8M1249.5 457.7v14.1m-3.4 0h6.8m0 -14.1h-6.8M1250.1 451.7v14.1m-3.4 0h6.8m0 -14.1h-6.8M1250.7 453.8v14.1m-3.4 0h6.8m0 -14.1h-6.8M1251.3 453.2v14.1m-3.4 0h6.8m0 -14.1h-6.8M1252.0 450.3v14.1m-3.4 0h6.8m0 -14.1h-6.8M1252.6 450.2v14.1m-3.4 0h6.8m0 -14.1h-6.8M1253.2 452.2v14.1m-3.4 0h6.8m0 -14.1h-6.8M1253.8 452.0v14.1m-3.4 0h6.8m0 -14.1h-6.8M1254.5 457.4v14.1m-3.4 0h6.8m0 -14.1h-6.8M1255.1 452.6v14.1m-3.4 0h6.8m0 -14.1h-6.8M1255.7 450.4v14.1m-3.4 0h6.8m0 -14.1h-6.8M1256.3 452.2v14.1m-3.4 0h6.8m0 -14.1h-6.8M1257.0 449.4v14.1m-3.4 0h6.8m0 -14.1h-6.8M1257.6 452.5v14.1m-3.4 0h6.8m0 -14.1h-6.8M1258.2 442.4v14.1m-3.4 0h6.8m0 -14.1h-6.8M1258.8 440.3v14.1m-3.4 0h6.8m0 -14.1h-6.8M1259.5 451.4v14.1m-3.4 0h6.8m0 -14.1h-6.8M1260.1 448.5v14.1m-3.4 0h6.8m0 -14.1h-6.8M1260.7 451.6v14.1m-3.4 0h6.8m0 -14.1h-6.8M1261.3 445.7v14.1m-3.4 0h6.8m0 -14.1h-6.8M1262.0 449.6v14.1m-3.4 0h6.8m0 -14.1h-6.8M1262.6 451.6v14.1m-3.4 0h6.8m0 -14.1h-6.8M1263.2 453.5v14.1m-3.4 0h6.8m0 -14.1h-6.8M1263.8 452.6v14.1m-3.4 0h6.8m0 -14.1h-6.8M1264.5 457.9v14.1m-3.4 0h6.8m0 -14.1h-6.8M1265.1 451.3v14.1m-3.4 0h6.8m0 -14.1h-6.8M1265.7 457.8v14.1m-3.4 0h6.8m0 -14.1h-6.8M1266.3 452.8v14.1m-3.4 0h6.8m0 -14.1h-6.8M1267.0 454.1v14.1m-3.4 0h6.8m0 -14.1h-6.8M1267.6 449.6v14.1m-3.4 0h6.8m0 -14.1h-6.8M1268.2 453.8v14.1m-3.4 0h6.8m0 -14.1h-6.8M1268.8 449.0v14.1m-3.4 0h6.8m0 -14.1h-6.8M1269.5 456.8v14.1m-3.4 0h6.8m0 -14.1h-6.8M1270.1 450.0v14.1m-3.4 0h6.8m0 -14.1h-6.8M1270.7 453.2v14.1m-3.4 0h6.8m0 -14.1h-6.8M1271.3 451.1v14.1m-3.4 0h6.8m0 -14.1h-6.8M1272.0 451.4v14.1m-3.4 0h6.8m0 -14.1h-6.8M1272.6 447.4v14.1m-3.4 0h6.8m0 -14.1h-6.8M1273.2 459.9v14.1m-3.4 0h6.8m0 -14.1h-6.8M1273.8 450.0v14.1m-3.4 0h6.8m0 -14.1h-6.8M1274.4 457.6v14.1m-3.4 0h6.8m0 -14.1h-6.8M1275.1 446.2v14.1m-3.4 0h6.8m0 -14.1h-6.8M1275.7 459.6v14.1m-3.4 0h6.8m0 -14.1h-6.8M1276.3 455.5v14.1m-3.4 0h6.8m0 -14.1h-6.8M1276.9 458.5v14.1m-3.4 0h6.8m0 -14.1h-6.8M1277.6 445.0v14.1m-3.4 0h6.8m0 -14.1h-6.8M1278.2 457.8v14.1m-3.4 0h6.8m0 -14.1h-6.8M1278.8 452.3v14.1m-3.4 0h6.8m0 -14.1h-6.8M1279.4 455.5v14.1m-3.4 0h6.8m0 -14.1h-6.8M1280.1 461.3v14.1m-3.4 0h6.8m0 -14.1h-6.8M1280.7 455.6v14.1m-3.4 0h6.8m0 -14.1h-6.8M1281.3 452.1v14.1m-3.4 0h6.8m0 -14.1h-6.8M1281.9 456.5v14.1m-3.4 0h6.8m0 -14.1h-6.8M1282.6 452.5v14.1m-3.4 0h6.8m0 -14.1h-6.8M1283.2 458.8v14.1m-3.4 0h6.8m0 -14.1h-6.8M1283.8 458.1v14.1m-3.4 0h6.8m0 -14.1h-6.8M1284.4 460.5v14.1m-3.4 0h6.8m0 -14.1h-6.8M1285.1 458.3v14.1m-3.4 0h6.8m0 -14.1h-6.8M1285.7 452.5v14.1m-3.4 0h6.8m0 -14.1h-6.8M1286.3 459.8v14.1m-3.4 0h6.8m0 -14.1h-6.8M1286.9 461.3v14.1m-3.4 0h6.8m0 -14.1h-6.8M1287.6 465.5v14.1m-3.4 0h6.8m0 -14.1h-6.8M1288.2 466.9v14.1m-3.4 0h6.8m0 -14.1h-6.8M1288.8 457.8v14.1m-3.4 0h6.8m0 -14.1h-6.8M1289.4 469.0v14.1m-3.4 0h6.8m0 -14.1h-6.8M1290.1 468.5v14.1m-3.4 0h6.8m0 -14.1h-6.8M1290.7 465.3v14.1m-3.4 0h6.8m0 -14.1h-6.8M1291.3 467.0v14.1m-3.4 0h6.8m0 -14.1h-6.8M1291.9 456.3v14.1m-3.4 0h6.8m0 -14.1h-6.8M1292.6 474.0v14.1m-3.4 0h6.8m0 -14.1h-6.8M1293.2 461.9v14.1m-3.4 0h6.8m0 -14.1h-6.8M1293.8 459.9v14.1m-3.4 0h6.8m0 -14.1h-6.8M1294.4 467.2v14.1m-3.4 0h6.8m0 -14.1h-6.8M1295.1 466.3v14.1m-3.4 0h6.8m0 -14.1h-6.8M1295.7 462.9v14.1m-3.4 0h6.8m0 -14.1h-6.8M1296.3 459.1v14.1m-3.4 0h6.8m0 -14.1h-6.8M1296.9 471.0v14.1m-3.4 0h6.8m0 -14.1h-6.8M1297.6 474.9v14.1m-3.4 0h6.8m0 -14.1h-6.8M1298.2 465.1v14.1m-3.4 0h6.8m0 -14.1h-6.8M1298.8 463.7v14.1m-3.4 0h6.8m0 -14.1h-6.8M1299.4 472.5v14.1m-3.4 0h6.8m0 -14.1h-6.8M1300.1 481.4v14.1m-3.4 0h6.8m0 -14.1h-6.8M1300.7 466.8v14.1m-3.4 0h6.8m0 -14.1h-6.8M1301.3 473.5v14.1m-3.4 0h6.8m0 -14.1h-6.8M1301.9 467.7v14.1m-3.4 0h6.8m0 -14.1h-6.8M1302.6 472.3v14.1m-3.4 0h6.8m0 -14.1h-6.8M1303.2 473.5v14.1m-3.4 0h6.8m0 -14.1h-6.8M1303.8 473.6v14.1m-3.4 0h6.8m0 -14.1h-6.8M1304.4 465.2v14.1m-3.4 0h6.8m0 -14.1h-6.8M1305.0 465.1v14.1m-3.4 0h6.8m0 -14.1h-6.8M1305.7 479.9v14.1m-3.4 0h6.8m0 -14.1h-6.8M1306.3 474.5v14.1m-3.4 0h6.8m0 -14.1h-6.8M1306.9 462.6v14.1m-3.4 0h6.8m0 -14.1h-6.8M1307.5 471.3v14.1m-3.4 0h6.8m0 -14.1h-6.8M1308.2 475.2v14.1m-3.4 0h6.8m0 -14.1h-6.8M1308.8 469.0v14.1m-3.4 0h6.8m0 -14.1h-6.8M1309.4 469.1v14.1m-3.4 0h6.8m0 -14.1h-6.8M1310.0 468.7v14.1m-3.4 0h6.8m0 -14.1h-6.8M1310.7 469.6v14.1m-3.4 0h6.8m0 -14.1h-6.8M1311.3 468.2v14.1m-3.4 0h6.8m0 -14.1h-6.8M1311.9 468.1v14.1m-3.4 0h6.8m0 -14.1h-6.8M1312.5 464.1v14.1m-3.4 0h6.8m0 -14.1h-6.8M1313.2 468.2v14.1m-3.4 0h6.8m0 -14.1h-6.8M1313.8 465.3v14.1m-3.4 0h6.8m0 -14.1h-6.8M1314.4 464.3v14.1m-3.4 0h6.8m0 -14.1h-6.8M1315.0 458.3v14.1m-3.4 0h6.8m0 -14.1h-6.8M1315.7 462.4v14.1m-3.4 0h6.8m0 -14.1h-6.8M1316.3 464.6v14.1m-3.4 0h6.8m0 -14.1h-6.8M1316.9 462.0v14.1m-3.4 0h6.8m0 -14.1h-6.8M1317.5 462.7v14.1m-3.4 0h6.8m0 -14.1h-6.8M1318.2 459.9v14.1m-3.4 0h6.8m0 -14.1h-6.8M1318.8 462.5v14.1m-3.4 0h6.8m0 -14.1h-6.8M1319.4 457.2v14.1m-3.4 0h6.8m0 -14.1h-6.8M1320.0 459.2v14.1m-3.4 0h6.8m0 -14.1h-6.8M1320.7 465.1v14.1m-3.4 0h6.8m0 -14.1h-6.8M1321.3 466.8v14.1m-3.4 0h6.8m0 -14.1h-6.8M1321.9 461.4v14.1m-3.4 0h6.8m0 -14.1h-6.8M1322.5 463.1v14.1m-3.4 0h6.8m0 -14.1h-6.8M1323.2 465.7v14.1m-3.4 0h6.8m0 -14.1h-6.8M1323.8 471.7v14.1m-3.4 0h6.8m0 -14.1h-6.8M1324.4 473.3v14.1m-3.4 0h6.8m0 -14.1h-6.8M1325.0 464.1v14.1m-3.4 0h6.8m0 -14.1h-6.8M1325.7 462.3v14.1m-3.4 0h6.8m0 -14.1h-6.8M1326.3 462.1v14.1m-3.4 0h6.8m0 -14.1h-6.8M1326.9 470.9v14.1m-3.4 0h6.8m0 -14.1h-6.8M1327.5 461.0v14.1m-3.4 0h6.8m0 -14.1h-6.8M1328.2 467.6v14.1m-3.4 0h6.8m0 -14.1h-6.8M1328.8 463.7v14.1m-3.4 0h6.8m0 -14.1h-6.8M1329.4 464.9v14.1m-3.4 0h6.8m0 -14.1h-6.8M1330.0 471.6v14.1m-3.4 0h6.8m0 -14.1h-6.8M1330.7 472.2v14.1m-3.4 0h6.8m0 -14.1h-6.8M1331.3 480.0v14.1m-3.4 0h6.8m0 -14.1h-6.8M1331.9 476.6v14.1m-3.4 0h6.8m0 -14.1h-6.8M1332.5 481.8v14.1m-3.4 0h6.8m0 -14.1h-6.8M1333.2 473.8v14.1m-3.4 0h6.8m0 -14.1h-6.8M1333.8 476.6v14.1m-3.4 0h6.8m0 -14.1h-6.8M1334.4 474.2v14.1m-3.4 0h6.8m0 -14.1h-6.8M1335.0 477.8v14.1m-3.4 0h6.8m0 -14.1h-6.8M1335.7 483.2v14.1m-3.4 0h6.8m0 -14.1h-6.8M1336.3 480.0v14.1m-3.4 0h6.8m0 -14.1h-6.8M1336.9 483.2v14.1m-3.4 0h6.8m0 -14.1h-6.8M1337.5 479.1v14.1m-3.4 0h6.8m0 -14.1h-6.8M1338.1 480.5v14.1m-3.4 0h6.8m0 -14.1h-6.8M1338.8 486.1v14.1m-3.4 0h6.8m0 -14.1h-6.8M1339.4 482.0v14.1m-3.4 0h6.8m0 -14.1h-6.8M1340.0 481.9v14.1m-3.4 0h6.8m0 -14.1h-6.8M1340.6 483.8v14.1m-3.4 0h6.8m0 -14.1h-6.8M1341.3 479.3v14.1m-3.4 0h6.8m0 -14.1h-6.8M1341.9 476.4v14.1m-3.4 0h6.8m0 -14.1h-6.8M1342.5 485.7v14.1m-3.4 0h6.8m0 -14.1h-6.8M1343.1 486.2v14.1m-3.4 0h6.8m0 -14.1h-6.8M1343.8 494.7v14.1m-3.4 0h6.8m0 -14.1h-6.8M1344.4 486.1v14.1m-3.4 0h6.8m0 -14.1h-6.8M1345.0 487.7v14.1m-3.4 0h6.8m0 -14.1h-6.8M1345.6 495.4v14.1m-3.4 0h6.8m0 -14.1h-6.8M1346.3 485.3v14.1m-3.4 0h6.8m0 -14.1h-6.8M1346.9 484.4v14.1m-3.4 0h6.8m0 -14.1h-6.8M1347.5 490.4v14.1m-3.4 0h6.8m0 -14.1h-6.8M1348.1 489.2v14.1m-3.4 0h6.8m0 -14.1h-6.8M1348.8 492.0v14.1m-3.4 0h6.8m0 -14.1h-6.8M1349.4 485.1v14.1m-3.4 0h6.8m0 -14.1h-6.8M1350.0 495.0v14.1m-3.4 0h6.8m0 -14.1h-6.8M1350.6 490.3v14.1m-3.4 0h6.8m0 -14.1h-6.8M1351.3 481.1v14.1m-3.4 0h6.8m0 -14.1h-6.8M1351.9 489.4v14.1m-3.4 0h6.8m0 -14.1h-6.8M1352.5 488.2v14.1m-3.4 0h6.8m0 -14.1h-6.8M1353.1 491.4v14.1m-3.4 0h6.8m0 -14.1h-6.8M1353.8 496.3v14.1m-3.4 0h6.8m0 -14.1h-6.8M1354.4 492.1v14.1m-3.4 0h6.8m0 -14.1h-6.8M1355.0 490.8v14.1m-3.4 0h6.8m0 -14.1h-6.8M1355.6 497.4v14.1m-3.4 0h6.8m0 -14.1h-6.8M1356.3 492.1v14.1m-3.4 0h6.8m0 -14.1h-6.8M1356.9 488.4v14.1m-3.4 0h6.8m0 -14.1h-6.8M1357.5 489.2v14.1m-3.4 0h6.8m0 -14.1h-6.8M1358.1 500.5v14.1m-3.4 0h6.8m0 -14.1h-6.8M1358.8 498.1v14.1m-3.4 0h6.8m0 -14.1h-6.8M1359.4 500.9v14.1m-3.4 0h6.8m0 -14.1h-6.8M1360.0 489.6v14.1m-3.4 0h6.8m0 -14.1h-6.8M1360.6 491.4v14.1m-3.4 0h6.8m0 -14.1h-6.8M1361.3 490.5v14.1m-3.4 0h6.8m0 -14.1h-6.8M1361.9 496.6v14.1m-3.4 0h6.8m0 -14.1h-6.8M1362.5 497.3v14.1m-3.4 0h6.8m0 -14.1h-6.8M1363.1 491.5v14.1m-3.4 0h6.8m0 -14.1h-6.8M1363.8 490.9v14.1m-3.4 0h6.8m0 -14.1h-6.8M1364.4 494.4v14.1m-3.4 0h6.8m0 -14.1h-6.8M1365.0 490.5v14.1m-3.4 0h6.8m0 -14.1h-6.8M1365.6 488.9v14.1m-3.4 0h6.8m0 -14.1h-6.8M1366.3 491.2v14.1m-3.4 0h6.8m0 -14.1h-6.8M1366.9 497.1v14.1m-3.4 0h6.8m0 -14.1h-6.8M1367.5 502.1v14.1m-3.4 0h6.8m0 -14.1h-6.8M1368.1 495.7v14.1m-3.4 0h6.8m0 -14.1h-6.8M1368.7 495.6v14.1m-3.4 0h6.8m0 -14.1h-6.8M1369.4 499.0v14.1m-3.4 0h6.8m0 -14.1h-6.8M1370.0 501.4v14.1m-3.4 0h6.8m0 -14.1h-6.8M1370.6 504.1v14.1m-3.4 0h6.8m0 -14.1h-6.8M1371.2 499.1v14.1m-3.4 0h6.8m0 -14.1h-6.8M1371.9 503.0v14.1m-3.4 0h6.8m0 -14.1h-6.8M1372.5 503.0v14.1m-3.4 0h6.8m0 -14.1h-6.8M1373.1 508.3v14.1m-3.4 0h6.8m0 -14.1h-6.8M1373.7 507.5v14.1m-3.4 0h6.8m0 -14.1h-6.8M1374.4 504.9v14.1m-3.4 0h6.8m0 -14.1h-6.8M1375.0 510.5v14.1m-3.4 0h6.8m0 -14.1h-6.8M1375.6 512.6v14.1m-3.4 0h6.8m0 -14.1h-6.8M1376.2 509.8v14.1m-3.4 0h6.8m0 -14.1h-6.8M1376.9 504.4v14.1m-3.4 0h6.8m0 -14.1h-6.8M1377.5 509.7v14.1m-3.4 0h6.8m0 -14.1h-6.8M1378.1 505.4v14.1m-3.4 0h6.8m0 -14.1h-6.8M1378.7 513.2v14.1m-3.4 0h6.8m0 -14.1h-6.8M1379.4 515.0v14.1m-3.4 0h6.8m0 -14.1h-6.8M1380.0 520.6v14.1m-3.4 0h6.8m0 -14.1h-6.8M1380.6 517.4v14.1m-3.4 0h6.8m0 -14.1h-6.8M1381.2 508.8v14.1m-3.4 0h6.8m0 -14.1h-6.8M1381.9 513.4v14.1m-3.4 0h6.8m0 -14.1h-6.8M1382.5 511.6v14.1m-3.4 0h6.8m0 -14.1h-6.8M1383.1 511.6v14.1m-3.4 0h6.8m0 -14.1h-6.8M1383.7 514.5v14.1m-3.4 0h6.8m0 -14.1h-6.8M1384.4 515.3v14.1m-3.4 0h6.8m0 -14.1h-6.8M1385.0 513.8v14.1m-3.4 0h6.8m0 -14.1h-6.8M1385.6 511.4v14.1m-3.4 0h6.8m0 -14.1h-6.8M1386.2 512.3v14.1m-3.4 0h6.8m0 -14.1h-6.8M1386.9 512.1v14.1m-3.4 0h6.8m0 -14.1h-6.8M1387.5 513.5v14.1m-3.4 0h6.8m0 -14.1h-6.8M1388.1 517.4v14.1m-3.4 0h6.8m0 -14.1h-6.8M1388.7 515.3v14.1m-3.4 0h6.8m0 -14.1h-6.8M1389.4 518.1v14.1m-3.4 0h6.8m0 -14.1h-6.8M1390.0 509.9v14.1m-3.4 0h6.8m0 -14.1h-6.8M1390.6 523.0v14.1m-3.4 0h6.8m0 -14.1h-6.8M1391.2 513.3v14.1m-3.4 0h6.8m0 -14.1h-6.8M1391.9 500.6v14.1m-3.4 0h6.8m0 -14.1h-6.8M1392.5 510.5v14.1m-3.4 0h6.8m0 -14.1h-6.8M1393.1 512.1v14.1m-3.4 0h6.8m0 -14.1h-6.8M1393.7 505.7v14.1m-3.4 0h6.8m0 -14.1h-6.8M1394.4 501.0v14.1m-3.4 0h6.8m0 -14.1h-6.8M1395.0 508.0v14.1m-3.4 0h6.8m0 -14.1h-6.8M1395.6 505.6v14.1m-3.4 0h6.8m0 -14.1h-6.8M1396.2 508.6v14.1m-3.4 0h6.8m0 -14.1h-6.8M1396.9 511.4v14.1m-3.4 0h6.8m0 -14.1h-6.8M1397.5 497.4v14.1m-3.4 0h6.8m0 -14.1h-6.8M1398.1 511.2v14.1m-3.4 0h6.8m0 -14.1h-6.8M1398.7 514.4v14.1m-3.4 0h6.8m0 -14.1h-6.8M1399.3 514.9v14.1m-3.4 0h6.8m0 -14.1h-6.8M1400.0 511.9v14.1m-3.4 0h6.8m0 -14.1h-6.8M1400.6 512.4v14.1m-3.4 0h6.8m0 -14.1h-6.8M1401.2 511.5v14.1m-3.4 0h6.8m0 -14.1h-6.8M1401.8 514.9v14.1m-3.4 0h6.8m0 -14.1h-6.8M1402.5 522.2v14.1m-3.4 0h6.8m0 -14.1h-6.8M1403.1 514.6v14.1m-3.4 0h6.8m0 -14.1h-6.8M1403.7 518.8v14.1m-3.4 0h6.8m0 -14.1h-6.8M1404.3 519.4v14.1m-3.4 0h6.8m0 -14.1h-6.8M1405.0 525.1v14.1m-3.4 0h6.8m0 -14.1h-6.8M1405.6 522.0v14.1m-3.4 0h6.8m0 -14.1h-6.8M1406.2 523.3v14.1m-3.4 0h6.8m0 -14.1h-6.8M1406.8 521.1v14.1m-3.4 0h6.8m0 -14.1h-6.8M1407.5 527.7v14.1m-3.4 0h6.8m0 -14.1h-6.8M1408.1 522.1v14.1m-3.4 0h6.8m0 -14.1h-6.8M1408.7 521.5v14.1m-3.4 0h6.8m0 -14.1h-6.8M1409.3 525.7v14.1m-3.4 0h6.8m0 -14.1h-6.8M1410.0 522.7v14.1m-3.4 0h6.8m0 -14.1h-6.8M1410.6 522.7v14.1m-3.4 0h6.8m0 -14.1h-6.8M1411.2 514.2v14.1m-3.4 0h6.8m0 -14.1h-6.8M1411.8 527.8v14.1m-3.4 0h6.8m0 -14.1h-6.8M1412.5 517.6v14.1m-3.4 0h6.8m0 -14.1h-6.8M1413.1 523.1v14.1m-3.4 0h6.8m0 -14.1h-6.8M1413.7 518.1v14.1m-3.4 0h6.8m0 -14.1h-6.8M1414.3 512.8v14.1m-3.4 0h6.8m0 -14.1h-6.8M1415.0 519.1v14.1m-3.4 0h6.8m0 -14.1h-6.8M1415.6 516.0v14.1m-3.4 0h6.8m0 -14.1h-6.8M1416.2 520.3v14.1m-3.4 0h6.8m0 -14.1h-6.8M1416.8 508.6v14.1m-3.4 0h6.8m0 -14.1h-6.8M1417.5 513.0v14.1m-3.4 0h6.8m0 -14.1h-6.8M1418.1 512.2v14.1m-3.4 0h6.8m0 -14.1h-6.8M1418.7 522.7v14.1m-3.4 0h6.8m0 -14.1h-6.8M1419.3 521.8v14.1m-3.4 0h6.8m0 -14.1h-6.8M1420.0 512.6v14.1m-3.4 0h6.8m0 -14.1h-6.8M1420.6 518.0v14.1m-3.4 0h6.8m0 -14.1h-6.8M1421.2 518.3v14.1m-3.4 0h6.8m0 -14.1h-6.8M1421.8 515.8v14.1m-3.4 0h6.8m0 -14.1h-6.8M1422.5 523.4v14.1m-3.4 0h6.8m0 -14.1h-6.8M1423.1 515.7v14.1m-3.4 0h6.8m0 -14.1h-6.8M1423.7 519.8v14.1m-3.4 0h6.8m0 -14.1h-6.8M1424.3 518.8v14.1m-3.4 0h6.8m0 -14.1h-6.8M1425.0 524.6v14.1m-3.4 0h6.8m0 -14.1h-6.8M1425.6 520.5v14.1m-3.4 0h6.8m0 -14.1h-6.8M1426.2 526.5v14.1m-3.4 0h6.8m0 -14.1h-6.8M1426.8 519.9v14.1m-3.4 0h6.8m0 -14.1h-6.8M1427.5 519.6v14.1m-3.4 0h6.8m0 -14.1h-6.8M1428.1 521.0v14.1m-3.4 0h6.8m0 -14.1h-6.8M1428.7 523.1v14.1m-3.4 0h6.8m0 -14.1h-6.8M1429.3 523.1v14.1m-3.4 0h6.8m0 -14.1h-6.8M1429.9 537.6v14.1m-3.4 0h6.8m0 -14.1h-6.8M1430.6 523.1v14.1m-3.4 0h6.8m0 -14.1h-6.8M1431.2 528.2v14.1m-3.4 0h6.8m0 -14.1h-6.8M1431.8 527.1v14.1m-3.4 0h6.8m0 -14.1h-6.8M1432.4 529.1v14.1m-3.4 0h6.8m0 -14.1h-6.8M1433.1 534.2v14.1m-3.4 0h6.8m0 -14.1h-6.8M1433.7 531.1v14.1m-3.4 0h6.8m0 -14.1h-6.8M1434.3 526.4v14.1m-3.4 0h6.8m0 -14.1h-6.8M1434.9 523.7v14.1m-3.4 0h6.8m0 -14.1h-6.8M1435.6 532.7v14.1m-3.4 0h6.8m0 -14.1h-6.8M1436.2 534.4v14.1m-3.4 0h6.8m0 -14.1h-6.8M1436.8 524.5v14.1m-3.4 0h6.8m0 -14.1h-6.8M1437.4 534.1v14.1m-3.4 0h6.8m0 -14.1h-6.8M1438.1 521.4v14.1m-3.4 0h6.8m0 -14.1h-6.8M1438.7 529.7v14.1m-3.4 0h6.8m0 -14.1h-6.8M1439.3 533.4v14.1m-3.4 0h6.8m0 -14.1h-6.8M1439.9 525.3v14.1m-3.4 0h6.8m0 -14.1h-6.8M1440.6 522.0v14.1m-3.4 0h6.8m0 -14.1h-6.8M1441.2 535.0v14.1m-3.4 0h6.8m0 -14.1h-6.8M1441.8 522.1v14.1m-3.4 0h6.8m0 -14.1h-6.8M1442.4 530.0v14.1m-3.4 0h6.8m0 -14.1h-6.8M1443.1 522.6v14.1m-3.4 0h6.8m0 -14.1h-6.8M1443.7 530.6v14.1m-3.4 0h6.8m0 -14.1h-6.8M1444.3 535.8v14.1m-3.4 0h6.8m0 -14.1h-6.8M1444.9 527.1v14.1m-3.4 0h6.8m0 -14.1h-6.8M1445.6 525.4v14.1m-3.4 0h6.8m0 -14.1h-6.8M1446.2 520.6v14.1m-3.4 0h6.8m0 -14.1h-6.8M1446.8 522.3v14.1m-3.4 0h6.8m0 -14.1h-6.8M1447.4 526.7v14.1m-3.4 0h6.8m0 -14.1h-6.8M1448.1 530.8v14.1m-3.4 0h6.8m0 -14.1h-6.8M1448.7 532.3v14.1m-3.4 0h6.8m0 -14.1h-6.8M1449.3 531.6v14.1m-3.4 0h6.8m0 -14.1h-6.8M1449.9 534.2v14.1m-3.4 0h6.8m0 -14.1h-6.8M1450.6 532.2v14.1m-3.4 0h6.8m0 -14.1h-6.8M1451.2 542.1v14.1m-3.4 0h6.8m0 -14.1h-6.8M1451.8 530.8v14.1m-3.4 0h6.8m0 -14.1h-6.8M1452.4 532.1v14.1m-3.4 0h6.8m0 -14.1h-6.8M1453.1 521.5v14.1m-3.4 0h6.8m0 -14.1h-6.8M1453.7 529.5v14.1m-3.4 0h6.8m0 -14.1h-6.8M1454.3 535.1v14.1m-3.4 0h6.8m0 -14.1h-6.8M1454.9 531.0v14.1m-3.4 0h6.8m0 -14.1h-6.8M1455.6 539.0v14.1m-3.4 0h6.8m0 -14.1h-6.8M1456.2 536.7v14.1m-3.4 0h6.8m0 -14.1h-6.8M1456.8 542.1v14.1m-3.4 0h6.8m0 -14.1h-6.8M1457.4 528.0v14.1m-3.4 0h6.8m0 -14.1h-6.8M1458.1 531.5v14.1m-3.4 0h6.8m0 -14.1h-6.8M1458.7 538.8v14.1m-3.4 0h6.8m0 -14.1h-6.8M1459.3 534.0v14.1m-3.4 0h6.8m0 -14.1h-6.8M1459.9 529.6v14.1m-3.4 0h6.8m0 -14.1h-6.8M1460.6 531.4v14.1m-3.4 0h6.8m0 -14.1h-6.8M1461.2 531.8v14.1m-3.4 0h6.8m0 -14.1h-6.8M1461.8 536.9v14.1m-3.4 0h6.8m0 -14.1h-6.8M1462.4 535.9v14.1m-3.4 0h6.8m0 -14.1h-6.8M1463.0 532.6v14.1m-3.4 0h6.8m0 -14.1h-6.8M1463.7 529.0v14.1m-3.4 0h6.8m0 -14.1h-6.8M1464.3 536.2v14.1m-3.4 0h6.8m0 -14.1h-6.8M1464.9 537.3v14.1m-3.4 0h6.8m0 -14.1h-6.8M1465.5 527.5v14.1m-3.4 0h6.8m0 -14.1h-6.8M1466.2 536.1v14.1m-3.4 0h6.8m0 -14.1h-6.8M1466.8 527.5v14.1m-3.4 0h6.8m0 -14.1h-6.8M1467.4 530.8v14.1m-3.4 0h6.8m0 -14.1h-6.8M1468.0 528.3v14.1m-3.4 0h6.8m0 -14.1h-6.8M1468.7 525.6v14.1m-3.4 0h6.8m0 -14.1h-6.8M1469.3 531.0v14.1m-3.4 0h6.8m0 -14.1h-6.8M1469.9 531.6v14.1m-3.4 0h6.8m0 -14.1h-6.8M1470.5 539.7v14.1m-3.4 0h6.8m0 -14.1h-6.8M1471.2 539.6v14.1m-3.4 0h6.8m0 -14.1h-6.8M1471.8 534.8v14.1m-3.4 0h6.8m0 -14.1h-6.8M1472.4 531.9v14.1m-3.4 0h6.8m0 -14.1h-6.8M1473.0 533.3v14.1m-3.4 0h6.8m0 -14.1h-6.8M1473.7 530.3v14.1m-3.4 0h6.8m0 -14.1h-6.8M1474.3 539.6v14.1m-3.4 0h6.8m0 -14.1h-6.8M1474.9 540.9v14.1m-3.4 0h6.8m0 -14.1h-6.8M1475.5 537.8v14.1m-3.4 0h6.8m0 -14.1h-6.8M1476.2 542.0v14.1m-3.4 0h6.8m0 -14.1h-6.8M1476.8 542.3v14.1m-3.4 0h6.8m0 -14.1h-6.8M1477.4 546.5v14.1m-3.4 0h6.8m0 -14.1h-6.8M1478.0 537.9v14.1m-3.4 0h6.8m0 -14.1h-6.8M1478.7 546.6v14.1m-3.4 0h6.8m0 -14.1h-6.8M1479.3 539.9v14.1m-3.4 0h6.8m0 -14.1h-6.8M1479.9 548.7v14.1m-3.4 0h6.8m0 -14.1h-6.8M1480.5 538.8v14.1m-3.4 0h6.8m0 -14.1h-6.8M1481.2 548.5v14.1m-3.4 0h6.8m0 -14.1h-6.8M1481.8 541.2v14.1m-3.4 0h6.8m0 -14.1h-6.8M1482.4 552.2v14.1m-3.4 0h6.8m0 -14.1h-6.8M1483.0 548.1v14.1m-3.4 0h6.8m0 -14.1h-6.8M1483.7 541.9v14.1m-3.4 0h6.8m0 -14.1h-6.8M1484.3 551.0v14.1m-3.4 0h6.8m0 -14.1h-6.8M1484.9 546.9v14.1m-3.4 0h6.8m0 -14.1h-6.8M1485.5 548.2v14.1m-3.4 0h6.8m0 -14.1h-6.8M1486.2 555.0v14.1m-3.4 0h6.8m0 -14.1h-6.8M1486.8 542.9v14.1m-3.4 0h6.8m0 -14.1h-6.8M1487.4 541.3v14.1m-3.4 0h6.8m0 -14.1h-6.8M1488.0 546.8v14.1m-3.4 0h6.8m0 -14.1h-6.8M1488.7 538.7v14.1m-3.4 0h6.8m0 -14.1h-6.8M1489.3 543.5v14.1m-3.4 0h6.8m0 -14.1h-6.8M1489.9 543.3v14.1m-3.4 0h6.8m0 -14.1h-6.8M1490.5 538.0v14.1m-3.4 0h6.8m0 -14.1h-6.8M1491.2 540.9v14.1m-3.4 0h6.8m0 -14.1h-6.8M1491.8 529.1v14.1m-3.4 0h6.8m0 -14.1h-6.8M1492.4 546.1v14.1m-3.4 0h6.8m0 -14.1h-6.8M1493.0 537.1v14.1m-3.4 0h6.8m0 -14.1h-6.8M1493.6 536.7v14.1m-3.4 0h6.8m0 -14.1h-6.8M1494.3 550.0v14.1m-3.4 0h6.8m0 -14.1h-6.8M1494.9 549.7v14.1m-3.4 0h6.8m0 -14.1h-6.8M1495.5 540.4v14.1m-3.4 0h6.8m0 -14.1h-6.8M1496.1 545.2v14.1m-3.4 0h6.8m0 -14.1h-6.8M1496.8 542.0v14.1m-3.4 0h6.8m0 -14.1h-6.8M1497.4 539.2v14.1m-3.4 0h6.8m0 -14.1h-6.8M1498.0 546.0v14.1m-3.4 0h6.8m0 -14.1h-6.8M1498.6 549.3v14.1m-3.4 0h6.8m0 -14.1h-6.8M1499.3 556.7v14.1m-3.4 0h6.8m0 -14.1h-6.8M1499.9 544.7v14.1m-3.4 0h6.8m0 -14.1h-6.8M1500.5 549.7v14.1m-3.4 0h6.8m0 -14.1h-6.8M1501.1 544.5v14.1m-3.4 0h6.8m0 -14.1h-6.8M1501.8 544.8v14.1m-3.4 0h6.8m0 -14.1h-6.8M1502.4 551.7v14.1m-3.4 0h6.8m0 -14.1h-6.8M1503.0 538.6v14.1m-3.4 0h6.8m0 -14.1h-6.8M1503.6 541.3v14.1m-3.4 0h6.8m0 -14.1h-6.8M1504.3 542.3v14.1m-3.4 0h6.8m0 -14.1h-6.8M1504.9 550.9v14.1m-3.4 0h6.8m0 -14.1h-6.8M1505.5 547.7v14.1m-3.4 0h6.8m0 -14.1h-6.8M1506.1 548.3v14.1m-3.4 0h6.8m0 -14.1h-6.8M1506.8 547.6v14.1m-3.4 0h6.8m0 -14.1h-6.8M1507.4 550.3v14.1m-3.4 0h6.8m0 -14.1h-6.8M1508.0 543.4v14.1m-3.4 0h6.8m0 -14.1h-6.8M1508.6 544.0v14.1m-3.4 0h6.8m0 -14.1h-6.8M1509.3 543.1v14.1m-3.4 0h6.8m0 -14.1h-6.8M1509.9 546.5v14.1m-3.4 0h6.8m0 -14.1h-6.8M1510.5 538.6v14.1m-3.4 0h6.8m0 -14.1h-6.8M1511.1 542.9v14.1m-3.4 0h6.8m0 -14.1h-6.8M1511.8 555.0v14.1m-3.4 0h6.8m0 -14.1h-6.8M1512.4 545.8v14.1m-3.4 0h6.8m0 -14.1h-6.8M1513.0 543.1v14.1m-3.4 0h6.8m0 -14.1h-6.8M1513.6 538.6v14.1m-3.4 0h6.8m0 -14.1h-6.8M1514.3 543.8v14.1m-3.4 0h6.8m0 -14.1h-6.8M1514.9 543.4v14.1m-3.4 0h6.8m0 -14.1h-6.8M1515.5 545.0v14.1m-3.4 0h6.8m0 -14.1h-6.8M1516.1 539.2v14.1m-3.4 0h6.8m0 -14.1h-6.8M1516.8 543.7v14.1m-3.4 0h6.8m0 -14.1h-6.8M1517.4 544.2v14.1m-3.4 0h6.8m0 -14.1h-6.8M1518.0 544.6v14.1m-3.4 0h6.8m0 -14.1h-6.8M1518.6 538.9v14.1m-3.4 0h6.8m0 -14.1h-6.8M1519.3 543.3v14.1m-3.4 0h6.8m0 -14.1h-6.8M1519.9 547.9v14.1m-3.4 0h6.8m0 -14.1h-6.8M1520.5 537.9v14.1m-3.4 0h6.8m0 -14.1h-6.8M1521.1 543.3v14.1m-3.4 0h6.8m0 -14.1h-6.8M1521.8 538.5v14.1m-3.4 0h6.8m0 -14.1h-6.8M1522.4 538.2v14.1m-3.4 0h6.8m0 -14.1h-6.8M1523.0 534.5v14.1m-3.4 0h6.8m0 -14.1h-6.8M1523.6 534.9v14.1m-3.4 0h6.8m0 -14.1h-6.8M1524.2 541.6v14.1m-3.4 0h6.8m0 -14.1h-6.8M1524.9 541.1v14.1m-3.4 0h6.8m0 -14.1h-6.8M1525.5 547.1v14.1m-3.4 0h6.8m0 -14.1h-6.8M1526.1 535.8v14.1m-3.4 0h6.8m0 -14.1h-6.8M1526.7 542.3v14.1m-3.4 0h6.8m0 -14.1h-6.8M1527.4 539.3v14.1m-3.4 0h6.8m0 -14.1h-6.8M1528.0 546.5v14.1m-3.4 0h6.8m0 -14.1h-6.8M1528.6 553.8v14.1m-3.4 0h6.8m0 -14.1h-6.8M1529.2 538.7v14.1m-3.4 0h6.8m0 -14.1h-6.8M1529.9 544.7v14.1m-3.4 0h6.8m0 -14.1h-6.8M1530.5 544.5v14.1m-3.4 0h6.8m0 -14.1h-6.8M1531.1 544.8v14.1m-3.4 0h6.8m0 -14.1h-6.8M1531.7 542.4v14.1m-3.4 0h6.8m0 -14.1h-6.8M1532.4 543.1v14.1m-3.4 0h6.8m0 -14.1h-6.8M1533.0 552.3v14.1m-3.4 0h6.8m0 -14.1h-6.8M1533.6 541.2v14.1m-3.4 0h6.8m0 -14.1h-6.8M1534.2 548.2v14.1m-3.4 0h6.8m0 -14.1h-6.8M1534.9 548.1v14.1m-3.4 0h6.8m0 -14.1h-6.8M1535.5 539.1v14.1m-3.4 0h6.8m0 -14.1h-6.8M1536.1 542.9v14.1m-3.4 0h6.8m0 -14.1h-6.8M1536.7 548.7v14.1m-3.4 0h6.8m0 -14.1h-6.8M1537.4 555.6v14.1m-3.4 0h6.8m0 -14.1h-6.8M1538.0 547.5v14.1m-3.4 0h6.8m0 -14.1h-6.8M1538.6 546.4v14.1m-3.4 0h6.8m0 -14.1h-6.8M1539.2 549.5v14.1m-3.4 0h6.8m0 -14.1h-6.8M1539.9 554.9v14.1m-3.4 0h6.8m0 -14.1h-6.8M1540.5 553.5v14.1m-3.4 0h6.8m0 -14.1h-6.8M1541.1 555.6v14.1m-3.4 0h6.8m0 -14.1h-6.8M1541.7 549.1v14.1m-3.4 0h6.8m0 -14.1h-6.8M1542.4 546.2v14.1m-3.4 0h6.8m0 -14.1h-6.8M1543.0 545.1v14.1m-3.4 0h6.8m0 -14.1h-6.8M1543.6 552.2v14.1m-3.4 0h6.8m0 -14.1h-6.8M1544.2 547.8v14.1m-3.4 0h6.8m0 -14.1h-6.8M1544.9 546.2v14.1m-3.4 0h6.8m0 -14.1h-6.8M1545.5 550.4v14.1m-3.4 0h6.8m0 -14.1h-6.8M1546.1 548.5v14.1m-3.4 0h6.8m0 -14.1h-6.8M1546.7 538.3v14.1m-3.4 0h6.8m0 -14.1h-6.8M1547.4 545.7v14.1m-3.4 0h6.8m0 -14.1h-6.8M1548.0 542.2v14.1m-3.4 0h6.8m0 -14.1h-6.8M1548.6 547.2v14.1m-3.4 0h6.8m0 -14.1h-6.8M1549.2 544.5v14.1m-3.4 0h6.8m0 -14.1h-6.8M1549.9 551.3v14.1m-3.4 0h6.8m0 -14.1h-6.8M1550.5 543.5v14.1m-3.4 0h6.8m0 -14.1h-6.8M1551.1 537.6v14.1m-3.4 0h6.8m0 -14.1h-6.8M1551.7 533.0v14.1m-3.4 0h6.8m0 -14.1h-6.8M1552.4 536.0v14.1m-3.4 0h6.8m0 -14.1h-6.8M1553.0 537.4v14.1m-3.4 0h6.8m0 -14.1h-6.8M1553.6 539.3v14.1m-3.4 0h6.8m0 -14.1h-6.8M1554.2 541.3v14.1m-3.4 0h6.8m0 -14.1h-6.8M1554.8 539.8v14.1m-3.4 0h6.8m0 -14.1h-6.8M1555.5 537.5v14.1m-3.4 0h6.8m0 -14.1h-6.8M1556.1 544.3v14.1m-3.4 0h6.8m0 -14.1h-6.8M1556.7 538.0v14.1m-3.4 0h6.8m0 -14.1h-6.8M1557.3 547.0v14.1m-3.4 0h6.8m0 -14.1h-6.8M1558.0 551.3v14.1m-3.4 0h6.8m0 -14.1h-6.8M1558.6 549.0v14.1m-3.4 0h6.8m0 -14.1h-6.8M1559.2 552.2v14.1m-3.4 0h6.8m0 -14.1h-6.8M1559.8 551.3v14.1m-3.4 0h6.8m0 -14.1h-6.8M1560.5 541.1v14.1m-3.4 0h6.8m0 -14.1h-6.8M1561.1 547.2v14.1m-3.4 0h6.8m0 -14.1h-6.8M1561.7 545.8v14.1m-3.4 0h6.8m0 -14.1h-6.8M1562.3 542.2v14.1m-3.4 0h6.8m0 -14.1h-6.8M1563.0 542.2v14.1m-3.4 0h6.8m0 -14.1h-6.8M1563.6 550.1v14.1m-3.4 0h6.8m0 -14.1h-6.8M1564.2 542.7v14.1m-3.4 0h6.8m0 -14.1h-6.8M1564.8 547.1v14.1m-3.4 0h6.8m0 -14.1h-6.8M1565.5 549.1v14.1m-3.4 0h6.8m0 -14.1h-6.8M1566.1 547.7v14.1m-3.4 0h6.8m0 -14.1h-6.8M1566.7 556.0v14.1m-3.4 0h6.8m0 -14.1h-6.8M1567.3 553.7v14.1m-3.4 0h6.8m0 -14.1h-6.8M1568.0 551.2v14.1m-3.4 0h6.8m0 -14.1h-6.8M1568.6 548.6v14.1m-3.4 0h6.8m0 -14.1h-6.8M1569.2 553.1v14.1m-3.4 0h6.8m0 -14.1h-6.8M1569.8 552.5v14.1m-3.4 0h6.8m0 -14.1h-6.8M1570.5 548.3v14.1m-3.4 0h6.8m0 -14.1h-6.8M1571.1 546.8v14.1m-3.4 0h6.8m0 -14.1h-6.8M1571.7 549.2v14.1m-3.4 0h6.8m0 -14.1h-6.8M1572.3 546.8v14.1m-3.4 0h6.8m0 -14.1h-6.8M1573.0 553.5v14.1m-3.4 0h6.8m0 -14.1h-6.8M1573.6 552.8v14.1m-3.4 0h6.8m0 -14.1h-6.8M1574.2 549.8v14.1m-3.4 0h6.8m0 -14.1h-6.8M1574.8 552.1v14.1m-3.4 0h6.8m0 -14.1h-6.8M1575.5 552.7v14.1m-3.4 0h6.8m0 -14.1h-6.8M1576.1 543.2v14.1m-3.4 0h6.8m0 -14.1h-6.8M1576.7 550.7v14.1m-3.4 0h6.8m0 -14.1h-6.8M1577.3 553.6v14.1m-3.4 0h6.8m0 -14.1h-6.8M1578.0 547.3v14.1m-3.4 0h6.8m0 -14.1h-6.8M1578.6 541.4v14.1m-3.4 0h6.8m0 -14.1h-6.8M1579.2 548.7v14.1m-3.4 0h6.8m0 -14.1h-6.8M1579.8 543.6v14.1m-3.4 0h6.8m0 -14.1h-6.8M1580.5 550.5v14.1m-3.4 0h6.8m0 -14.1h-6.8M1581.1 550.6v14.1m-3.4 0h6.8m0 -14.1h-6.8M1581.7 551.3v14.1m-3.4 0h6.8m0 -14.1h-6.8M1582.3 548.8v14.1m-3.4 0h6.8m0 -14.1h-6.8M1583.0 540.2v14.1m-3.4 0h6.8m0 -14.1h-6.8M1583.6 552.7v14.1m-3.4 0h6.8m0 -14.1h-6.8M1584.2 540.9v14.1m-3.4 0h6.8m0 -14.1h-6.8M1584.8 552.1v14.1m-3.4 0h6.8m0 -14.1h-6.8M1585.5 548.8v14.1m-3.4 0h6.8m0 -14.1h-6.8M1586.1 544.3v14.1m-3.4 0h6.8m0 -14.1h-6.8M1586.7 545.1v14.1m-3.4 0h6.8m0 -14.1h-6.8M1587.3 546.6v14.1m-3.4 0h6.8m0 -14.1h-6.8M1587.9 554.7v14.1m-3.4 0h6.8m0 -14.1h-6.8M1588.6 546.2v14.1m-3.4 0h6.8m0 -14.1h-6.8M1589.2 552.1v14.1m-3.4 0h6.8m0 -14.1h-6.8M1589.8 536.9v14.1m-3.4 0h6.8m0 -14.1h-6.8M1590.4 548.5v14.1m-3.4 0h6.8m0 -14.1h-6.8M1591.1 546.6v14.1m-3.4 0h6.8m0 -14.1h-6.8M1591.7 552.1v14.1m-3.4 0h6.8m0 -14.1h-6.8M1592.3 549.1v14.1m-3.4 0h6.8m0 -14.1h-6.8M1592.9 552.3v14.1m-3.4 0h6.8m0 -14.1h-6.8M1593.6 542.6v14.1m-3.4 0h6.8m0 -14.1h-6.8M1594.2 547.8v14.1m-3.4 0h6.8m0 -14.1h-6.8M1594.8 544.8v14.1m-3.4 0h6.8m0 -14.1h-6.8M1595.4 550.7v14.1m-3.4 0h6.8m0 -14.1h-6.8M1596.1 550.5v14.1m-3.4 0h6.8m0 -14.1h-6.8M1596.7 543.4v14.1m-3.4 0h6.8m0 -14.1h-6.8M1597.3 553.5v14.1m-3.4 0h6.8m0 -14.1h-6.8M1597.9 557.6v14.1m-3.4 0h6.8m0 -14.1h-6.8M1598.6 548.8v14.1m-3.4 0h6.8m0 -14.1h-6.8M1599.2 555.9v14.1m-3.4 0h6.8m0 -14.1h-6.8M1599.8 551.9v14.1m-3.4 0h6.8m0 -14.1h-6.8M1600.4 544.8v14.1m-3.4 0h6.8m0 -14.1h-6.8M1601.1 550.8v14.1m-3.4 0h6.8m0 -14.1h-6.8M1601.7 542.2v14.1m-3.4 0h6.8m0 -14.1h-6.8M1602.3 547.4v14.1m-3.4 0h6.8m0 -14.1h-6.8M1602.9 536.8v14.1m-3.4 0h6.8m0 -14.1h-6.8M1603.6 536.2v14.1m-3.4 0h6.8m0 -14.1h-6.8M1604.2 542.4v14.1m-3.4 0h6.8m0 -14.1h-6.8M1604.8 539.9v14.1m-3.4 0h6.8m0 -14.1h-6.8M1605.4 541.1v14.1m-3.4 0h6.8m0 -14.1h-6.8M1606.1 536.1v14.1m-3.4 0h6.8m0 -14.1h-6.8M1606.7 531.7v14.1m-3.4 0h6.8m0 -14.1h-6.8M1607.3 542.2v14.1m-3.4 0h6.8m0 -14.1h-6.8M1607.9 531.8v14.1m-3.4 0h6.8m0 -14.1h-6.8M1608.6 540.9v14.1m-3.4 0h6.8m0 -14.1h-6.8M1609.2 538.5v14.1m-3.4 0h6.8m0 -14.1h-6.8M1609.8 542.0v14.1m-3.4 0h6.8m0 -14.1h-6.8M1610.4 525.1v14.1m-3.4 0h6.8m0 -14.1h-6.8M1611.1 533.6v14.1m-3.4 0h6.8m0 -14.1h-6.8M1611.7 533.1v14.1m-3.4 0h6.8m0 -14.1h-6.8M1612.3 537.2v14.1m-3.4 0h6.8m0 -14.1h-6.8M1612.9 530.1v14.1m-3.4 0h6.8m0 -14.1h-6.8M1613.6 543.7v14.1m-3.4 0h6.8m0 -14.1h-6.8M1614.2 535.1v14.1m-3.4 0h6.8m0 -14.1h-6.8M1614.8 526.6v14.1m-3.4 0h6.8m0 -14.1h-6.8M1615.4 538.2v14.1m-3.4 0h6.8m0 -14.1h-6.8M1616.1 537.2v14.1m-3.4 0h6.8m0 -14.1h-6.8M1616.7 535.1v14.1m-3.4 0h6.8m0 -14.1h-6.8M1617.3 542.0v14.1m-3.4 0h6.8m0 -14.1h-6.8M1617.9 539.1v14.1m-3.4 0h6.8m0 -14.1h-6.8M1618.5 535.0v14.1m-3.4 0h6.8m0 -14.1h-6.8M1619.2 537.8v14.1m-3.4 0h6.8m0 -14.1h-6.8M1619.8 536.7v14.1m-3.4 0h6.8m0 -14.1h-6.8M1620.4 539.3v14.1m-3.4 0h6.8m0 -14.1h-6.8M1621.0 536.1v14.1m-3.4 0h6.8m0 -14.1h-6.8M1621.7 536.7v14.1m-3.4 0h6.8m0 -14.1h-6.8M1622.3 530.4v14.1m-3.4 0h6.8m0 -14.1h-6.8M1622.9 532.4v14.1m-3.4 0h6.8m0 -14.1h-6.8M1623.5 535.4v14.1m-3.4 0h6.8m0 -14.1h-6.8M1624.2 543.7v14.1m-3.4 0h6.8m0 -14.1h-6.8M1624.8 529.2v14.1m-3.4 0h6.8m0 -14.1h-6.8M1625.4 528.0v14.1m-3.4 0h6.8m0 -14.1h-6.8M1626.0 535.2v14.1m-3.4 0h6.8m0 -14.1h-6.8M1626.7 539.8v14.1m-3.4 0h6.8m0 -14.1h-6.8M1627.3 536.2v14.1m-3.4 0h6.8m0 -14.1h-6.8M1627.9 527.6v14.1m-3.4 0h6.8m0 -14.1h-6.8M1628.5 536.0v14.1m-3.4 0h6.8m0 -14.1h-6.8M1629.2 533.5v14.1m-3.4 0h6.8m0 -14.1h-6.8M1629.8 530.7v14.1m-3.4 0h6.8m0 -14.1h-6.8M1630.4 526.4v14.1m-3.4 0h6.8m0 -14.1h-6.8M1631.0 531.6v14.1m-3.4 0h6.8m0 -14.1h-6.8M1631.7 531.9v14.1m-3.4 0h6.8m0 -14.1h-6.8M1632.3 533.8v14.1m-3.4 0h6.8m0 -14.1h-6.8M1632.9 524.5v14.1m-3.4 0h6.8m0 -14.1h-6.8M1633.5 526.9v14.1m-3.4 0h6.8m0 -14.1h-6.8M1634.2 531.8v14.1m-3.4 0h6.8m0 -14.1h-6.8M1634.8 537.2v14.1m-3.4 0h6.8m0 -14.1h-6.8M1635.4 534.4v14.1m-3.4 0h6.8m0 -14.1h-6.8M1636.0 528.3v14.1m-3.4 0h6.8m0 -14.1h-6.8M1636.7 533.6v14.1m-3.4 0h6.8m0 -14.1h-6.8M1637.3 526.5v14.1m-3.4 0h6.8m0 -14.1h-6.8M1637.9 528.5v14.1m-3.4 0h6.8m0 -14.1h-6.8M1638.5 529.2v14.1m-3.4 0h6.8m0 -14.1h-6.8M1639.2 528.1v14.1m-3.4 0h6.8m0 -14.1h-6.8M1639.8 529.1v14.1m-3.4 0h6.8m0 -14.1h-6.8M1640.4 535.3v14.1m-3.4 0h6.8m0 -14.1h-6.8M1641.0 533.5v14.1m-3.4 0h6.8m0 -14.1h-6.8M1641.7 522.6v14.1m-3.4 0h6.8m0 -14.1h-6.8M1642.3 537.8v14.1m-3.4 0h6.8m0 -14.1h-6.8M1642.9 534.6v14.1m-3.4 0h6.8m0 -14.1h-6.8M1643.5 527.9v14.1m-3.4 0h6.8m0 -14.1h-6.8M1644.2 532.9v14.1m-3.4 0h6.8m0 -14.1h-6.8M1644.8 535.4v14.1m-3.4 0h6.8m0 -14.1h-6.8M1645.4 537.4v14.1m-3.4 0h6.8m0 -14.1h-6.8M1646.0 529.4v14.1m-3.4 0h6.8m0 -14.1h-6.8M1646.7 527.1v14.1m-3.4 0h6.8m0 -14.1h-6.8M1647.3 525.1v14.1m-3.4 0h6.8m0 -14.1h-6.8M1647.9 530.5v14.1m-3.4 0h6.8m0 -14.1h-6.8M1648.5 526.0v14.1m-3.4 0h6.8m0 -14.1h-6.8M1649.1 534.5v14.1m-3.4 0h6.8m0 -14.1h-6.8M1649.8 529.1v14.1m-3.4 0h6.8m0 -14.1h-6.8M1650.4 532.4v14.1m-3.4 0h6.8m0 -14.1h-6.8M1651.0 528.6v14.1m-3.4 0h6.8m0 -14.1h-6.8M1651.6 526.0v14.1m-3.4 0h6.8m0 -14.1h-6.8M1652.3 524.4v14.1m-3.4 0h6.8m0 -14.1h-6.8M1652.9 532.9v14.1m-3.4 0h6.8m0 -14.1h-6.8M1653.5 523.2v14.1m-3.4 0h6.8m0 -14.1h-6.8M1654.1 530.4v14.1m-3.4 0h6.8m0 -14.1h-6.8M1654.8 532.5v14.1m-3.4 0h6.8m0 -14.1h-6.8M1655.4 528.4v14.1m-3.4 0h6.8m0 -14.1h-6.8M1656.0 533.4v14.1m-3.4 0h6.8m0 -14.1h-6.8M1656.6 526.8v14.1m-3.4 0h6.8m0 -14.1h-6.8M1657.3 525.2v14.1m-3.4 0h6.8m0 -14.1h-6.8M1657.9 526.8v14.1m-3.4 0h6.8m0 -14.1h-6.8M1658.5 523.3v14.1m-3.4 0h6.8m0 -14.1h-6.8M1659.1 527.0v14.1m-3.4 0h6.8m0 -14.1h-6.8M1659.8 526.2v14.1m-3.4 0h6.8m0 -14.1h-6.8M1660.4 532.8v14.1m-3.4 0h6.8m0 -14.1h-6.8M1661.0 527.1v14.1m-3.4 0h6.8m0 -14.1h-6.8M1661.6 531.4v14.1m-3.4 0h6.8m0 -14.1h-6.8M1662.3 530.3v14.1m-3.4 0h6.8m0 -14.1h-6.8M1662.9 529.3v14.1m-3.4 0h6.8m0 -14.1h-6.8M1663.5 528.1v14.1m-3.4 0h6.8m0 -14.1h-6.8M1664.1 535.8v14.1m-3.4 0h6.8m0 -14.1h-6.8M1664.8 535.4v14.1m-3.4 0h6.8m0 -14.1h-6.8M1665.4 530.0v14.1m-3.4 0h6.8m0 -14.1h-6.8M1666.0 526.6v14.1m-3.4 0h6.8m0 -14.1h-6.8M1666.6 527.0v14.1m-3.4 0h6.8m0 -14.1h-6.8M1667.3 524.3v14.1m-3.4 0h6.8m0 -14.1h-6.8M1667.9 520.4v14.1m-3.4 0h6.8m0 -14.1h-6.8M1668.5 521.7v14.1m-3.4 0h6.8m0 -14.1h-6.8M1669.1 521.7v14.1m-3.4 0h6.8m0 -14.1h-6.8M1669.8 522.4v14.1m-3.4 0h6.8m0 -14.1h-6.8M1670.4 518.2v14.1m-3.4 0h6.8m0 -14.1h-6.8M1671.0 512.4v14.1m-3.4 0h6.8m0 -14.1h-6.8M1671.6 504.4v14.1m-3.4 0h6.8m0 -14.1h-6.8M1672.3 498.9v14.1m-3.4 0h6.8m0 -14.1h-6.8" fill="none" stroke="#0000ff" stroke-width="2.0"/>
<path d="M1048.4 103.9h0M1049.0 107.8h0M1049.6 107.9h0M1050.3 114.7h0M1050.9 114.9h0M1051.5 120.5h0M1052.1 123.5h0M1052.8 124.3h0M1053.4 127.3h0M1054.0 134.7h0M1054.6 126.1h0M1055.2 136.3h0M1055.9 143.4h0M1056.5 134.3h0M1057.1 143.6h0M1057.7 139.7h0M1058.4 143.3h0M1059.0 143.2h0M1059.6 144.3h0M1060.2 148.3h0M1060.9 146.5h0M1061.5 138.9h0M1062.1 157.7h0M1062.7 148.8h0M1063.4 148.0h0M1064.0 156.9h0M1064.6 160.9h0M1065.2 148.6h0M1065.9 161.9h0M1066.5 154.2h0M1067.1 163.7h0M1067.7 169.2h0M1068.4 171.1h0M1069.0 174.0h0M1069.6 175.3h0M1070.2 181.3h0M1070.9 183.9h0M1071.5 185.0h0M1072.1 181.4h0M1072.7 184.9h0M1073.4 193.6h0M1074.0 192.6h0M1074.6 189.0h0M1075.2 193.5h0M1075.9 193.0h0M1076.5 195.9h0M1077.1 193.4h0M1077.7 192.0h0M1078.4 191.7h0M1079.0 198.0h0M1079.6 191.4h0M1080.2 202.5h0M1080.9 190.4h0M1081.5 201.2h0M1082.1 204.7h0M1082.7 210.4h0M1083.4 221.6h0M1084.0 211.8h0M1084.6 211.8h0M1085.2 206.0h0M1085.8 221.4h0M1086.5 209.1h0M1087.1 219.7h0M1087.7 217.1h0M1088.3 232.4h0M1089.0 222.7h0M1089.6 226.7h0M1090.2 224.4h0M1090.8 228.9h0M1091.5 236.1h0M1092.1 229.3h0M1092.7 232.3h0M1093.3 234.1h0M1094.0 233.2h0M1094.6 233.7h0M1095.2 239.3h0M1095.8 245.8h0M1096.5 246.7h0M1097.1 236.0h0M1097.7 240.0h0M1098.3 243.9h0M1099.0 247.6h0M1099.6 247.0h0M1100.2 248.4h0M1100.8 251.5h0M1101.5 254.6h0M1102.1 244.1h0M1102.7 253.9h0M1103.3 259.0h0M1104.0 263.0h0M1104.6 261.4h0M1105.2 256.2h0M1105.8 256.9h0M1106.5 261.9h0M1107.1 261.7h0M1107.7 264.0h0M1108.3 268.2h0M1109.0 258.8h0M1109.6 263.5h0M1110.2 255.3h0M1110.8 269.7h0M1111.5 267.9h0M1112.1 264.0h0M1112.7 269.0h0M1113.3 273.9h0M1114.0 272.2h0M1114.6 268.0h0M1115.2 267.1h0M1115.8 269.8h0M1116.5 266.8h0M1117.1 268.7h0M1117.7 274.9h0M1118.3 279.4h0M1118.9 283.9h0M1119.6 283.8h0M1120.2 285.5h0M1120.8 292.0h0M1121.4 293.3h0M1122.1 299.4h0M1122.7 306.9h0M1123.3 307.8h0M1123.9 300.8h0M1124.6 302.6h0M1125.2 298.2h0M1125.8 305.1h0M1126.4 302.2h0M1127.1 300.6h0M1127.7 302.3h0M1128.3 309.5h0M1128.9 308.0h0M1129.6 307.1h0M1130.2 313.1h0M1130.8 308.3h0M1131.4 307.2h0M1132.1 314.9h0M1132.7 305.8h0M1133.3 316.6h0M1133.9 317.7h0M1134.6 319.4h0M1135.2 323.0h0M1135.8 319.8h0M1136.4 323.1h0M1137.1 317.7h0M1137.7 323.7h0M1138.3 325.2h0M1138.9 329.5h0M1139.6 335.7h0M1140.2 331.1h0M1140.8 335.4h0M1141.4 328.9h0M1142.1 334.1h0M1142.7 328.0h0M1143.3 332.8h0M1143.9 333.0h0M1144.6 336.2h0M1145.2 336.9h0M1145.8 335.6h0M1146.4 335.0h0M1147.1 342.5h0M1147.7 338.6h0M1148.3 331.2h0M1148.9 344.1h0M1149.5 346.0h0M1150.2 348.4h0M1150.8 352.1h0M1151.4 341.5h0M1152.0 346.8h0M1152.7 346.5h0M1153.3 341.3h0M1153.9 339.8h0M1154.5 355.4h0M1155.2 348.5h0M1155.8 351.6h0M1156.4 353.8h0M1157.0 354.6h0M1157.7 357.8h0M1158.3 352.1h0M1158.9 357.3h0M1159.5 359.6h0M1160.2 356.5h0M1160.8 358.5h0M1161.4 360.8h0M1162.0 361.8h0M1162.7 356.3h0M1163.3 362.7h0M1163.9 366.9h0M1164.5 371.8h0M1165.2 371.3h0M1165.8 375.9h0M1166.4 372.7h0M1167.0 373.7h0M1167.7 385.0h0M1168.3 377.8h0M1168.9 376.6h0M1169.5 380.2h0M1170.2 386.4h0M1170.8 378.5h0M1171.4 388.1h0M1172.0 391.0h0M1172.7 391.1h0M1173.3 387.2h0M1173.9 383.7h0M1174.5 383.5h0M1175.2 387.9h0M1175.8 394.2h0M1176.4 392.4h0M1177.0 393.8h0M1177.7 391.1h0M1178.3 398.2h0M1178.9 391.2h0M1179.5 390.3h0M1180.1 395.0h0M1180.8 393.5h0M1181.4 399.5h0M1182.0 401.8h0M1182.6 398.5h0M1183.3 391.1h0M1183.9 391.9h0M1184.5 399.3h0M1185.1 393.3h0M1185.8 400.9h0M1186.4 394.2h0M1187.0 399.8h0M1187.6 406.0h0M1188.3 403.0h0M1188.9 412.0h0M1189.5 412.3h0M1190.1 413.6h0M1190.8 405.5h0M1191.4 405.9h0M1192.0 405.2h0M1192.6 407.0h0M1193.3 400.0h0M1193.9 408.6h0M1194.5 410.6h0M1195.1 403.0h0M1195.8 403.1h0M1196.4 408.4h0M1197.0 417.9h0M1197.6 413.7h0M1198.3 408.9h0M1198.9 411.8h0M1199.5 405.7h0M1200.1 418.4h0M1200.8 409.9h0M1201.4 415.2h0M1202.0 406.8h0M1202.6 412.5h0M1203.3 407.6h0M1203.9 414.5h0M1204.5 417.5h0M1205.1 417.1h0M1205.8 416.2h0M1206.4 419.1h0M1207.0 410.9h0M1207.6 411.4h0M1208.3 417.3h0M1208.9 424.3h0M1209.5 421.9h0M1210.1 425.8h0M1210.8 418.2h0M1211.4 424.2h0M1212.0 424.4h0M1212.6 429.2h0M1213.2 436.9h0M1213.9 432.7h0M1214.5 434.2h0M1215.1 427.7h0M1215.7 428.6h0M1216.4 432.5h0M1217.0 431.2h0M1217.6 423.4h0M1218.2 434.6h0M1218.9 434.9h0M1219.5 432.4h0M1220.1 434.9h0M1220.7 434.2h0M1221.4 430.6h0M1222.0 425.9h0M1222.6 441.2h0M1223.2 434.1h0M1223.9 434.3h0M1224.5 435.2h0M1225.1 435.9h0M1225.7 436.8h0M1226.4 431.4h0M1227.0 437.9h0M1227.6 436.7h0M1228.2 437.4h0M1228.9 438.1h0M1229.5 440.4h0M1230.1 436.7h0M1230.7 442.1h0M1231.4 442.5h0M1232.0 444.5h0M1232.6 449.6h0M1233.2 449.8h0M1233.9 451.7h0M1234.5 447.5h0M1235.1 452.3h0M1235.7 454.8h0M1236.4 449.7h0M1237.0 448.7h0M1237.6 458.6h0M1238.2 444.2h0M1238.9 451.3h0M1239.5 452.1h0M1240.1 447.3h0M1240.7 451.5h0M1241.4 454.4h0M1242.0 442.5h0M1242.6 456.3h0M1243.2 452.2h0M1243.8 449.0h0M1244.5 457.9h0M1245.1 454.6h0M1245.7 453.3h0M1246.3 445.6h0M1247.0 460.3h0M1247.6 457.5h0M1248.2 455.3h0M1248.8 458.6h0M1249.5 464.8h0M1250.1 458.8h0M1250.7 460.9h0M1251.3 460.2h0M1252.0 457.3h0M1252.6 457.3h0M1253.2 459.2h0M1253.8 459.1h0M1254.5 464.4h0M1255.1 459.7h0M1255.7 457.4h0M1256.3 459.3h0M1257.0 456.4h0M1257.6 459.6h0M1258.2 449.5h0M1258.8 447.3h0M1259.5 458.5h0M1260.1 455.5h0M1260.7 458.6h0M1261.3 452.7h0M1262.0 456.6h0M1262.6 458.7h0M1263.2 460.5h0M1263.8 459.6h0M1264.5 464.9h0M1265.1 458.4h0M1265.7 464.8h0M1266.3 459.9h0M1267.0 461.1h0M1267.6 456.6h0M1268.2 460.9h0M1268.8 456.0h0M1269.5 463.8h0M1270.1 457.0h0M1270.7 460.2h0M1271.3 458.2h0M1272.0 458.4h0M1272.6 454.5h0M1273.2 466.9h0M1273.8 457.0h0M1274.4 464.7h0M1275.1 453.2h0M1275.7 466.6h0M1276.3 462.5h0M1276.9 465.6h0M1277.6 452.0h0M1278.2 464.8h0M1278.8 459.4h0M1279.4 462.6h0M1280.1 468.3h0M1280.7 462.6h0M1281.3 459.1h0M1281.9 463.5h0M1282.6 459.6h0M1283.2 465.9h0M1283.8 465.1h0M1284.4 467.6h0M1285.1 465.3h0M1285.7 459.5h0M1286.3 466.8h0M1286.9 468.3h0M1287.6 472.6h0M1288.2 473.9h0M1288.8 464.8h0M1289.4 476.0h0M1290.1 475.5h0M1290.7 472.4h0M1291.3 474.0h0M1291.9 463.4h0M1292.6 481.1h0M1293.2 469.0h0M1293.8 466.9h0M1294.4 474.2h0M1295.1 473.4h0M1295.7 470.0h0M1296.3 466.1h0M1296.9 478.0h0M1297.6 482.0h0M1298.2 472.1h0M1298.8 470.8h0M1299.4 479.5h0M1300.1 488.4h0M1300.7 473.8h0M1301.3 480.5h0M1301.9 474.7h0M1302.6 479.4h0M1303.2 480.5h0M1303.8 480.6h0M1304.4 472.2h0M1305.0 472.1h0M1305.7 486.9h0M1306.3 481.5h0M1306.9 469.7h0M1307.5 478.4h0M1308.2 482.2h0M1308.8 476.1h0M1309.4 476.2h0M1310.0 475.7h0M1310.7 476.7h0M1311.3 475.2h0M1311.9 475.2h0M1312.5 471.1h0M1313.2 475.3h0M1313.8 472.4h0M1314.4 471.3h0M1315.0 465.3h0M1315.7 469.4h0M1316.3 471.6h0M1316.9 469.0h0M1317.5 469.7h0M1318.2 467.0h0M1318.8 469.6h0M1319.4 464.2h0M1320.0 466.2h0M1320.7 472.2h0M1321.3 473.8h0M1321.9 468.5h0M1322.5 470.1h0M1323.2 472.8h0M1323.8 478.7h0M1324.4 480.3h0M1325.0 471.1h0M1325.7 469.3h0M1326.3 469.1h0M1326.9 477.9h0M1327.5 468.0h0M1328.2 474.6h0M1328.8 470.7h0M1329.4 472.0h0M1330.0 478.6h0M1330.7 479.3h0M1331.3 487.0h0M1331.9 483.6h0M1332.5 488.9h0M1333.2 480.9h0M1333.8 483.7h0M1334.4 481.3h0M1335.0 484.8h0M1335.7 490.2h0M1336.3 487.0h0M1336.9 490.3h0M1337.5 486.2h0M1338.1 487.5h0M1338.8 493.1h0M1339.4 489.1h0M1340.0 489.0h0M1340.6 490.9h0M1341.3 486.3h0M1341.9 483.4h0M1342.5 492.8h0M1343.1 493.3h0M1343.8 501.7h0M1344.4 493.1h0M1345.0 494.8h0M1345.6 502.4h0M1346.3 492.4h0M1346.9 491.5h0M1347.5 497.4h0M1348.1 496.2h0M1348.8 499.1h0M1349.4 492.1h0M1350.0 502.1h0M1350.6 497.3h0M1351.3 488.1h0M1351.9 496.5h0M1352.5 495.3h0M1353.1 498.5h0M1353.8 503.4h0M1354.4 499.1h0M1355.0 497.8h0M1355.6 504.4h0M1356.3 499.2h0M1356.9 495.5h0M1357.5 496.3h0M1358.1 507.6h0M1358.8 505.1h0M1359.4 507.9h0M1360.0 496.6h0M1360.6 498.4h0M1361.3 497.5h0M1361.9 503.7h0M1362.5 504.4h0M1363.1 498.6h0M1363.8 498.0h0M1364.4 501.5h0M1365.0 497.5h0M1365.6 496.0h0M1366.3 498.2h0M1366.9 504.1h0M1367.5 509.2h0M1368.1 502.7h0M1368.7 502.6h0M1369.4 506.0h0M1370.0 508.4h0M1370.6 511.2h0M1371.2 506.2h0M1371.9 510.1h0M1372.5 510.0h0M1373.1 515.3h0M1373.7 514.5h0M1374.4 511.9h0M1375.0 517.5h0M1375.6 519.7h0M1376.2 516.8h0M1376.9 511.4h0M1377.5 516.7h0M1378.1 512.5h0M1378.7 520.2h0M1379.4 522.1h0M1380.0 527.7h0M1380.6 524.5h0M1381.2 515.9h0M1381.9 520.5h0M1382.5 518.6h0M1383.1 518.7h0M1383.7 521.6h0M1384.4 522.3h0M1385.0 520.8h0M1385.6 518.4h0M1386.2 519.3h0M1386.9 519.2h0M1387.5 520.6h0M1388.1 524.5h0M1388.7 522.3h0M1389.4 525.2h0M1390.0 516.9h0M1390.6 530.0h0M1391.2 520.4h0M1391.9 507.7h0M1392.5 517.5h0M1393.1 519.2h0M1393.7 512.8h0M1394.4 508.0h0M1395.0 515.0h0M1395.6 512.6h0M1396.2 515.6h0M1396.9 518.5h0M1397.5 504.4h0M1398.1 518.3h0M1398.7 521.5h0M1399.3 521.9h0M1400.0 518.9h0M1400.6 519.5h0M1401.2 518.6h0M1401.8 521.9h0M1402.5 529.2h0M1403.1 521.6h0M1403.7 525.8h0M1404.3 526.4h0M1405.0 532.2h0M1405.6 529.0h0M1406.2 530.3h0M1406.8 528.1h0M1407.5 534.8h0M1408.1 529.1h0M1408.7 528.5h0M1409.3 532.8h0M1410.0 529.7h0M1410.6 529.7h0M1411.2 521.3h0M1411.8 534.8h0M1412.5 524.6h0M1413.1 530.2h0M1413.7 525.1h0M1414.3 519.8h0M1415.0 526.2h0M1415.6 523.0h0M1416.2 527.3h0M1416.8 515.6h0M1417.5 520.1h0M1418.1 519.3h0M1418.7 529.8h0M1419.3 528.8h0M1420.0 519.7h0M1420.6 525.1h0M1421.2 525.4h0M1421.8 522.9h0M1422.5 530.4h0M1423.1 522.8h0M1423.7 526.9h0M1424.3 525.9h0M1425.0 531.6h0M1425.6 527.6h0M1426.2 533.6h0M1426.8 527.0h0M1427.5 526.7h0M1428.1 528.0h0M1428.7 530.2h0M1429.3 530.1h0M1429.9 544.6h0M1430.6 530.1h0M1431.2 535.2h0M1431.8 534.1h0M1432.4 536.2h0M1433.1 541.3h0M1433.7 538.1h0M1434.3 533.5h0M1434.9 530.7h0M1435.6 539.8h0M1436.2 541.4h0M1436.8 531.6h0M1437.4 541.2h0M1438.1 528.4h0M1438.7 536.7h0M1439.3 540.4h0M1439.9 532.3h0M1440.6 529.1h0M1441.2 542.0h0M1441.8 529.2h0M1442.4 537.1h0M1443.1 529.7h0M1443.7 537.7h0M1444.3 542.8h0M1444.9 534.2h0M1445.6 532.5h0M1446.2 527.6h0M1446.8 529.3h0M1447.4 533.8h0M1448.1 537.8h0M1448.7 539.3h0M1449.3 538.7h0M1449.9 541.2h0M1450.6 539.2h0M1451.2 549.1h0M1451.8 537.9h0M1452.4 539.1h0M1453.1 528.5h0M1453.7 536.5h0M1454.3 542.1h0M1454.9 538.1h0M1455.6 546.0h0M1456.2 543.8h0M1456.8 549.1h0M1457.4 535.1h0M1458.1 538.5h0M1458.7 545.9h0M1459.3 541.0h0M1459.9 536.7h0M1460.6 538.5h0M1461.2 538.8h0M1461.8 543.9h0M1462.4 542.9h0M1463.0 539.7h0M1463.7 536.0h0M1464.3 543.2h0M1464.9 544.3h0M1465.5 534.6h0M1466.2 543.2h0M1466.8 534.5h0M1467.4 537.9h0M1468.0 535.4h0M1468.7 532.7h0M1469.3 538.1h0M1469.9 538.6h0M1470.5 546.7h0M1471.2 546.7h0M1471.8 541.9h0M1472.4 538.9h0M1473.0 540.4h0M1473.7 537.3h0M1474.3 546.7h0M1474.9 548.0h0M1475.5 544.9h0M1476.2 549.0h0M1476.8 549.4h0M1477.4 553.5h0M1478.0 544.9h0M1478.7 553.6h0M1479.3 546.9h0M1479.9 555.8h0M1480.5 545.8h0M1481.2 555.5h0M1481.8 548.3h0M1482.4 559.3h0M1483.0 555.1h0M1483.7 549.0h0M1484.3 558.0h0M1484.9 554.0h0M1485.5 555.3h0M1486.2 562.0h0M1486.8 549.9h0M1487.4 548.4h0M1488.0 553.9h0M1488.7 545.7h0M1489.3 550.5h0M1489.9 550.4h0M1490.5 545.1h0M1491.2 548.0h0M1491.8 536.1h0M1492.4 553.1h0M1493.0 544.1h0M1493.6 543.8h0M1494.3 557.0h0M1494.9 556.7h0M1495.5 547.5h0M1496.1 552.3h0M1496.8 549.0h0M1497.4 546.2h0M1498.0 553.0h0M1498.6 556.3h0M1499.3 563.7h0M1499.9 551.7h0M1500.5 556.7h0M1501.1 551.5h0M1501.8 551.9h0M1502.4 558.7h0M1503.0 545.6h0M1503.6 548.3h0M1504.3 549.4h0M1504.9 558.0h0M1505.5 554.7h0M1506.1 555.3h0M1506.8 554.6h0M1507.4 557.3h0M1508.0 550.4h0M1508.6 551.0h0M1509.3 550.1h0M1509.9 553.5h0M1510.5 545.6h0M1511.1 550.0h0M1511.8 562.0h0M1512.4 552.9h0M1513.0 550.1h0M1513.6 545.7h0M1514.3 550.8h0M1514.9 550.4h0M1515.5 552.0h0M1516.1 546.2h0M1516.8 550.7h0M1517.4 551.2h0M1518.0 551.6h0M1518.6 546.0h0M1519.3 550.4h0M1519.9 554.9h0M1520.5 545.0h0M1521.1 550.3h0M1521.8 545.6h0M1522.4 545.3h0M1523.0 541.5h0M1523.6 541.9h0M1524.2 548.7h0M1524.9 548.2h0M1525.5 554.2h0M1526.1 542.8h0M1526.7 549.3h0M1527.4 546.4h0M1528.0 553.6h0M1528.6 560.9h0M1529.2 545.7h0M1529.9 551.7h0M1530.5 551.5h0M1531.1 551.8h0M1531.7 549.4h0M1532.4 550.1h0M1533.0 559.3h0M1533.6 548.2h0M1534.2 555.2h0M1534.9 555.2h0M1535.5 546.1h0M1536.1 549.9h0M1536.7 555.7h0M1537.4 562.6h0M1538.0 554.6h0M1538.6 553.5h0M1539.2 556.6h0M1539.9 562.0h0M1540.5 560.5h0M1541.1 562.7h0M1541.7 556.1h0M1542.4 553.3h0M1543.0 552.1h0M1543.6 559.2h0M1544.2 554.9h0M1544.9 553.2h0M1545.5 557.4h0M1546.1 555.6h0M1546.7 545.3h0M1547.4 552.8h0M1548.0 549.3h0M1548.6 554.2h0M1549.2 551.5h0M1549.9 558.3h0M1550.5 550.5h0M1551.1 544.6h0M1551.7 540.0h0M1552.4 543.0h0M1553.0 544.4h0M1553.6 546.3h0M1554.2 548.3h0M1554.8 546.8h0M1555.5 544.5h0M1556.1 551.3h0M1556.7 545.0h0M1557.3 554.0h0M1558.0 558.3h0M1558.6 556.0h0M1559.2 559.2h0M1559.8 558.4h0M1560.5 548.2h0M1561.1 554.2h0M1561.7 552.9h0M1562.3 549.3h0M1563.0 549.3h0M1563.6 557.1h0M1564.2 549.8h0M1564.8 554.2h0M1565.5 556.2h0M1566.1 554.7h0M1566.7 563.0h0M1567.3 560.7h0M1568.0 558.3h0M1568.6 555.6h0M1569.2 560.2h0M1569.8 559.5h0M1570.5 555.3h0M1571.1 553.8h0M1571.7 556.3h0M1572.3 553.8h0M1573.0 560.6h0M1573.6 559.8h0M1574.2 556.9h0M1574.8 559.2h0M1575.5 559.7h0M1576.1 550.3h0M1576.7 557.8h0M1577.3 560.7h0M1578.0 554.3h0M1578.6 548.5h0M1579.2 555.7h0M1579.8 550.7h0M1580.5 557.6h0M1581.1 557.6h0M1581.7 558.3h0M1582.3 555.8h0M1583.0 547.3h0M1583.6 559.8h0M1584.2 547.9h0M1584.8 559.1h0M1585.5 555.8h0M1586.1 551.3h0M1586.7 552.2h0M1587.3 553.6h0M1587.9 561.8h0M1588.6 553.3h0M1589.2 559.1h0M1589.8 543.9h0M1590.4 555.5h0M1591.1 553.7h0M1591.7 559.1h0M1592.3 556.1h0M1592.9 559.4h0M1593.6 549.6h0M1594.2 554.8h0M1594.8 551.9h0M1595.4 557.7h0M1596.1 557.5h0M1596.7 550.5h0M1597.3 560.6h0M1597.9 564.6h0M1598.6 555.9h0M1599.2 563.0h0M1599.8 559.0h0M1600.4 551.9h0M1601.1 557.8h0M1601.7 549.2h0M1602.3 554.4h0M1602.9 543.9h0M1603.6 543.2h0M1604.2 549.4h0M1604.8 546.9h0M1605.4 548.1h0M1606.1 543.2h0M1606.7 538.7h0M1607.3 549.3h0M1607.9 538.9h0M1608.6 547.9h0M1609.2 545.5h0M1609.8 549.1h0M1610.4 532.2h0M1611.1 540.7h0M1611.7 540.1h0M1612.3 544.2h0M1612.9 537.1h0M1613.6 550.7h0M1614.2 542.1h0M1614.8 533.6h0M1615.4 545.2h0M1616.1 544.2h0M1616.7 542.1h0M1617.3 549.0h0M1617.9 546.2h0M1618.5 542.1h0M1619.2 544.9h0M1619.8 543.7h0M1620.4 546.3h0M1621.0 543.1h0M1621.7 543.8h0M1622.3 537.4h0M1622.9 539.4h0M1623.5 542.5h0M1624.2 550.7h0M1624.8 536.3h0M1625.4 535.1h0M1626.0 542.2h0M1626.7 546.8h0M1627.3 543.3h0M1627.9 534.6h0M1628.5 543.1h0M1629.2 540.6h0M1629.8 537.7h0M1630.4 533.4h0M1631.0 538.7h0M1631.7 539.0h0M1632.3 540.8h0M1632.9 531.6h0M1633.5 533.9h0M1634.2 538.8h0M1634.8 544.3h0M1635.4 541.4h0M1636.0 535.4h0M1636.7 540.6h0M1637.3 533.5h0M1637.9 535.5h0M1638.5 536.2h0M1639.2 535.1h0M1639.8 536.2h0M1640.4 542.3h0M1641.0 540.5h0M1641.7 529.7h0M1642.3 544.9h0M1642.9 541.6h0M1643.5 534.9h0M1644.2 539.9h0M1644.8 542.5h0M1645.4 544.4h0M1646.0 536.4h0M1646.7 534.1h0M1647.3 532.2h0M1647.9 537.6h0M1648.5 533.1h0M1649.1 541.5h0M1649.8 536.2h0M1650.4 539.4h0M1651.0 535.6h0M1651.6 533.0h0M1652.3 531.5h0M1652.9 540.0h0M1653.5 530.3h0M1654.1 537.4h0M1654.8 539.5h0M1655.4 535.5h0M1656.0 540.5h0M1656.6 533.9h0M1657.3 532.2h0M1657.9 533.9h0M1658.5 530.3h0M1659.1 534.0h0M1659.8 533.2h0M1660.4 539.9h0M1661.0 534.1h0M1661.6 538.5h0M1662.3 537.3h0M1662.9 536.3h0M1663.5 535.1h0M1664.1 542.8h0M1664.8 542.4h0M1665.4 537.0h0M1666.0 533.6h0M1666.6 534.1h0M1667.3 531.3h0M1667.9 527.5h0M1668.5 528.7h0M1669.1 528.8h0M1669.8 529.5h0M1670.4 525.3h0M1671.0 519.4h0M1671.6 511.5h0M1672.3 505.9h0" stroke="#0000ff" stroke-width="6.0" stroke-linecap="round" fill="none"/>
<path d="M1029.6 94.9v32.9m-3.4 0h6.8m0 -32.9h-6.8M1042.1 134.7v30.8m-3.4 0h6.8m0 -30.8h-6.8M1054.6 177.6v28.5m-3.4 0h6.8m0 -28.5h-6.8M1067.1 209.9v26.8m-3.4 0h6.8m0 -26.8h-6.8M1079.6 241.3v25.2m-3.4 0h6.8m0 -25.2h-6.8M1092.1 263.8v24.0m-3.4 0h6.8m0 -24.0h-6.8M1104.6 290.2v22.6m-3.4 0h6.8m0 -22.6h-6.8M1117.1 305.2v21.8m-3.4 0h6.8m0 -21.8h-6.8M1129.6 328.7v20.6m-3.4 0h6.8m0 -20.6h-6.8M1142.1 341.5v19.9m-3.4 0h6.8m0 -19.9h-6.8M1154.5 365.8v18.6m-3.4 0h6.8m0 -18.6h-6.8M1167.0 377.6v18.0m-3.4 0h6.8m0 -18.0h-6.8M1179.5 392.7v17.2m-3.4 0h6.8m0 -17.2h-6.8M1192.0 402.1v16.7m-3.4 0h6.8m0 -16.7h-6.8M1204.5 409.5v16.3m-3.4 0h6.8m0 -16.3h-6.8M1217.0 423.7v15.6m-3.4 0h6.8m0 -15.6h-6.8M1229.5 433.1v15.1m-3.4 0h6.8m0 -15.1h-6.8M1242.0 440.5v14.7m-3.4 0h6.8m0 -14.7h-6.8M1254.5 446.6v14.4m-3.4 0h6.8m0 -14.4h-6.8M1267.0 457.4v13.8m-3.4 0h6.8m0 -13.8h-6.8M1279.4 461.7v13.6m-3.4 0h6.8m0 -13.6h-6.8M1291.9 475.2v12.9m-3.4 0h6.8m0 -12.9h-6.8M1304.4 480.3v12.6m-3.4 0h6.8m0 -12.6h-6.8M1316.9 480.3v12.6m-3.4 0h6.8m0 -12.6h-6.8M1329.4 487.7v12.2m-3.4 0h6.8m0 -12.2h-6.8M1341.9 492.0v12.0m-3.4 0h6.8m0 -12.0h-6.8M1354.4 497.1v11.7m-3.4 0h6.8m0 -11.7h-6.8M1366.9 502.2v11.5m-3.4 0h6.8m0 -11.5h-6.8M1379.4 504.8v11.3m-3.4 0h6.8m0 -11.3h-6.8M1391.9 511.9v11.0m-3.4 0h6.8m0 -11.0h-6.8M1404.3 514.1v10.8m-3.4 0h6.8m0 -10.8h-6.8M1416.8 516.5v10.7m-3.4 0h6.8m0 -10.7h-6.8M1429.3 514.1v10.8m-3.4 0h6.8m0 -10.8h-6.8M1441.8 523.4v10.4m-3.4 0h6.8m0 -10.4h-6.8M1454.3 521.5v10.5m-3.4 0h6.8m0 -10.5h-6.8M1466.8 526.9v10.2m-3.4 0h6.8m0 -10.2h-6.8M1479.3 533.3v9.8m-3.4 0h6.8m0 -9.8h-6.8M1491.8 537.5v9.6m-3.4 0h6.8m0 -9.6h-6.8M1504.3 537.5v9.6m-3.4 0h6.8m0 -9.6h-6.8M1516.8 535.8v9.7m-3.4 0h6.8m0 -9.7h-6.8M1529.2 539.2v9.5m-3.4 0h6.8m0 -9.5h-6.8M1541.7 542.4v9.4m-3.4 0h6.8m0 -9.4h-6.8M1554.2 542.0v9.4m-3.4 0h6.8m0 -9.4h-6.8M1566.7 545.0v9.2m-3.4 0h6.8m0 -9.2h-6.8M1579.2 544.2v9.3m-3.4 0h6.8m0 -9.3h-6.8M1591.7 544.2v9.3m-3.4 0h6.8m0 -9.3h-6.8M1604.2 547.5v9.1m-3.4 0h6.8m0 -9.1h-6.8M1616.7 549.9v9.0m-3.4 0h6.8m0 -9.0h-6.8M1629.2 551.2v8.9m-3.4 0h6.8m0 -8.9h-6.8M1641.7 553.1v8.8m-3.4 0h6.8m0 -8.8h-6.8M1654.1 553.6v8.8m-3.4 0h6.8m0 -8.8h-6.8M1666.6 554.8v8.7m-3.4 0h6.8m0 -8.7h-6.8M1679.1 555.6v8.7m-3.4 0h6.8m0 -8.7h-6.8" fill="none" stroke="#ff0000" stroke-width="2.0"/>
<path d="M1029.6 111.3h0M1042.1 150.1h0M1054.6 191.9h0M1067.1 223.3h0M1079.6 253.9h0M1092.1 275.8h0M1104.6 301.5h0M1117.1 316.2h0M1129.6 339.0h0M1142.1 351.5h0M1154.5 375.1h0M1167.0 386.6h0M1179.5 401.3h0M1192.0 410.5h0M1204.5 417.7h0M1217.0 431.5h0M1229.5 440.7h0M1242.0 447.9h0M1254.5 453.8h0M1267.0 464.3h0M1279.4 468.5h0M1291.9 481.6h0M1304.4 486.6h0M1316.9 486.6h0M1329.4 493.8h0M1341.9 498.0h0M1354.4 503.0h0M1366.9 507.9h0M1379.4 510.5h0M1391.9 517.4h0M1404.3 519.5h0M1416.8 521.9h0M1429.3 519.5h0M1441.8 528.6h0M1454.3 526.7h0M1466.8 532.0h0M1479.3 538.2h0M1491.8 542.3h0M1504.3 542.3h0M1516.8 540.7h0M1529.2 544.0h0M1541.7 547.1h0M1554.2 546.7h0M1566.7 549.6h0M1579.2 548.8h0M1591.7 548.8h0M1604.2 552.0h0M1616.7 554.4h0M1629.2 555.6h0M1641.7 557.5h0M1654.1 558.0h0M1666.6 559.2h0M1679.1 559.9h0" stroke="#ff0000" stroke-width="6.2" stroke-linecap="round" fill="none"/>
<path d="M1048.4 571.3v2.8m-3.4 0h6.8m0 -2.8h-6.8M1049.0 571.4v2.8m-3.4 0h6.8m0 -2.8h-6.8M1049.6 570.8v2.8m-3.4 0h6.8m0 -2.8h-6.8M1050.3 571.1v2.8m-3.4 0h6.8m0 -2.8h-6.8M1050.9 571.0v2.8m-3.4 0h6.8m0 -2.8h-6.8M1051.5 570.9v2.8m-3.4 0h6.8m0 -2.8h-6.8M1052.1 571.5v2.8m-3.4 0h6.8m0 -2.8h-6.8M1052.8 571.8v2.8m-3.4 0h6.8m0 -2.8h-6.8M1053.4 570.7v2.8m-3.4 0h6.8m0 -2.8h-6.8M1054.0 570.8v2.8m-3.4 0h6.8m0 -2.8h-6.8M1054.6 571.2v2.8m-3.4 0h6.8m0 -2.8h-6.8M1055.2 571.4v2.8m-3.4 0h6.8m0 -2.8h-6.8M1055.9 569.5v2.8m-3.4 0h6.8m0 -2.8h-6.8M1056.5 571.6v2.8m-3.4 0h6.8m0 -2.8h-6.8M1057.1 571.2v2.8m-3.4 0h6.8m0 -2.8h-6.8M1057.7 570.9v2.8m-3.4 0h6.8m0 -2.8h-6.8M1058.4 571.9v2.8m-3.4 0h6.8m0 -2.8h-6.8M1059.0 571.0v2.8m-3.4 0h6.8m0 -2.8h-6.8M1059.6 569.8v2.8m-3.4 0h6.8m0 -2.8h-6.8M1060.2 570.6v2.8m-3.4 0h6.8m0 -2.8h-6.8M1060.9 570.9v2.8m-3.4 0h6.8m0 -2.8h-6.8M1061.5 571.0v2.8m-3.4 0h6.8m0 -2.8h-6.8M1062.1 571.5v2.8m-3.4 0h6.8m0 -2.8h-6.8M1062.7 571.0v2.8m-3.4 0h6.8m0 -2.8h-6.8M1063.4 571.9v2.8m-3.4 0h6.8m0 -2.8h-6.8M1064.0 572.2v2.8m-3.4 0h6.8m0 -2.8h-6.8M1064.6 571.8v2.8m-3.4 0h6.8m0 -2.8h-6.8M1065.2 571.2v2.8m-3.4 0h6.8m0 -2.8h-6.8M1065.9 571.6v2.8m-3.4 0h6.8m0 -2.8h-6.8M1066.5 571.3v2.8m-3.4 0h6.8m0 -2.8h-6.8M1067.1 573.2v2.8m-3.4 0h6.8m0 -2.8h-6.8M1067.7 570.9v2.8m-3.4 0h6.8m0 -2.8h-6.8M1068.4 570.1v2.8m-3.4 0h6.8m0 -2.8h-6.8M1069.0 570.7v2.8m-3.4 0h6.8m0 -2.8h-6.8M1069.6 571.8v2.8m-3.4 0h6.8m0 -2.8h-6.8M1070.2 572.1v2.8m-3.4 0h6.8m0 -2.8h-6.8M1070.9 571.3v2.8m-3.4 0h6.8m0 -2.8h-6.8M1071.5 572.1v2.8m-3.4 0h6.8m0 -2.8h-6.8M1072.1 570.8v2.8m-3.4 0h6.8m0 -2.8h-6.8M1072.7 571.8v2.8m-3.4 0h6.8m0 -2.8h-6.8M1073.4 570.9v2.8m-3.4 0h6.8m0 -2.8h-6.8M1074.0 570.7v2.8m-3.4 0h6.8m0 -2.8h-6.8M1074.6 573.2v2.8m-3.4 0h6.8m0 -2.8h-6.8M1075.2 571.6v2.8m-3.4 0h6.8m0 -2.8h-6.8M1075.9 572.4v2.8m-3.4 0h6.8m0 -2.8h-6.8M1076.5 573.0v2.8m-3.4 0h6.8m0 -2.8h-6.8M1077.1 572.6v2.8m-3.4 0h6.8m0 -2.8h-6.8M1077.7 572.1v2.8m-3.4 0h6.8m0 -2.8h-6.8M1078.4 570.8v2.8m-3.4 0h6.8m0 -2.8h-6.8M1079.0 572.2v2.8m-3.4 0h6.8m0 -2.8h-6.8M1079.6 570.0v2.8m-3.4 0h6.8m0 -2.8h-6.8M1080.2 568.9v2.8m-3.4 0h6.8m0 -2.8h-6.8M1080.9 569.5v2.8m-3.4 0h6.8m0 -2.8h-6.8M1081.5 569.1v2.8m-3.4 0h6.8m0 -2.8h-6.8M1082.1 569.1v2.8m-3.4 0h6.8m0 -2.8h-6.8M1082.7 569.7v2.8m-3.4 0h6.8m0 -2.8h-6.8M1083.4 568.9v2.8m-3.4 0h6.8m0 -2.8h-6.8M1084.0 569.3v2.8m-3.4 0h6.8m0 -2.8h-6.8M1084.6 569.3v2.8m-3.4 0h6.8m0 -2.8h-6.8M1085.2 568.4v2.8m-3.4 0h6.8m0 -2.8h-6.8M1085.8 570.0v2.8m-3.4 0h6.8m0 -2.8h-6.8M1086.5 570.5v2.8m-3.4 0h6.8m0 -2.8h-6.8M1087.1 569.9v2.8m-3.4 0h6.8m0 -2.8h-6.8M1087.7 572.1v2.8m-3.4 0h6.8m0 -2.8h-6.8M1088.3 572.1v2.8m-3.4 0h6.8m0 -2.8h-6.8M1089.0 571.6v2.8m-3.4 0h6.8m0 -2.8h-6.8M1089.6 572.0v2.8m-3.4 0h6.8m0 -2.8h-6.8M1090.2 571.1v2.8m-3.4 0h6.8m0 -2.8h-6.8M1090.8 572.0v2.8m-3.4 0h6.8m0 -2.8h-6.8M1091.5 570.6v2.8m-3.4 0h6.8m0 -2.8h-6.8M1092.1 570.9v2.8m-3.4 0h6.8m0 -2.8h-6.8M1092.7 571.6v2.8m-3.4 0h6.8m0 -2.8h-6.8M1093.3 572.4v2.8m-3.4 0h6.8m0 -2.8h-6.8M1094.0 571.6v2.8m-3.4 0h6.8m0 -2.8h-6.8M1094.6 571.4v2.8m-3.4 0h6.8m0 -2.8h-6.8M1095.2 572.6v2.8m-3.4 0h6.8m0 -2.8h-6.8M1095.8 571.5v2.8m-3.4 0h6.8m0 -2.8h-6.8M1096.5 571.2v2.8m-3.4 0h6.8m0 -2.8h-6.8M1097.1 571.5v2.8m-3.4 0h6.8m0 -2.8h-6.8M1097.7 570.4v2.8m-3.4 0h6.8m0 -2.8h-6.8M1098.3 570.6v2.8m-3.4 0h6.8m0 -2.8h-6.8M1099.0 572.0v2.8m-3.4 0h6.8m0 -2.8h-6.8M1099.6 571.2v2.8m-3.4 0h6.8m0 -2.8h-6.8M1100.2 571.8v2.8m-3.4 0h6.8m0 -2.8h-6.8M1100.8 570.8v2.8m-3.4 0h6.8m0 -2.8h-6.8M1101.5 571.7v2.8m-3.4 0h6.8m0 -2.8h-6.8M1102.1 570.4v2.8m-3.4 0h6.8m0 -2.8h-6.8M1102.7 570.7v2.8m-3.4 0h6.8m0 -2.8h-6.8M1103.3 570.2v2.8m-3.4 0h6.8m0 -2.8h-6.8M1104.0 570.9v2.8m-3.4 0h6.8m0 -2.8h-6.8M1104.6 571.8v2.8m-3.4 0h6.8m0 -2.8h-6.8M1105.2 569.7v2.8m-3.4 0h6.8m0 -2.8h-6.8M1105.8 571.3v2.8m-3.4 0h6.8m0 -2.8h-6.8M1106.5 570.3v2.8m-3.4 0h6.8m0 -2.8h-6.8M1107.1 571.2v2.8m-3.4 0h6.8m0 -2.8h-6.8M1107.7 571.2v2.8m-3.4 0h6.8m0 -2.8h-6.8M1108.3 570.5v2.8m-3.4 0h6.8m0 -2.8h-6.8M1109.0 571.8v2.8m-3.4 0h6.8m0 -2.8h-6.8M1109.6 571.2v2.8m-3.4 0h6.8m0 -2.8h-6.8M1110.2 573.4v2.8m-3.4 0h6.8m0 -2.8h-6.8M1110.8 572.0v2.8m-3.4 0h6.8m0 -2.8h-6.8M1111.5 573.0v2.8m-3.4 0h6.8m0 -2.8h-6.8M1112.1 573.1v2.8m-3.4 0h6.8m0 -2.8h-6.8M1112.7 573.3v2.8m-3.4 0h6.8m0 -2.8h-6.8M1113.3 573.2v2.8m-3.4 0h6.8m0 -2.8h-6.8M1114.0 572.5v2.8m-3.4 0h6.8m0 -2.8h-6.8M1114.6 574.8v2.8m-3.4 0h6.8m0 -2.8h-6.8M1115.2 573.4v2.8m-3.4 0h6.8m0 -2.8h-6.8M1115.8 573.8v2.8m-3.4 0h6.8m0 -2.8h-6.8M1116.5 572.3v2.8m-3.4 0h6.8m0 -2.8h-6.8M1117.1 573.3v2.8m-3.4 0h6.8m0 -2.8h-6.8M1117.7 572.5v2.8m-3.4 0h6.8m0 -2.8h-6.8M1118.3 572.9v2.8m-3.4 0h6.8m0 -2.8h-6.8M1118.9 571.9v2.8m-3.4 0h6.8m0 -2.8h-6.8M1119.6 571.4v2.8m-3.4 0h6.8m0 -2.8h-6.8M1120.2 572.2v2.8m-3.4 0h6.8m0 -2.8h-6.8M1120.8 571.6v2.8m-3.4 0h6.8m0 -2.8h-6.8M1121.4 572.4v2.8m-3.4 0h6.8m0 -2.8h-6.8M1122.1 570.9v2.8m-3.4 0h6.8m0 -2.8h-6.8M1122.7 570.3v2.8m-3.4 0h6.8m0 -2.8h-6.8M1123.3 571.1v2.8m-3.4 0h6.8m0 -2.8h-6.8M1123.9 569.8v2.8m-3.4 0h6.8m0 -2.8h-6.8M1124.6 571.8v2.8m-3.4 0h6.8m0 -2.8h-6.8M1125.2 571.5v2.8m-3.4 0h6.8m0 -2.8h-6.8M1125.8 571.0v2.8m-3.4 0h6.8m0 -2.8h-6.8M1126.4 570.2v2.8m-3.4 0h6.8m0 -2.8h-6.8M1127.1 570.1v2.8m-3.4 0h6.8m0 -2.8h-6.8M1127.7 570.4v2.8m-3.4 0h6.8m0 -2.8h-6.8M1128.3 570.6v2.8m-3.4 0h6.8m0 -2.8h-6.8M1128.9 570.3v2.8m-3.4 0h6.8m0 -2.8h-6.8M1129.6 571.4v2.8m-3.4 0h6.8m0 -2.8h-6.8M1130.2 572.2v2.8m-3.4 0h6.8m0 -2.8h-6.8M1130.8 572.4v2.8m-3.4 0h6.8m0 -2.8h-6.8M1131.4 570.4v2.8m-3.4 0h6.8m0 -2.8h-6.8M1132.1 573.8v2.8m-3.4 0h6.8m0 -2.8h-6.8M1132.7 572.5v2.8m-3.4 0h6.8m0 -2.8h-6.8M1133.3 571.7v2.8m-3.4 0h6.8m0 -2.8h-6.8M1133.9 572.7v2.8m-3.4 0h6.8m0 -2.8h-6.8M1134.6 573.9v2.8m-3.4 0h6.8m0 -2.8h-6.8M1135.2 573.2v2.8m-3.4 0h6.8m0 -2.8h-6.8M1135.8 572.3v2.8m-3.4 0h6.8m0 -2.8h-6.8M1136.4 571.7v2.8m-3.4 0h6.8m0 -2.8h-6.8M1137.1 572.9v2.8m-3.4 0h6.8m0 -2.8h-6.8M1137.7 571.5v2.8m-3.4 0h6.8m0 -2.8h-6.8M1138.3 571.5v2.8m-3.4 0h6.8m0 -2.8h-6.8M1138.9 570.6v2.8m-3.4 0h6.8m0 -2.8h-6.8M1139.6 570.1v2.8m-3.4 0h6.8m0 -2.8h-6.8M1140.2 571.0v2.8m-3.4 0h6.8m0 -2.8h-6.8M1140.8 571.5v2.8m-3.4 0h6.8m0 -2.8h-6.8M1141.4 569.9v2.8m-3.4 0h6.8m0 -2.8h-6.8M1142.1 568.6v2.8m-3.4 0h6.8m0 -2.8h-6.8M1142.7 569.1v2.8m-3.4 0h6.8m0 -2.8h-6.8M1143.3 569.2v2.8m-3.4 0h6.8m0 -2.8h-6.8M1143.9 567.7v2.8m-3.4 0h6.8m0 -2.8h-6.8M1144.6 570.1v2.8m-3.4 0h6.8m0 -2.8h-6.8M1145.2 568.7v2.8m-3.4 0h6.8m0 -2.8h-6.8M1145.8 569.8v2.8m-3.4 0h6.8m0 -2.8h-6.8M1146.4 569.3v2.8m-3.4 0h6.8m0 -2.8h-6.8M1147.1 569.3v2.8m-3.4 0h6.8m0 -2.8h-6.8M1147.7 568.4v2.8m-3.4 0h6.8m0 -2.8h-6.8M1148.3 570.2v2.8m-3.4 0h6.8m0 -2.8h-6.8M1148.9 570.1v2.8m-3.4 0h6.8m0 -2.8h-6.8M1149.5 571.0v2.8m-3.4 0h6.8m0 -2.8h-6.8M1150.2 569.6v2.8m-3.4 0h6.8m0 -2.8h-6.8M1150.8 570.4v2.8m-3.4 0h6.8m0 -2.8h-6.8M1151.4 569.9v2.8m-3.4 0h6.8m0 -2.8h-6.8M1152.0 571.1v2.8m-3.4 0h6.8m0 -2.8h-6.8M1152.7 570.7v2.8m-3.4 0h6.8m0 -2.8h-6.8M1153.3 569.9v2.8m-3.4 0h6.8m0 -2.8h-6.8M1153.9 570.9v2.8m-3.4 0h6.8m0 -2.8h-6.8M1154.5 570.5v2.8m-3.4 0h6.8m0 -2.8h-6.8M1155.2 570.7v2.8m-3.4 0h6.8m0 -2.8h-6.8M1155.8 571.4v2.8m-3.4 0h6.8m0 -2.8h-6.8M1156.4 572.4v2.8m-3.4 0h6.8m0 -2.8h-6.8M1157.0 570.7v2.8m-3.4 0h6.8m0 -2.8h-6.8M1157.7 571.4v2.8m-3.4 0h6.8m0 -2.8h-6.8M1158.3 571.0v2.8m-3.4 0h6.8m0 -2.8h-6.8M1158.9 573.2v2.8m-3.4 0h6.8m0 -2.8h-6.8M1159.5 573.1v2.8m-3.4 0h6.8m0 -2.8h-6.8M1160.2 573.7v2.8m-3.4 0h6.8m0 -2.8h-6.8M1160.8 573.0v2.8m-3.4 0h6.8m0 -2.8h-6.8M1161.4 571.9v2.8m-3.4 0h6.8m0 -2.8h-6.8M1162.0 572.5v2.8m-3.4 0h6.8m0 -2.8h-6.8M1162.7 573.2v2.8m-3.4 0h6.8m0 -2.8h-6.8M1163.3 573.4v2.8m-3.4 0h6.8m0 -2.8h-6.8M1163.9 573.2v2.8m-3.4 0h6.8m0 -2.8h-6.8M1164.5 573.5v2.8m-3.4 0h6.8m0 -2.8h-6.8M1165.2 572.6v2.8m-3.4 0h6.8m0 -2.8h-6.8M1165.8 572.3v2.8m-3.4 0h6.8m0 -2.8h-6.8M1166.4 573.4v2.8m-3.4 0h6.8m0 -2.8h-6.8M1167.0 571.7v2.8m-3.4 0h6.8m0 -2.8h-6.8M1167.7 570.0v2.8m-3.4 0h6.8m0 -2.8h-6.8M1168.3 570.8v2.8m-3.4 0h6.8m0 -2.8h-6.8M1168.9 570.4v2.8m-3.4 0h6.8m0 -2.8h-6.8M1169.5 570.5v2.8m-3.4 0h6.8m0 -2.8h-6.8M1170.2 570.2v2.8m-3.4 0h6.8m0 -2.8h-6.8M1170.8 568.9v2.8m-3.4 0h6.8m0 -2.8h-6.8M1171.4 569.6v2.8m-3.4 0h6.8m0 -2.8h-6.8M1172.0 569.9v2.8m-3.4 0h6.8m0 -2.8h-6.8M1172.7 571.3v2.8m-3.4 0h6.8m0 -2.8h-6.8M1173.3 569.5v2.8m-3.4 0h6.8m0 -2.8h-6.8M1173.9 570.4v2.8m-3.4 0h6.8m0 -2.8h-6.8M1174.5 570.3v2.8m-3.4 0h6.8m0 -2.8h-6.8M1175.2 568.4v2.8m-3.4 0h6.8m0 -2.8h-6.8M1175.8 568.5v2.8m-3.4 0h6.8m0 -2.8h-6.8M1176.4 570.3v2.8m-3.4 0h6.8m0 -2.8h-6.8M1177.0 568.2v2.8m-3.4 0h6.8m0 -2.8h-6.8M1177.7 568.3v2.8m-3.4 0h6.8m0 -2.8h-6.8M1178.3 569.0v2.8m-3.4 0h6.8m0 -2.8h-6.8M1178.9 567.8v2.8m-3.4 0h6.8m0 -2.8h-6.8M1179.5 569.3v2.8m-3.4 0h6.8m0 -2.8h-6.8M1180.1 568.8v2.8m-3.4 0h6.8m0 -2.8h-6.8M1180.8 568.8v2.8m-3.4 0h6.8m0 -2.8h-6.8M1181.4 568.6v2.8m-3.4 0h6.8m0 -2.8h-6.8M1182.0 567.2v2.8m-3.4 0h6.8m0 -2.8h-6.8M1182.6 568.7v2.8m-3.4 0h6.8m0 -2.8h-6.8M1183.3 568.6v2.8m-3.4 0h6.8m0 -2.8h-6.8M1183.9 568.4v2.8m-3.4 0h6.8m0 -2.8h-6.8M1184.5 567.6v2.8m-3.4 0h6.8m0 -2.8h-6.8M1185.1 568.0v2.8m-3.4 0h6.8m0 -2.8h-6.8M1185.8 567.1v2.8m-3.4 0h6.8m0 -2.8h-6.8M1186.4 568.2v2.8m-3.4 0h6.8m0 -2.8h-6.8M1187.0 568.6v2.8m-3.4 0h6.8m0 -2.8h-6.8M1187.6 568.1v2.8m-3.4 0h6.8m0 -2.8h-6.8M1188.3 567.7v2.8m-3.4 0h6.8m0 -2.8h-6.8M1188.9 568.3v2.8m-3.4 0h6.8m0 -2.8h-6.8M1189.5 567.4v2.8m-3.4 0h6.8m0 -2.8h-6.8M1190.1 566.3v2.8m-3.4 0h6.8m0 -2.8h-6.8M1190.8 568.0v2.8m-3.4 0h6.8m0 -2.8h-6.8M1191.4 567.6v2.8m-3.4 0h6.8m0 -2.8h-6.8M1192.0 566.6v2.8m-3.4 0h6.8m0 -2.8h-6.8M1192.6 568.0v2.8m-3.4 0h6.8m0 -2.8h-6.8M1193.3 568.1v2.8m-3.4 0h6.8m0 -2.8h-6.8M1193.9 568.2v2.8m-3.4 0h6.8m0 -2.8h-6.8M1194.5 567.1v2.8m-3.4 0h6.8m0 -2.8h-6.8M1195.1 566.9v2.8m-3.4 0h6.8m0 -2.8h-6.8M1195.8 567.3v2.8m-3.4 0h6.8m0 -2.8h-6.8M1196.4 567.0v2.8m-3.4 0h6.8m0 -2.8h-6.8M1197.0 566.1v2.8m-3.4 0h6.8m0 -2.8h-6.8M1197.6 566.2v2.8m-3.4 0h6.8m0 -2.8h-6.8M1198.3 567.6v2.8m-3.4 0h6.8m0 -2.8h-6.8M1198.9 566.4v2.8m-3.4 0h6.8m0 -2.8h-6.8M1199.5 566.1v2.8m-3.4 0h6.8m0 -2.8h-6.8M1200.1 565.5v2.8m-3.4 0h6.8m0 -2.8h-6.8M1200.8 565.9v2.8m-3.4 0h6.8m0 -2.8h-6.8M1201.4 566.0v2.8m-3.4 0h6.8m0 -2.8h-6.8M1202.0 565.8v2.8m-3.4 0h6.8m0 -2.8h-6.8M1202.6 566.6v2.8m-3.4 0h6.8m0 -2.8h-6.8M1203.3 565.3v2.8m-3.4 0h6.8m0 -2.8h-6.8M1203.9 565.6v2.8m-3.4 0h6.8m0 -2.8h-6.8M1204.5 564.8v2.8m-3.4 0h6.8m0 -2.8h-6.8M1205.1 565.7v2.8m-3.4 0h6.8m0 -2.8h-6.8M1205.8 565.2v2.8m-3.4 0h6.8m0 -2.8h-6.8M1206.4 565.4v2.8m-3.4 0h6.8m0 -2.8h-6.8M1207.0 565.2v2.8m-3.4 0h6.8m0 -2.8h-6.8M1207.6 563.8v2.8m-3.4 0h6.8m0 -2.8h-6.8M1208.3 564.4v2.8m-3.4 0h6.8m0 -2.8h-6.8M1208.9 563.6v2.8m-3.4 0h6.8m0 -2.8h-6.8M1209.5 564.4v2.8m-3.4 0h6.8m0 -2.8h-6.8M1210.1 563.5v2.8m-3.4 0h6.8m0 -2.8h-6.8M1210.8 564.9v2.8m-3.4 0h6.8m0 -2.8h-6.8M1211.4 564.3v2.8m-3.4 0h6.8m0 -2.8h-6.8M1212.0 564.4v2.8m-3.4 0h6.8m0 -2.8h-6.8M1212.6 563.8v2.8m-3.4 0h6.8m0 -2.8h-6.8M1213.2 564.3v2.8m-3.4 0h6.8m0 -2.8h-6.8M1213.9 564.7v2.8m-3.4 0h6.8m0 -2.8h-6.8M1214.5 564.1v2.8m-3.4 0h6.8m0 -2.8h-6.8M1215.1 564.7v2.8m-3.4 0h6.8m0 -2.8h-6.8M1215.7 564.6v2.8m-3.4 0h6.8m0 -2.8h-6.8M1216.4 564.6v2.8m-3.4 0h6.8m0 -2.8h-6.8M1217.0 565.4v2.8m-3.4 0h6.8m0 -2.8h-6.8M1217.6 565.7v2.8m-3.4 0h6.8m0 -2.8h-6.8M1218.2 565.4v2.8m-3.4 0h6.8m0 -2.8h-6.8M1218.9 565.9v2.8m-3.4 0h6.8m0 -2.8h-6.8M1219.5 565.3v2.8m-3.4 0h6.8m0 -2.8h-6.8M1220.1 564.7v2.8m-3.4 0h6.8m0 -2.8h-6.8M1220.7 564.9v2.8m-3.4 0h6.8m0 -2.8h-6.8M1221.4 565.7v2.8m-3.4 0h6.8m0 -2.8h-6.8M1222.0 566.3v2.8m-3.4 0h6.8m0 -2.8h-6.8M1222.6 565.4v2.8m-3.4 0h6.8m0 -2.8h-6.8M1223.2 565.5v2.8m-3.4 0h6.8m0 -2.8h-6.8M1223.9 564.7v2.8m-3.4 0h6.8m0 -2.8h-6.8M1224.5 565.8v2.8m-3.4 0h6.8m0 -2.8h-6.8M1225.1 565.7v2.8m-3.4 0h6.8m0 -2.8h-6.8M1225.7 565.1v2.8m-3.4 0h6.8m0 -2.8h-6.8M1226.4 566.0v2.8m-3.4 0h6.8m0 -2.8h-6.8M1227.0 565.9v2.8m-3.4 0h6.8m0 -2.8h-6.8M1227.6 564.8v2.8m-3.4 0h6.8m0 -2.8h-6.8M1228.2 565.2v2.8m-3.4 0h6.8m0 -2.8h-6.8M1228.9 566.1v2.8m-3.4 0h6.8m0 -2.8h-6.8M1229.5 566.5v2.8m-3.4 0h6.8m0 -2.8h-6.8M1230.1 567.6v2.8m-3.4 0h6.8m0 -2.8h-6.8M1230.7 566.8v2.8m-3.4 0h6.8m0 -2.8h-6.8M1231.4 567.3v2.8m-3.4 0h6.8m0 -2.8h-6.8M1232.0 567.4v2.8m-3.4 0h6.8m0 -2.8h-6.8M1232.6 568.0v2.8m-3.4 0h6.8m0 -2.8h-6.8M1233.2 567.9v2.8m-3.4 0h6.8m0 -2.8h-6.8M1233.9 568.1v2.8m-3.4 0h6.8m0 -2.8h-6.8M1234.5 567.9v2.8m-3.4 0h6.8m0 -2.8h-6.8M1235.1 567.3v2.8m-3.4 0h6.8m0 -2.8h-6.8M1235.7 568.2v2.8m-3.4 0h6.8m0 -2.8h-6.8M1236.4 569.8v2.8m-3.4 0h6.8m0 -2.8h-6.8M1237.0 569.5v2.8m-3.4 0h6.8m0 -2.8h-6.8M1237.6 570.1v2.8m-3.4 0h6.8m0 -2.8h-6.8M1238.2 569.7v2.8m-3.4 0h6.8m0 -2.8h-6.8M1238.9 568.9v2.8m-3.4 0h6.8m0 -2.8h-6.8M1239.5 569.0v2.8m-3.4 0h6.8m0 -2.8h-6.8M1240.1 569.5v2.8m-3.4 0h6.8m0 -2.8h-6.8M1240.7 568.8v2.8m-3.4 0h6.8m0 -2.8h-6.8M1241.4 569.3v2.8m-3.4 0h6.8m0 -2.8h-6.8M1242.0 569.6v2.8m-3.4 0h6.8m0 -2.8h-6.8M1242.6 569.5v2.8m-3.4 0h6.8m0 -2.8h-6.8M1243.2 568.9v2.8m-3.4 0h6.8m0 -2.8h-6.8M1243.8 567.2v2.8m-3.4 0h6.8m0 -2.8h-6.8M1244.5 569.0v2.8m-3.4 0h6.8m0 -2.8h-6.8M1245.1 567.1v2.8m-3.4 0h6.8m0 -2.8h-6.8M1245.7 566.9v2.8m-3.4 0h6.8m0 -2.8h-6.8M1246.3 567.8v2.8m-3.4 0h6.8m0 -2.8h-6.8M1247.0 567.6v2.8m-3.4 0h6.8m0 -2.8h-6.8M1247.6 567.9v2.8m-3.4 0h6.8m0 -2.8h-6.8M1248.2 567.4v2.8m-3.4 0h6.8m0 -2.8h-6.8M1248.8 566.8v2.8m-3.4 0h6.8m0 -2.8h-6.8M1249.5 567.2v2.8m-3.4 0h6.8m0 -2.8h-6.8M1250.1 566.4v2.8m-3.4 0h6.8m0 -2.8h-6.8M1250.7 566.2v2.8m-3.4 0h6.8m0 -2.8h-6.8M1251.3 566.7v2.8m-3.4 0h6.8m0 -2.8h-6.8M1252.0 566.8v2.8m-3.4 0h6.8m0 -2.8h-6.8M1252.6 567.1v2.8m-3.4 0h6.8m0 -2.8h-6.8M1253.2 566.9v2.8m-3.4 0h6.8m0 -2.8h-6.8M1253.8 568.0v2.8m-3.4 0h6.8m0 -2.8h-6.8M1254.5 567.1v2.8m-3.4 0h6.8m0 -2.8h-6.8M1255.1 567.3v2.8m-3.4 0h6.8m0 -2.8h-6.8M1255.7 568.1v2.8m-3.4 0h6.8m0 -2.8h-6.8M1256.3 565.9v2.8m-3.4 0h6.8m0 -2.8h-6.8M1257.0 568.0v2.8m-3.4 0h6.8m0 -2.8h-6.8M1257.6 567.8v2.8m-3.4 0h6.8m0 -2.8h-6.8M1258.2 566.8v2.8m-3.4 0h6.8m0 -2.8h-6.8M1258.8 568.3v2.8m-3.4 0h6.8m0 -2.8h-6.8M1259.5 567.3v2.8m-3.4 0h6.8m0 -2.8h-6.8M1260.1 567.7v2.8m-3.4 0h6.8m0 -2.8h-6.8M1260.7 567.1v2.8m-3.4 0h6.8m0 -2.8h-6.8M1261.3 566.3v2.8m-3.4 0h6.8m0 -2.8h-6.8M1262.0 565.8v2.8m-3.4 0h6.8m0 -2.8h-6.8M1262.6 565.1v2.8m-3.4 0h6.8m0 -2.8h-6.8M1263.2 565.1v2.8m-3.4 0h6.8m0 -2.8h-6.8M1263.8 564.6v2.8m-3.4 0h6.8m0 -2.8h-6.8M1264.5 565.1v2.8m-3.4 0h6.8m0 -2.8h-6.8M1265.1 566.1v2.8m-3.4 0h6.8m0 -2.8h-6.8M1265.7 565.3v2.8m-3.4 0h6.8m0 -2.8h-6.8M1266.3 566.7v2.8m-3.4 0h6.8m0 -2.8h-6.8M1267.0 567.1v2.8m-3.4 0h6.8m0 -2.8h-6.8M1267.6 565.9v2.8m-3.4 0h6.8m0 -2.8h-6.8M1268.2 566.7v2.8m-3.4 0h6.8m0 -2.8h-6.8M1268.8 567.2v2.8m-3.4 0h6.8m0 -2.8h-6.8M1269.5 567.0v2.8m-3.4 0h6.8m0 -2.8h-6.8M1270.1 567.1v2.8m-3.4 0h6.8m0 -2.8h-6.8M1270.7 568.8v2.8m-3.4 0h6.8m0 -2.8h-6.8M1271.3 568.1v2.8m-3.4 0h6.8m0 -2.8h-6.8M1272.0 569.0v2.8m-3.4 0h6.8m0 -2.8h-6.8M1272.6 568.3v2.8m-3.4 0h6.8m0 -2.8h-6.8M1273.2 568.7v2.8m-3.4 0h6.8m0 -2.8h-6.8M1273.8 567.2v2.8m-3.4 0h6.8m0 -2.8h-6.8M1274.4 567.7v2.8m-3.4 0h6.8m0 -2.8h-6.8M1275.1 568.6v2.8m-3.4 0h6.8m0 -2.8h-6.8M1275.7 568.0v2.8m-3.4 0h6.8m0 -2.8h-6.8M1276.3 568.7v2.8m-3.4 0h6.8m0 -2.8h-6.8M1276.9 567.8v2.8m-3.4 0h6.8m0 -2.8h-6.8M1277.6 567.5v2.8m-3.4 0h6.8m0 -2.8h-6.8M1278.2 567.8v2.8m-3.4 0h6.8m0 -2.8h-6.8M1278.8 569.3v2.8m-3.4 0h6.8m0 -2.8h-6.8M1279.4 568.3v2.8m-3.4 0h6.8m0 -2.8h-6.8M1280.1 567.7v2.8m-3.4 0h6.8m0 -2.8h-6.8M1280.7 567.9v2.8m-3.4 0h6.8m0 -2.8h-6.8M1281.3 567.4v2.8m-3.4 0h6.8m0 -2.8h-6.8M1281.9 569.3v2.8m-3.4 0h6.8m0 -2.8h-6.8M1282.6 568.2v2.8m-3.4 0h6.8m0 -2.8h-6.8M1283.2 569.2v2.8m-3.4 0h6.8m0 -2.8h-6.8M1283.8 568.8v2.8m-3.4 0h6.8m0 -2.8h-6.8M1284.4 568.8v2.8m-3.4 0h6.8m0 -2.8h-6.8M1285.1 568.8v2.8m-3.4 0h6.8m0 -2.8h-6.8M1285.7 569.8v2.8m-3.4 0h6.8m0 -2.8h-6.8M1286.3 569.5v2.8m-3.4 0h6.8m0 -2.8h-6.8M1286.9 570.7v2.8m-3.4 0h6.8m0 -2.8h-6.8M1287.6 571.0v2.8m-3.4 0h6.8m0 -2.8h-6.8M1288.2 569.8v2.8m-3.4 0h6.8m0 -2.8h-6.8M1288.8 570.0v2.8m-3.4 0h6.8m0 -2.8h-6.8M1289.4 570.8v2.8m-3.4 0h6.8m0 -2.8h-6.8M1290.1 570.0v2.8m-3.4 0h6.8m0 -2.8h-6.8M1290.7 569.1v2.8m-3.4 0h6.8m0 -2.8h-6.8M1291.3 567.7v2.8m-3.4 0h6.8m0 -2.8h-6.8M1291.9 567.8v2.8m-3.4 0h6.8m0 -2.8h-6.8M1292.6 567.6v2.8m-3.4 0h6.8m0 -2.8h-6.8M1293.2 569.1v2.8m-3.4 0h6.8m0 -2.8h-6.8M1293.8 567.6v2.8m-3.4 0h6.8m0 -2.8h-6.8M1294.4 566.9v2.8m-3.4 0h6.8m0 -2.8h-6.8M1295.1 566.6v2.8m-3.4 0h6.8m0 -2.8h-6.8M1295.7 566.3v2.8m-3.4 0h6.8m0 -2.8h-6.8M1296.3 566.5v2.8m-3.4 0h6.8m0 -2.8h-6.8M1296.9 564.8v2.8m-3.4 0h6.8m0 -2.8h-6.8M1297.6 564.7v2.8m-3.4 0h6.8m0 -2.8h-6.8M1298.2 565.5v2.8m-3.4 0h6.8m0 -2.8h-6.8M1298.8 566.1v2.8m-3.4 0h6.8m0 -2.8h-6.8M1299.4 564.2v2.8m-3.4 0h6.8m0 -2.8h-6.8M1300.1 566.3v2.8m-3.4 0h6.8m0 -2.8h-6.8M1300.7 565.4v2.8m-3.4 0h6.8m0 -2.8h-6.8M1301.3 565.2v2.8m-3.4 0h6.8m0 -2.8h-6.8M1301.9 567.5v2.8m-3.4 0h6.8m0 -2.8h-6.8M1302.6 566.9v2.8m-3.4 0h6.8m0 -2.8h-6.8M1303.2 567.4v2.8m-3.4 0h6.8m0 -2.8h-6.8M1303.8 566.8v2.8m-3.4 0h6.8m0 -2.8h-6.8M1304.4 566.9v2.8m-3.4 0h6.8m0 -2.8h-6.8M1305.0 565.7v2.8m-3.4 0h6.8m0 -2.8h-6.8M1305.7 566.7v2.8m-3.4 0h6.8m0 -2.8h-6.8M1306.3 566.9v2.8m-3.4 0h6.8m0 -2.8h-6.8M1306.9 565.8v2.8m-3.4 0h6.8m0 -2.8h-6.8M1307.5 566.5v2.8m-3.4 0h6.8m0 -2.8h-6.8M1308.2 566.3v2.8m-3.4 0h6.8m0 -2.8h-6.8M1308.8 564.2v2.8m-3.4 0h6.8m0 -2.8h-6.8M1309.4 566.1v2.8m-3.4 0h6.8m0 -2.8h-6.8M1310.0 565.6v2.8m-3.4 0h6.8m0 -2.8h-6.8M1310.7 565.0v2.8m-3.4 0h6.8m0 -2.8h-6.8M1311.3 565.6v2.8m-3.4 0h6.8m0 -2.8h-6.8M1311.9 566.1v2.8m-3.4 0h6.8m0 -2.8h-6.8M1312.5 563.7v2.8m-3.4 0h6.8m0 -2.8h-6.8M1313.2 564.8v2.8m-3.4 0h6.8m0 -2.8h-6.8M1313.8 564.4v2.8m-3.4 0h6.8m0 -2.8h-6.8M1314.4 564.1v2.8m-3.4 0h6.8m0 -2.8h-6.8M1315.0 564.5v2.8m-3.4 0h6.8m0 -2.8h-6.8M1315.7 564.5v2.8m-3.4 0h6.8m0 -2.8h-6.8M1316.3 563.5v2.8m-3.4 0h6.8m0 -2.8h-6.8M1316.9 561.9v2.8m-3.4 0h6.8m0 -2.8h-6.8M1317.5 562.9v2.8m-3.4 0h6.8m0 -2.8h-6.8M1318.2 562.9v2.8m-3.4 0h6.8m0 -2.8h-6.8M1318.8 564.5v2.8m-3.4 0h6.8m0 -2.8h-6.8M1319.4 563.6v2.8m-3.4 0h6.8m0 -2.8h-6.8M1320.0 564.6v2.8m-3.4 0h6.8m0 -2.8h-6.8M1320.7 563.4v2.8m-3.4 0h6.8m0 -2.8h-6.8M1321.3 564.3v2.8m-3.4 0h6.8m0 -2.8h-6.8M1321.9 564.2v2.8m-3.4 0h6.8m0 -2.8h-6.8M1322.5 564.5v2.8m-3.4 0h6.8m0 -2.8h-6.8M1323.2 565.0v2.8m-3.4 0h6.8m0 -2.8h-6.8M1323.8 565.8v2.8m-3.4 0h6.8m0 -2.8h-6.8M1324.4 564.5v2.8m-3.4 0h6.8m0 -2.8h-6.8M1325.0 566.0v2.8m-3.4 0h6.8m0 -2.8h-6.8M1325.7 566.1v2.8m-3.4 0h6.8m0 -2.8h-6.8M1326.3 565.6v2.8m-3.4 0h6.8m0 -2.8h-6.8M1326.9 566.0v2.8m-3.4 0h6.8m0 -2.8h-6.8M1327.5 565.4v2.8m-3.4 0h6.8m0 -2.8h-6.8M1328.2 564.9v2.8m-3.4 0h6.8m0 -2.8h-6.8M1328.8 565.5v2.8m-3.4 0h6.8m0 -2.8h-6.8M1329.4 565.5v2.8m-3.4 0h6.8m0 -2.8h-6.8M1330.0 565.7v2.8m-3.4 0h6.8m0 -2.8h-6.8M1330.7 565.2v2.8m-3.4 0h6.8m0 -2.8h-6.8M1331.3 567.0v2.8m-3.4 0h6.8m0 -2.8h-6.8M1331.9 565.3v2.8m-3.4 0h6.8m0 -2.8h-6.8M1332.5 566.0v2.8m-3.4 0h6.8m0 -2.8h-6.8M1333.2 566.1v2.8m-3.4 0h6.8m0 -2.8h-6.8M1333.8 565.1v2.8m-3.4 0h6.8m0 -2.8h-6.8M1334.4 565.2v2.8m-3.4 0h6.8m0 -2.8h-6.8M1335.0 564.3v2.8m-3.4 0h6.8m0 -2.8h-6.8M1335.7 563.7v2.8m-3.4 0h6.8m0 -2.8h-6.8M1336.3 565.9v2.8m-3.4 0h6.8m0 -2.8h-6.8M1336.9 564.1v2.8m-3.4 0h6.8m0 -2.8h-6.8M1337.5 562.4v2.8m-3.4 0h6.8m0 -2.8h-6.8M1338.1 562.9v2.8m-3.4 0h6.8m0 -2.8h-6.8M1338.8 562.2v2.8m-3.4 0h6.8m0 -2.8h-6.8M1339.4 563.0v2.8m-3.4 0h6.8m0 -2.8h-6.8M1340.0 564.0v2.8m-3.4 0h6.8m0 -2.8h-6.8M1340.6 563.7v2.8m-3.4 0h6.8m0 -2.8h-6.8M1341.3 562.3v2.8m-3.4 0h6.8m0 -2.8h-6.8M1341.9 562.0v2.8m-3.4 0h6.8m0 -2.8h-6.8M1342.5 563.1v2.8m-3.4 0h6.8m0 -2.8h-6.8M1343.1 562.7v2.8m-3.4 0h6.8m0 -2.8h-6.8M1343.8 562.4v2.8m-3.4 0h6.8m0 -2.8h-6.8M1344.4 564.0v2.8m-3.4 0h6.8m0 -2.8h-6.8M1345.0 563.1v2.8m-3.4 0h6.8m0 -2.8h-6.8M1345.6 561.9v2.8m-3.4 0h6.8m0 -2.8h-6.8M1346.3 561.7v2.8m-3.4 0h6.8m0 -2.8h-6.8M1346.9 563.4v2.8m-3.4 0h6.8m0 -2.8h-6.8M1347.5 562.2v2.8m-3.4 0h6.8m0 -2.8h-6.8M1348.1 563.8v2.8m-3.4 0h6.8m0 -2.8h-6.8M1348.8 563.9v2.8m-3.4 0h6.8m0 -2.8h-6.8M1349.4 564.8v2.8m-3.4 0h6.8m0 -2.8h-6.8M1350.0 562.5v2.8m-3.4 0h6.8m0 -2.8h-6.8M1350.6 563.3v2.8m-3.4 0h6.8m0 -2.8h-6.8M1351.3 561.3v2.8m-3.4 0h6.8m0 -2.8h-6.8M1351.9 562.6v2.8m-3.4 0h6.8m0 -2.8h-6.8M1352.5 562.7v2.8m-3.4 0h6.8m0 -2.8h-6.8M1353.1 564.2v2.8m-3.4 0h6.8m0 -2.8h-6.8M1353.8 561.9v2.8m-3.4 0h6.8m0 -2.8h-6.8M1354.4 563.3v2.8m-3.4 0h6.8m0 -2.8h-6.8M1355.0 563.2v2.8m-3.4 0h6.8m0 -2.8h-6.8M1355.6 564.7v2.8m-3.4 0h6.8m0 -2.8h-6.8M1356.3 562.5v2.8m-3.4 0h6.8m0 -2.8h-6.8M1356.9 562.5v2.8m-3.4 0h6.8m0 -2.8h-6.8M1357.5 563.7v2.8m-3.4 0h6.8m0 -2.8h-6.8M1358.1 563.3v2.8m-3.4 0h6.8m0 -2.8h-6.8M1358.8 563.2v2.8m-3.4 0h6.8m0 -2.8h-6.8M1359.4 562.9v2.8m-3.4 0h6.8m0 -2.8h-6.8M1360.0 563.6v2.8m-3.4 0h6.8m0 -2.8h-6.8M1360.6 562.6v2.8m-3.4 0h6.8m0 -2.8h-6.8M1361.3 564.1v2.8m-3.4 0h6.8m0 -2.8h-6.8M1361.9 564.4v2.8m-3.4 0h6.8m0 -2.8h-6.8M1362.5 564.5v2.8m-3.4 0h6.8m0 -2.8h-6.8M1363.1 566.0v2.8m-3.4 0h6.8m0 -2.8h-6.8M1363.8 564.9v2.8m-3.4 0h6.8m0 -2.8h-6.8M1364.4 563.8v2.8m-3.4 0h6.8m0 -2.8h-6.8M1365.0 564.3v2.8m-3.4 0h6.8m0 -2.8h-6.8M1365.6 565.0v2.8m-3.4 0h6.8m0 -2.8h-6.8M1366.3 564.1v2.8m-3.4 0h6.8m0 -2.8h-6.8M1366.9 565.7v2.8m-3.4 0h6.8m0 -2.8h-6.8M1367.5 564.5v2.8m-3.4 0h6.8m0 -2.8h-6.8M1368.1 563.9v2.8m-3.4 0h6.8m0 -2.8h-6.8M1368.7 563.7v2.8m-3.4 0h6.8m0 -2.8h-6.8M1369.4 564.7v2.8m-3.4 0h6.8m0 -2.8h-6.8M1370.0 563.4v2.8m-3.4 0h6.8m0 -2.8h-6.8M1370.6 562.7v2.8m-3.4 0h6.8m0 -2.8h-6.8M1371.2 564.2v2.8m-3.4 0h6.8m0 -2.8h-6.8M1371.9 563.3v2.8m-3.4 0h6.8m0 -2.8h-6.8M1372.5 564.8v2.8m-3.4 0h6.8m0 -2.8h-6.8M1373.1 564.9v2.8m-3.4 0h6.8m0 -2.8h-6.8M1373.7 563.0v2.8m-3.4 0h6.8m0 -2.8h-6.8M1374.4 563.2v2.8m-3.4 0h6.8m0 -2.8h-6.8M1375.0 563.0v2.8m-3.4 0h6.8m0 -2.8h-6.8M1375.6 563.4v2.8m-3.4 0h6.8m0 -2.8h-6.8M1376.2 563.1v2.8m-3.4 0h6.8m0 -2.8h-6.8M1376.9 562.2v2.8m-3.4 0h6.8m0 -2.8h-6.8M1377.5 561.6v2.8m-3.4 0h6.8m0 -2.8h-6.8M1378.1 563.2v2.8m-3.4 0h6.8m0 -2.8h-6.8M1378.7 564.4v2.8m-3.4 0h6.8m0 -2.8h-6.8M1379.4 562.5v2.8m-3.4 0h6.8m0 -2.8h-6.8M1380.0 563.2v2.8m-3.4 0h6.8m0 -2.8h-6.8M1380.6 563.3v2.8m-3.4 0h6.8m0 -2.8h-6.8M1381.2 563.9v2.8m-3.4 0h6.8m0 -2.8h-6.8M1381.9 562.6v2.8m-3.4 0h6.8m0 -2.8h-6.8M1382.5 564.3v2.8m-3.4 0h6.8m0 -2.8h-6.8M1383.1 564.2v2.8m-3.4 0h6.8m0 -2.8h-6.8M1383.7 566.0v2.8m-3.4 0h6.8m0 -2.8h-6.8M1384.4 565.1v2.8m-3.4 0h6.8m0 -2.8h-6.8M1385.0 565.2v2.8m-3.4 0h6.8m0 -2.8h-6.8M1385.6 564.8v2.8m-3.4 0h6.8m0 -2.8h-6.8M1386.2 564.5v2.8m-3.4 0h6.8m0 -2.8h-6.8M1386.9 565.3v2.8m-3.4 0h6.8m0 -2.8h-6.8M1387.5 563.6v2.8m-3.4 0h6.8m0 -2.8h-6.8M1388.1 565.6v2.8m-3.4 0h6.8m0 -2.8h-6.8M1388.7 565.2v2.8m-3.4 0h6.8m0 -2.8h-6.8M1389.4 564.8v2.8m-3.4 0h6.8m0 -2.8h-6.8M1390.0 565.9v2.8m-3.4 0h6.8m0 -2.8h-6.8M1390.6 564.7v2.8m-3.4 0h6.8m0 -2.8h-6.8M1391.2 564.7v2.8m-3.4 0h6.8m0 -2.8h-6.8M1391.9 565.4v2.8m-3.4 0h6.8m0 -2.8h-6.8M1392.5 564.0v2.8m-3.4 0h6.8m0 -2.8h-6.8M1393.1 565.3v2.8m-3.4 0h6.8m0 -2.8h-6.8M1393.7 565.3v2.8m-3.4 0h6.8m0 -2.8h-6.8M1394.4 566.2v2.8m-3.4 0h6.8m0 -2.8h-6.8M1395.0 566.8v2.8m-3.4 0h6.8m0 -2.8h-6.8M1395.6 566.1v2.8m-3.4 0h6.8m0 -2.8h-6.8M1396.2 565.8v2.8m-3.4 0h6.8m0 -2.8h-6.8M1396.9 565.6v2.8m-3.4 0h6.8m0 -2.8h-6.8M1397.5 564.5v2.8m-3.4 0h6.8m0 -2.8h-6.8M1398.1 566.4v2.8m-3.4 0h6.8m0 -2.8h-6.8M1398.7 565.3v2.8m-3.4 0h6.8m0 -2.8h-6.8M1399.3 565.5v2.8m-3.4 0h6.8m0 -2.8h-6.8M1400.0 563.0v2.8m-3.4 0h6.8m0 -2.8h-6.8M1400.6 564.1v2.8m-3.4 0h6.8m0 -2.8h-6.8M1401.2 563.8v2.8m-3.4 0h6.8m0 -2.8h-6.8M1401.8 563.9v2.8m-3.4 0h6.8m0 -2.8h-6.8M1402.5 562.4v2.8m-3.4 0h6.8m0 -2.8h-6.8M1403.1 563.2v2.8m-3.4 0h6.8m0 -2.8h-6.8M1403.7 562.6v2.8m-3.4 0h6.8m0 -2.8h-6.8M1404.3 564.1v2.8m-3.4 0h6.8m0 -2.8h-6.8M1405.0 561.8v2.8m-3.4 0h6.8m0 -2.8h-6.8M1405.6 562.2v2.8m-3.4 0h6.8m0 -2.8h-6.8M1406.2 562.0v2.8m-3.4 0h6.8m0 -2.8h-6.8M1406.8 561.4v2.8m-3.4 0h6.8m0 -2.8h-6.8M1407.5 562.3v2.8m-3.4 0h6.8m0 -2.8h-6.8M1408.1 562.2v2.8m-3.4 0h6.8m0 -2.8h-6.8M1408.7 561.4v2.8m-3.4 0h6.8m0 -2.8h-6.8M1409.3 561.5v2.8m-3.4 0h6.8m0 -2.8h-6.8M1410.0 561.8v2.8m-3.4 0h6.8m0 -2.8h-6.8M1410.6 561.5v2.8m-3.4 0h6.8m0 -2.8h-6.8M1411.2 561.8v2.8m-3.4 0h6.8m0 -2.8h-6.8M1411.8 560.8v2.8m-3.4 0h6.8m0 -2.8h-6.8M1412.5 560.5v2.8m-3.4 0h6.8m0 -2.8h-6.8M1413.1 561.0v2.8m-3.4 0h6.8m0 -2.8h-6.8M1413.7 559.5v2.8m-3.4 0h6.8m0 -2.8h-6.8M1414.3 561.8v2.8m-3.4 0h6.8m0 -2.8h-6.8M1415.0 560.9v2.8m-3.4 0h6.8m0 -2.8h-6.8M1415.6 559.6v2.8m-3.4 0h6.8m0 -2.8h-6.8M1416.2 561.3v2.8m-3.4 0h6.8m0 -2.8h-6.8M1416.8 562.2v2.8m-3.4 0h6.8m0 -2.8h-6.8M1417.5 560.2v2.8m-3.4 0h6.8m0 -2.8h-6.8M1418.1 560.9v2.8m-3.4 0h6.8m0 -2.8h-6.8M1418.7 562.3v2.8m-3.4 0h6.8m0 -2.8h-6.8M1419.3 561.0v2.8m-3.4 0h6.8m0 -2.8h-6.8M1420.0 562.4v2.8m-3.4 0h6.8m0 -2.8h-6.8M1420.6 562.7v2.8m-3.4 0h6.8m0 -2.8h-6.8M1421.2 562.1v2.8m-3.4 0h6.8m0 -2.8h-6.8M1421.8 562.6v2.8m-3.4 0h6.8m0 -2.8h-6.8M1422.5 563.3v2.8m-3.4 0h6.8m0 -2.8h-6.8M1423.1 563.0v2.8m-3.4 0h6.8m0 -2.8h-6.8M1423.7 563.7v2.8m-3.4 0h6.8m0 -2.8h-6.8M1424.3 563.2v2.8m-3.4 0h6.8m0 -2.8h-6.8M1425.0 563.5v2.8m-3.4 0h6.8m0 -2.8h-6.8M1425.6 563.3v2.8m-3.4 0h6.8m0 -2.8h-6.8M1426.2 564.3v2.8m-3.4 0h6.8m0 -2.8h-6.8M1426.8 565.0v2.8m-3.4 0h6.8m0 -2.8h-6.8M1427.5 565.0v2.8m-3.4 0h6.8m0 -2.8h-6.8M1428.1 564.2v2.8m-3.4 0h6.8m0 -2.8h-6.8M1428.7 563.0v2.8m-3.4 0h6.8m0 -2.8h-6.8M1429.3 563.5v2.8m-3.4 0h6.8m0 -2.8h-6.8M1429.9 564.6v2.8m-3.4 0h6.8m0 -2.8h-6.8M1430.6 563.5v2.8m-3.4 0h6.8m0 -2.8h-6.8M1431.2 565.0v2.8m-3.4 0h6.8m0 -2.8h-6.8M1431.8 563.5v2.8m-3.4 0h6.8m0 -2.8h-6.8M1432.4 564.5v2.8m-3.4 0h6.8m0 -2.8h-6.8M1433.1 563.7v2.8m-3.4 0h6.8m0 -2.8h-6.8M1433.7 563.8v2.8m-3.4 0h6.8m0 -2.8h-6.8M1434.3 564.4v2.8m-3.4 0h6.8m0 -2.8h-6.8M1434.9 564.0v2.8m-3.4 0h6.8m0 -2.8h-6.8M1435.6 564.9v2.8m-3.4 0h6.8m0 -2.8h-6.8M1436.2 564.2v2.8m-3.4 0h6.8m0 -2.8h-6.8M1436.8 563.4v2.8m-3.4 0h6.8m0 -2.8h-6.8M1437.4 561.3v2.8m-3.4 0h6.8m0 -2.8h-6.8M1438.1 563.6v2.8m-3.4 0h6.8m0 -2.8h-6.8M1438.7 564.1v2.8m-3.4 0h6.8m0 -2.8h-6.8M1439.3 564.8v2.8m-3.4 0h6.8m0 -2.8h-6.8M1439.9 563.4v2.8m-3.4 0h6.8m0 -2.8h-6.8M1440.6 565.4v2.8m-3.4 0h6.8m0 -2.8h-6.8M1441.2 564.9v2.8m-3.4 0h6.8m0 -2.8h-6.8M1441.8 564.1v2.8m-3.4 0h6.8m0 -2.8h-6.8M1442.4 565.3v2.8m-3.4 0h6.8m0 -2.8h-6.8M1443.1 563.5v2.8m-3.4 0h6.8m0 -2.8h-6.8M1443.7 563.9v2.8m-3.4 0h6.8m0 -2.8h-6.8M1444.3 565.1v2.8m-3.4 0h6.8m0 -2.8h-6.8M1444.9 565.2v2.8m-3.4 0h6.8m0 -2.8h-6.8M1445.6 565.8v2.8m-3.4 0h6.8m0 -2.8h-6.8M1446.2 565.6v2.8m-3.4 0h6.8m0 -2.8h-6.8M1446.8 563.7v2.8m-3.4 0h6.8m0 -2.8h-6.8M1447.4 562.9v2.8m-3.4 0h6.8m0 -2.8h-6.8M1448.1 562.5v2.8m-3.4 0h6.8m0 -2.8h-6.8M1448.7 561.9v2.8m-3.4 0h6.8m0 -2.8h-6.8M1449.3 561.9v2.8m-3.4 0h6.8m0 -2.8h-6.8M1449.9 560.6v2.8m-3.4 0h6.8m0 -2.8h-6.8M1450.6 561.7v2.8m-3.4 0h6.8m0 -2.8h-6.8M1451.2 560.6v2.8m-3.4 0h6.8m0 -2.8h-6.8M1451.8 559.5v2.8m-3.4 0h6.8m0 -2.8h-6.8M1452.4 559.6v2.8m-3.4 0h6.8m0 -2.8h-6.8M1453.1 560.9v2.8m-3.4 0h6.8m0 -2.8h-6.8M1453.7 560.7v2.8m-3.4 0h6.8m0 -2.8h-6.8M1454.3 559.5v2.8m-3.4 0h6.8m0 -2.8h-6.8M1454.9 559.4v2.8m-3.4 0h6.8m0 -2.8h-6.8M1455.6 562.0v2.8m-3.4 0h6.8m0 -2.8h-6.8M1456.2 561.4v2.8m-3.4 0h6.8m0 -2.8h-6.8M1456.8 561.2v2.8m-3.4 0h6.8m0 -2.8h-6.8M1457.4 560.7v2.8m-3.4 0h6.8m0 -2.8h-6.8M1458.1 562.3v2.8m-3.4 0h6.8m0 -2.8h-6.8M1458.7 561.5v2.8m-3.4 0h6.8m0 -2.8h-6.8M1459.3 562.4v2.8m-3.4 0h6.8m0 -2.8h-6.8M1459.9 560.7v2.8m-3.4 0h6.8m0 -2.8h-6.8M1460.6 562.3v2.8m-3.4 0h6.8m0 -2.8h-6.8M1461.2 562.5v2.8m-3.4 0h6.8m0 -2.8h-6.8M1461.8 562.5v2.8m-3.4 0h6.8m0 -2.8h-6.8M1462.4 561.4v2.8m-3.4 0h6.8m0 -2.8h-6.8M1463.0 561.5v2.8m-3.4 0h6.8m0 -2.8h-6.8M1463.7 562.6v2.8m-3.4 0h6.8m0 -2.8h-6.8M1464.3 561.5v2.8m-3.4 0h6.8m0 -2.8h-6.8M1464.9 562.5v2.8m-3.4 0h6.8m0 -2.8h-6.8M1465.5 561.9v2.8m-3.4 0h6.8m0 -2.8h-6.8M1466.2 562.2v2.8m-3.4 0h6.8m0 -2.8h-6.8M1466.8 562.0v2.8m-3.4 0h6.8m0 -2.8h-6.8M1467.4 561.3v2.8m-3.4 0h6.8m0 -2.8h-6.8M1468.0 561.2v2.8m-3.4 0h6.8m0 -2.8h-6.8M1468.7 559.9v2.8m-3.4 0h6.8m0 -2.8h-6.8M1469.3 559.4v2.8m-3.4 0h6.8m0 -2.8h-6.8M1469.9 559.9v2.8m-3.4 0h6.8m0 -2.8h-6.8M1470.5 560.2v2.8m-3.4 0h6.8m0 -2.8h-6.8M1471.2 558.6v2.8m-3.4 0h6.8m0 -2.8h-6.8M1471.8 560.3v2.8m-3.4 0h6.8m0 -2.8h-6.8M1472.4 560.3v2.8m-3.4 0h6.8m0 -2.8h-6.8M1473.0 558.6v2.8m-3.4 0h6.8m0 -2.8h-6.8M1473.7 558.9v2.8m-3.4 0h6.8m0 -2.8h-6.8M1474.3 558.9v2.8m-3.4 0h6.8m0 -2.8h-6.8M1474.9 559.9v2.8m-3.4 0h6.8m0 -2.8h-6.8M1475.5 560.8v2.8m-3.4 0h6.8m0 -2.8h-6.8M1476.2 560.5v2.8m-3.4 0h6.8m0 -2.8h-6.8M1476.8 560.0v2.8m-3.4 0h6.8m0 -2.8h-6.8M1477.4 561.1v2.8m-3.4 0h6.8m0 -2.8h-6.8M1478.0 561.1v2.8m-3.4 0h6.8m0 -2.8h-6.8M1478.7 561.6v2.8m-3.4 0h6.8m0 -2.8h-6.8M1479.3 561.5v2.8m-3.4 0h6.8m0 -2.8h-6.8M1479.9 560.2v2.8m-3.4 0h6.8m0 -2.8h-6.8M1480.5 560.5v2.8m-3.4 0h6.8m0 -2.8h-6.8M1481.2 561.7v2.8m-3.4 0h6.8m0 -2.8h-6.8M1481.8 561.6v2.8m-3.4 0h6.8m0 -2.8h-6.8M1482.4 561.0v2.8m-3.4 0h6.8m0 -2.8h-6.8M1483.0 560.1v2.8m-3.4 0h6.8m0 -2.8h-6.8M1483.7 561.1v2.8m-3.4 0h6.8m0 -2.8h-6.8M1484.3 560.2v2.8m-3.4 0h6.8m0 -2.8h-6.8M1484.9 561.4v2.8m-3.4 0h6.8m0 -2.8h-6.8M1485.5 560.6v2.8m-3.4 0h6.8m0 -2.8h-6.8M1486.2 559.2v2.8m-3.4 0h6.8m0 -2.8h-6.8M1486.8 558.7v2.8m-3.4 0h6.8m0 -2.8h-6.8M1487.4 560.0v2.8m-3.4 0h6.8m0 -2.8h-6.8M1488.0 559.6v2.8m-3.4 0h6.8m0 -2.8h-6.8M1488.7 558.5v2.8m-3.4 0h6.8m0 -2.8h-6.8M1489.3 559.3v2.8m-3.4 0h6.8m0 -2.8h-6.8M1489.9 559.4v2.8m-3.4 0h6.8m0 -2.8h-6.8M1490.5 558.6v2.8m-3.4 0h6.8m0 -2.8h-6.8M1491.2 558.8v2.8m-3.4 0h6.8m0 -2.8h-6.8M1491.8 558.2v2.8m-3.4 0h6.8m0 -2.8h-6.8M1492.4 558.4v2.8m-3.4 0h6.8m0 -2.8h-6.8M1493.0 559.3v2.8m-3.4 0h6.8m0 -2.8h-6.8M1493.6 559.0v2.8m-3.4 0h6.8m0 -2.8h-6.8M1494.3 559.0v2.8m-3.4 0h6.8m0 -2.8h-6.8M1494.9 560.1v2.8m-3.4 0h6.8m0 -2.8h-6.8M1495.5 560.0v2.8m-3.4 0h6.8m0 -2.8h-6.8M1496.1 558.8v2.8m-3.4 0h6.8m0 -2.8h-6.8M1496.8 560.8v2.8m-3.4 0h6.8m0 -2.8h-6.8M1497.4 559.2v2.8m-3.4 0h6.8m0 -2.8h-6.8M1498.0 559.9v2.8m-3.4 0h6.8m0 -2.8h-6.8M1498.6 559.9v2.8m-3.4 0h6.8m0 -2.8h-6.8M1499.3 559.1v2.8m-3.4 0h6.8m0 -2.8h-6.8M1499.9 558.8v2.8m-3.4 0h6.8m0 -2.8h-6.8M1500.5 558.0v2.8m-3.4 0h6.8m0 -2.8h-6.8M1501.1 558.8v2.8m-3.4 0h6.8m0 -2.8h-6.8M1501.8 558.4v2.8m-3.4 0h6.8m0 -2.8h-6.8M1502.4 558.1v2.8m-3.4 0h6.8m0 -2.8h-6.8M1503.0 556.3v2.8m-3.4 0h6.8m0 -2.8h-6.8M1503.6 556.6v2.8m-3.4 0h6.8m0 -2.8h-6.8M1504.3 557.6v2.8m-3.4 0h6.8m0 -2.8h-6.8M1504.9 557.0v2.8m-3.4 0h6.8m0 -2.8h-6.8M1505.5 557.1v2.8m-3.4 0h6.8m0 -2.8h-6.8M1506.1 556.4v2.8m-3.4 0h6.8m0 -2.8h-6.8M1506.8 556.0v2.8m-3.4 0h6.8m0 -2.8h-6.8M1507.4 554.3v2.8m-3.4 0h6.8m0 -2.8h-6.8M1508.0 557.1v2.8m-3.4 0h6.8m0 -2.8h-6.8M1508.6 554.8v2.8m-3.4 0h6.8m0 -2.8h-6.8M1509.3 555.1v2.8m-3.4 0h6.8m0 -2.8h-6.8M1509.9 555.7v2.8m-3.4 0h6.8m0 -2.8h-6.8M1510.5 555.1v2.8m-3.4 0h6.8m0 -2.8h-6.8M1511.1 555.6v2.8m-3.4 0h6.8m0 -2.8h-6.8M1511.8 555.5v2.8m-3.4 0h6.8m0 -2.8h-6.8M1512.4 555.1v2.8m-3.4 0h6.8m0 -2.8h-6.8M1513.0 557.3v2.8m-3.4 0h6.8m0 -2.8h-6.8M1513.6 555.6v2.8m-3.4 0h6.8m0 -2.8h-6.8M1514.3 557.1v2.8m-3.4 0h6.8m0 -2.8h-6.8M1514.9 556.1v2.8m-3.4 0h6.8m0 -2.8h-6.8M1515.5 557.1v2.8m-3.4 0h6.8m0 -2.8h-6.8M1516.1 556.8v2.8m-3.4 0h6.8m0 -2.8h-6.8M1516.8 557.5v2.8m-3.4 0h6.8m0 -2.8h-6.8M1517.4 557.4v2.8m-3.4 0h6.8m0 -2.8h-6.8M1518.0 558.4v2.8m-3.4 0h6.8m0 -2.8h-6.8M1518.6 559.2v2.8m-3.4 0h6.8m0 -2.8h-6.8M1519.3 558.2v2.8m-3.4 0h6.8m0 -2.8h-6.8M1519.9 557.9v2.8m-3.4 0h6.8m0 -2.8h-6.8M1520.5 556.7v2.8m-3.4 0h6.8m0 -2.8h-6.8M1521.1 559.4v2.8m-3.4 0h6.8m0 -2.8h-6.8M1521.8 557.9v2.8m-3.4 0h6.8m0 -2.8h-6.8M1522.4 556.7v2.8m-3.4 0h6.8m0 -2.8h-6.8M1523.0 558.1v2.8m-3.4 0h6.8m0 -2.8h-6.8M1523.6 557.2v2.8m-3.4 0h6.8m0 -2.8h-6.8M1524.2 555.3v2.8m-3.4 0h6.8m0 -2.8h-6.8M1524.9 555.6v2.8m-3.4 0h6.8m0 -2.8h-6.8M1525.5 557.0v2.8m-3.4 0h6.8m0 -2.8h-6.8M1526.1 555.3v2.8m-3.4 0h6.8m0 -2.8h-6.8M1526.7 555.4v2.8m-3.4 0h6.8m0 -2.8h-6.8M1527.4 555.6v2.8m-3.4 0h6.8m0 -2.8h-6.8M1528.0 555.8v2.8m-3.4 0h6.8m0 -2.8h-6.8M1528.6 555.9v2.8m-3.4 0h6.8m0 -2.8h-6.8M1529.2 556.6v2.8m-3.4 0h6.8m0 -2.8h-6.8M1529.9 556.3v2.8m-3.4 0h6.8m0 -2.8h-6.8M1530.5 555.3v2.8m-3.4 0h6.8m0 -2.8h-6.8M1531.1 555.7v2.8m-3.4 0h6.8m0 -2.8h-6.8M1531.7 554.5v2.8m-3.4 0h6.8m0 -2.8h-6.8M1532.4 556.1v2.8m-3.4 0h6.8m0 -2.8h-6.8M1533.0 557.7v2.8m-3.4 0h6.8m0 -2.8h-6.8M1533.6 556.4v2.8m-3.4 0h6.8m0 -2.8h-6.8M1534.2 556.0v2.8m-3.4 0h6.8m0 -2.8h-6.8M1534.9 556.1v2.8m-3.4 0h6.8m0 -2.8h-6.8M1535.5 556.4v2.8m-3.4 0h6.8m0 -2.8h-6.8M1536.1 557.2v2.8m-3.4 0h6.8m0 -2.8h-6.8M1536.7 555.7v2.8m-3.4 0h6.8m0 -2.8h-6.8M1537.4 557.3v2.8m-3.4 0h6.8m0 -2.8h-6.8M1538.0 556.4v2.8m-3.4 0h6.8m0 -2.8h-6.8M1538.6 557.1v2.8m-3.4 0h6.8m0 -2.8h-6.8M1539.2 557.7v2.8m-3.4 0h6.8m0 -2.8h-6.8M1539.9 555.8v2.8m-3.4 0h6.8m0 -2.8h-6.8M1540.5 558.6v2.8m-3.4 0h6.8m0 -2.8h-6.8M1541.1 557.4v2.8m-3.4 0h6.8m0 -2.8h-6.8M1541.7 556.5v2.8m-3.4 0h6.8m0 -2.8h-6.8M1542.4 557.0v2.8m-3.4 0h6.8m0 -2.8h-6.8M1543.0 556.2v2.8m-3.4 0h6.8m0 -2.8h-6.8M1543.6 556.8v2.8m-3.4 0h6.8m0 -2.8h-6.8M1544.2 557.1v2.8m-3.4 0h6.8m0 -2.8h-6.8M1544.9 555.4v2.8m-3.4 0h6.8m0 -2.8h-6.8M1545.5 557.2v2.8m-3.4 0h6.8m0 -2.8h-6.8M1546.1 557.3v2.8m-3.4 0h6.8m0 -2.8h-6.8M1546.7 558.1v2.8m-3.4 0h6.8m0 -2.8h-6.8M1547.4 558.0v2.8m-3.4 0h6.8m0 -2.8h-6.8M1548.0 557.1v2.8m-3.4 0h6.8m0 -2.8h-6.8M1548.6 557.3v2.8m-3.4 0h6.8m0 -2.8h-6.8M1549.2 557.8v2.8m-3.4 0h6.8m0 -2.8h-6.8M1549.9 558.5v2.8m-3.4 0h6.8m0 -2.8h-6.8M1550.5 557.6v2.8m-3.4 0h6.8m0 -2.8h-6.8M1551.1 559.2v2.8m-3.4 0h6.8m0 -2.8h-6.8M1551.7 558.2v2.8m-3.4 0h6.8m0 -2.8h-6.8M1552.4 558.1v2.8m-3.4 0h6.8m0 -2.8h-6.8M1553.0 558.5v2.8m-3.4 0h6.8m0 -2.8h-6.8M1553.6 557.7v2.8m-3.4 0h6.8m0 -2.8h-6.8M1554.2 558.2v2.8m-3.4 0h6.8m0 -2.8h-6.8M1554.8 558.3v2.8m-3.4 0h6.8m0 -2.8h-6.8M1555.5 556.4v2.8m-3.4 0h6.8m0 -2.8h-6.8M1556.1 556.8v2.8m-3.4 0h6.8m0 -2.8h-6.8M1556.7 556.1v2.8m-3.4 0h6.8m0 -2.8h-6.8M1557.3 556.5v2.8m-3.4 0h6.8m0 -2.8h-6.8M1558.0 555.5v2.8m-3.4 0h6.8m0 -2.8h-6.8M1558.6 555.2v2.8m-3.4 0h6.8m0 -2.8h-6.8M1559.2 554.5v2.8m-3.4 0h6.8m0 -2.8h-6.8M1559.8 553.3v2.8m-3.4 0h6.8m0 -2.8h-6.8M1560.5 554.8v2.8m-3.4 0h6.8m0 -2.8h-6.8M1561.1 554.2v2.8m-3.4 0h6.8m0 -2.8h-6.8M1561.7 554.4v2.8m-3.4 0h6.8m0 -2.8h-6.8M1562.3 556.7v2.8m-3.4 0h6.8m0 -2.8h-6.8M1563.0 555.1v2.8m-3.4 0h6.8m0 -2.8h-6.8M1563.6 554.0v2.8m-3.4 0h6.8m0 -2.8h-6.8M1564.2 553.5v2.8m-3.4 0h6.8m0 -2.8h-6.8M1564.8 554.2v2.8m-3.4 0h6.8m0 -2.8h-6.8M1565.5 552.9v2.8m-3.4 0h6.8m0 -2.8h-6.8M1566.1 552.7v2.8m-3.4 0h6.8m0 -2.8h-6.8M1566.7 553.8v2.8m-3.4 0h6.8m0 -2.8h-6.8M1567.3 552.5v2.8m-3.4 0h6.8m0 -2.8h-6.8M1568.0 552.3v2.8m-3.4 0h6.8m0 -2.8h-6.8M1568.6 553.3v2.8m-3.4 0h6.8m0 -2.8h-6.8M1569.2 554.4v2.8m-3.4 0h6.8m0 -2.8h-6.8M1569.8 552.8v2.8m-3.4 0h6.8m0 -2.8h-6.8M1570.5 554.0v2.8m-3.4 0h6.8m0 -2.8h-6.8M1571.1 554.2v2.8m-3.4 0h6.8m0 -2.8h-6.8M1571.7 553.9v2.8m-3.4 0h6.8m0 -2.8h-6.8M1572.3 554.5v2.8m-3.4 0h6.8m0 -2.8h-6.8M1573.0 553.4v2.8m-3.4 0h6.8m0 -2.8h-6.8M1573.6 553.7v2.8m-3.4 0h6.8m0 -2.8h-6.8M1574.2 553.4v2.8m-3.4 0h6.8m0 -2.8h-6.8M1574.8 554.0v2.8m-3.4 0h6.8m0 -2.8h-6.8M1575.5 555.0v2.8m-3.4 0h6.8m0 -2.8h-6.8M1576.1 554.6v2.8m-3.4 0h6.8m0 -2.8h-6.8M1576.7 553.9v2.8m-3.4 0h6.8m0 -2.8h-6.8M1577.3 554.9v2.8m-3.4 0h6.8m0 -2.8h-6.8M1578.0 552.6v2.8m-3.4 0h6.8m0 -2.8h-6.8M1578.6 554.9v2.8m-3.4 0h6.8m0 -2.8h-6.8M1579.2 555.2v2.8m-3.4 0h6.8m0 -2.8h-6.8M1579.8 554.0v2.8m-3.4 0h6.8m0 -2.8h-6.8M1580.5 554.2v2.8m-3.4 0h6.8m0 -2.8h-6.8M1581.1 554.7v2.8m-3.4 0h6.8m0 -2.8h-6.8M1581.7 554.7v2.8m-3.4 0h6.8m0 -2.8h-6.8M1582.3 554.2v2.8m-3.4 0h6.8m0 -2.8h-6.8M1583.0 553.9v2.8m-3.4 0h6.8m0 -2.8h-6.8M1583.6 553.8v2.8m-3.4 0h6.8m0 -2.8h-6.8M1584.2 554.5v2.8m-3.4 0h6.8m0 -2.8h-6.8M1584.8 553.9v2.8m-3.4 0h6.8m0 -2.8h-6.8M1585.5 553.6v2.8m-3.4 0h6.8m0 -2.8h-6.8M1586.1 553.5v2.8m-3.4 0h6.8m0 -2.8h-6.8M1586.7 556.0v2.8m-3.4 0h6.8m0 -2.8h-6.8M1587.3 554.3v2.8m-3.4 0h6.8m0 -2.8h-6.8M1587.9 554.0v2.8m-3.4 0h6.8m0 -2.8h-6.8M1588.6 553.5v2.8m-3.4 0h6.8m0 -2.8h-6.8M1589.2 553.0v2.8m-3.4 0h6.8m0 -2.8h-6.8M1589.8 552.3v2.8m-3.4 0h6.8m0 -2.8h-6.8M1590.4 552.3v2.8m-3.4 0h6.8m0 -2.8h-6.8M1591.1 552.7v2.8m-3.4 0h6.8m0 -2.8h-6.8M1591.7 552.4v2.8m-3.4 0h6.8m0 -2.8h-6.8M1592.3 551.0v2.8m-3.4 0h6.8m0 -2.8h-6.8M1592.9 552.6v2.8m-3.4 0h6.8m0 -2.8h-6.8M1593.6 551.8v2.8m-3.4 0h6.8m0 -2.8h-6.8M1594.2 550.8v2.8m-3.4 0h6.8m0 -2.8h-6.8M1594.8 551.5v2.8m-3.4 0h6.8m0 -2.8h-6.8M1595.4 553.1v2.8m-3.4 0h6.8m0 -2.8h-6.8M1596.1 551.2v2.8m-3.4 0h6.8m0 -2.8h-6.8M1596.7 552.1v2.8m-3.4 0h6.8m0 -2.8h-6.8M1597.3 552.4v2.8m-3.4 0h6.8m0 -2.8h-6.8M1597.9 552.0v2.8m-3.4 0h6.8m0 -2.8h-6.8M1598.6 552.9v2.8m-3.4 0h6.8m0 -2.8h-6.8M1599.2 553.8v2.8m-3.4 0h6.8m0 -2.8h-6.8M1599.8 553.5v2.8m-3.4 0h6.8m0 -2.8h-6.8M1600.4 554.1v2.8m-3.4 0h6.8m0 -2.8h-6.8M1601.1 554.1v2.8m-3.4 0h6.8m0 -2.8h-6.8M1601.7 553.6v2.8m-3.4 0h6.8m0 -2.8h-6.8M1602.3 553.4v2.8m-3.4 0h6.8m0 -2.8h-6.8M1602.9 553.5v2.8m-3.4 0h6.8m0 -2.8h-6.8M1603.6 553.2v2.8m-3.4 0h6.8m0 -2.8h-6.8M1604.2 552.6v2.8m-3.4 0h6.8m0 -2.8h-6.8M1604.8 553.0v2.8m-3.4 0h6.8m0 -2.8h-6.8M1605.4 552.9v2.8m-3.4 0h6.8m0 -2.8h-6.8M1606.1 550.8v2.8m-3.4 0h6.8m0 -2.8h-6.8M1606.7 551.6v2.8m-3.4 0h6.8m0 -2.8h-6.8M1607.3 551.5v2.8m-3.4 0h6.8m0 -2.8h-6.8M1607.9 551.6v2.8m-3.4 0h6.8m0 -2.8h-6.8M1608.6 551.5v2.8m-3.4 0h6.8m0 -2.8h-6.8M1609.2 551.5v2.8m-3.4 0h6.8m0 -2.8h-6.8M1609.8 551.5v2.8m-3.4 0h6.8m0 -2.8h-6.8M1610.4 552.1v2.8m-3.4 0h6.8m0 -2.8h-6.8M1611.1 550.9v2.8m-3.4 0h6.8m0 -2.8h-6.8M1611.7 552.1v2.8m-3.4 0h6.8m0 -2.8h-6.8M1612.3 550.9v2.8m-3.4 0h6.8m0 -2.8h-6.8M1612.9 553.0v2.8m-3.4 0h6.8m0 -2.8h-6.8M1613.6 552.5v2.8m-3.4 0h6.8m0 -2.8h-6.8M1614.2 551.1v2.8m-3.4 0h6.8m0 -2.8h-6.8M1614.8 552.0v2.8m-3.4 0h6.8m0 -2.8h-6.8M1615.4 552.5v2.8m-3.4 0h6.8m0 -2.8h-6.8M1616.1 551.9v2.8m-3.4 0h6.8m0 -2.8h-6.8M1616.7 553.0v2.8m-3.4 0h6.8m0 -2.8h-6.8M1617.3 552.3v2.8m-3.4 0h6.8m0 -2.8h-6.8M1617.9 554.0v2.8m-3.4 0h6.8m0 -2.8h-6.8M1618.5 552.9v2.8m-3.4 0h6.8m0 -2.8h-6.8M1619.2 553.1v2.8m-3.4 0h6.8m0 -2.8h-6.8M1619.8 552.6v2.8m-3.4 0h6.8m0 -2.8h-6.8M1620.4 552.6v2.8m-3.4 0h6.8m0 -2.8h-6.8M1621.0 554.1v2.8m-3.4 0h6.8m0 -2.8h-6.8M1621.7 552.6v2.8m-3.4 0h6.8m0 -2.8h-6.8M1622.3 554.4v2.8m-3.4 0h6.8m0 -2.8h-6.8M1622.9 555.7v2.8m-3.4 0h6.8m0 -2.8h-6.8M1623.5 556.3v2.8m-3.4 0h6.8m0 -2.8h-6.8M1624.2 554.0v2.8m-3.4 0h6.8m0 -2.8h-6.8M1624.8 555.5v2.8m-3.4 0h6.8m0 -2.8h-6.8M1625.4 556.4v2.8m-3.4 0h6.8m0 -2.8h-6.8M1626.0 556.9v2.8m-3.4 0h6.8m0 -2.8h-6.8M1626.7 557.6v2.8m-3.4 0h6.8m0 -2.8h-6.8M1627.3 556.3v2.8m-3.4 0h6.8m0 -2.8h-6.8M1627.9 557.1v2.8m-3.4 0h6.8m0 -2.8h-6.8M1628.5 555.3v2.8m-3.4 0h6.8m0 -2.8h-6.8M1629.2 556.3v2.8m-3.4 0h6.8m0 -2.8h-6.8M1629.8 557.3v2.8m-3.4 0h6.8m0 -2.8h-6.8M1630.4 554.6v2.8m-3.4 0h6.8m0 -2.8h-6.8M1631.0 555.0v2.8m-3.4 0h6.8m0 -2.8h-6.8M1631.7 554.5v2.8m-3.4 0h6.8m0 -2.8h-6.8M1632.3 552.8v2.8m-3.4 0h6.8m0 -2.8h-6.8M1632.9 553.7v2.8m-3.4 0h6.8m0 -2.8h-6.8M1633.5 552.3v2.8m-3.4 0h6.8m0 -2.8h-6.8M1634.2 552.7v2.8m-3.4 0h6.8m0 -2.8h-6.8M1634.8 552.8v2.8m-3.4 0h6.8m0 -2.8h-6.8M1635.4 551.5v2.8m-3.4 0h6.8m0 -2.8h-6.8M1636.0 551.9v2.8m-3.4 0h6.8m0 -2.8h-6.8M1636.7 550.2v2.8m-3.4 0h6.8m0 -2.8h-6.8M1637.3 550.6v2.8m-3.4 0h6.8m0 -2.8h-6.8M1637.9 551.8v2.8m-3.4 0h6.8m0 -2.8h-6.8M1638.5 551.9v2.8m-3.4 0h6.8m0 -2.8h-6.8M1639.2 552.5v2.8m-3.4 0h6.8m0 -2.8h-6.8M1639.8 553.6v2.8m-3.4 0h6.8m0 -2.8h-6.8M1640.4 553.3v2.8m-3.4 0h6.8m0 -2.8h-6.8M1641.0 554.6v2.8m-3.4 0h6.8m0 -2.8h-6.8M1641.7 554.7v2.8m-3.4 0h6.8m0 -2.8h-6.8M1642.3 556.4v2.8m-3.4 0h6.8m0 -2.8h-6.8M1642.9 556.4v2.8m-3.4 0h6.8m0 -2.8h-6.8M1643.5 556.8v2.8m-3.4 0h6.8m0 -2.8h-6.8M1644.2 558.4v2.8m-3.4 0h6.8m0 -2.8h-6.8M1644.8 558.0v2.8m-3.4 0h6.8m0 -2.8h-6.8M1645.4 558.0v2.8m-3.4 0h6.8m0 -2.8h-6.8M1646.0 556.9v2.8m-3.4 0h6.8m0 -2.8h-6.8M1646.7 557.8v2.8m-3.4 0h6.8m0 -2.8h-6.8M1647.3 556.9v2.8m-3.4 0h6.8m0 -2.8h-6.8M1647.9 556.0v2.8m-3.4 0h6.8m0 -2.8h-6.8M1648.5 556.7v2.8m-3.4 0h6.8m0 -2.8h-6.8M1649.1 558.0v2.8m-3.4 0h6.8m0 -2.8h-6.8M1649.8 556.6v2.8m-3.4 0h6.8m0 -2.8h-6.8M1650.4 555.8v2.8m-3.4 0h6.8m0 -2.8h-6.8M1651.0 556.4v2.8m-3.4 0h6.8m0 -2.8h-6.8M1651.6 555.1v2.8m-3.4 0h6.8m0 -2.8h-6.8M1652.3 555.1v2.8m-3.4 0h6.8m0 -2.8h-6.8M1652.9 554.9v2.8m-3.4 0h6.8m0 -2.8h-6.8M1653.5 555.0v2.8m-3.4 0h6.8m0 -2.8h-6.8M1654.1 554.8v2.8m-3.4 0h6.8m0 -2.8h-6.8M1654.8 554.3v2.8m-3.4 0h6.8m0 -2.8h-6.8M1655.4 553.7v2.8m-3.4 0h6.8m0 -2.8h-6.8M1656.0 553.7v2.8m-3.4 0h6.8m0 -2.8h-6.8M1656.6 554.4v2.8m-3.4 0h6.8m0 -2.8h-6.8M1657.3 555.5v2.8m-3.4 0h6.8m0 -2.8h-6.8M1657.9 555.9v2.8m-3.4 0h6.8m0 -2.8h-6.8M1658.5 556.3v2.8m-3.4 0h6.8m0 -2.8h-6.8M1659.1 558.4v2.8m-3.4 0h6.8m0 -2.8h-6.8M1659.8 558.4v2.8m-3.4 0h6.8m0 -2.8h-6.8M1660.4 558.6v2.8m-3.4 0h6.8m0 -2.8h-6.8M1661.0 558.2v2.8m-3.4 0h6.8m0 -2.8h-6.8M1661.6 558.3v2.8m-3.4 0h6.8m0 -2.8h-6.8M1662.3 558.3v2.8m-3.4 0h6.8m0 -2.8h-6.8M1662.9 558.8v2.8m-3.4 0h6.8m0 -2.8h-6.8M1663.5 557.7v2.8m-3.4 0h6.8m0 -2.8h-6.8M1664.1 558.1v2.8m-3.4 0h6.8m0 -2.8h-6.8M1664.8 559.5v2.8m-3.4 0h6.8m0 -2.8h-6.8M1665.4 558.3v2.8m-3.4 0h6.8m0 -2.8h-6.8M1666.0 559.0v2.8m-3.4 0h6.8m0 -2.8h-6.8M1666.6 557.0v2.8m-3.4 0h6.8m0 -2.8h-6.8M1667.3 558.4v2.8m-3.4 0h6.8m0 -2.8h-6.8M1667.9 558.3v2.8m-3.4 0h6.8m0 -2.8h-6.8M1668.5 557.9v2.8m-3.4 0h6.8m0 -2.8h-6.8M1669.1 558.0v2.8m-3.4 0h6.8m0 -2.8h-6.8M1669.8 557.9v2.8m-3.4 0h6.8m0 -2.8h-6.8M1670.4 556.7v2.8m-3.4 0h6.8m0 -2.8h-6.8M1671.0 557.5v2.8m-3.4 0h6.8m0 -2.8h-6.8M1671.6 557.1v2.8m-3.4 0h6.8m0 -2.8h-6.8M1672.3 557.0v2.8m-3.4 0h6.8m0 -2.8h-6.8" fill="none" stroke="#008000" stroke-width="2.0"/>
<path d="M1048.4 572.7h0M1049.0 572.8h0M1049.6 572.2h0M1050.3 572.5h0M1050.9 572.4h0M1051.5 572.3h0M1052.1 572.9h0M1052.8 573.2h0M1053.4 572.1h0M1054.0 572.2h0M1054.6 572.6h0M1055.2 572.8h0M1055.9 570.9h0M1056.5 573.0h0M1057.1 572.6h0M1057.7 572.3h0M1058.4 573.3h0M1059.0 572.4h0M1059.6 571.2h0M1060.2 572.0h0M1060.9 572.3h0M1061.5 572.4h0M1062.1 572.9h0M1062.7 572.4h0M1063.4 573.3h0M1064.0 573.6h0M1064.6 573.2h0M1065.2 572.6h0M1065.9 573.0h0M1066.5 572.7h0M1067.1 574.6h0M1067.7 572.3h0M1068.4 571.5h0M1069.0 572.1h0M1069.6 573.2h0M1070.2 573.5h0M1070.9 572.7h0M1071.5 573.5h0M1072.1 572.3h0M1072.7 573.2h0M1073.4 572.3h0M1074.0 572.1h0M1074.6 574.6h0M1075.2 573.0h0M1075.9 573.8h0M1076.5 574.4h0M1077.1 574.0h0M1077.7 573.5h0M1078.4 572.2h0M1079.0 573.6h0M1079.6 571.4h0M1080.2 570.3h0M1080.9 570.9h0M1081.5 570.5h0M1082.1 570.5h0M1082.7 571.2h0M1083.4 570.3h0M1084.0 570.7h0M1084.6 570.8h0M1085.2 569.8h0M1085.8 571.4h0M1086.5 571.9h0M1087.1 571.3h0M1087.7 573.5h0M1088.3 573.5h0M1089.0 573.1h0M1089.6 573.4h0M1090.2 572.5h0M1090.8 573.4h0M1091.5 572.0h0M1092.1 572.3h0M1092.7 573.0h0M1093.3 573.8h0M1094.0 573.0h0M1094.6 572.8h0M1095.2 574.0h0M1095.8 572.9h0M1096.5 572.6h0M1097.1 572.9h0M1097.7 571.8h0M1098.3 572.0h0M1099.0 573.4h0M1099.6 572.6h0M1100.2 573.2h0M1100.8 572.2h0M1101.5 573.1h0M1102.1 571.8h0M1102.7 572.1h0M1103.3 571.6h0M1104.0 572.3h0M1104.6 573.2h0M1105.2 571.1h0M1105.8 572.7h0M1106.5 571.8h0M1107.1 572.6h0M1107.7 572.6h0M1108.3 571.9h0M1109.0 573.2h0M1109.6 572.6h0M1110.2 574.8h0M1110.8 573.4h0M1111.5 574.4h0M1112.1 574.5h0M1112.7 574.7h0M1113.3 574.7h0M1114.0 573.9h0M1114.6 576.2h0M1115.2 574.8h0M1115.8 575.2h0M1116.5 573.7h0M1117.1 574.7h0M1117.7 573.9h0M1118.3 574.3h0M1118.9 573.3h0M1119.6 572.8h0M1120.2 573.6h0M1120.8 573.0h0M1121.4 573.8h0M1122.1 572.3h0M1122.7 571.7h0M1123.3 572.5h0M1123.9 571.2h0M1124.6 573.3h0M1125.2 572.9h0M1125.8 572.4h0M1126.4 571.6h0M1127.1 571.5h0M1127.7 571.8h0M1128.3 572.1h0M1128.9 571.7h0M1129.6 572.8h0M1130.2 573.6h0M1130.8 573.8h0M1131.4 571.8h0M1132.1 575.2h0M1132.7 574.0h0M1133.3 573.1h0M1133.9 574.1h0M1134.6 575.3h0M1135.2 574.6h0M1135.8 573.7h0M1136.4 573.1h0M1137.1 574.3h0M1137.7 572.9h0M1138.3 572.9h0M1138.9 572.0h0M1139.6 571.5h0M1140.2 572.4h0M1140.8 572.9h0M1141.4 571.3h0M1142.1 570.0h0M1142.7 570.5h0M1143.3 570.6h0M1143.9 569.1h0M1144.6 571.5h0M1145.2 570.1h0M1145.8 571.2h0M1146.4 570.7h0M1147.1 570.7h0M1147.7 569.8h0M1148.3 571.7h0M1148.9 571.5h0M1149.5 572.4h0M1150.2 571.0h0M1150.8 571.8h0M1151.4 571.3h0M1152.0 572.5h0M1152.7 572.2h0M1153.3 571.3h0M1153.9 572.3h0M1154.5 571.9h0M1155.2 572.1h0M1155.8 572.8h0M1156.4 573.8h0M1157.0 572.1h0M1157.7 572.8h0M1158.3 572.4h0M1158.9 574.7h0M1159.5 574.5h0M1160.2 575.1h0M1160.8 574.5h0M1161.4 573.4h0M1162.0 574.0h0M1162.7 574.6h0M1163.3 574.8h0M1163.9 574.6h0M1164.5 574.9h0M1165.2 574.0h0M1165.8 573.7h0M1166.4 574.8h0M1167.0 573.1h0M1167.7 571.4h0M1168.3 572.2h0M1168.9 571.8h0M1169.5 571.9h0M1170.2 571.6h0M1170.8 570.3h0M1171.4 571.0h0M1172.0 571.3h0M1172.7 572.7h0M1173.3 570.9h0M1173.9 571.8h0M1174.5 571.7h0M1175.2 569.8h0M1175.8 569.9h0M1176.4 571.7h0M1177.0 569.6h0M1177.7 569.7h0M1178.3 570.4h0M1178.9 569.2h0M1179.5 570.7h0M1180.1 570.2h0M1180.8 570.2h0M1181.4 570.0h0M1182.0 568.6h0M1182.6 570.1h0M1183.3 570.0h0M1183.9 569.8h0M1184.5 569.0h0M1185.1 569.4h0M1185.8 568.5h0M1186.4 569.6h0M1187.0 570.0h0M1187.6 569.5h0M1188.3 569.1h0M1188.9 569.7h0M1189.5 568.9h0M1190.1 567.8h0M1190.8 569.4h0M1191.4 569.0h0M1192.0 568.0h0M1192.6 569.4h0M1193.3 569.5h0M1193.9 569.6h0M1194.5 568.5h0M1195.1 568.3h0M1195.8 568.7h0M1196.4 568.4h0M1197.0 567.5h0M1197.6 567.6h0M1198.3 569.0h0M1198.9 567.8h0M1199.5 567.5h0M1200.1 566.9h0M1200.8 567.3h0M1201.4 567.4h0M1202.0 567.2h0M1202.6 568.0h0M1203.3 566.7h0M1203.9 567.0h0M1204.5 566.2h0M1205.1 567.1h0M1205.8 566.6h0M1206.4 566.8h0M1207.0 566.7h0M1207.6 565.2h0M1208.3 565.8h0M1208.9 565.0h0M1209.5 565.9h0M1210.1 564.9h0M1210.8 566.4h0M1211.4 565.7h0M1212.0 565.8h0M1212.6 565.2h0M1213.2 565.7h0M1213.9 566.1h0M1214.5 565.5h0M1215.1 566.1h0M1215.7 566.0h0M1216.4 566.0h0M1217.0 566.8h0M1217.6 567.1h0M1218.2 566.8h0M1218.9 567.3h0M1219.5 566.7h0M1220.1 566.2h0M1220.7 566.3h0M1221.4 567.1h0M1222.0 567.7h0M1222.6 566.9h0M1223.2 566.9h0M1223.9 566.1h0M1224.5 567.2h0M1225.1 567.1h0M1225.7 566.5h0M1226.4 567.4h0M1227.0 567.3h0M1227.6 566.2h0M1228.2 566.6h0M1228.9 567.5h0M1229.5 568.0h0M1230.1 569.1h0M1230.7 568.2h0M1231.4 568.7h0M1232.0 568.8h0M1232.6 569.5h0M1233.2 569.3h0M1233.9 569.5h0M1234.5 569.4h0M1235.1 568.7h0M1235.7 569.6h0M1236.4 571.2h0M1237.0 570.9h0M1237.6 571.5h0M1238.2 571.1h0M1238.9 570.3h0M1239.5 570.4h0M1240.1 570.9h0M1240.7 570.2h0M1241.4 570.7h0M1242.0 571.0h0M1242.6 570.9h0M1243.2 570.3h0M1243.8 568.6h0M1244.5 570.4h0M1245.1 568.5h0M1245.7 568.3h0M1246.3 569.2h0M1247.0 569.0h0M1247.6 569.3h0M1248.2 568.8h0M1248.8 568.2h0M1249.5 568.6h0M1250.1 567.8h0M1250.7 567.6h0M1251.3 568.1h0M1252.0 568.2h0M1252.6 568.5h0M1253.2 568.3h0M1253.8 569.5h0M1254.5 568.5h0M1255.1 568.7h0M1255.7 569.5h0M1256.3 567.3h0M1257.0 569.4h0M1257.6 569.2h0M1258.2 568.3h0M1258.8 569.7h0M1259.5 568.8h0M1260.1 569.1h0M1260.7 568.5h0M1261.3 567.8h0M1262.0 567.2h0M1262.6 566.5h0M1263.2 566.5h0M1263.8 566.0h0M1264.5 566.5h0M1265.1 567.5h0M1265.7 566.7h0M1266.3 568.1h0M1267.0 568.5h0M1267.6 567.3h0M1268.2 568.1h0M1268.8 568.7h0M1269.5 568.4h0M1270.1 568.5h0M1270.7 570.3h0M1271.3 569.5h0M1272.0 570.5h0M1272.6 569.7h0M1273.2 570.1h0M1273.8 568.6h0M1274.4 569.2h0M1275.1 570.0h0M1275.7 569.4h0M1276.3 570.1h0M1276.9 569.2h0M1277.6 568.9h0M1278.2 569.2h0M1278.8 570.7h0M1279.4 569.7h0M1280.1 569.1h0M1280.7 569.3h0M1281.3 568.8h0M1281.9 570.7h0M1282.6 569.6h0M1283.2 570.6h0M1283.8 570.2h0M1284.4 570.2h0M1285.1 570.2h0M1285.7 571.3h0M1286.3 570.9h0M1286.9 572.1h0M1287.6 572.5h0M1288.2 571.2h0M1288.8 571.4h0M1289.4 572.2h0M1290.1 571.4h0M1290.7 570.5h0M1291.3 569.1h0M1291.9 569.2h0M1292.6 569.0h0M1293.2 570.5h0M1293.8 569.0h0M1294.4 568.3h0M1295.1 568.0h0M1295.7 567.7h0M1296.3 567.9h0M1296.9 566.2h0M1297.6 566.1h0M1298.2 566.9h0M1298.8 567.5h0M1299.4 565.6h0M1300.1 567.8h0M1300.7 566.8h0M1301.3 566.6h0M1301.9 568.9h0M1302.6 568.3h0M1303.2 568.8h0M1303.8 568.2h0M1304.4 568.3h0M1305.0 567.1h0M1305.7 568.1h0M1306.3 568.3h0M1306.9 567.2h0M1307.5 567.9h0M1308.2 567.7h0M1308.8 565.6h0M1309.4 567.5h0M1310.0 567.0h0M1310.7 566.4h0M1311.3 567.0h0M1311.9 567.5h0M1312.5 565.1h0M1313.2 566.2h0M1313.8 565.8h0M1314.4 565.5h0M1315.0 565.9h0M1315.7 565.9h0M1316.3 564.9h0M1316.9 563.3h0M1317.5 564.4h0M1318.2 564.3h0M1318.8 565.9h0M1319.4 565.0h0M1320.0 566.0h0M1320.7 564.8h0M1321.3 565.7h0M1321.9 565.7h0M1322.5 565.9h0M1323.2 566.4h0M1323.8 567.2h0M1324.4 565.9h0M1325.0 567.5h0M1325.7 567.5h0M1326.3 567.0h0M1326.9 567.4h0M1327.5 566.8h0M1328.2 566.3h0M1328.8 566.9h0M1329.4 567.0h0M1330.0 567.1h0M1330.7 566.6h0M1331.3 568.4h0M1331.9 566.7h0M1332.5 567.4h0M1333.2 567.5h0M1333.8 566.5h0M1334.4 566.6h0M1335.0 565.8h0M1335.7 565.1h0M1336.3 567.3h0M1336.9 565.5h0M1337.5 563.8h0M1338.1 564.3h0M1338.8 563.6h0M1339.4 564.4h0M1340.0 565.4h0M1340.6 565.1h0M1341.3 563.7h0M1341.9 563.4h0M1342.5 564.5h0M1343.1 564.1h0M1343.8 563.8h0M1344.4 565.4h0M1345.0 564.5h0M1345.6 563.3h0M1346.3 563.1h0M1346.9 564.9h0M1347.5 563.6h0M1348.1 565.2h0M1348.8 565.3h0M1349.4 566.2h0M1350.0 563.9h0M1350.6 564.7h0M1351.3 562.7h0M1351.9 564.0h0M1352.5 564.2h0M1353.1 565.6h0M1353.8 563.3h0M1354.4 564.7h0M1355.0 564.6h0M1355.6 566.1h0M1356.3 563.9h0M1356.9 563.9h0M1357.5 565.1h0M1358.1 564.7h0M1358.8 564.6h0M1359.4 564.3h0M1360.0 565.0h0M1360.6 564.0h0M1361.3 565.5h0M1361.9 565.8h0M1362.5 565.9h0M1363.1 567.4h0M1363.8 566.3h0M1364.4 565.2h0M1365.0 565.7h0M1365.6 566.4h0M1366.3 565.5h0M1366.9 567.1h0M1367.5 565.9h0M1368.1 565.3h0M1368.7 565.1h0M1369.4 566.1h0M1370.0 564.8h0M1370.6 564.1h0M1371.2 565.6h0M1371.9 564.7h0M1372.5 566.2h0M1373.1 566.3h0M1373.7 564.4h0M1374.4 564.7h0M1375.0 564.4h0M1375.6 564.8h0M1376.2 564.5h0M1376.9 563.6h0M1377.5 563.1h0M1378.1 564.6h0M1378.7 565.8h0M1379.4 563.9h0M1380.0 564.6h0M1380.6 564.7h0M1381.2 565.3h0M1381.9 564.0h0M1382.5 565.8h0M1383.1 565.6h0M1383.7 567.4h0M1384.4 566.5h0M1385.0 566.6h0M1385.6 566.2h0M1386.2 565.9h0M1386.9 566.8h0M1387.5 565.0h0M1388.1 567.0h0M1388.7 566.6h0M1389.4 566.2h0M1390.0 567.3h0M1390.6 566.1h0M1391.2 566.1h0M1391.9 566.8h0M1392.5 565.4h0M1393.1 566.7h0M1393.7 566.7h0M1394.4 567.6h0M1395.0 568.2h0M1395.6 567.5h0M1396.2 567.2h0M1396.9 567.0h0M1397.5 565.9h0M1398.1 567.8h0M1398.7 566.7h0M1399.3 566.9h0M1400.0 564.4h0M1400.6 565.5h0M1401.2 565.2h0M1401.8 565.4h0M1402.5 563.8h0M1403.1 564.6h0M1403.7 564.0h0M1404.3 565.5h0M1405.0 563.2h0M1405.6 563.6h0M1406.2 563.4h0M1406.8 562.8h0M1407.5 563.7h0M1408.1 563.6h0M1408.7 562.9h0M1409.3 562.9h0M1410.0 563.3h0M1410.6 562.9h0M1411.2 563.2h0M1411.8 562.2h0M1412.5 561.9h0M1413.1 562.4h0M1413.7 560.9h0M1414.3 563.2h0M1415.0 562.3h0M1415.6 561.0h0M1416.2 562.7h0M1416.8 563.6h0M1417.5 561.6h0M1418.1 562.3h0M1418.7 563.7h0M1419.3 562.4h0M1420.0 563.8h0M1420.6 564.2h0M1421.2 563.5h0M1421.8 564.0h0M1422.5 564.7h0M1423.1 564.4h0M1423.7 565.1h0M1424.3 564.6h0M1425.0 564.9h0M1425.6 564.7h0M1426.2 565.7h0M1426.8 566.4h0M1427.5 566.4h0M1428.1 565.6h0M1428.7 564.4h0M1429.3 564.9h0M1429.9 566.0h0M1430.6 564.9h0M1431.2 566.4h0M1431.8 564.9h0M1432.4 565.9h0M1433.1 565.1h0M1433.7 565.2h0M1434.3 565.8h0M1434.9 565.4h0M1435.6 566.3h0M1436.2 565.6h0M1436.8 564.8h0M1437.4 562.7h0M1438.1 565.0h0M1438.7 565.5h0M1439.3 566.2h0M1439.9 564.8h0M1440.6 566.8h0M1441.2 566.3h0M1441.8 565.5h0M1442.4 566.7h0M1443.1 564.9h0M1443.7 565.3h0M1444.3 566.5h0M1444.9 566.6h0M1445.6 567.2h0M1446.2 567.1h0M1446.8 565.1h0M1447.4 564.3h0M1448.1 563.9h0M1448.7 563.3h0M1449.3 563.3h0M1449.9 562.0h0M1450.6 563.1h0M1451.2 562.0h0M1451.8 561.0h0M1452.4 561.0h0M1453.1 562.3h0M1453.7 562.1h0M1454.3 560.9h0M1454.9 560.8h0M1455.6 563.4h0M1456.2 562.8h0M1456.8 562.6h0M1457.4 562.1h0M1458.1 563.7h0M1458.7 562.9h0M1459.3 563.8h0M1459.9 562.1h0M1460.6 563.7h0M1461.2 563.9h0M1461.8 563.9h0M1462.4 562.8h0M1463.0 562.9h0M1463.7 564.0h0M1464.3 562.9h0M1464.9 563.9h0M1465.5 563.3h0M1466.2 563.6h0M1466.8 563.4h0M1467.4 562.7h0M1468.0 562.6h0M1468.7 561.3h0M1469.3 560.8h0M1469.9 561.3h0M1470.5 561.6h0M1471.2 560.0h0M1471.8 561.7h0M1472.4 561.7h0M1473.0 560.0h0M1473.7 560.3h0M1474.3 560.3h0M1474.9 561.3h0M1475.5 562.3h0M1476.2 561.9h0M1476.8 561.4h0M1477.4 562.5h0M1478.0 562.5h0M1478.7 563.0h0M1479.3 562.9h0M1479.9 561.6h0M1480.5 561.9h0M1481.2 563.1h0M1481.8 563.0h0M1482.4 562.4h0M1483.0 561.5h0M1483.7 562.5h0M1484.3 561.6h0M1484.9 562.8h0M1485.5 562.0h0M1486.2 560.6h0M1486.8 560.1h0M1487.4 561.4h0M1488.0 561.0h0M1488.7 559.9h0M1489.3 560.7h0M1489.9 560.8h0M1490.5 560.0h0M1491.2 560.2h0M1491.8 559.6h0M1492.4 559.8h0M1493.0 560.7h0M1493.6 560.4h0M1494.3 560.4h0M1494.9 561.5h0M1495.5 561.4h0M1496.1 560.2h0M1496.8 562.2h0M1497.4 560.6h0M1498.0 561.3h0M1498.6 561.3h0M1499.3 560.5h0M1499.9 560.3h0M1500.5 559.4h0M1501.1 560.2h0M1501.8 559.8h0M1502.4 559.5h0M1503.0 557.7h0M1503.6 558.0h0M1504.3 559.0h0M1504.9 558.4h0M1505.5 558.5h0M1506.1 557.8h0M1506.8 557.4h0M1507.4 555.8h0M1508.0 558.5h0M1508.6 556.2h0M1509.3 556.5h0M1509.9 557.1h0M1510.5 556.5h0M1511.1 557.0h0M1511.8 556.9h0M1512.4 556.6h0M1513.0 558.7h0M1513.6 557.0h0M1514.3 558.5h0M1514.9 557.5h0M1515.5 558.5h0M1516.1 558.2h0M1516.8 558.9h0M1517.4 558.8h0M1518.0 559.8h0M1518.6 560.6h0M1519.3 559.6h0M1519.9 559.3h0M1520.5 558.1h0M1521.1 560.8h0M1521.8 559.3h0M1522.4 558.2h0M1523.0 559.6h0M1523.6 558.6h0M1524.2 556.7h0M1524.9 557.0h0M1525.5 558.4h0M1526.1 556.7h0M1526.7 556.8h0M1527.4 557.0h0M1528.0 557.3h0M1528.6 557.3h0M1529.2 558.0h0M1529.9 557.7h0M1530.5 556.7h0M1531.1 557.1h0M1531.7 555.9h0M1532.4 557.5h0M1533.0 559.1h0M1533.6 557.8h0M1534.2 557.5h0M1534.9 557.5h0M1535.5 557.8h0M1536.1 558.6h0M1536.7 557.1h0M1537.4 558.7h0M1538.0 557.8h0M1538.6 558.5h0M1539.2 559.1h0M1539.9 557.3h0M1540.5 560.0h0M1541.1 558.8h0M1541.7 557.9h0M1542.4 558.4h0M1543.0 557.6h0M1543.6 558.2h0M1544.2 558.5h0M1544.9 556.8h0M1545.5 558.6h0M1546.1 558.7h0M1546.7 559.5h0M1547.4 559.4h0M1548.0 558.5h0M1548.6 558.7h0M1549.2 559.2h0M1549.9 559.9h0M1550.5 559.0h0M1551.1 560.6h0M1551.7 559.6h0M1552.4 559.5h0M1553.0 559.9h0M1553.6 559.1h0M1554.2 559.6h0M1554.8 559.7h0M1555.5 557.8h0M1556.1 558.2h0M1556.7 557.5h0M1557.3 557.9h0M1558.0 556.9h0M1558.6 556.6h0M1559.2 555.9h0M1559.8 554.8h0M1560.5 556.2h0M1561.1 555.7h0M1561.7 555.8h0M1562.3 558.1h0M1563.0 556.5h0M1563.6 555.4h0M1564.2 554.9h0M1564.8 555.6h0M1565.5 554.3h0M1566.1 554.1h0M1566.7 555.2h0M1567.3 553.9h0M1568.0 553.8h0M1568.6 554.7h0M1569.2 555.8h0M1569.8 554.2h0M1570.5 555.4h0M1571.1 555.6h0M1571.7 555.4h0M1572.3 555.9h0M1573.0 554.8h0M1573.6 555.1h0M1574.2 554.9h0M1574.8 555.4h0M1575.5 556.4h0M1576.1 556.0h0M1576.7 555.3h0M1577.3 556.3h0M1578.0 554.0h0M1578.6 556.3h0M1579.2 556.6h0M1579.8 555.4h0M1580.5 555.6h0M1581.1 556.1h0M1581.7 556.1h0M1582.3 555.6h0M1583.0 555.3h0M1583.6 555.2h0M1584.2 555.9h0M1584.8 555.3h0M1585.5 555.0h0M1586.1 554.9h0M1586.7 557.4h0M1587.3 555.7h0M1587.9 555.5h0M1588.6 554.9h0M1589.2 554.4h0M1589.8 553.7h0M1590.4 553.8h0M1591.1 554.1h0M1591.7 553.8h0M1592.3 552.4h0M1592.9 554.0h0M1593.6 553.2h0M1594.2 552.2h0M1594.8 552.9h0M1595.4 554.5h0M1596.1 552.6h0M1596.7 553.5h0M1597.3 553.8h0M1597.9 553.4h0M1598.6 554.3h0M1599.2 555.2h0M1599.8 554.9h0M1600.4 555.6h0M1601.1 555.5h0M1601.7 555.0h0M1602.3 554.8h0M1602.9 554.9h0M1603.6 554.7h0M1604.2 554.0h0M1604.8 554.4h0M1605.4 554.3h0M1606.1 552.2h0M1606.7 553.0h0M1607.3 552.9h0M1607.9 553.0h0M1608.6 552.9h0M1609.2 552.9h0M1609.8 552.9h0M1610.4 553.5h0M1611.1 552.3h0M1611.7 553.5h0M1612.3 552.3h0M1612.9 554.4h0M1613.6 553.9h0M1614.2 552.6h0M1614.8 553.5h0M1615.4 553.9h0M1616.1 553.3h0M1616.7 554.4h0M1617.3 553.7h0M1617.9 555.4h0M1618.5 554.3h0M1619.2 554.5h0M1619.8 554.0h0M1620.4 554.0h0M1621.0 555.5h0M1621.7 554.0h0M1622.3 555.8h0M1622.9 557.1h0M1623.5 557.7h0M1624.2 555.4h0M1624.8 556.9h0M1625.4 557.8h0M1626.0 558.3h0M1626.7 559.0h0M1627.3 557.7h0M1627.9 558.5h0M1628.5 556.7h0M1629.2 557.7h0M1629.8 558.7h0M1630.4 556.0h0M1631.0 556.4h0M1631.7 555.9h0M1632.3 554.2h0M1632.9 555.1h0M1633.5 553.7h0M1634.2 554.1h0M1634.8 554.2h0M1635.4 553.0h0M1636.0 553.3h0M1636.7 551.7h0M1637.3 552.1h0M1637.9 553.2h0M1638.5 553.3h0M1639.2 553.9h0M1639.8 555.0h0M1640.4 554.7h0M1641.0 556.0h0M1641.7 556.1h0M1642.3 557.8h0M1642.9 557.8h0M1643.5 558.2h0M1644.2 559.8h0M1644.8 559.4h0M1645.4 559.4h0M1646.0 558.3h0M1646.7 559.2h0M1647.3 558.3h0M1647.9 557.4h0M1648.5 558.1h0M1649.1 559.4h0M1649.8 558.0h0M1650.4 557.2h0M1651.0 557.8h0M1651.6 556.5h0M1652.3 556.5h0M1652.9 556.3h0M1653.5 556.4h0M1654.1 556.3h0M1654.8 555.7h0M1655.4 555.1h0M1656.0 555.1h0M1656.6 555.8h0M1657.3 556.9h0M1657.9 557.3h0M1658.5 557.7h0M1659.1 559.8h0M1659.8 559.9h0M1660.4 560.0h0M1661.0 559.6h0M1661.6 559.7h0M1662.3 559.7h0M1662.9 560.2h0M1663.5 559.2h0M1664.1 559.5h0M1664.8 560.9h0M1665.4 559.7h0M1666.0 560.4h0M1666.6 558.4h0M1667.3 559.8h0M1667.9 559.7h0M1668.5 559.3h0M1669.1 559.4h0M1669.8 559.3h0M1670.4 558.1h0M1671.0 558.9h0M1671.6 558.5h0M1672.3 558.4h0" stroke="#008000" stroke-width="5.8" stroke-linecap="round" fill="none"/>
<path d="M1029.6 565.8v5.8m-3.4 0h6.8m0 -5.8h-6.8M1042.1 559.5v6.7m-3.4 0h6.8m0 -6.7h-6.8M1054.6 555.3v7.3m-3.4 0h6.8m0 -7.3h-6.8M1067.1 550.3v8.1m-3.4 0h6.8m0 -8.1h-6.8M1079.6 552.8v7.7m-3.4 0h6.8m0 -7.7h-6.8M1092.1 553.8v7.6m-3.4 0h6.8m0 -7.6h-6.8M1104.6 548.3v8.4m-3.4 0h6.8m0 -8.4h-6.8M1117.1 551.3v7.9m-3.4 0h6.8m0 -7.9h-6.8M1129.6 551.3v7.9m-3.4 0h6.8m0 -7.9h-6.8M1142.1 551.3v7.9m-3.4 0h6.8m0 -7.9h-6.8M1154.5 552.8v7.7m-3.4 0h6.8m0 -7.7h-6.8M1167.0 551.3v7.9m-3.4 0h6.8m0 -7.9h-6.8M1179.5 554.5v7.4m-3.4 0h6.8m0 -7.4h-6.8M1192.0 555.3v7.3m-3.4 0h6.8m0 -7.3h-6.8M1204.5 553.8v7.6m-3.4 0h6.8m0 -7.6h-6.8M1217.0 555.3v7.3m-3.4 0h6.8m0 -7.3h-6.8M1229.5 555.3v7.3m-3.4 0h6.8m0 -7.3h-6.8M1242.0 556.3v7.2m-3.4 0h6.8m0 -7.2h-6.8M1254.5 556.3v7.2m-3.4 0h6.8m0 -7.2h-6.8M1267.0 558.8v6.8m-3.4 0h6.8m0 -6.8h-6.8M1279.4 558.8v6.8m-3.4 0h6.8m0 -6.8h-6.8M1291.9 558.8v6.8m-3.4 0h6.8m0 -6.8h-6.8M1304.4 562.8v6.2m-3.4 0h6.8m0 -6.2h-6.8M1316.9 561.3v6.4m-3.4 0h6.8m0 -6.4h-6.8M1329.4 563.8v6.1m-3.4 0h6.8m0 -6.1h-6.8M1341.9 563.3v6.1m-3.4 0h6.8m0 -6.1h-6.8M1354.4 563.3v6.1m-3.4 0h6.8m0 -6.1h-6.8M1366.9 563.8v6.1m-3.4 0h6.8m0 -6.1h-6.8M1379.4 567.2v5.6m-3.4 0h6.8m0 -5.6h-6.8M1391.9 564.6v5.9m-3.4 0h6.8m0 -5.9h-6.8M1404.3 564.6v5.9m-3.4 0h6.8m0 -5.9h-6.8M1416.8 566.7v5.6m-3.4 0h6.8m0 -5.6h-6.8M1429.3 566.7v5.6m-3.4 0h6.8m0 -5.6h-6.8M1441.8 568.5v5.4m-3.4 0h6.8m0 -5.4h-6.8M1454.3 565.9v5.8m-3.4 0h6.8m0 -5.8h-6.8M1466.8 569.0v5.3m-3.4 0h6.8m0 -5.3h-6.8M1479.3 568.5v5.4m-3.4 0h6.8m0 -5.4h-6.8M1491.8 569.8v5.2m-3.4 0h6.8m0 -5.2h-6.8M1504.3 568.5v5.4m-3.4 0h6.8m0 -5.4h-6.8M1516.8 569.8v5.2m-3.4 0h6.8m0 -5.2h-6.8M1529.2 571.1v5.0m-3.4 0h6.8m0 -5.0h-6.8M1541.7 570.3v5.1m-3.4 0h6.8m0 -5.1h-6.8M1554.2 569.3v5.3m-3.4 0h6.8m0 -5.3h-6.8M1566.7 570.6v5.1m-3.4 0h6.8m0 -5.1h-6.8M1579.2 571.9v4.9m-3.4 0h6.8m0 -4.9h-6.8M1591.7 571.1v5.0m-3.4 0h6.8m0 -5.0h-6.8M1604.2 572.4v4.8m-3.4 0h6.8m0 -4.8h-6.8M1616.7 573.7v4.6m-3.4 0h6.8m0 -4.6h-6.8M1629.2 573.7v4.6m-3.4 0h6.8m0 -4.6h-6.8M1641.7 573.7v4.6m-3.4 0h6.8m0 -4.6h-6.8M1654.1 573.7v4.6m-3.4 0h6.8m0 -4.6h-6.8M1666.6 572.9v4.7m-3.4 0h6.8m0 -4.7h-6.8M1679.1 574.5v4.5m-3.4 0h6.8m0 -4.5h-6.8" fill="none" stroke="#ffa500" stroke-width="2.0"/>
<path d="M1029.6 568.7h0M1042.1 562.9h0M1054.6 559.0h0M1067.1 554.3h0M1079.6 556.6h0M1092.1 557.6h0M1104.6 552.5h0M1117.1 555.2h0M1129.6 555.2h0M1142.1 555.2h0M1154.5 556.6h0M1167.0 555.2h0M1179.5 558.3h0M1192.0 559.0h0M1204.5 557.6h0M1217.0 559.0h0M1229.5 559.0h0M1242.0 559.9h0M1254.5 559.9h0M1267.0 562.2h0M1279.4 562.2h0M1291.9 562.2h0M1304.4 565.9h0M1316.9 564.5h0M1329.4 566.8h0M1341.9 566.4h0M1354.4 566.4h0M1366.9 566.8h0M1379.4 570.0h0M1391.9 567.6h0M1404.3 567.6h0M1416.8 569.5h0M1429.3 569.5h0M1441.8 571.2h0M1454.3 568.8h0M1466.8 571.7h0M1479.3 571.2h0M1491.8 572.4h0M1504.3 571.2h0M1516.8 572.4h0M1529.2 573.6h0M1541.7 572.9h0M1554.2 571.9h0M1566.7 573.1h0M1579.2 574.3h0M1591.7 573.6h0M1604.2 574.8h0M1616.7 576.0h0M1629.2 576.0h0M1641.7 576.0h0M1654.1 576.0h0M1666.6 575.3h0M1679.1 576.7h0" stroke="#ffa500" stroke-width="6.0" stroke-linecap="round" fill="none"/>
<path d="M1029.6 112.3 L1031.8 119.9 L1034.0 127.3 L1036.2 134.5 L1038.3 141.5 L1040.5 148.4 L1042.7 155.2 L1044.9 161.8 L1047.0 168.3 L1049.2 174.6 L1051.4 180.8 L1053.5 186.8 L1055.7 192.8 L1057.9 198.6 L1060.1 204.3 L1062.2 209.9 L1064.4 215.3 L1066.6 220.7 L1068.7 225.9 L1070.9 231.1 L1073.1 236.1 L1075.3 241.0 L1077.4 245.9 L1079.6 250.6 L1081.8 255.3 L1083.9 259.9 L1086.1 264.3 L1088.3 268.7 L1090.5 273.1 L1092.6 277.3 L1094.8 281.5 L1097.0 285.5 L1099.2 289.6 L1101.3 293.5 L1103.5 297.4 L1105.7 301.2 L1107.8 304.9 L1110.0 308.5 L1112.2 312.1 L1114.4 315.7 L1116.5 319.2 L1118.7 322.6 L1120.9 325.9 L1123.0 329.2 L1125.2 332.5 L1127.4 335.7 L1129.6 338.8 L1131.7 341.9 L1133.9 344.9 L1136.1 347.9 L1138.3 350.8 L1140.4 353.7 L1142.6 356.5 L1144.8 359.3 L1146.9 362.1 L1149.1 364.8 L1151.3 367.4 L1153.5 370.0 L1155.6 372.6 L1157.8 375.1 L1160.0 377.6 L1162.1 380.1 L1164.3 382.5 L1166.5 384.9 L1168.7 387.2 L1170.8 389.5 L1173.0 391.8 L1175.2 394.1 L1177.4 396.3 L1179.5 398.4 L1181.7 400.6 L1183.9 402.7 L1186.0 404.7 L1188.2 406.8 L1190.4 408.8 L1192.6 410.8 L1194.7 412.7 L1196.9 414.7 L1199.1 416.6 L1201.2 418.4 L1203.4 420.3 L1205.6 422.1 L1207.8 423.9 L1209.9 425.7 L1212.1 427.4 L1214.3 429.1 L1216.5 430.8 L1218.6 432.5 L1220.8 434.1 L1223.0 435.8 L1225.1 437.4 L1227.3 439.0 L1229.5 440.5 L1231.7 442.0 L1233.8 443.6 L1236.0 445.1 L1238.2 446.5 L1240.3 448.0 L1242.5 449.4 L1244.7 450.8 L1246.9 452.2 L1249.0 453.6 L1251.2 455.0 L1253.4 456.3 L1255.6 457.7 L1257.7 459.0 L1259.9 460.3 L1262.1 461.5 L1264.2 462.8 L1266.4 464.0 L1268.6 465.3 L1270.8 466.5 L1272.9 467.7 L1275.1 468.8 L1277.3 470.0 L1279.4 471.2 L1281.6 472.3 L1283.8 473.4 L1286.0 474.5 L1288.1 475.6 L1290.3 476.7 L1292.5 477.8 L1294.7 478.8 L1296.8 479.9 L1299.0 480.9 L1301.2 481.9 L1303.3 482.9 L1305.5 483.9 L1307.7 484.9 L1309.9 485.8 L1312.0 486.8 L1314.2 487.7 L1316.4 488.7 L1318.5 489.6 L1320.7 490.5 L1322.9 491.4 L1325.1 492.3 L1327.2 493.2 L1329.4 494.0 L1331.6 494.9 L1333.7 495.7 L1335.9 496.6 L1338.1 497.4 L1340.3 498.2 L1342.4 499.0 L1344.6 499.8 L1346.8 500.6 L1349.0 501.4 L1351.1 502.2 L1353.3 502.9 L1355.5 503.7 L1357.6 504.4 L1359.8 505.2 L1362.0 505.9 L1364.2 506.6 L1366.3 507.3 L1368.5 508.0 L1370.7 508.7 L1372.8 509.4 L1375.0 510.1 L1377.2 510.8 L1379.4 511.4 L1381.5 512.1 L1383.7 512.7 L1385.9 513.4 L1388.1 514.0 L1390.2 514.6 L1392.4 515.3 L1394.6 515.9 L1396.7 516.5 L1398.9 517.1 L1401.1 517.7 L1403.3 518.3 L1405.4 518.8 L1407.6 519.4 L1409.8 520.0 L1411.9 520.6 L1414.1 521.1 L1416.3 521.7 L1418.5 522.2 L1420.6 522.8 L1422.8 523.3 L1425.0 523.8 L1427.2 524.3 L1429.3 524.9 L1431.5 525.4 L1433.7 525.9 L1435.8 526.4 L1438.0 526.9 L1440.2 527.4 L1442.4 527.8 L1444.5 528.3 L1446.7 528.8 L1448.9 529.3 L1451.0 529.7 L1453.2 530.2 L1455.4 530.7 L1457.6 531.1 L1459.7 531.6 L1461.9 532.0 L1464.1 532.4 L1466.3 532.9 L1468.4 533.3 L1470.6 533.7 L1472.8 534.1 L1474.9 534.6 L1477.1 535.0 L1479.3 535.4 L1481.5 535.8 L1483.6 536.2 L1485.8 536.6 L1488.0 537.0 L1490.1 537.4 L1492.3 537.7 L1494.5 538.1 L1496.7 538.5 L1498.8 538.9 L1501.0 539.2 L1503.2 539.6 L1505.4 540.0 L1507.5 540.3 L1509.7 540.7 L1511.9 541.0 L1514.0 541.4 L1516.2 541.7 L1518.4 542.1 L1520.6 542.4 L1522.7 542.7 L1524.9 543.1 L1527.1 543.4 L1529.2 543.7 L1531.4 544.0 L1533.6 544.3 L1535.8 544.7 L1537.9 545.0 L1540.1 545.3 L1542.3 545.6 L1544.5 545.9 L1546.6 546.2 L1548.8 546.5 L1551.0 546.8 L1553.1 547.1 L1555.3 547.4 L1557.5 547.6 L1559.7 547.9 L1561.8 548.2 L1564.0 548.5 L1566.2 548.8 L1568.3 549.0 L1570.5 549.3 L1572.7 549.6 L1574.9 549.8 L1577.0 550.1 L1579.2 550.4 L1581.4 550.6 L1583.5 550.9 L1585.7 551.1 L1587.9 551.4 L1590.1 551.6 L1592.2 551.9 L1594.4 552.1 L1596.6 552.3 L1598.8 552.6 L1600.9 552.8 L1603.1 553.1 L1605.3 553.3 L1607.4 553.5 L1609.6 553.7 L1611.8 554.0 L1614.0 554.2 L1616.1 554.4 L1618.3 554.6 L1620.5 554.9 L1622.6 555.1 L1624.8 555.3 L1627.0 555.5 L1629.2 555.7 L1631.3 555.9 L1633.5 556.1 L1635.7 556.3 L1637.9 556.5 L1640.0 556.7 L1642.2 556.9 L1644.4 557.1 L1646.5 557.3 L1648.7 557.5 L1650.9 557.7 L1653.1 557.9 L1655.2 558.1 L1657.4 558.3 L1659.6 558.4 L1661.7 558.6 L1663.9 558.8 L1666.1 559.0 L1668.3 559.2 L1670.4 559.3 L1672.6 559.5 L1674.8 559.7 L1677.0 559.9 L1679.1 560.0" fill="none" stroke="#ff0000" stroke-width="2.3" stroke-linejoin="round" stroke-dasharray="8.5 3.7"/>
<path d="M1029.6 564.2 L1031.8 563.8 L1034.0 563.4 L1036.2 563.0 L1038.3 562.7 L1040.5 562.3 L1042.7 562.0 L1044.9 561.6 L1047.0 561.3 L1049.2 561.0 L1051.4 560.7 L1053.5 560.4 L1055.7 560.1 L1057.9 559.8 L1060.1 559.6 L1062.2 559.3 L1064.4 559.1 L1066.6 558.8 L1068.7 558.6 L1070.9 558.4 L1073.1 558.2 L1075.3 558.0 L1077.4 557.8 L1079.6 557.6 L1081.8 557.4 L1083.9 557.2 L1086.1 557.1 L1088.3 556.9 L1090.5 556.8 L1092.6 556.7 L1094.8 556.5 L1097.0 556.4 L1099.2 556.3 L1101.3 556.2 L1103.5 556.1 L1105.7 556.0 L1107.8 555.9 L1110.0 555.8 L1112.2 555.8 L1114.4 555.7 L1116.5 555.7 L1118.7 555.6 L1120.9 555.6 L1123.0 555.5 L1125.2 555.5 L1127.4 555.5 L1129.6 555.4 L1131.7 555.4 L1133.9 555.4 L1136.1 555.4 L1138.3 555.4 L1140.4 555.4 L1142.6 555.4 L1144.8 555.4 L1146.9 555.5 L1149.1 555.5 L1151.3 555.5 L1153.5 555.5 L1155.6 555.6 L1157.8 555.6 L1160.0 555.7 L1162.1 555.7 L1164.3 555.8 L1166.5 555.8 L1168.7 555.9 L1170.8 556.0 L1173.0 556.0 L1175.2 556.1 L1177.4 556.2 L1179.5 556.3 L1181.7 556.4 L1183.9 556.4 L1186.0 556.5 L1188.2 556.6 L1190.4 556.7 L1192.6 556.8 L1194.7 556.9 L1196.9 557.0 L1199.1 557.1 L1201.2 557.2 L1203.4 557.4 L1205.6 557.5 L1207.8 557.6 L1209.9 557.7 L1212.1 557.8 L1214.3 557.9 L1216.5 558.1 L1218.6 558.2 L1220.8 558.3 L1223.0 558.5 L1225.1 558.6 L1227.3 558.7 L1229.5 558.8 L1231.7 559.0 L1233.8 559.1 L1236.0 559.3 L1238.2 559.4 L1240.3 559.5 L1242.5 559.7 L1244.7 559.8 L1246.9 560.0 L1249.0 560.1 L1251.2 560.3 L1253.4 560.4 L1255.6 560.5 L1257.7 560.7 L1259.9 560.8 L1262.1 561.0 L1264.2 561.1 L1266.4 561.3 L1268.6 561.4 L1270.8 561.6 L1272.9 561.7 L1275.1 561.9 L1277.3 562.0 L1279.4 562.2 L1281.6 562.3 L1283.8 562.5 L1286.0 562.6 L1288.1 562.8 L1290.3 562.9 L1292.5 563.1 L1294.7 563.2 L1296.8 563.4 L1299.0 563.5 L1301.2 563.7 L1303.3 563.8 L1305.5 563.9 L1307.7 564.1 L1309.9 564.2 L1312.0 564.4 L1314.2 564.5 L1316.4 564.7 L1318.5 564.8 L1320.7 564.9 L1322.9 565.1 L1325.1 565.2 L1327.2 565.4 L1329.4 565.5 L1331.6 565.6 L1333.7 565.8 L1335.9 565.9 L1338.1 566.0 L1340.3 566.2 L1342.4 566.3 L1344.6 566.4 L1346.8 566.6 L1349.0 566.7 L1351.1 566.8 L1353.3 566.9 L1355.5 567.1 L1357.6 567.2 L1359.8 567.3 L1362.0 567.4 L1364.2 567.5 L1366.3 567.7 L1368.5 567.8 L1370.7 567.9 L1372.8 568.0 L1375.0 568.1 L1377.2 568.2 L1379.4 568.3 L1381.5 568.4 L1383.7 568.5 L1385.9 568.6 L1388.1 568.7 L1390.2 568.8 L1392.4 568.9 L1394.6 569.0 L1396.7 569.1 L1398.9 569.2 L1401.1 569.3 L1403.3 569.4 L1405.4 569.5 L1407.6 569.6 L1409.8 569.7 L1411.9 569.8 L1414.1 569.9 L1416.3 569.9 L1418.5 570.0 L1420.6 570.1 L1422.8 570.2 L1425.0 570.2 L1427.2 570.3 L1429.3 570.4 L1431.5 570.5 L1433.7 570.5 L1435.8 570.6 L1438.0 570.7 L1440.2 570.7 L1442.4 570.8 L1444.5 570.9 L1446.7 570.9 L1448.9 571.0 L1451.0 571.1 L1453.2 571.1 L1455.4 571.2 L1457.6 571.2 L1459.7 571.3 L1461.9 571.3 L1464.1 571.4 L1466.3 571.4 L1468.4 571.5 L1470.6 571.5 L1472.8 571.6 L1474.9 571.6 L1477.1 571.7 L1479.3 571.7 L1481.5 571.8 L1483.6 571.8 L1485.8 571.8 L1488.0 571.9 L1490.1 571.9 L1492.3 572.0 L1494.5 572.0 L1496.7 572.0 L1498.8 572.1 L1501.0 572.1 L1503.2 572.1 L1505.4 572.2 L1507.5 572.2 L1509.7 572.2 L1511.9 572.3 L1514.0 572.3 L1516.2 572.3 L1518.4 572.4 L1520.6 572.4 L1522.7 572.4 L1524.9 572.5 L1527.1 572.5 L1529.2 572.5 L1531.4 572.5 L1533.6 572.6 L1535.8 572.6 L1537.9 572.6 L1540.1 572.7 L1542.3 572.7 L1544.5 572.7 L1546.6 572.8 L1548.8 572.8 L1551.0 572.8 L1553.1 572.9 L1555.3 572.9 L1557.5 572.9 L1559.7 573.0 L1561.8 573.0 L1564.0 573.0 L1566.2 573.1 L1568.3 573.1 L1570.5 573.1 L1572.7 573.2 L1574.9 573.2 L1577.0 573.3 L1579.2 573.3 L1581.4 573.3 L1583.5 573.4 L1585.7 573.4 L1587.9 573.5 L1590.1 573.5 L1592.2 573.6 L1594.4 573.6 L1596.6 573.7 L1598.8 573.7 L1600.9 573.8 L1603.1 573.9 L1605.3 573.9 L1607.4 574.0 L1609.6 574.1 L1611.8 574.1 L1614.0 574.2 L1616.1 574.3 L1618.3 574.3 L1620.5 574.4 L1622.6 574.5 L1624.8 574.6 L1627.0 574.7 L1629.2 574.8 L1631.3 574.9 L1633.5 575.0 L1635.7 575.1 L1637.9 575.2 L1640.0 575.3 L1642.2 575.4 L1644.4 575.5 L1646.5 575.6 L1648.7 575.8 L1650.9 575.9 L1653.1 576.0 L1655.2 576.2 L1657.4 576.3 L1659.6 576.4 L1661.7 576.6 L1663.9 576.7 L1666.1 576.9 L1668.3 577.1 L1670.4 577.2 L1672.6 577.4 L1674.8 577.6 L1677.0 577.8 L1679.1 578.0" fill="none" stroke="#ffa500" stroke-width="2.3" stroke-linejoin="round" stroke-dasharray="8.5 3.7"/>
</g>
<rect x="997.3" y="71.0" width="714.1" height="532.2" fill="none" stroke="#1a1a1a" stroke-width="1.4"/>
<rect x="997.3" y="603.2" width="714.1" height="177.1" fill="none" stroke="#1a1a1a" stroke-width="1.4"/>
<line x1="991.1" y1="581.3" x2="997.3" y2="581.3" stroke="#1a1a1a" stroke-width="1.4" />
<text x="985.6" y="589.7" font-family="'DejaVu Sans', 'Liberation Sans', sans-serif" font-size="20.55" font-weight="normal" text-anchor="end" fill="#1f1f1f" >0</text>
<line x1="991.1" y1="487.4" x2="997.3" y2="487.4" stroke="#1a1a1a" stroke-width="1.4" />
<text x="985.6" y="495.8" font-family="'DejaVu Sans', 'Liberation Sans', sans-serif" font-size="20.55" font-weight="normal" text-anchor="end" fill="#1f1f1f" >20</text>
<line x1="991.1" y1="393.5" x2="997.3" y2="393.5" stroke="#1a1a1a" stroke-width="1.4" />
<text x="985.6" y="401.9" font-family="'DejaVu Sans', 'Liberation Sans', sans-serif" font-size="20.55" font-weight="normal" text-anchor="end" fill="#1f1f1f" >40</text>
<line x1="991.1" y1="299.6" x2="997.3" y2="299.6" stroke="#1a1a1a" stroke-width="1.4" />
<text x="985.6" y="308.0" font-family="'DejaVu Sans', 'Liberation Sans', sans-serif" font-size="20.55" font-weight="normal" text-anchor="end" fill="#1f1f1f" >60</text>
<line x1="991.1" y1="205.7" x2="997.3" y2="205.7" stroke="#1a1a1a" stroke-width="1.4" />
<text x="985.6" y="214.1" font-family="'DejaVu Sans', 'Liberation Sans', sans-serif" font-size="20.55" font-weight="normal" text-anchor="end" fill="#1f1f1f" >80</text>
<line x1="991.1" y1="111.8" x2="997.3" y2="111.8" stroke="#1a1a1a" stroke-width="1.4" />
<text x="985.6" y="120.2" font-family="'DejaVu Sans', 'Liberation Sans', sans-serif" font-size="20.55" font-weight="normal" text-anchor="end" fill="#1f1f1f" >100</text>
<line x1="991.1" y1="633.5" x2="997.3" y2="633.5" stroke="#1a1a1a" stroke-width="1.4" />
<text x="985.6" y="641.9" font-family="'DejaVu Sans', 'Liberation Sans', sans-serif" font-size="20.55" font-weight="normal" text-anchor="end" fill="#1f1f1f" >10</text>
<line x1="991.1" y1="694.0" x2="997.3" y2="694.0" stroke="#1a1a1a" stroke-width="1.4" />
<text x="985.6" y="702.4" font-family="'DejaVu Sans', 'Liberation Sans', sans-serif" font-size="20.55" font-weight="normal" text-anchor="end" fill="#1f1f1f" >0</text>
<line x1="991.1" y1="754.5" x2="997.3" y2="754.5" stroke="#1a1a1a" stroke-width="1.4" />
<text x="985.6" y="762.9" font-family="'DejaVu Sans', 'Liberation Sans', sans-serif" font-size="20.55" font-weight="normal" text-anchor="end" fill="#1f1f1f" >−10</text>
<line x1="1023.4" y1="780.3" x2="1023.4" y2="786.5" stroke="#1a1a1a" stroke-width="1.4" />
<text x="1023.4" y="807.6" font-family="'DejaVu Sans', 'Liberation Sans', sans-serif" font-size="20.55" font-weight="normal" text-anchor="middle" fill="#1f1f1f" >0</text>
<line x1="1148.3" y1="780.3" x2="1148.3" y2="786.5" stroke="#1a1a1a" stroke-width="1.4" />
<text x="1148.3" y="807.6" font-family="'DejaVu Sans', 'Liberation Sans', sans-serif" font-size="20.55" font-weight="normal" text-anchor="middle" fill="#1f1f1f" >1</text>
<line x1="1273.2" y1="780.3" x2="1273.2" y2="786.5" stroke="#1a1a1a" stroke-width="1.4" />
<text x="1273.2" y="807.6" font-family="'DejaVu Sans', 'Liberation Sans', sans-serif" font-size="20.55" font-weight="normal" text-anchor="middle" fill="#1f1f1f" >2</text>
<line x1="1398.1" y1="780.3" x2="1398.1" y2="786.5" stroke="#1a1a1a" stroke-width="1.4" />
<text x="1398.1" y="807.6" font-family="'DejaVu Sans', 'Liberation Sans', sans-serif" font-size="20.55" font-weight="normal" text-anchor="middle" fill="#1f1f1f" >3</text>
<line x1="1523.0" y1="780.3" x2="1523.0" y2="786.5" stroke="#1a1a1a" stroke-width="1.4" />
<text x="1523.0" y="807.6" font-family="'DejaVu Sans', 'Liberation Sans', sans-serif" font-size="20.55" font-weight="normal" text-anchor="middle" fill="#1f1f1f" >4</text>
<line x1="1647.9" y1="780.3" x2="1647.9" y2="786.5" stroke="#1a1a1a" stroke-width="1.4" />
<text x="1647.9" y="807.6" font-family="'DejaVu Sans', 'Liberation Sans', sans-serif" font-size="20.55" font-weight="normal" text-anchor="middle" fill="#1f1f1f" >5</text>
<text x="1094.0" y="837.8" font-family="'DejaVu Sans', 'Liberation Sans', sans-serif" font-size="24.05" font-weight="bold" text-anchor="start" fill="#000" >Distance from Applicator Surface (cm)</text>
<text transform="translate(934.5,338.6) rotate(-90)" font-family="'DejaVu Sans', 'Liberation Sans', sans-serif" font-size="24.05" font-weight="bold" text-anchor="middle">PDD (%)</text>
<text transform="translate(929.8,694.0) rotate(-90)" font-family="'DejaVu Sans', 'Liberation Sans', sans-serif" font-size="24.05" font-weight="bold" text-anchor="middle">% Difference</text>
<text x="1181.6" y="35.0" font-family="'DejaVu Sans', 'Liberation Sans', sans-serif" font-size="24.02" font-weight="bold" text-anchor="start" fill="#000" >Tungsten Filament Shield</text>
<text x="1001.9" y="61.3" font-family="'DejaVu Sans', 'Liberation Sans', sans-serif" font-size="24.02" font-weight="bold" text-anchor="start" fill="#000" >1/2 From Midpoint Ellipsoid Shielded Applicator PDD</text>
<rect x="273.1" y="88.7" width="552.3" height="123.6" rx="4" ry="4" fill="#fff" fill-opacity="0.8" stroke="#d6d6d6" stroke-width="1.4"/>
<circle cx="294.5" cy="102.7" r="2.90" fill="#0000ff"/>
<text x="321.9" y="107.8" font-family="'DejaVu Sans', 'Liberation Sans', sans-serif" font-size="16.0" font-weight="normal" text-anchor="start" fill="#262626" >Unshielded Film</text>
<circle cx="294.5" cy="126.6" r="2.90" fill="#008000"/>
<text x="321.9" y="131.7" font-family="'DejaVu Sans', 'Liberation Sans', sans-serif" font-size="16.0" font-weight="normal" text-anchor="start" fill="#262626" >Shielded Film</text>
<circle cx="294.5" cy="150.5" r="2.90" fill="#ff0000"/>
<text x="321.9" y="155.6" font-family="'DejaVu Sans', 'Liberation Sans', sans-serif" font-size="16.0" font-weight="normal" text-anchor="start" fill="#262626" >Unshielded MC</text>
<circle cx="294.5" cy="174.4" r="2.90" fill="#ffa500"/>
<text x="321.9" y="179.5" font-family="'DejaVu Sans', 'Liberation Sans', sans-serif" font-size="16.0" font-weight="normal" text-anchor="start" fill="#262626" >Shielded MC</text>
<line x1="277.7" y1="196.5" x2="310.6" y2="196.5" stroke="#ff0000" stroke-width="2.2" stroke-dasharray="9.10 3.30"/>
<text x="321.9" y="203.4" font-family="'DejaVu Sans', 'Liberation Sans', sans-serif" font-size="16.0" font-weight="normal" text-anchor="start" fill="#262626" >Fitted Unshielded MC Curve</text>
<line x1="575.2" y1="100.7" x2="606.3" y2="100.7" stroke="#ffa500" stroke-width="2.2" stroke-dasharray="9.10 3.30"/>
<text x="619.2" y="107.8" font-family="'DejaVu Sans', 'Liberation Sans', sans-serif" font-size="16.0" font-weight="normal" text-anchor="start" fill="#262626" >Fitted Shielded MC Curve</text>
<path d="M590.8 118.0V133.6M587.8 118.0h6.0M587.8 133.6h6.0" stroke="#0000ff" stroke-width="1.90" fill="none"/>
<text x="619.2" y="131.7" font-family="'DejaVu Sans', 'Liberation Sans', sans-serif" font-size="16.0" font-weight="normal" text-anchor="start" fill="#262626" >Δ PDD Unshielded Film</text>
<path d="M590.8 141.9V157.5M587.8 141.9h6.0M587.8 157.5h6.0" stroke="#008000" stroke-width="1.90" fill="none"/>
<text x="619.2" y="155.6" font-family="'DejaVu Sans', 'Liberation Sans', sans-serif" font-size="16.0" font-weight="normal" text-anchor="start" fill="#262626" >Δ PDD Shielded Film</text>
<path d="M590.8 165.8V181.4M587.8 165.8h6.0M587.8 181.4h6.0" stroke="#ff0000" stroke-width="1.90" fill="none"/>
<text x="619.2" y="179.5" font-family="'DejaVu Sans', 'Liberation Sans', sans-serif" font-size="16.0" font-weight="normal" text-anchor="start" fill="#262626" >Δ PDD Unshielded MC</text>
<path d="M590.8 189.7V205.3M587.8 189.7h6.0M587.8 205.3h6.0" stroke="#ffa500" stroke-width="1.90" fill="none"/>
<text x="619.2" y="203.4" font-family="'DejaVu Sans', 'Liberation Sans', sans-serif" font-size="16.0" font-weight="normal" text-anchor="start" fill="#262626" >Δ PDD Shielded MC</text>
<rect x="1145.7" y="79.4" width="557.6" height="125.6" rx="4" ry="4" fill="#fff" fill-opacity="0.8" stroke="#d6d6d6" stroke-width="1.4"/>
<circle cx="1168.7" cy="94.0" r="2.92" fill="#0000ff"/>
<text x="1196.8" y="99.1" font-family="'DejaVu Sans', 'Liberation Sans', sans-serif" font-size="16.13" font-weight="normal" text-anchor="start" fill="#262626" >Unshielded Film</text>
<circle cx="1168.7" cy="118.0" r="2.92" fill="#008000"/>
<text x="1196.8" y="123.2" font-family="'DejaVu Sans', 'Liberation Sans', sans-serif" font-size="16.13" font-weight="normal" text-anchor="start" fill="#262626" >Shielded Film</text>
<circle cx="1168.7" cy="142.1" r="2.92" fill="#ff0000"/>
<text x="1196.8" y="147.3" font-family="'DejaVu Sans', 'Liberation Sans', sans-serif" font-size="16.13" font-weight="normal" text-anchor="start" fill="#262626" >Unshielded MC</text>
<circle cx="1168.7" cy="166.2" r="2.92" fill="#ffa500"/>
<text x="1196.8" y="171.3" font-family="'DejaVu Sans', 'Liberation Sans', sans-serif" font-size="16.13" font-weight="normal" text-anchor="start" fill="#262626" >Shielded MC</text>
<line x1="1152.2" y1="188.5" x2="1184.0" y2="188.5" stroke="#ff0000" stroke-width="2.2176" stroke-dasharray="9.17 3.33"/>
<text x="1196.8" y="195.4" font-family="'DejaVu Sans', 'Liberation Sans', sans-serif" font-size="16.13" font-weight="normal" text-anchor="start" fill="#262626" >Fitted Unshielded MC Curve</text>
<line x1="1450.2" y1="91.9" x2="1483.2" y2="91.9" stroke="#ffa500" stroke-width="2.2176" stroke-dasharray="9.17 3.33"/>
<text x="1494.6" y="99.1" font-family="'DejaVu Sans', 'Liberation Sans', sans-serif" font-size="16.13" font-weight="normal" text-anchor="start" fill="#262626" >Fitted Shielded MC Curve</text>
<path d="M1466.7 109.4V125.1M1463.7 109.4h6.0M1463.7 125.1h6.0" stroke="#0000ff" stroke-width="1.92" fill="none"/>
<text x="1494.6" y="123.2" font-family="'DejaVu Sans', 'Liberation Sans', sans-serif" font-size="16.13" font-weight="normal" text-anchor="start" fill="#262626" >Δ PDD Unshielded Film</text>
<path d="M1466.7 133.5V149.2M1463.7 133.5h6.0M1463.7 149.2h6.0" stroke="#008000" stroke-width="1.92" fill="none"/>
<text x="1494.6" y="147.3" font-family="'DejaVu Sans', 'Liberation Sans', sans-serif" font-size="16.13" font-weight="normal" text-anchor="start" fill="#262626" >Δ PDD Shielded Film</text>
<path d="M1466.7 157.5V173.3M1463.7 157.5h6.0M1463.7 173.3h6.0" stroke="#ff0000" stroke-width="1.92" fill="none"/>
<text x="1494.6" y="171.3" font-family="'DejaVu Sans', 'Liberation Sans', sans-serif" font-size="16.13" font-weight="normal" text-anchor="start" fill="#262626" >Δ PDD Unshielded MC</text>
<path d="M1466.7 181.6V197.3M1463.7 181.6h6.0M1463.7 197.3h6.0" stroke="#ffa500" stroke-width="1.92" fill="none"/>
<text x="1494.6" y="195.4" font-family="'DejaVu Sans', 'Liberation Sans', sans-serif" font-size="16.13" font-weight="normal" text-anchor="start" fill="#262626" >Δ PDD Shielded MC</text>
<rect x="360.8" y="724.0" width="466.9" height="52.0" rx="4" ry="4" fill="#fff" fill-opacity="0.8" stroke="#d6d6d6" stroke-width="1.4"/>
<line x1="366.0" y1="735.4" x2="400.5" y2="735.4" stroke="#800080" stroke-width="2.1" />
<text x="411.8" y="742.3" font-family="'DejaVu Sans', 'Liberation Sans', sans-serif" font-size="15.93" font-weight="normal" text-anchor="start" fill="#262626" >Unshielded Applicator Differences (Film - MC fitted)</text>
<line x1="366.0" y1="759.4" x2="400.5" y2="759.4" stroke="#000" stroke-width="2.1" />
<text x="411.8" y="766.3" font-family="'DejaVu Sans', 'Liberation Sans', sans-serif" font-size="15.93" font-weight="normal" text-anchor="start" fill="#262626" >Shielded Applicator Differences (Film - MC fitted)</text>
<rect x="1235.5" y="719.8" width="469.2" height="52.5" rx="4" ry="4" fill="#fff" fill-opacity="0.8" stroke="#d6d6d6" stroke-width="1.4"/>
<line x1="1239.8" y1="731.5" x2="1274.0" y2="731.5" stroke="#800080" stroke-width="2.1" />
<text x="1285.5" y="738.4" font-family="'DejaVu Sans', 'Liberation Sans', sans-serif" font-size="16.05" font-weight="normal" text-anchor="start" fill="#262626" >Unshielded Applicator Differences (Film - MC fitted)</text>
<line x1="1239.8" y1="755.7" x2="1274.0" y2="755.7" stroke="#000" stroke-width="2.1" />
<text x="1285.5" y="762.6" font-family="'DejaVu Sans', 'Liberation Sans', sans-serif" font-size="16.05" font-weight="normal" text-anchor="start" fill="#262626" >Shielded Applicator Differences (Film - MC fitted)</text>
<text x="427.0" y="895.4" font-family="'Liberation Serif', 'Times New Roman', serif" font-size="45" font-weight="normal" text-anchor="start" fill="#000" >(e)</text>
<text x="1286.6" y="892.8" font-family="'Liberation Serif', 'Times New Roman', serif" font-size="45" font-weight="normal" text-anchor="start" fill="#000" >(f)</text>
</svg>
</body></html>
